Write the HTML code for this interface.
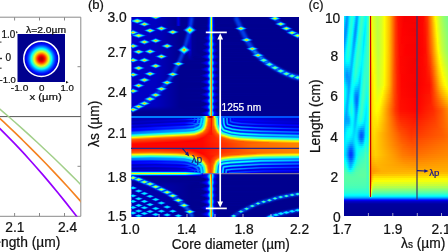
<!DOCTYPE html><html><head><meta charset="utf-8"><title>figure</title><style>html,body{margin:0;padding:0;background:#fff;overflow:hidden}svg{display:block}text{font-family:"Liberation Sans",Arial,sans-serif}</style></head><body>
<svg width="448" height="252" viewBox="0 0 448 252">
<defs>
<clipPath id="cpa"><rect x="0" y="17" width="80.5" height="199.5"/></clipPath>
<linearGradient id="b0"><stop offset="0.003" stop-color="#0000c7"/><stop offset="0.146" stop-color="#0000c1"/><stop offset="0.265" stop-color="#000094"/><stop offset="0.271" stop-color="#0000a6"/><stop offset="0.277" stop-color="#0000cc"/><stop offset="0.283" stop-color="#0000e0"/><stop offset="0.295" stop-color="#0000a0"/><stop offset="0.301" stop-color="#000092"/><stop offset="0.330" stop-color="#000093"/><stop offset="0.342" stop-color="#0000b7"/><stop offset="0.348" stop-color="#0000cb"/><stop offset="0.354" stop-color="#0000c5"/><stop offset="0.366" stop-color="#000098"/><stop offset="0.396" stop-color="#00008f"/><stop offset="0.449" stop-color="#00008f"/><stop offset="0.455" stop-color="#0000a0"/><stop offset="0.461" stop-color="#0000cc"/><stop offset="0.467" stop-color="#002eff"/><stop offset="0.473" stop-color="#0ffff0"/><stop offset="0.479" stop-color="#f4ff0b"/><stop offset="0.485" stop-color="#007dff"/><stop offset="0.491" stop-color="#0000e4"/><stop offset="0.497" stop-color="#0000af"/><stop offset="0.503" stop-color="#000090"/><stop offset="0.997" stop-color="#00008f"/></linearGradient>
<linearGradient id="b1"><stop offset="0.003" stop-color="#0000c7"/><stop offset="0.146" stop-color="#0000c1"/><stop offset="0.265" stop-color="#000094"/><stop offset="0.271" stop-color="#0000a6"/><stop offset="0.277" stop-color="#0000cc"/><stop offset="0.283" stop-color="#0000e0"/><stop offset="0.295" stop-color="#0000a0"/><stop offset="0.301" stop-color="#000092"/><stop offset="0.330" stop-color="#000093"/><stop offset="0.342" stop-color="#0000b7"/><stop offset="0.348" stop-color="#0000cb"/><stop offset="0.354" stop-color="#0000c5"/><stop offset="0.366" stop-color="#000098"/><stop offset="0.396" stop-color="#00008f"/><stop offset="0.449" stop-color="#00008f"/><stop offset="0.455" stop-color="#0000a0"/><stop offset="0.461" stop-color="#0000cc"/><stop offset="0.467" stop-color="#002fff"/><stop offset="0.473" stop-color="#12ffed"/><stop offset="0.479" stop-color="#f7ff08"/><stop offset="0.485" stop-color="#007eff"/><stop offset="0.491" stop-color="#0000e4"/><stop offset="0.497" stop-color="#0000af"/><stop offset="0.503" stop-color="#000091"/><stop offset="0.997" stop-color="#00008f"/></linearGradient>
<linearGradient id="b2"><stop offset="0.003" stop-color="#0000c7"/><stop offset="0.146" stop-color="#0000c1"/><stop offset="0.265" stop-color="#000094"/><stop offset="0.271" stop-color="#0000a6"/><stop offset="0.277" stop-color="#0000cc"/><stop offset="0.283" stop-color="#0000e0"/><stop offset="0.295" stop-color="#0000a0"/><stop offset="0.301" stop-color="#000092"/><stop offset="0.330" stop-color="#000093"/><stop offset="0.342" stop-color="#0000b7"/><stop offset="0.348" stop-color="#0000cb"/><stop offset="0.354" stop-color="#0000c5"/><stop offset="0.366" stop-color="#000098"/><stop offset="0.396" stop-color="#00008f"/><stop offset="0.449" stop-color="#00008f"/><stop offset="0.455" stop-color="#0000a1"/><stop offset="0.461" stop-color="#0000cd"/><stop offset="0.467" stop-color="#0030ff"/><stop offset="0.473" stop-color="#14ffeb"/><stop offset="0.479" stop-color="#f9ff06"/><stop offset="0.485" stop-color="#007fff"/><stop offset="0.491" stop-color="#0000e4"/><stop offset="0.497" stop-color="#0000af"/><stop offset="0.503" stop-color="#000091"/><stop offset="0.997" stop-color="#00008f"/></linearGradient>
<linearGradient id="b3"><stop offset="0.003" stop-color="#0000c7"/><stop offset="0.146" stop-color="#0000c1"/><stop offset="0.265" stop-color="#000094"/><stop offset="0.271" stop-color="#0000a6"/><stop offset="0.277" stop-color="#0000cc"/><stop offset="0.283" stop-color="#0000e0"/><stop offset="0.295" stop-color="#0000a0"/><stop offset="0.301" stop-color="#000092"/><stop offset="0.330" stop-color="#000093"/><stop offset="0.342" stop-color="#0000b7"/><stop offset="0.348" stop-color="#0000cb"/><stop offset="0.354" stop-color="#0000c5"/><stop offset="0.366" stop-color="#000098"/><stop offset="0.396" stop-color="#00008f"/><stop offset="0.449" stop-color="#00008f"/><stop offset="0.455" stop-color="#0000a1"/><stop offset="0.461" stop-color="#0000cd"/><stop offset="0.467" stop-color="#0031ff"/><stop offset="0.473" stop-color="#17ffe8"/><stop offset="0.479" stop-color="#fcff03"/><stop offset="0.485" stop-color="#0080ff"/><stop offset="0.491" stop-color="#0000e5"/><stop offset="0.497" stop-color="#0000b0"/><stop offset="0.503" stop-color="#000091"/><stop offset="0.997" stop-color="#00008f"/></linearGradient>
<linearGradient id="b4"><stop offset="0.003" stop-color="#0000c7"/><stop offset="0.146" stop-color="#0000c1"/><stop offset="0.265" stop-color="#000094"/><stop offset="0.271" stop-color="#0000a6"/><stop offset="0.277" stop-color="#0000cc"/><stop offset="0.283" stop-color="#0000e0"/><stop offset="0.295" stop-color="#0000a0"/><stop offset="0.301" stop-color="#000092"/><stop offset="0.330" stop-color="#000093"/><stop offset="0.342" stop-color="#0000b7"/><stop offset="0.348" stop-color="#0000cb"/><stop offset="0.354" stop-color="#0000c5"/><stop offset="0.366" stop-color="#000098"/><stop offset="0.396" stop-color="#00008f"/><stop offset="0.449" stop-color="#00008f"/><stop offset="0.455" stop-color="#0000a1"/><stop offset="0.461" stop-color="#0000ce"/><stop offset="0.467" stop-color="#0032ff"/><stop offset="0.473" stop-color="#1affe5"/><stop offset="0.479" stop-color="#feff01"/><stop offset="0.485" stop-color="#0080ff"/><stop offset="0.491" stop-color="#0000e5"/><stop offset="0.497" stop-color="#0000b0"/><stop offset="0.503" stop-color="#000091"/><stop offset="0.997" stop-color="#00008f"/></linearGradient>
<linearGradient id="b5"><stop offset="0.003" stop-color="#0000c7"/><stop offset="0.146" stop-color="#0000c1"/><stop offset="0.265" stop-color="#000094"/><stop offset="0.271" stop-color="#0000a6"/><stop offset="0.277" stop-color="#0000cc"/><stop offset="0.283" stop-color="#0000e0"/><stop offset="0.295" stop-color="#0000a0"/><stop offset="0.301" stop-color="#000092"/><stop offset="0.330" stop-color="#000093"/><stop offset="0.342" stop-color="#0000b7"/><stop offset="0.348" stop-color="#0000cb"/><stop offset="0.354" stop-color="#0000c5"/><stop offset="0.366" stop-color="#000098"/><stop offset="0.396" stop-color="#00008f"/><stop offset="0.449" stop-color="#00008f"/><stop offset="0.455" stop-color="#0000a2"/><stop offset="0.461" stop-color="#0000ce"/><stop offset="0.467" stop-color="#0033ff"/><stop offset="0.473" stop-color="#1cffe3"/><stop offset="0.479" stop-color="#fffd00"/><stop offset="0.485" stop-color="#0081ff"/><stop offset="0.491" stop-color="#0000e6"/><stop offset="0.497" stop-color="#0000b1"/><stop offset="0.503" stop-color="#000092"/><stop offset="0.997" stop-color="#00008f"/></linearGradient>
<linearGradient id="b6"><stop offset="0.003" stop-color="#0000c7"/><stop offset="0.146" stop-color="#0000c1"/><stop offset="0.265" stop-color="#000094"/><stop offset="0.271" stop-color="#0000a6"/><stop offset="0.277" stop-color="#0000cc"/><stop offset="0.283" stop-color="#0000e0"/><stop offset="0.295" stop-color="#0000a0"/><stop offset="0.301" stop-color="#000092"/><stop offset="0.330" stop-color="#000093"/><stop offset="0.342" stop-color="#0000b7"/><stop offset="0.348" stop-color="#0000cb"/><stop offset="0.354" stop-color="#0000c5"/><stop offset="0.366" stop-color="#000098"/><stop offset="0.396" stop-color="#00008f"/><stop offset="0.449" stop-color="#00008f"/><stop offset="0.455" stop-color="#0000a5"/><stop offset="0.461" stop-color="#0000d3"/><stop offset="0.467" stop-color="#0039ff"/><stop offset="0.473" stop-color="#1fffe0"/><stop offset="0.479" stop-color="#fffb00"/><stop offset="0.485" stop-color="#0085ff"/><stop offset="0.491" stop-color="#0000e8"/><stop offset="0.497" stop-color="#0000b3"/><stop offset="0.503" stop-color="#000093"/><stop offset="0.997" stop-color="#00008f"/></linearGradient>
<linearGradient id="b7"><stop offset="0.003" stop-color="#0000c7"/><stop offset="0.146" stop-color="#0000c1"/><stop offset="0.265" stop-color="#000094"/><stop offset="0.271" stop-color="#0000a6"/><stop offset="0.277" stop-color="#0000cc"/><stop offset="0.283" stop-color="#0000e0"/><stop offset="0.295" stop-color="#0000a0"/><stop offset="0.301" stop-color="#000092"/><stop offset="0.330" stop-color="#000093"/><stop offset="0.342" stop-color="#0000b7"/><stop offset="0.348" stop-color="#0000cb"/><stop offset="0.354" stop-color="#0000c5"/><stop offset="0.366" stop-color="#000098"/><stop offset="0.396" stop-color="#00008f"/><stop offset="0.449" stop-color="#000092"/><stop offset="0.455" stop-color="#0000ae"/><stop offset="0.461" stop-color="#0000dc"/><stop offset="0.467" stop-color="#0046ff"/><stop offset="0.473" stop-color="#22ffdd"/><stop offset="0.479" stop-color="#fff900"/><stop offset="0.485" stop-color="#008cff"/><stop offset="0.491" stop-color="#0000ed"/><stop offset="0.497" stop-color="#0000b8"/><stop offset="0.503" stop-color="#000097"/><stop offset="0.527" stop-color="#00008f"/><stop offset="0.997" stop-color="#00008f"/></linearGradient>
<linearGradient id="b8"><stop offset="0.003" stop-color="#0000c7"/><stop offset="0.146" stop-color="#0000c1"/><stop offset="0.265" stop-color="#000094"/><stop offset="0.271" stop-color="#0000a6"/><stop offset="0.277" stop-color="#0000cc"/><stop offset="0.283" stop-color="#0000e0"/><stop offset="0.295" stop-color="#0000a0"/><stop offset="0.301" stop-color="#000092"/><stop offset="0.330" stop-color="#000093"/><stop offset="0.342" stop-color="#0000b7"/><stop offset="0.348" stop-color="#0000cb"/><stop offset="0.354" stop-color="#0000c5"/><stop offset="0.366" stop-color="#000098"/><stop offset="0.396" stop-color="#00008f"/><stop offset="0.443" stop-color="#00008f"/><stop offset="0.449" stop-color="#000097"/><stop offset="0.455" stop-color="#0000b4"/><stop offset="0.461" stop-color="#0000e3"/><stop offset="0.467" stop-color="#004fff"/><stop offset="0.473" stop-color="#24ffdb"/><stop offset="0.479" stop-color="#fff600"/><stop offset="0.485" stop-color="#0091ff"/><stop offset="0.491" stop-color="#0000f0"/><stop offset="0.497" stop-color="#0000bc"/><stop offset="0.503" stop-color="#000099"/><stop offset="0.515" stop-color="#00008f"/><stop offset="0.997" stop-color="#00008f"/></linearGradient>
<linearGradient id="b9"><stop offset="0.003" stop-color="#0000c7"/><stop offset="0.146" stop-color="#0000c1"/><stop offset="0.295" stop-color="#00008f"/><stop offset="0.330" stop-color="#000093"/><stop offset="0.342" stop-color="#0000b7"/><stop offset="0.348" stop-color="#0000cb"/><stop offset="0.354" stop-color="#0000c5"/><stop offset="0.366" stop-color="#000098"/><stop offset="0.396" stop-color="#00008f"/><stop offset="0.449" stop-color="#000095"/><stop offset="0.455" stop-color="#0000b2"/><stop offset="0.461" stop-color="#0000e0"/><stop offset="0.467" stop-color="#004cff"/><stop offset="0.473" stop-color="#27ffd8"/><stop offset="0.479" stop-color="#fff400"/><stop offset="0.485" stop-color="#0090ff"/><stop offset="0.491" stop-color="#0000ef"/><stop offset="0.497" stop-color="#0000bb"/><stop offset="0.503" stop-color="#000098"/><stop offset="0.515" stop-color="#00008f"/><stop offset="0.997" stop-color="#00008f"/></linearGradient>
<linearGradient id="b10"><stop offset="0.003" stop-color="#0000c7"/><stop offset="0.146" stop-color="#0000c1"/><stop offset="0.295" stop-color="#00008f"/><stop offset="0.330" stop-color="#000093"/><stop offset="0.342" stop-color="#0000b7"/><stop offset="0.348" stop-color="#0000cb"/><stop offset="0.354" stop-color="#0000c5"/><stop offset="0.366" stop-color="#000098"/><stop offset="0.396" stop-color="#00008f"/><stop offset="0.449" stop-color="#00008f"/><stop offset="0.455" stop-color="#0000a8"/><stop offset="0.461" stop-color="#0000d6"/><stop offset="0.467" stop-color="#003fff"/><stop offset="0.473" stop-color="#2affd5"/><stop offset="0.479" stop-color="#fff100"/><stop offset="0.485" stop-color="#0089ff"/><stop offset="0.491" stop-color="#0000eb"/><stop offset="0.497" stop-color="#0000b6"/><stop offset="0.503" stop-color="#000095"/><stop offset="0.765" stop-color="#00008f"/><stop offset="0.997" stop-color="#00008f"/></linearGradient>
<linearGradient id="b11"><stop offset="0.003" stop-color="#0000c7"/><stop offset="0.146" stop-color="#0000c1"/><stop offset="0.295" stop-color="#00008f"/><stop offset="0.330" stop-color="#000093"/><stop offset="0.342" stop-color="#0000b7"/><stop offset="0.348" stop-color="#0000cb"/><stop offset="0.354" stop-color="#0000c5"/><stop offset="0.366" stop-color="#000098"/><stop offset="0.396" stop-color="#00008f"/><stop offset="0.449" stop-color="#00008f"/><stop offset="0.455" stop-color="#0000a4"/><stop offset="0.461" stop-color="#0000d1"/><stop offset="0.467" stop-color="#0039ff"/><stop offset="0.473" stop-color="#2dffd2"/><stop offset="0.479" stop-color="#ffef00"/><stop offset="0.485" stop-color="#0086ff"/><stop offset="0.491" stop-color="#0000e9"/><stop offset="0.497" stop-color="#0000b3"/><stop offset="0.503" stop-color="#000094"/><stop offset="0.997" stop-color="#00008f"/></linearGradient>
<linearGradient id="b12"><stop offset="0.003" stop-color="#0000c7"/><stop offset="0.146" stop-color="#0000c1"/><stop offset="0.295" stop-color="#00008f"/><stop offset="0.330" stop-color="#000093"/><stop offset="0.342" stop-color="#0000b7"/><stop offset="0.348" stop-color="#0000cb"/><stop offset="0.354" stop-color="#0000c5"/><stop offset="0.366" stop-color="#000098"/><stop offset="0.396" stop-color="#00008f"/><stop offset="0.449" stop-color="#000093"/><stop offset="0.455" stop-color="#0000b0"/><stop offset="0.461" stop-color="#0000de"/><stop offset="0.467" stop-color="#004aff"/><stop offset="0.473" stop-color="#2fffd0"/><stop offset="0.479" stop-color="#ffed00"/><stop offset="0.485" stop-color="#008fff"/><stop offset="0.491" stop-color="#0000ef"/><stop offset="0.497" stop-color="#0000ba"/><stop offset="0.503" stop-color="#000098"/><stop offset="0.515" stop-color="#00008f"/><stop offset="0.997" stop-color="#00008f"/></linearGradient>
<linearGradient id="b13"><stop offset="0.003" stop-color="#0000c7"/><stop offset="0.146" stop-color="#0000c1"/><stop offset="0.295" stop-color="#00008f"/><stop offset="0.330" stop-color="#000093"/><stop offset="0.342" stop-color="#0000b7"/><stop offset="0.348" stop-color="#0000cb"/><stop offset="0.354" stop-color="#0000c5"/><stop offset="0.366" stop-color="#000098"/><stop offset="0.396" stop-color="#00008f"/><stop offset="0.443" stop-color="#000090"/><stop offset="0.449" stop-color="#0000a4"/><stop offset="0.461" stop-color="#0000f3"/><stop offset="0.467" stop-color="#0067ff"/><stop offset="0.473" stop-color="#32ffcd"/><stop offset="0.479" stop-color="#ffea00"/><stop offset="0.485" stop-color="#009fff"/><stop offset="0.491" stop-color="#0000fa"/><stop offset="0.497" stop-color="#0000c7"/><stop offset="0.503" stop-color="#0000a2"/><stop offset="0.509" stop-color="#00008f"/><stop offset="0.997" stop-color="#00008f"/></linearGradient>
<linearGradient id="b14"><stop offset="0.003" stop-color="#0000c7"/><stop offset="0.146" stop-color="#0000c1"/><stop offset="0.295" stop-color="#00008f"/><stop offset="0.330" stop-color="#000093"/><stop offset="0.342" stop-color="#0000b7"/><stop offset="0.348" stop-color="#0000cb"/><stop offset="0.354" stop-color="#0000c5"/><stop offset="0.366" stop-color="#000098"/><stop offset="0.396" stop-color="#00008f"/><stop offset="0.438" stop-color="#00008f"/><stop offset="0.443" stop-color="#000098"/><stop offset="0.455" stop-color="#0000d4"/><stop offset="0.461" stop-color="#0000ff"/><stop offset="0.467" stop-color="#0079ff"/><stop offset="0.473" stop-color="#35ffca"/><stop offset="0.479" stop-color="#ffe800"/><stop offset="0.485" stop-color="#00a9ff"/><stop offset="0.491" stop-color="#0007ff"/><stop offset="0.503" stop-color="#0000a8"/><stop offset="0.509" stop-color="#000091"/><stop offset="0.997" stop-color="#00008f"/></linearGradient>
<linearGradient id="b15"><stop offset="0.003" stop-color="#0000c7"/><stop offset="0.146" stop-color="#0000c1"/><stop offset="0.295" stop-color="#00008f"/><stop offset="0.330" stop-color="#000093"/><stop offset="0.342" stop-color="#0000b7"/><stop offset="0.348" stop-color="#0000cb"/><stop offset="0.354" stop-color="#0000c5"/><stop offset="0.366" stop-color="#000098"/><stop offset="0.396" stop-color="#00008f"/><stop offset="0.443" stop-color="#000095"/><stop offset="0.449" stop-color="#0000ab"/><stop offset="0.461" stop-color="#0000fa"/><stop offset="0.467" stop-color="#0072ff"/><stop offset="0.473" stop-color="#37ffc8"/><stop offset="0.479" stop-color="#ffe500"/><stop offset="0.485" stop-color="#00a5ff"/><stop offset="0.491" stop-color="#0002ff"/><stop offset="0.497" stop-color="#0000cb"/><stop offset="0.503" stop-color="#0000a6"/><stop offset="0.509" stop-color="#00008f"/><stop offset="0.997" stop-color="#00008f"/></linearGradient>
<linearGradient id="b16"><stop offset="0.003" stop-color="#0000c7"/><stop offset="0.146" stop-color="#0000c1"/><stop offset="0.295" stop-color="#00008f"/><stop offset="0.330" stop-color="#000093"/><stop offset="0.342" stop-color="#0000b7"/><stop offset="0.348" stop-color="#0000cb"/><stop offset="0.354" stop-color="#0000c5"/><stop offset="0.366" stop-color="#000098"/><stop offset="0.396" stop-color="#00008f"/><stop offset="0.443" stop-color="#00008f"/><stop offset="0.449" stop-color="#000099"/><stop offset="0.455" stop-color="#0000b7"/><stop offset="0.461" stop-color="#0000e6"/><stop offset="0.467" stop-color="#0056ff"/><stop offset="0.473" stop-color="#3affc5"/><stop offset="0.479" stop-color="#ffe300"/><stop offset="0.485" stop-color="#0096ff"/><stop offset="0.491" stop-color="#0000f3"/><stop offset="0.497" stop-color="#0000bf"/><stop offset="0.503" stop-color="#00009c"/><stop offset="0.509" stop-color="#00008f"/><stop offset="0.997" stop-color="#00008f"/></linearGradient>
<linearGradient id="b17"><stop offset="0.003" stop-color="#0000c7"/><stop offset="0.146" stop-color="#0000c1"/><stop offset="0.295" stop-color="#00008f"/><stop offset="0.330" stop-color="#000093"/><stop offset="0.342" stop-color="#0000b7"/><stop offset="0.348" stop-color="#0000cb"/><stop offset="0.354" stop-color="#0000c5"/><stop offset="0.366" stop-color="#000098"/><stop offset="0.396" stop-color="#00008f"/><stop offset="0.449" stop-color="#00008f"/><stop offset="0.455" stop-color="#0000a7"/><stop offset="0.461" stop-color="#0000d4"/><stop offset="0.467" stop-color="#003fff"/><stop offset="0.473" stop-color="#3dffc2"/><stop offset="0.479" stop-color="#ffe100"/><stop offset="0.485" stop-color="#008bff"/><stop offset="0.491" stop-color="#0000eb"/><stop offset="0.497" stop-color="#0000b6"/><stop offset="0.503" stop-color="#000095"/><stop offset="0.574" stop-color="#00008f"/><stop offset="0.997" stop-color="#00008f"/></linearGradient>
<linearGradient id="b18"><stop offset="0.003" stop-color="#0000c7"/><stop offset="0.146" stop-color="#0000c1"/><stop offset="0.295" stop-color="#00008f"/><stop offset="0.330" stop-color="#000093"/><stop offset="0.342" stop-color="#0000b7"/><stop offset="0.348" stop-color="#0000cb"/><stop offset="0.354" stop-color="#0000c5"/><stop offset="0.366" stop-color="#000098"/><stop offset="0.396" stop-color="#00008f"/><stop offset="0.449" stop-color="#000095"/><stop offset="0.455" stop-color="#0000b2"/><stop offset="0.461" stop-color="#0000e1"/><stop offset="0.467" stop-color="#0050ff"/><stop offset="0.473" stop-color="#3fffc0"/><stop offset="0.479" stop-color="#ffde00"/><stop offset="0.485" stop-color="#0094ff"/><stop offset="0.491" stop-color="#0000f1"/><stop offset="0.497" stop-color="#0000bd"/><stop offset="0.503" stop-color="#00009a"/><stop offset="0.515" stop-color="#00008f"/><stop offset="0.997" stop-color="#00008f"/></linearGradient>
<linearGradient id="b19"><stop offset="0.003" stop-color="#0000c7"/><stop offset="0.146" stop-color="#0000c1"/><stop offset="0.295" stop-color="#00008f"/><stop offset="0.330" stop-color="#000093"/><stop offset="0.342" stop-color="#0000b7"/><stop offset="0.348" stop-color="#0000cb"/><stop offset="0.354" stop-color="#0000c5"/><stop offset="0.366" stop-color="#000098"/><stop offset="0.396" stop-color="#00008f"/><stop offset="0.438" stop-color="#00008f"/><stop offset="0.443" stop-color="#000099"/><stop offset="0.455" stop-color="#0000d4"/><stop offset="0.461" stop-color="#0000ff"/><stop offset="0.467" stop-color="#007bff"/><stop offset="0.473" stop-color="#42ffbd"/><stop offset="0.479" stop-color="#ffdc00"/><stop offset="0.485" stop-color="#00abff"/><stop offset="0.491" stop-color="#000aff"/><stop offset="0.503" stop-color="#0000a9"/><stop offset="0.509" stop-color="#000092"/><stop offset="0.997" stop-color="#00008f"/></linearGradient>
<linearGradient id="b20"><stop offset="0.003" stop-color="#0000c7"/><stop offset="0.146" stop-color="#0000c1"/><stop offset="0.295" stop-color="#00008f"/><stop offset="0.330" stop-color="#000093"/><stop offset="0.342" stop-color="#0000b7"/><stop offset="0.348" stop-color="#0000cb"/><stop offset="0.354" stop-color="#0000c5"/><stop offset="0.366" stop-color="#000098"/><stop offset="0.396" stop-color="#00008f"/><stop offset="0.432" stop-color="#00008f"/><stop offset="0.443" stop-color="#0000ac"/><stop offset="0.455" stop-color="#0000eb"/><stop offset="0.461" stop-color="#0012ff"/><stop offset="0.467" stop-color="#0097ff"/><stop offset="0.473" stop-color="#45ffba"/><stop offset="0.479" stop-color="#ffd900"/><stop offset="0.485" stop-color="#00bbff"/><stop offset="0.491" stop-color="#0023ff"/><stop offset="0.497" stop-color="#0000de"/><stop offset="0.503" stop-color="#0000b7"/><stop offset="0.509" stop-color="#00009c"/><stop offset="0.515" stop-color="#00008f"/><stop offset="0.997" stop-color="#00008f"/></linearGradient>
<linearGradient id="b21"><stop offset="0.003" stop-color="#0000c7"/><stop offset="0.146" stop-color="#0000c1"/><stop offset="0.295" stop-color="#00008f"/><stop offset="0.330" stop-color="#000093"/><stop offset="0.342" stop-color="#0000b7"/><stop offset="0.348" stop-color="#0000cb"/><stop offset="0.354" stop-color="#0000c5"/><stop offset="0.366" stop-color="#000098"/><stop offset="0.396" stop-color="#00008f"/><stop offset="0.432" stop-color="#00008f"/><stop offset="0.443" stop-color="#0000ab"/><stop offset="0.455" stop-color="#0000e9"/><stop offset="0.461" stop-color="#0010ff"/><stop offset="0.467" stop-color="#0095ff"/><stop offset="0.473" stop-color="#48ffb7"/><stop offset="0.479" stop-color="#ffd700"/><stop offset="0.485" stop-color="#00baff"/><stop offset="0.491" stop-color="#0021ff"/><stop offset="0.497" stop-color="#0000dd"/><stop offset="0.503" stop-color="#0000b6"/><stop offset="0.509" stop-color="#00009b"/><stop offset="0.515" stop-color="#00008f"/><stop offset="0.997" stop-color="#00008f"/></linearGradient>
<linearGradient id="b22"><stop offset="0.003" stop-color="#0000c7"/><stop offset="0.146" stop-color="#0000c1"/><stop offset="0.295" stop-color="#00008f"/><stop offset="0.330" stop-color="#000093"/><stop offset="0.342" stop-color="#0000b7"/><stop offset="0.348" stop-color="#0000cb"/><stop offset="0.354" stop-color="#0000c5"/><stop offset="0.366" stop-color="#000098"/><stop offset="0.396" stop-color="#00008f"/><stop offset="0.443" stop-color="#000095"/><stop offset="0.449" stop-color="#0000ab"/><stop offset="0.461" stop-color="#0000fa"/><stop offset="0.467" stop-color="#0074ff"/><stop offset="0.473" stop-color="#4affb5"/><stop offset="0.479" stop-color="#ffd500"/><stop offset="0.485" stop-color="#00a8ff"/><stop offset="0.491" stop-color="#0006ff"/><stop offset="0.503" stop-color="#0000a7"/><stop offset="0.509" stop-color="#000090"/><stop offset="0.997" stop-color="#00008f"/></linearGradient>
<linearGradient id="b23"><stop offset="0.003" stop-color="#0000c7"/><stop offset="0.146" stop-color="#0000c1"/><stop offset="0.295" stop-color="#00008f"/><stop offset="0.330" stop-color="#000093"/><stop offset="0.342" stop-color="#0000b7"/><stop offset="0.348" stop-color="#0000cb"/><stop offset="0.354" stop-color="#0000c5"/><stop offset="0.366" stop-color="#000098"/><stop offset="0.396" stop-color="#00008f"/><stop offset="0.449" stop-color="#000092"/><stop offset="0.455" stop-color="#0000ad"/><stop offset="0.461" stop-color="#0000dc"/><stop offset="0.467" stop-color="#004bff"/><stop offset="0.473" stop-color="#4dffb2"/><stop offset="0.479" stop-color="#ffd200"/><stop offset="0.485" stop-color="#0093ff"/><stop offset="0.491" stop-color="#0000f0"/><stop offset="0.497" stop-color="#0000bb"/><stop offset="0.503" stop-color="#000099"/><stop offset="0.515" stop-color="#00008f"/><stop offset="0.997" stop-color="#00008f"/></linearGradient>
<linearGradient id="b24"><stop offset="0.003" stop-color="#0000c7"/><stop offset="0.146" stop-color="#0000c1"/><stop offset="0.295" stop-color="#00008f"/><stop offset="0.330" stop-color="#000093"/><stop offset="0.342" stop-color="#0000b7"/><stop offset="0.348" stop-color="#0000cb"/><stop offset="0.354" stop-color="#0000c5"/><stop offset="0.366" stop-color="#000098"/><stop offset="0.396" stop-color="#00008f"/><stop offset="0.449" stop-color="#000094"/><stop offset="0.455" stop-color="#0000b0"/><stop offset="0.461" stop-color="#0000df"/><stop offset="0.467" stop-color="#004fff"/><stop offset="0.473" stop-color="#50ffaf"/><stop offset="0.479" stop-color="#ffd000"/><stop offset="0.485" stop-color="#0095ff"/><stop offset="0.491" stop-color="#0000f2"/><stop offset="0.497" stop-color="#0000bd"/><stop offset="0.503" stop-color="#00009a"/><stop offset="0.515" stop-color="#00008f"/><stop offset="0.997" stop-color="#00008f"/></linearGradient>
<linearGradient id="b25"><stop offset="0.003" stop-color="#0000c7"/><stop offset="0.146" stop-color="#0000c1"/><stop offset="0.295" stop-color="#00008f"/><stop offset="0.330" stop-color="#000093"/><stop offset="0.342" stop-color="#0000b7"/><stop offset="0.348" stop-color="#0000cb"/><stop offset="0.354" stop-color="#0000c5"/><stop offset="0.366" stop-color="#000098"/><stop offset="0.396" stop-color="#00008f"/><stop offset="0.438" stop-color="#00008f"/><stop offset="0.449" stop-color="#0000b6"/><stop offset="0.461" stop-color="#0004ff"/><stop offset="0.467" stop-color="#0083ff"/><stop offset="0.473" stop-color="#52ffad"/><stop offset="0.479" stop-color="#ffcd00"/><stop offset="0.485" stop-color="#00b0ff"/><stop offset="0.491" stop-color="#0012ff"/><stop offset="0.497" stop-color="#0000d4"/><stop offset="0.503" stop-color="#0000ad"/><stop offset="0.509" stop-color="#000094"/><stop offset="0.997" stop-color="#00008f"/></linearGradient>
<linearGradient id="b26"><stop offset="0.003" stop-color="#0000c7"/><stop offset="0.146" stop-color="#0000c1"/><stop offset="0.295" stop-color="#00008f"/><stop offset="0.330" stop-color="#000093"/><stop offset="0.342" stop-color="#0000b7"/><stop offset="0.348" stop-color="#0000cb"/><stop offset="0.354" stop-color="#0000c5"/><stop offset="0.366" stop-color="#000098"/><stop offset="0.396" stop-color="#00008f"/><stop offset="0.426" stop-color="#00008f"/><stop offset="0.438" stop-color="#0000a6"/><stop offset="0.455" stop-color="#0000fa"/><stop offset="0.461" stop-color="#002dff"/><stop offset="0.467" stop-color="#00abff"/><stop offset="0.473" stop-color="#55ffaa"/><stop offset="0.479" stop-color="#ffcb00"/><stop offset="0.485" stop-color="#00c7ff"/><stop offset="0.491" stop-color="#0038ff"/><stop offset="0.497" stop-color="#0000e9"/><stop offset="0.509" stop-color="#0000a5"/><stop offset="0.515" stop-color="#000092"/><stop offset="0.997" stop-color="#00008f"/></linearGradient>
<linearGradient id="b27"><stop offset="0.003" stop-color="#0000c7"/><stop offset="0.146" stop-color="#0000c1"/><stop offset="0.295" stop-color="#00008f"/><stop offset="0.330" stop-color="#000093"/><stop offset="0.342" stop-color="#0000b7"/><stop offset="0.348" stop-color="#0000cb"/><stop offset="0.354" stop-color="#0000c5"/><stop offset="0.366" stop-color="#000098"/><stop offset="0.396" stop-color="#00008f"/><stop offset="0.426" stop-color="#00008f"/><stop offset="0.443" stop-color="#0000c3"/><stop offset="0.455" stop-color="#0001ff"/><stop offset="0.461" stop-color="#0038ff"/><stop offset="0.467" stop-color="#00b2ff"/><stop offset="0.473" stop-color="#58ffa7"/><stop offset="0.479" stop-color="#ffc900"/><stop offset="0.485" stop-color="#00ccff"/><stop offset="0.491" stop-color="#0040ff"/><stop offset="0.497" stop-color="#0000ed"/><stop offset="0.509" stop-color="#0000a9"/><stop offset="0.515" stop-color="#000095"/><stop offset="0.908" stop-color="#00008f"/><stop offset="0.997" stop-color="#00008f"/></linearGradient>
<linearGradient id="b28"><stop offset="0.003" stop-color="#0000c7"/><stop offset="0.146" stop-color="#0000c1"/><stop offset="0.295" stop-color="#00008f"/><stop offset="0.330" stop-color="#000093"/><stop offset="0.342" stop-color="#0000b7"/><stop offset="0.348" stop-color="#0000cb"/><stop offset="0.354" stop-color="#0000c5"/><stop offset="0.366" stop-color="#000098"/><stop offset="0.396" stop-color="#00008f"/><stop offset="0.432" stop-color="#00008f"/><stop offset="0.443" stop-color="#0000aa"/><stop offset="0.455" stop-color="#0000e9"/><stop offset="0.461" stop-color="#0010ff"/><stop offset="0.467" stop-color="#0096ff"/><stop offset="0.473" stop-color="#5affa5"/><stop offset="0.479" stop-color="#ffc600"/><stop offset="0.485" stop-color="#00bbff"/><stop offset="0.491" stop-color="#0024ff"/><stop offset="0.497" stop-color="#0000de"/><stop offset="0.503" stop-color="#0000b7"/><stop offset="0.509" stop-color="#00009b"/><stop offset="0.515" stop-color="#00008f"/><stop offset="0.997" stop-color="#00008f"/></linearGradient>
<linearGradient id="b29"><stop offset="0.003" stop-color="#0000c7"/><stop offset="0.146" stop-color="#0000c1"/><stop offset="0.295" stop-color="#00008f"/><stop offset="0.330" stop-color="#000093"/><stop offset="0.342" stop-color="#0000b7"/><stop offset="0.348" stop-color="#0000cb"/><stop offset="0.354" stop-color="#0000c5"/><stop offset="0.366" stop-color="#000098"/><stop offset="0.396" stop-color="#00008f"/><stop offset="0.443" stop-color="#00008f"/><stop offset="0.449" stop-color="#00009c"/><stop offset="0.455" stop-color="#0000bc"/><stop offset="0.461" stop-color="#0000ea"/><stop offset="0.467" stop-color="#005fff"/><stop offset="0.473" stop-color="#5dffa2"/><stop offset="0.479" stop-color="#ffc400"/><stop offset="0.485" stop-color="#009fff"/><stop offset="0.491" stop-color="#0000f9"/><stop offset="0.497" stop-color="#0000c4"/><stop offset="0.503" stop-color="#0000a0"/><stop offset="0.509" stop-color="#00008f"/><stop offset="0.997" stop-color="#00008f"/></linearGradient>
<linearGradient id="b30"><stop offset="0.003" stop-color="#0000c7"/><stop offset="0.146" stop-color="#0000c1"/><stop offset="0.295" stop-color="#00008f"/><stop offset="0.330" stop-color="#000093"/><stop offset="0.342" stop-color="#0000b7"/><stop offset="0.348" stop-color="#0000cb"/><stop offset="0.354" stop-color="#0000c5"/><stop offset="0.366" stop-color="#000098"/><stop offset="0.396" stop-color="#00008f"/><stop offset="0.449" stop-color="#000092"/><stop offset="0.455" stop-color="#0000ad"/><stop offset="0.461" stop-color="#0000dc"/><stop offset="0.467" stop-color="#004dff"/><stop offset="0.473" stop-color="#60ff9f"/><stop offset="0.479" stop-color="#ffc100"/><stop offset="0.485" stop-color="#0096ff"/><stop offset="0.491" stop-color="#0000f1"/><stop offset="0.497" stop-color="#0000bd"/><stop offset="0.503" stop-color="#00009a"/><stop offset="0.515" stop-color="#00008f"/><stop offset="0.997" stop-color="#00008f"/></linearGradient>
<linearGradient id="b31"><stop offset="0.003" stop-color="#0000c7"/><stop offset="0.146" stop-color="#0000c1"/><stop offset="0.295" stop-color="#00008f"/><stop offset="0.330" stop-color="#000093"/><stop offset="0.342" stop-color="#0000b7"/><stop offset="0.348" stop-color="#0000cb"/><stop offset="0.354" stop-color="#0000c5"/><stop offset="0.366" stop-color="#000098"/><stop offset="0.396" stop-color="#00008f"/><stop offset="0.438" stop-color="#00008f"/><stop offset="0.443" stop-color="#00009b"/><stop offset="0.455" stop-color="#0000d7"/><stop offset="0.461" stop-color="#0003ff"/><stop offset="0.467" stop-color="#0082ff"/><stop offset="0.473" stop-color="#62ff9d"/><stop offset="0.479" stop-color="#ffbf00"/><stop offset="0.485" stop-color="#00b1ff"/><stop offset="0.491" stop-color="#0013ff"/><stop offset="0.497" stop-color="#0000d4"/><stop offset="0.503" stop-color="#0000ad"/><stop offset="0.509" stop-color="#000094"/><stop offset="0.997" stop-color="#00008f"/></linearGradient>
<linearGradient id="b32"><stop offset="0.003" stop-color="#0000c7"/><stop offset="0.146" stop-color="#0000c1"/><stop offset="0.295" stop-color="#00008f"/><stop offset="0.330" stop-color="#000093"/><stop offset="0.342" stop-color="#0000b7"/><stop offset="0.348" stop-color="#0000cb"/><stop offset="0.354" stop-color="#0000c5"/><stop offset="0.366" stop-color="#000098"/><stop offset="0.396" stop-color="#00008f"/><stop offset="0.426" stop-color="#000091"/><stop offset="0.443" stop-color="#0000c7"/><stop offset="0.455" stop-color="#0003ff"/><stop offset="0.461" stop-color="#003eff"/><stop offset="0.467" stop-color="#00b7ff"/><stop offset="0.473" stop-color="#65ff9a"/><stop offset="0.479" stop-color="#ffbd00"/><stop offset="0.485" stop-color="#00cfff"/><stop offset="0.491" stop-color="#0045ff"/><stop offset="0.497" stop-color="#0000f0"/><stop offset="0.509" stop-color="#0000ab"/><stop offset="0.515" stop-color="#000097"/><stop offset="0.533" stop-color="#00008f"/><stop offset="0.997" stop-color="#00008f"/></linearGradient>
<linearGradient id="b33"><stop offset="0.003" stop-color="#0000c7"/><stop offset="0.146" stop-color="#0000c1"/><stop offset="0.295" stop-color="#00008f"/><stop offset="0.330" stop-color="#000093"/><stop offset="0.342" stop-color="#0000b7"/><stop offset="0.348" stop-color="#0000cb"/><stop offset="0.354" stop-color="#0000c5"/><stop offset="0.366" stop-color="#000098"/><stop offset="0.396" stop-color="#00008f"/><stop offset="0.420" stop-color="#000092"/><stop offset="0.438" stop-color="#0000c0"/><stop offset="0.449" stop-color="#0000f4"/><stop offset="0.455" stop-color="#0010ff"/><stop offset="0.461" stop-color="#005aff"/><stop offset="0.467" stop-color="#00c8ff"/><stop offset="0.473" stop-color="#68ff97"/><stop offset="0.479" stop-color="#ffba00"/><stop offset="0.485" stop-color="#00d9ff"/><stop offset="0.491" stop-color="#005aff"/><stop offset="0.497" stop-color="#0000fa"/><stop offset="0.509" stop-color="#0000b7"/><stop offset="0.521" stop-color="#000091"/><stop offset="0.997" stop-color="#00008f"/></linearGradient>
<linearGradient id="b34"><stop offset="0.003" stop-color="#0000c7"/><stop offset="0.146" stop-color="#0000c1"/><stop offset="0.295" stop-color="#00008f"/><stop offset="0.330" stop-color="#000093"/><stop offset="0.342" stop-color="#0000b7"/><stop offset="0.348" stop-color="#0000cb"/><stop offset="0.354" stop-color="#0000c5"/><stop offset="0.366" stop-color="#000098"/><stop offset="0.396" stop-color="#00008f"/><stop offset="0.426" stop-color="#000090"/><stop offset="0.443" stop-color="#0000c5"/><stop offset="0.455" stop-color="#0002ff"/><stop offset="0.461" stop-color="#003bff"/><stop offset="0.467" stop-color="#00b5ff"/><stop offset="0.473" stop-color="#6bff94"/><stop offset="0.479" stop-color="#ffb800"/><stop offset="0.485" stop-color="#00ceff"/><stop offset="0.491" stop-color="#0044ff"/><stop offset="0.497" stop-color="#0000ef"/><stop offset="0.509" stop-color="#0000ab"/><stop offset="0.515" stop-color="#000096"/><stop offset="0.545" stop-color="#00008f"/><stop offset="0.997" stop-color="#00008f"/></linearGradient>
<linearGradient id="b35"><stop offset="0.003" stop-color="#0000c7"/><stop offset="0.146" stop-color="#0000c1"/><stop offset="0.295" stop-color="#00008f"/><stop offset="0.330" stop-color="#000092"/><stop offset="0.342" stop-color="#0000b5"/><stop offset="0.348" stop-color="#0000c8"/><stop offset="0.354" stop-color="#0000c2"/><stop offset="0.366" stop-color="#000098"/><stop offset="0.402" stop-color="#00008f"/><stop offset="0.438" stop-color="#00008f"/><stop offset="0.443" stop-color="#000098"/><stop offset="0.455" stop-color="#0000d2"/><stop offset="0.461" stop-color="#0000fe"/><stop offset="0.467" stop-color="#007dff"/><stop offset="0.473" stop-color="#6dff92"/><stop offset="0.479" stop-color="#ffb500"/><stop offset="0.485" stop-color="#00afff"/><stop offset="0.491" stop-color="#0011ff"/><stop offset="0.497" stop-color="#0000d2"/><stop offset="0.503" stop-color="#0000ab"/><stop offset="0.509" stop-color="#000093"/><stop offset="0.997" stop-color="#00008f"/></linearGradient>
<linearGradient id="b36"><stop offset="0.003" stop-color="#0000c7"/><stop offset="0.146" stop-color="#0000c1"/><stop offset="0.295" stop-color="#00008f"/><stop offset="0.330" stop-color="#000092"/><stop offset="0.348" stop-color="#0000c2"/><stop offset="0.354" stop-color="#0000bd"/><stop offset="0.366" stop-color="#000097"/><stop offset="0.414" stop-color="#00008f"/><stop offset="0.449" stop-color="#000092"/><stop offset="0.455" stop-color="#0000ae"/><stop offset="0.461" stop-color="#0000dc"/><stop offset="0.467" stop-color="#0050ff"/><stop offset="0.473" stop-color="#70ff8f"/><stop offset="0.479" stop-color="#ffb300"/><stop offset="0.485" stop-color="#0099ff"/><stop offset="0.491" stop-color="#0000f3"/><stop offset="0.497" stop-color="#0000be"/><stop offset="0.503" stop-color="#00009b"/><stop offset="0.509" stop-color="#00008f"/><stop offset="0.997" stop-color="#00008f"/></linearGradient>
<linearGradient id="b37"><stop offset="0.003" stop-color="#0000c7"/><stop offset="0.146" stop-color="#0000c1"/><stop offset="0.295" stop-color="#00008f"/><stop offset="0.330" stop-color="#000092"/><stop offset="0.348" stop-color="#0000bc"/><stop offset="0.354" stop-color="#0000b7"/><stop offset="0.366" stop-color="#000096"/><stop offset="0.438" stop-color="#00008f"/><stop offset="0.443" stop-color="#000096"/><stop offset="0.449" stop-color="#0000ac"/><stop offset="0.461" stop-color="#0000fb"/><stop offset="0.467" stop-color="#007aff"/><stop offset="0.473" stop-color="#73ff8c"/><stop offset="0.479" stop-color="#ffb100"/><stop offset="0.485" stop-color="#00aeff"/><stop offset="0.491" stop-color="#000fff"/><stop offset="0.497" stop-color="#0000d1"/><stop offset="0.503" stop-color="#0000aa"/><stop offset="0.509" stop-color="#000092"/><stop offset="0.997" stop-color="#00008f"/></linearGradient>
<linearGradient id="b38"><stop offset="0.003" stop-color="#0000c7"/><stop offset="0.146" stop-color="#0000c1"/><stop offset="0.295" stop-color="#00008f"/><stop offset="0.330" stop-color="#000091"/><stop offset="0.348" stop-color="#0000b6"/><stop offset="0.354" stop-color="#0000b2"/><stop offset="0.366" stop-color="#000095"/><stop offset="0.426" stop-color="#000093"/><stop offset="0.443" stop-color="#0000ca"/><stop offset="0.455" stop-color="#0006ff"/><stop offset="0.461" stop-color="#0044ff"/><stop offset="0.467" stop-color="#00bbff"/><stop offset="0.473" stop-color="#75ff8a"/><stop offset="0.479" stop-color="#ffae00"/><stop offset="0.485" stop-color="#00d2ff"/><stop offset="0.491" stop-color="#004bff"/><stop offset="0.497" stop-color="#0000f3"/><stop offset="0.509" stop-color="#0000ae"/><stop offset="0.521" stop-color="#00008f"/><stop offset="0.997" stop-color="#00008f"/></linearGradient>
<linearGradient id="b39"><stop offset="0.003" stop-color="#0000c7"/><stop offset="0.146" stop-color="#0000c1"/><stop offset="0.295" stop-color="#00008f"/><stop offset="0.336" stop-color="#000098"/><stop offset="0.348" stop-color="#0000b0"/><stop offset="0.360" stop-color="#00009f"/><stop offset="0.378" stop-color="#00008f"/><stop offset="0.414" stop-color="#000093"/><stop offset="0.432" stop-color="#0000bc"/><stop offset="0.449" stop-color="#0002ff"/><stop offset="0.455" stop-color="#001aff"/><stop offset="0.467" stop-color="#00d6ff"/><stop offset="0.473" stop-color="#78ff87"/><stop offset="0.479" stop-color="#ffac00"/><stop offset="0.485" stop-color="#00e3ff"/><stop offset="0.491" stop-color="#006dff"/><stop offset="0.497" stop-color="#0005ff"/><stop offset="0.515" stop-color="#0000aa"/><stop offset="0.527" stop-color="#00008f"/><stop offset="0.997" stop-color="#00008f"/></linearGradient>
<linearGradient id="b40"><stop offset="0.003" stop-color="#0000c7"/><stop offset="0.146" stop-color="#0000c1"/><stop offset="0.295" stop-color="#00008f"/><stop offset="0.336" stop-color="#000096"/><stop offset="0.348" stop-color="#0000aa"/><stop offset="0.372" stop-color="#000090"/><stop offset="0.420" stop-color="#000095"/><stop offset="0.438" stop-color="#0000c5"/><stop offset="0.449" stop-color="#0000f8"/><stop offset="0.455" stop-color="#0014ff"/><stop offset="0.461" stop-color="#0062ff"/><stop offset="0.467" stop-color="#00cdff"/><stop offset="0.473" stop-color="#7bff84"/><stop offset="0.479" stop-color="#ffa900"/><stop offset="0.485" stop-color="#00ddff"/><stop offset="0.491" stop-color="#0061ff"/><stop offset="0.497" stop-color="#0000fe"/><stop offset="0.509" stop-color="#0000bb"/><stop offset="0.521" stop-color="#000093"/><stop offset="0.997" stop-color="#00008f"/></linearGradient>
<linearGradient id="b41"><stop offset="0.003" stop-color="#0000c7"/><stop offset="0.146" stop-color="#0000c1"/><stop offset="0.295" stop-color="#00008f"/><stop offset="0.336" stop-color="#000094"/><stop offset="0.348" stop-color="#0000a4"/><stop offset="0.378" stop-color="#00008f"/><stop offset="0.432" stop-color="#00008f"/><stop offset="0.443" stop-color="#0000ad"/><stop offset="0.455" stop-color="#0000eb"/><stop offset="0.461" stop-color="#0018ff"/><stop offset="0.467" stop-color="#009cff"/><stop offset="0.473" stop-color="#7dff82"/><stop offset="0.479" stop-color="#ffa700"/><stop offset="0.485" stop-color="#00c1ff"/><stop offset="0.491" stop-color="#002dff"/><stop offset="0.497" stop-color="#0000e2"/><stop offset="0.509" stop-color="#00009e"/><stop offset="0.515" stop-color="#00008f"/><stop offset="0.997" stop-color="#00008f"/></linearGradient>
<linearGradient id="b42"><stop offset="0.003" stop-color="#0000c7"/><stop offset="0.146" stop-color="#0000c1"/><stop offset="0.295" stop-color="#00008f"/><stop offset="0.336" stop-color="#000093"/><stop offset="0.354" stop-color="#00009c"/><stop offset="0.384" stop-color="#00008f"/><stop offset="0.443" stop-color="#00008f"/><stop offset="0.449" stop-color="#000097"/><stop offset="0.455" stop-color="#0000b6"/><stop offset="0.461" stop-color="#0000e4"/><stop offset="0.467" stop-color="#005cff"/><stop offset="0.473" stop-color="#80ff7f"/><stop offset="0.479" stop-color="#ffa500"/><stop offset="0.485" stop-color="#00a0ff"/><stop offset="0.491" stop-color="#0000fa"/><stop offset="0.497" stop-color="#0000c4"/><stop offset="0.503" stop-color="#00009f"/><stop offset="0.509" stop-color="#00008f"/><stop offset="0.997" stop-color="#00008f"/></linearGradient>
<linearGradient id="b43"><stop offset="0.003" stop-color="#0000c7"/><stop offset="0.146" stop-color="#0000c1"/><stop offset="0.295" stop-color="#00008f"/><stop offset="0.360" stop-color="#000093"/><stop offset="0.443" stop-color="#00008f"/><stop offset="0.449" stop-color="#0000a1"/><stop offset="0.455" stop-color="#0000c2"/><stop offset="0.461" stop-color="#0000f0"/><stop offset="0.467" stop-color="#006cff"/><stop offset="0.473" stop-color="#83ff7c"/><stop offset="0.479" stop-color="#ffa200"/><stop offset="0.485" stop-color="#00a8ff"/><stop offset="0.491" stop-color="#0007ff"/><stop offset="0.497" stop-color="#0000cb"/><stop offset="0.503" stop-color="#0000a5"/><stop offset="0.509" stop-color="#00008f"/><stop offset="0.997" stop-color="#00008f"/></linearGradient>
<linearGradient id="b44"><stop offset="0.003" stop-color="#0000c7"/><stop offset="0.146" stop-color="#0000c1"/><stop offset="0.295" stop-color="#00008f"/><stop offset="0.426" stop-color="#00008f"/><stop offset="0.438" stop-color="#0000a8"/><stop offset="0.455" stop-color="#0000fc"/><stop offset="0.461" stop-color="#0035ff"/><stop offset="0.467" stop-color="#00b0ff"/><stop offset="0.473" stop-color="#86ff79"/><stop offset="0.479" stop-color="#ffa000"/><stop offset="0.485" stop-color="#00cdff"/><stop offset="0.491" stop-color="#0042ff"/><stop offset="0.497" stop-color="#0000ed"/><stop offset="0.509" stop-color="#0000a8"/><stop offset="0.515" stop-color="#000095"/><stop offset="0.997" stop-color="#00008f"/></linearGradient>
<linearGradient id="b45"><stop offset="0.003" stop-color="#0000c7"/><stop offset="0.146" stop-color="#0000c1"/><stop offset="0.295" stop-color="#00008f"/><stop offset="0.414" stop-color="#000092"/><stop offset="0.432" stop-color="#0000ba"/><stop offset="0.449" stop-color="#0000ff"/><stop offset="0.455" stop-color="#0019ff"/><stop offset="0.461" stop-color="#0071ff"/><stop offset="0.467" stop-color="#00d5ff"/><stop offset="0.473" stop-color="#88ff77"/><stop offset="0.479" stop-color="#ff9e00"/><stop offset="0.485" stop-color="#00e3ff"/><stop offset="0.491" stop-color="#006dff"/><stop offset="0.497" stop-color="#0004ff"/><stop offset="0.515" stop-color="#0000a9"/><stop offset="0.527" stop-color="#00008f"/><stop offset="0.997" stop-color="#00008f"/></linearGradient>
<linearGradient id="b46"><stop offset="0.003" stop-color="#0000c7"/><stop offset="0.146" stop-color="#0000c1"/><stop offset="0.295" stop-color="#00008f"/><stop offset="0.414" stop-color="#000092"/><stop offset="0.432" stop-color="#0000ba"/><stop offset="0.449" stop-color="#0000ff"/><stop offset="0.455" stop-color="#0019ff"/><stop offset="0.461" stop-color="#0071ff"/><stop offset="0.467" stop-color="#00d5ff"/><stop offset="0.473" stop-color="#8bff74"/><stop offset="0.479" stop-color="#ff9b00"/><stop offset="0.485" stop-color="#00e3ff"/><stop offset="0.491" stop-color="#006eff"/><stop offset="0.497" stop-color="#0005ff"/><stop offset="0.515" stop-color="#0000a9"/><stop offset="0.527" stop-color="#00008f"/><stop offset="0.997" stop-color="#00008f"/></linearGradient>
<linearGradient id="b47"><stop offset="0.003" stop-color="#0000c7"/><stop offset="0.146" stop-color="#0000c1"/><stop offset="0.295" stop-color="#00008f"/><stop offset="0.426" stop-color="#00008f"/><stop offset="0.438" stop-color="#0000a8"/><stop offset="0.455" stop-color="#0000fc"/><stop offset="0.461" stop-color="#0036ff"/><stop offset="0.467" stop-color="#00b2ff"/><stop offset="0.473" stop-color="#8eff71"/><stop offset="0.479" stop-color="#ff9900"/><stop offset="0.485" stop-color="#00ceff"/><stop offset="0.491" stop-color="#0044ff"/><stop offset="0.497" stop-color="#0000ee"/><stop offset="0.509" stop-color="#0000a9"/><stop offset="0.515" stop-color="#000095"/><stop offset="0.604" stop-color="#00008f"/><stop offset="0.997" stop-color="#00008f"/></linearGradient>
<linearGradient id="b48"><stop offset="0.003" stop-color="#0000c7"/><stop offset="0.146" stop-color="#0000c1"/><stop offset="0.295" stop-color="#00008f"/><stop offset="0.443" stop-color="#00008f"/><stop offset="0.449" stop-color="#0000a3"/><stop offset="0.455" stop-color="#0000c4"/><stop offset="0.461" stop-color="#0000f2"/><stop offset="0.467" stop-color="#006fff"/><stop offset="0.473" stop-color="#90ff6f"/><stop offset="0.479" stop-color="#ff9600"/><stop offset="0.485" stop-color="#00abff"/><stop offset="0.491" stop-color="#000bff"/><stop offset="0.497" stop-color="#0000cd"/><stop offset="0.503" stop-color="#0000a7"/><stop offset="0.509" stop-color="#000090"/><stop offset="0.997" stop-color="#00008f"/></linearGradient>
<linearGradient id="b49"><stop offset="0.003" stop-color="#0000c7"/><stop offset="0.146" stop-color="#0000c1"/><stop offset="0.295" stop-color="#00008f"/><stop offset="0.443" stop-color="#00008f"/><stop offset="0.449" stop-color="#000099"/><stop offset="0.455" stop-color="#0000b8"/><stop offset="0.461" stop-color="#0000e7"/><stop offset="0.467" stop-color="#0061ff"/><stop offset="0.473" stop-color="#93ff6c"/><stop offset="0.479" stop-color="#ff9400"/><stop offset="0.485" stop-color="#00a4ff"/><stop offset="0.491" stop-color="#0001ff"/><stop offset="0.497" stop-color="#0000c7"/><stop offset="0.503" stop-color="#0000a1"/><stop offset="0.509" stop-color="#00008f"/><stop offset="0.997" stop-color="#00008f"/></linearGradient>
<linearGradient id="b50"><stop offset="0.003" stop-color="#0000c7"/><stop offset="0.146" stop-color="#0000c1"/><stop offset="0.295" stop-color="#00008f"/><stop offset="0.432" stop-color="#00008f"/><stop offset="0.443" stop-color="#0000af"/><stop offset="0.455" stop-color="#0000ee"/><stop offset="0.461" stop-color="#001eff"/><stop offset="0.467" stop-color="#00a0ff"/><stop offset="0.473" stop-color="#96ff69"/><stop offset="0.479" stop-color="#ff9200"/><stop offset="0.485" stop-color="#00c5ff"/><stop offset="0.491" stop-color="#0034ff"/><stop offset="0.497" stop-color="#0000e5"/><stop offset="0.509" stop-color="#0000a1"/><stop offset="0.515" stop-color="#00008f"/><stop offset="0.997" stop-color="#00008f"/></linearGradient>
<linearGradient id="b51"><stop offset="0.003" stop-color="#0000c7"/><stop offset="0.146" stop-color="#0000c1"/><stop offset="0.295" stop-color="#00008f"/><stop offset="0.414" stop-color="#00008f"/><stop offset="0.432" stop-color="#0000b3"/><stop offset="0.449" stop-color="#0000fa"/><stop offset="0.455" stop-color="#0015ff"/><stop offset="0.461" stop-color="#0068ff"/><stop offset="0.467" stop-color="#00d0ff"/><stop offset="0.473" stop-color="#98ff67"/><stop offset="0.479" stop-color="#ff8f00"/><stop offset="0.485" stop-color="#00e0ff"/><stop offset="0.491" stop-color="#0068ff"/><stop offset="0.497" stop-color="#0001ff"/><stop offset="0.515" stop-color="#0000a6"/><stop offset="0.527" stop-color="#00008f"/><stop offset="0.997" stop-color="#00008f"/></linearGradient>
<linearGradient id="b52"><stop offset="0.003" stop-color="#0000c7"/><stop offset="0.146" stop-color="#0000c1"/><stop offset="0.295" stop-color="#00008f"/><stop offset="0.414" stop-color="#000095"/><stop offset="0.432" stop-color="#0000bf"/><stop offset="0.449" stop-color="#0005ff"/><stop offset="0.455" stop-color="#001cff"/><stop offset="0.467" stop-color="#00daff"/><stop offset="0.473" stop-color="#9bff64"/><stop offset="0.479" stop-color="#ff8d00"/><stop offset="0.485" stop-color="#00e7ff"/><stop offset="0.497" stop-color="#0008ff"/><stop offset="0.515" stop-color="#0000ad"/><stop offset="0.527" stop-color="#00008f"/><stop offset="0.997" stop-color="#00008f"/></linearGradient>
<linearGradient id="b53"><stop offset="0.003" stop-color="#0000c7"/><stop offset="0.146" stop-color="#0000c1"/><stop offset="0.295" stop-color="#00008f"/><stop offset="0.420" stop-color="#00008f"/><stop offset="0.438" stop-color="#0000b8"/><stop offset="0.449" stop-color="#0000ec"/><stop offset="0.455" stop-color="#000aff"/><stop offset="0.461" stop-color="#0051ff"/><stop offset="0.467" stop-color="#00c3ff"/><stop offset="0.473" stop-color="#9eff61"/><stop offset="0.479" stop-color="#ff8b00"/><stop offset="0.485" stop-color="#00d8ff"/><stop offset="0.491" stop-color="#0058ff"/><stop offset="0.497" stop-color="#0000f8"/><stop offset="0.509" stop-color="#0000b4"/><stop offset="0.521" stop-color="#00008f"/><stop offset="0.997" stop-color="#00008f"/></linearGradient>
<linearGradient id="b54"><stop offset="0.003" stop-color="#0000c7"/><stop offset="0.146" stop-color="#0000c1"/><stop offset="0.295" stop-color="#00008f"/><stop offset="0.438" stop-color="#00008f"/><stop offset="0.443" stop-color="#00009b"/><stop offset="0.455" stop-color="#0000d7"/><stop offset="0.461" stop-color="#0003ff"/><stop offset="0.467" stop-color="#0087ff"/><stop offset="0.473" stop-color="#a0ff5f"/><stop offset="0.479" stop-color="#ff8800"/><stop offset="0.485" stop-color="#00b8ff"/><stop offset="0.491" stop-color="#001fff"/><stop offset="0.497" stop-color="#0000d8"/><stop offset="0.503" stop-color="#0000b1"/><stop offset="0.509" stop-color="#000097"/><stop offset="0.527" stop-color="#00008f"/><stop offset="0.997" stop-color="#00008f"/></linearGradient>
<linearGradient id="b55"><stop offset="0.003" stop-color="#0000c7"/><stop offset="0.146" stop-color="#0000c1"/><stop offset="0.295" stop-color="#00008f"/><stop offset="0.443" stop-color="#00008f"/><stop offset="0.449" stop-color="#000097"/><stop offset="0.455" stop-color="#0000b5"/><stop offset="0.461" stop-color="#0000e4"/><stop offset="0.467" stop-color="#005fff"/><stop offset="0.473" stop-color="#a2ff5d"/><stop offset="0.479" stop-color="#ff8700"/><stop offset="0.485" stop-color="#00a5ff"/><stop offset="0.491" stop-color="#0002ff"/><stop offset="0.497" stop-color="#0000c6"/><stop offset="0.503" stop-color="#0000a1"/><stop offset="0.509" stop-color="#00008f"/><stop offset="0.997" stop-color="#00008f"/></linearGradient>
<linearGradient id="b56"><stop offset="0.003" stop-color="#0000c7"/><stop offset="0.146" stop-color="#0000c1"/><stop offset="0.295" stop-color="#00008f"/><stop offset="0.438" stop-color="#000090"/><stop offset="0.449" stop-color="#0000ba"/><stop offset="0.461" stop-color="#0007ff"/><stop offset="0.467" stop-color="#008eff"/><stop offset="0.473" stop-color="#a2ff5d"/><stop offset="0.479" stop-color="#ff8700"/><stop offset="0.485" stop-color="#00bcff"/><stop offset="0.491" stop-color="#0025ff"/><stop offset="0.497" stop-color="#0000dc"/><stop offset="0.503" stop-color="#0000b4"/><stop offset="0.509" stop-color="#00009a"/><stop offset="0.521" stop-color="#00008f"/><stop offset="0.997" stop-color="#00008f"/></linearGradient>
<linearGradient id="b57"><stop offset="0.003" stop-color="#0000c7"/><stop offset="0.146" stop-color="#0000c1"/><stop offset="0.295" stop-color="#00008f"/><stop offset="0.420" stop-color="#000090"/><stop offset="0.438" stop-color="#0000bd"/><stop offset="0.449" stop-color="#0000f0"/><stop offset="0.455" stop-color="#000eff"/><stop offset="0.461" stop-color="#0059ff"/><stop offset="0.467" stop-color="#00c7ff"/><stop offset="0.473" stop-color="#a2ff5d"/><stop offset="0.479" stop-color="#ff8700"/><stop offset="0.485" stop-color="#00dbff"/><stop offset="0.491" stop-color="#005eff"/><stop offset="0.497" stop-color="#0000fb"/><stop offset="0.509" stop-color="#0000b7"/><stop offset="0.521" stop-color="#000091"/><stop offset="0.997" stop-color="#00008f"/></linearGradient>
<linearGradient id="b58"><stop offset="0.003" stop-color="#0000c7"/><stop offset="0.146" stop-color="#0000c1"/><stop offset="0.295" stop-color="#00008f"/><stop offset="0.408" stop-color="#00008f"/><stop offset="0.426" stop-color="#0000af"/><stop offset="0.449" stop-color="#0006ff"/><stop offset="0.455" stop-color="#001eff"/><stop offset="0.467" stop-color="#00dbff"/><stop offset="0.473" stop-color="#a2ff5d"/><stop offset="0.479" stop-color="#ff8700"/><stop offset="0.485" stop-color="#00e8ff"/><stop offset="0.497" stop-color="#000aff"/><stop offset="0.509" stop-color="#0000c8"/><stop offset="0.521" stop-color="#00009c"/><stop offset="0.533" stop-color="#00008f"/><stop offset="0.997" stop-color="#00008f"/></linearGradient>
<linearGradient id="b59"><stop offset="0.003" stop-color="#0000c7"/><stop offset="0.146" stop-color="#0000c1"/><stop offset="0.295" stop-color="#00008f"/><stop offset="0.420" stop-color="#000095"/><stop offset="0.438" stop-color="#0000c5"/><stop offset="0.449" stop-color="#0000f7"/><stop offset="0.455" stop-color="#0013ff"/><stop offset="0.461" stop-color="#0064ff"/><stop offset="0.467" stop-color="#00ceff"/><stop offset="0.473" stop-color="#a2ff5d"/><stop offset="0.479" stop-color="#ff8700"/><stop offset="0.485" stop-color="#00dfff"/><stop offset="0.491" stop-color="#0066ff"/><stop offset="0.497" stop-color="#0000ff"/><stop offset="0.509" stop-color="#0000bc"/><stop offset="0.521" stop-color="#000094"/><stop offset="0.997" stop-color="#00008f"/></linearGradient>
<linearGradient id="b60"><stop offset="0.003" stop-color="#0000c7"/><stop offset="0.146" stop-color="#0000c1"/><stop offset="0.295" stop-color="#00008f"/><stop offset="0.432" stop-color="#00008f"/><stop offset="0.443" stop-color="#0000aa"/><stop offset="0.455" stop-color="#0000e9"/><stop offset="0.461" stop-color="#0018ff"/><stop offset="0.467" stop-color="#009cff"/><stop offset="0.473" stop-color="#a2ff5d"/><stop offset="0.479" stop-color="#ff8700"/><stop offset="0.485" stop-color="#00c3ff"/><stop offset="0.491" stop-color="#0031ff"/><stop offset="0.497" stop-color="#0000e3"/><stop offset="0.509" stop-color="#00009f"/><stop offset="0.515" stop-color="#00008f"/><stop offset="0.997" stop-color="#00008f"/></linearGradient>
<linearGradient id="b61"><stop offset="0.003" stop-color="#0000c7"/><stop offset="0.146" stop-color="#0000c1"/><stop offset="0.295" stop-color="#00008f"/><stop offset="0.443" stop-color="#00008f"/><stop offset="0.449" stop-color="#000099"/><stop offset="0.455" stop-color="#0000b8"/><stop offset="0.461" stop-color="#0000e6"/><stop offset="0.467" stop-color="#0062ff"/><stop offset="0.473" stop-color="#a2ff5d"/><stop offset="0.479" stop-color="#ff8700"/><stop offset="0.485" stop-color="#00a6ff"/><stop offset="0.491" stop-color="#0004ff"/><stop offset="0.497" stop-color="#0000c7"/><stop offset="0.503" stop-color="#0000a2"/><stop offset="0.509" stop-color="#00008f"/><stop offset="0.997" stop-color="#00008f"/></linearGradient>
<linearGradient id="b62"><stop offset="0.003" stop-color="#0000c7"/><stop offset="0.146" stop-color="#0000c1"/><stop offset="0.295" stop-color="#00008f"/><stop offset="0.443" stop-color="#000093"/><stop offset="0.449" stop-color="#0000a9"/><stop offset="0.461" stop-color="#0000f8"/><stop offset="0.467" stop-color="#007aff"/><stop offset="0.473" stop-color="#a2ff5d"/><stop offset="0.479" stop-color="#ff8700"/><stop offset="0.485" stop-color="#00b2ff"/><stop offset="0.491" stop-color="#0015ff"/><stop offset="0.497" stop-color="#0000d2"/><stop offset="0.503" stop-color="#0000ab"/><stop offset="0.509" stop-color="#000093"/><stop offset="0.997" stop-color="#00008f"/></linearGradient>
<linearGradient id="b63"><stop offset="0.003" stop-color="#0000c7"/><stop offset="0.146" stop-color="#0000c1"/><stop offset="0.295" stop-color="#00008f"/><stop offset="0.426" stop-color="#000091"/><stop offset="0.443" stop-color="#0000c6"/><stop offset="0.455" stop-color="#0003ff"/><stop offset="0.461" stop-color="#0043ff"/><stop offset="0.467" stop-color="#00baff"/><stop offset="0.473" stop-color="#a2ff5d"/><stop offset="0.479" stop-color="#ff8700"/><stop offset="0.485" stop-color="#00d3ff"/><stop offset="0.491" stop-color="#004eff"/><stop offset="0.497" stop-color="#0000f3"/><stop offset="0.509" stop-color="#0000ae"/><stop offset="0.521" stop-color="#00008f"/><stop offset="0.997" stop-color="#00008f"/></linearGradient>
<linearGradient id="b64"><stop offset="0.003" stop-color="#0000c7"/><stop offset="0.146" stop-color="#0000c1"/><stop offset="0.295" stop-color="#00008f"/><stop offset="0.414" stop-color="#000094"/><stop offset="0.432" stop-color="#0000bd"/><stop offset="0.449" stop-color="#0003ff"/><stop offset="0.455" stop-color="#001bff"/><stop offset="0.467" stop-color="#00d9ff"/><stop offset="0.473" stop-color="#a2ff5d"/><stop offset="0.479" stop-color="#ff8700"/><stop offset="0.485" stop-color="#00e6ff"/><stop offset="0.497" stop-color="#0007ff"/><stop offset="0.515" stop-color="#0000ac"/><stop offset="0.527" stop-color="#00008f"/><stop offset="0.997" stop-color="#00008f"/></linearGradient>
<linearGradient id="b65"><stop offset="0.003" stop-color="#0000c7"/><stop offset="0.146" stop-color="#0000c1"/><stop offset="0.295" stop-color="#00008f"/><stop offset="0.414" stop-color="#000091"/><stop offset="0.432" stop-color="#0000b9"/><stop offset="0.449" stop-color="#0000ff"/><stop offset="0.455" stop-color="#0019ff"/><stop offset="0.467" stop-color="#00d6ff"/><stop offset="0.473" stop-color="#a2ff5d"/><stop offset="0.479" stop-color="#ff8700"/><stop offset="0.485" stop-color="#00e4ff"/><stop offset="0.497" stop-color="#0005ff"/><stop offset="0.515" stop-color="#0000aa"/><stop offset="0.527" stop-color="#00008f"/><stop offset="0.997" stop-color="#00008f"/></linearGradient>
<linearGradient id="b66"><stop offset="0.003" stop-color="#0000c7"/><stop offset="0.146" stop-color="#0000c1"/><stop offset="0.295" stop-color="#00008f"/><stop offset="0.426" stop-color="#00008f"/><stop offset="0.438" stop-color="#0000a5"/><stop offset="0.455" stop-color="#0000f9"/><stop offset="0.461" stop-color="#0032ff"/><stop offset="0.467" stop-color="#00afff"/><stop offset="0.473" stop-color="#a2ff5d"/><stop offset="0.479" stop-color="#ff8700"/><stop offset="0.485" stop-color="#00cdff"/><stop offset="0.491" stop-color="#0043ff"/><stop offset="0.497" stop-color="#0000ed"/><stop offset="0.509" stop-color="#0000a8"/><stop offset="0.515" stop-color="#000094"/><stop offset="0.997" stop-color="#00008f"/></linearGradient>
<linearGradient id="b67"><stop offset="0.003" stop-color="#0000c7"/><stop offset="0.146" stop-color="#0000c1"/><stop offset="0.295" stop-color="#00008f"/><stop offset="0.443" stop-color="#00008f"/><stop offset="0.449" stop-color="#0000a1"/><stop offset="0.455" stop-color="#0000c2"/><stop offset="0.461" stop-color="#0000f0"/><stop offset="0.467" stop-color="#006eff"/><stop offset="0.473" stop-color="#a2ff5d"/><stop offset="0.479" stop-color="#ff8700"/><stop offset="0.485" stop-color="#00acff"/><stop offset="0.491" stop-color="#000cff"/><stop offset="0.497" stop-color="#0000cd"/><stop offset="0.503" stop-color="#0000a7"/><stop offset="0.509" stop-color="#000090"/><stop offset="0.997" stop-color="#00008f"/></linearGradient>
<linearGradient id="b68"><stop offset="0.003" stop-color="#0000c7"/><stop offset="0.146" stop-color="#0000c1"/><stop offset="0.295" stop-color="#00008f"/><stop offset="0.443" stop-color="#00008f"/><stop offset="0.449" stop-color="#00009e"/><stop offset="0.455" stop-color="#0000be"/><stop offset="0.461" stop-color="#0000ec"/><stop offset="0.467" stop-color="#006aff"/><stop offset="0.473" stop-color="#a2ff5d"/><stop offset="0.479" stop-color="#ff8700"/><stop offset="0.485" stop-color="#00aaff"/><stop offset="0.491" stop-color="#0009ff"/><stop offset="0.497" stop-color="#0000cb"/><stop offset="0.503" stop-color="#0000a5"/><stop offset="0.509" stop-color="#00008f"/><stop offset="0.997" stop-color="#00008f"/></linearGradient>
<linearGradient id="b69"><stop offset="0.003" stop-color="#0000c7"/><stop offset="0.146" stop-color="#0000c1"/><stop offset="0.295" stop-color="#00008f"/><stop offset="0.432" stop-color="#000092"/><stop offset="0.443" stop-color="#0000b6"/><stop offset="0.455" stop-color="#0000f4"/><stop offset="0.461" stop-color="#002aff"/><stop offset="0.467" stop-color="#00a9ff"/><stop offset="0.473" stop-color="#a2ff5d"/><stop offset="0.479" stop-color="#ff8700"/><stop offset="0.485" stop-color="#00caff"/><stop offset="0.491" stop-color="#003dff"/><stop offset="0.497" stop-color="#0000e9"/><stop offset="0.509" stop-color="#0000a5"/><stop offset="0.515" stop-color="#000092"/><stop offset="0.997" stop-color="#00008f"/></linearGradient>
<linearGradient id="b70"><stop offset="0.003" stop-color="#0000c7"/><stop offset="0.146" stop-color="#0000c1"/><stop offset="0.295" stop-color="#00008f"/><stop offset="0.414" stop-color="#000090"/><stop offset="0.432" stop-color="#0000b7"/><stop offset="0.449" stop-color="#0000fd"/><stop offset="0.455" stop-color="#0017ff"/><stop offset="0.461" stop-color="#006eff"/><stop offset="0.467" stop-color="#00d3ff"/><stop offset="0.473" stop-color="#a2ff5d"/><stop offset="0.479" stop-color="#ff8700"/><stop offset="0.485" stop-color="#00e3ff"/><stop offset="0.491" stop-color="#006dff"/><stop offset="0.497" stop-color="#0004ff"/><stop offset="0.515" stop-color="#0000a8"/><stop offset="0.527" stop-color="#00008f"/><stop offset="0.997" stop-color="#00008f"/></linearGradient>
<linearGradient id="b71"><stop offset="0.003" stop-color="#0000c7"/><stop offset="0.146" stop-color="#0000c1"/><stop offset="0.295" stop-color="#00008f"/><stop offset="0.414" stop-color="#000095"/><stop offset="0.432" stop-color="#0000bf"/><stop offset="0.449" stop-color="#0004ff"/><stop offset="0.455" stop-color="#001cff"/><stop offset="0.467" stop-color="#00daff"/><stop offset="0.473" stop-color="#a2ff5d"/><stop offset="0.479" stop-color="#ff8700"/><stop offset="0.485" stop-color="#00e7ff"/><stop offset="0.497" stop-color="#0008ff"/><stop offset="0.515" stop-color="#0000ad"/><stop offset="0.527" stop-color="#00008f"/><stop offset="0.997" stop-color="#00008f"/></linearGradient>
<linearGradient id="b72"><stop offset="0.003" stop-color="#0000c7"/><stop offset="0.146" stop-color="#0000c1"/><stop offset="0.295" stop-color="#00008f"/><stop offset="0.426" stop-color="#000094"/><stop offset="0.443" stop-color="#0000cc"/><stop offset="0.455" stop-color="#0007ff"/><stop offset="0.461" stop-color="#004bff"/><stop offset="0.467" stop-color="#00bfff"/><stop offset="0.473" stop-color="#a2ff5d"/><stop offset="0.479" stop-color="#ff8700"/><stop offset="0.485" stop-color="#00d6ff"/><stop offset="0.491" stop-color="#0054ff"/><stop offset="0.497" stop-color="#0000f6"/><stop offset="0.509" stop-color="#0000b2"/><stop offset="0.521" stop-color="#00008f"/><stop offset="0.997" stop-color="#00008f"/></linearGradient>
<linearGradient id="b73"><stop offset="0.003" stop-color="#0000c7"/><stop offset="0.146" stop-color="#0000c1"/><stop offset="0.295" stop-color="#00008f"/><stop offset="0.438" stop-color="#00008f"/><stop offset="0.443" stop-color="#000097"/><stop offset="0.455" stop-color="#0000d2"/><stop offset="0.461" stop-color="#0000fd"/><stop offset="0.467" stop-color="#0081ff"/><stop offset="0.473" stop-color="#a2ff5d"/><stop offset="0.479" stop-color="#ff8700"/><stop offset="0.485" stop-color="#00b5ff"/><stop offset="0.491" stop-color="#001aff"/><stop offset="0.497" stop-color="#0000d5"/><stop offset="0.503" stop-color="#0000ae"/><stop offset="0.509" stop-color="#000095"/><stop offset="0.616" stop-color="#00008f"/><stop offset="0.997" stop-color="#00008f"/></linearGradient>
<linearGradient id="b74"><stop offset="0.003" stop-color="#0000c7"/><stop offset="0.146" stop-color="#0000c1"/><stop offset="0.295" stop-color="#00008f"/><stop offset="0.443" stop-color="#00008f"/><stop offset="0.449" stop-color="#000098"/><stop offset="0.455" stop-color="#0000b6"/><stop offset="0.461" stop-color="#0000e5"/><stop offset="0.467" stop-color="#0060ff"/><stop offset="0.473" stop-color="#a2ff5d"/><stop offset="0.479" stop-color="#ff8700"/><stop offset="0.485" stop-color="#00a5ff"/><stop offset="0.491" stop-color="#0002ff"/><stop offset="0.497" stop-color="#0000c6"/><stop offset="0.503" stop-color="#0000a1"/><stop offset="0.509" stop-color="#00008f"/><stop offset="0.997" stop-color="#00008f"/></linearGradient>
<linearGradient id="b75"><stop offset="0.003" stop-color="#0000c7"/><stop offset="0.146" stop-color="#0000c1"/><stop offset="0.295" stop-color="#00008f"/><stop offset="0.438" stop-color="#000093"/><stop offset="0.449" stop-color="#0000c0"/><stop offset="0.455" stop-color="#0000e3"/><stop offset="0.461" stop-color="#000fff"/><stop offset="0.467" stop-color="#0095ff"/><stop offset="0.473" stop-color="#a2ff5d"/><stop offset="0.479" stop-color="#ff8700"/><stop offset="0.485" stop-color="#00c0ff"/><stop offset="0.491" stop-color="#002bff"/><stop offset="0.497" stop-color="#0000df"/><stop offset="0.509" stop-color="#00009c"/><stop offset="0.515" stop-color="#00008f"/><stop offset="0.997" stop-color="#00008f"/></linearGradient>
<linearGradient id="b76"><stop offset="0.003" stop-color="#0000c7"/><stop offset="0.146" stop-color="#0000c1"/><stop offset="0.295" stop-color="#00008f"/><stop offset="0.420" stop-color="#000092"/><stop offset="0.438" stop-color="#0000c1"/><stop offset="0.449" stop-color="#0000f4"/><stop offset="0.455" stop-color="#0011ff"/><stop offset="0.461" stop-color="#005fff"/><stop offset="0.467" stop-color="#00cbff"/><stop offset="0.473" stop-color="#a2ff5d"/><stop offset="0.479" stop-color="#ff8700"/><stop offset="0.485" stop-color="#00ddff"/><stop offset="0.491" stop-color="#0062ff"/><stop offset="0.497" stop-color="#0000fd"/><stop offset="0.509" stop-color="#0000ba"/><stop offset="0.521" stop-color="#000093"/><stop offset="0.997" stop-color="#00008f"/></linearGradient>
<linearGradient id="b77"><stop offset="0.003" stop-color="#0000c2"/><stop offset="0.146" stop-color="#0000bd"/><stop offset="0.295" stop-color="#00008f"/><stop offset="0.414" stop-color="#000091"/><stop offset="0.432" stop-color="#0000b9"/><stop offset="0.449" stop-color="#0000ff"/><stop offset="0.455" stop-color="#0019ff"/><stop offset="0.467" stop-color="#00d6ff"/><stop offset="0.473" stop-color="#a2ff5d"/><stop offset="0.479" stop-color="#ff8700"/><stop offset="0.485" stop-color="#00e4ff"/><stop offset="0.497" stop-color="#0005ff"/><stop offset="0.515" stop-color="#0000aa"/><stop offset="0.527" stop-color="#00008f"/><stop offset="0.997" stop-color="#00008f"/></linearGradient>
<linearGradient id="b78"><stop offset="0.003" stop-color="#0000b9"/><stop offset="0.152" stop-color="#0000b3"/><stop offset="0.301" stop-color="#00008f"/><stop offset="0.414" stop-color="#000094"/><stop offset="0.432" stop-color="#0000bd"/><stop offset="0.449" stop-color="#0003ff"/><stop offset="0.455" stop-color="#001bff"/><stop offset="0.467" stop-color="#00d9ff"/><stop offset="0.473" stop-color="#a2ff5d"/><stop offset="0.479" stop-color="#ff8700"/><stop offset="0.485" stop-color="#00e6ff"/><stop offset="0.497" stop-color="#0007ff"/><stop offset="0.515" stop-color="#0000ac"/><stop offset="0.527" stop-color="#00008f"/><stop offset="0.997" stop-color="#00008f"/></linearGradient>
<linearGradient id="b79"><stop offset="0.003" stop-color="#0000b0"/><stop offset="0.164" stop-color="#0000a8"/><stop offset="0.312" stop-color="#00008f"/><stop offset="0.426" stop-color="#000091"/><stop offset="0.443" stop-color="#0000c6"/><stop offset="0.455" stop-color="#0003ff"/><stop offset="0.461" stop-color="#0043ff"/><stop offset="0.467" stop-color="#00baff"/><stop offset="0.473" stop-color="#a2ff5d"/><stop offset="0.479" stop-color="#ff8700"/><stop offset="0.485" stop-color="#00d3ff"/><stop offset="0.491" stop-color="#004eff"/><stop offset="0.497" stop-color="#0000f3"/><stop offset="0.509" stop-color="#0000ae"/><stop offset="0.521" stop-color="#00008f"/><stop offset="0.997" stop-color="#00008f"/></linearGradient>
<linearGradient id="b80"><stop offset="0.003" stop-color="#0000a6"/><stop offset="0.182" stop-color="#00009e"/><stop offset="0.342" stop-color="#00008f"/><stop offset="0.443" stop-color="#000093"/><stop offset="0.449" stop-color="#0000a9"/><stop offset="0.461" stop-color="#0000f8"/><stop offset="0.467" stop-color="#007aff"/><stop offset="0.473" stop-color="#a2ff5d"/><stop offset="0.479" stop-color="#ff8700"/><stop offset="0.485" stop-color="#00b2ff"/><stop offset="0.491" stop-color="#0015ff"/><stop offset="0.497" stop-color="#0000d2"/><stop offset="0.503" stop-color="#0000ab"/><stop offset="0.509" stop-color="#000093"/><stop offset="0.997" stop-color="#00008f"/></linearGradient>
<linearGradient id="b81"><stop offset="0.003" stop-color="#00009d"/><stop offset="0.259" stop-color="#000091"/><stop offset="0.443" stop-color="#00008f"/><stop offset="0.449" stop-color="#000099"/><stop offset="0.455" stop-color="#0000b8"/><stop offset="0.461" stop-color="#0000e6"/><stop offset="0.467" stop-color="#0062ff"/><stop offset="0.473" stop-color="#a2ff5d"/><stop offset="0.479" stop-color="#ff8700"/><stop offset="0.485" stop-color="#00a6ff"/><stop offset="0.491" stop-color="#0004ff"/><stop offset="0.497" stop-color="#0000c7"/><stop offset="0.503" stop-color="#0000a2"/><stop offset="0.509" stop-color="#00008f"/><stop offset="0.997" stop-color="#00008f"/></linearGradient>
<linearGradient id="b82"><stop offset="0.003" stop-color="#000093"/><stop offset="0.432" stop-color="#00008f"/><stop offset="0.443" stop-color="#0000aa"/><stop offset="0.455" stop-color="#0000e9"/><stop offset="0.461" stop-color="#0018ff"/><stop offset="0.467" stop-color="#009cff"/><stop offset="0.473" stop-color="#a2ff5d"/><stop offset="0.479" stop-color="#ff8700"/><stop offset="0.485" stop-color="#00c3ff"/><stop offset="0.491" stop-color="#0031ff"/><stop offset="0.497" stop-color="#0000e3"/><stop offset="0.509" stop-color="#00009f"/><stop offset="0.515" stop-color="#00008f"/><stop offset="0.997" stop-color="#00008f"/></linearGradient>
<linearGradient id="b83"><stop offset="0.003" stop-color="#00008f"/><stop offset="0.420" stop-color="#000095"/><stop offset="0.438" stop-color="#0000c5"/><stop offset="0.449" stop-color="#0000f7"/><stop offset="0.455" stop-color="#0013ff"/><stop offset="0.461" stop-color="#0064ff"/><stop offset="0.467" stop-color="#00ceff"/><stop offset="0.473" stop-color="#a2ff5d"/><stop offset="0.479" stop-color="#ff8700"/><stop offset="0.485" stop-color="#00dfff"/><stop offset="0.491" stop-color="#0066ff"/><stop offset="0.497" stop-color="#0000ff"/><stop offset="0.509" stop-color="#0000bc"/><stop offset="0.521" stop-color="#000094"/><stop offset="0.997" stop-color="#00008f"/></linearGradient>
<linearGradient id="b84"><stop offset="0.003" stop-color="#00008f"/><stop offset="0.408" stop-color="#00008f"/><stop offset="0.426" stop-color="#0000af"/><stop offset="0.449" stop-color="#0006ff"/><stop offset="0.455" stop-color="#001eff"/><stop offset="0.467" stop-color="#00dbff"/><stop offset="0.473" stop-color="#a2ff5d"/><stop offset="0.479" stop-color="#ff8700"/><stop offset="0.485" stop-color="#00e8ff"/><stop offset="0.497" stop-color="#000aff"/><stop offset="0.509" stop-color="#0000c8"/><stop offset="0.521" stop-color="#00009c"/><stop offset="0.533" stop-color="#00008f"/><stop offset="0.997" stop-color="#00008f"/></linearGradient>
<linearGradient id="b85"><stop offset="0.003" stop-color="#00008f"/><stop offset="0.420" stop-color="#000090"/><stop offset="0.438" stop-color="#0000bd"/><stop offset="0.449" stop-color="#0000f0"/><stop offset="0.455" stop-color="#000eff"/><stop offset="0.461" stop-color="#0059ff"/><stop offset="0.467" stop-color="#00c7ff"/><stop offset="0.473" stop-color="#a2ff5d"/><stop offset="0.479" stop-color="#ff8700"/><stop offset="0.485" stop-color="#00dbff"/><stop offset="0.491" stop-color="#005eff"/><stop offset="0.497" stop-color="#0000fb"/><stop offset="0.509" stop-color="#0000b7"/><stop offset="0.521" stop-color="#000091"/><stop offset="0.997" stop-color="#00008f"/></linearGradient>
<linearGradient id="b86"><stop offset="0.003" stop-color="#00008f"/><stop offset="0.438" stop-color="#000090"/><stop offset="0.449" stop-color="#0000ba"/><stop offset="0.461" stop-color="#0007ff"/><stop offset="0.467" stop-color="#008eff"/><stop offset="0.473" stop-color="#a2ff5d"/><stop offset="0.479" stop-color="#ff8700"/><stop offset="0.485" stop-color="#00bcff"/><stop offset="0.491" stop-color="#0025ff"/><stop offset="0.497" stop-color="#0000dc"/><stop offset="0.503" stop-color="#0000b4"/><stop offset="0.509" stop-color="#00009a"/><stop offset="0.521" stop-color="#00008f"/><stop offset="0.997" stop-color="#00008f"/></linearGradient>
<linearGradient id="b87"><stop offset="0.003" stop-color="#007fff"/><stop offset="0.408" stop-color="#007bff"/><stop offset="0.420" stop-color="#008fff"/><stop offset="0.426" stop-color="#00a9ff"/><stop offset="0.432" stop-color="#00d6ff"/><stop offset="0.438" stop-color="#1dffe2"/><stop offset="0.443" stop-color="#7eff81"/><stop offset="0.449" stop-color="#f5ff0a"/><stop offset="0.461" stop-color="#ff1100"/><stop offset="0.467" stop-color="#bc0000"/><stop offset="0.473" stop-color="#9e0000"/><stop offset="0.479" stop-color="#a70000"/><stop offset="0.485" stop-color="#ff0800"/><stop offset="0.491" stop-color="#ff8a00"/><stop offset="0.497" stop-color="#f0ff0f"/><stop offset="0.503" stop-color="#75ff8a"/><stop offset="0.509" stop-color="#10ffef"/><stop offset="0.515" stop-color="#00c5ff"/><stop offset="0.521" stop-color="#0094ff"/><stop offset="0.527" stop-color="#0076ff"/><stop offset="0.539" stop-color="#005dff"/><stop offset="0.997" stop-color="#004dff"/></linearGradient>
<linearGradient id="b88"><stop offset="0.003" stop-color="#007fff"/><stop offset="0.408" stop-color="#007bff"/><stop offset="0.420" stop-color="#008fff"/><stop offset="0.426" stop-color="#00a9ff"/><stop offset="0.432" stop-color="#00d6ff"/><stop offset="0.438" stop-color="#1dffe2"/><stop offset="0.443" stop-color="#7eff81"/><stop offset="0.449" stop-color="#f5ff0a"/><stop offset="0.461" stop-color="#ff1100"/><stop offset="0.467" stop-color="#bc0000"/><stop offset="0.473" stop-color="#9e0000"/><stop offset="0.479" stop-color="#bd0000"/><stop offset="0.485" stop-color="#ff1200"/><stop offset="0.491" stop-color="#ff8a00"/><stop offset="0.497" stop-color="#f0ff0f"/><stop offset="0.503" stop-color="#75ff8a"/><stop offset="0.509" stop-color="#10ffef"/><stop offset="0.515" stop-color="#00c5ff"/><stop offset="0.521" stop-color="#0094ff"/><stop offset="0.527" stop-color="#0076ff"/><stop offset="0.539" stop-color="#005dff"/><stop offset="0.997" stop-color="#004dff"/></linearGradient>
<linearGradient id="b89"><stop offset="0.003" stop-color="#0000b7"/><stop offset="0.295" stop-color="#0000be"/><stop offset="0.336" stop-color="#0000cf"/><stop offset="0.354" stop-color="#0000e3"/><stop offset="0.360" stop-color="#0000f7"/><stop offset="0.366" stop-color="#0000d1"/><stop offset="0.372" stop-color="#0000e1"/><stop offset="0.378" stop-color="#0036ff"/><stop offset="0.384" stop-color="#0013ff"/><stop offset="0.390" stop-color="#0000ef"/><stop offset="0.396" stop-color="#005bff"/><stop offset="0.402" stop-color="#007aff"/><stop offset="0.408" stop-color="#0032ff"/><stop offset="0.414" stop-color="#0078ff"/><stop offset="0.420" stop-color="#00e3ff"/><stop offset="0.426" stop-color="#00abff"/><stop offset="0.432" stop-color="#00b5ff"/><stop offset="0.438" stop-color="#2cffd3"/><stop offset="0.443" stop-color="#73ff8c"/><stop offset="0.449" stop-color="#eaff15"/><stop offset="0.455" stop-color="#ffbe00"/><stop offset="0.461" stop-color="#ff7400"/><stop offset="0.467" stop-color="#ff5100"/><stop offset="0.473" stop-color="#ff4100"/><stop offset="0.479" stop-color="#ff1200"/><stop offset="0.485" stop-color="#ff5600"/><stop offset="0.491" stop-color="#ff8600"/><stop offset="0.497" stop-color="#ffd600"/><stop offset="0.503" stop-color="#c5ff3a"/><stop offset="0.509" stop-color="#56ffa9"/><stop offset="0.515" stop-color="#0dfff2"/><stop offset="0.521" stop-color="#0077ff"/><stop offset="0.527" stop-color="#00dfff"/><stop offset="0.533" stop-color="#0efff1"/><stop offset="0.539" stop-color="#0047ff"/><stop offset="0.545" stop-color="#0050ff"/><stop offset="0.551" stop-color="#00eaff"/><stop offset="0.557" stop-color="#0060ff"/><stop offset="0.562" stop-color="#0000e5"/><stop offset="0.568" stop-color="#0090ff"/><stop offset="0.574" stop-color="#007fff"/><stop offset="0.580" stop-color="#0000dd"/><stop offset="0.586" stop-color="#001cff"/><stop offset="0.592" stop-color="#0055ff"/><stop offset="0.598" stop-color="#0000fe"/><stop offset="0.604" stop-color="#0000f1"/><stop offset="0.610" stop-color="#000dff"/><stop offset="0.616" stop-color="#0000f8"/><stop offset="0.842" stop-color="#0000ce"/><stop offset="0.997" stop-color="#0000c1"/></linearGradient>
<linearGradient id="b90"><stop offset="0.003" stop-color="#0000b6"/><stop offset="0.170" stop-color="#0000b9"/><stop offset="0.277" stop-color="#0000d8"/><stop offset="0.324" stop-color="#0005ff"/><stop offset="0.384" stop-color="#005aff"/><stop offset="0.414" stop-color="#0098ff"/><stop offset="0.420" stop-color="#00e4ff"/><stop offset="0.426" stop-color="#00b6ff"/><stop offset="0.432" stop-color="#00c5ff"/><stop offset="0.438" stop-color="#34ffcb"/><stop offset="0.443" stop-color="#7fff80"/><stop offset="0.449" stop-color="#f5ff0a"/><stop offset="0.461" stop-color="#ff6e00"/><stop offset="0.467" stop-color="#ff4f00"/><stop offset="0.473" stop-color="#ff4000"/><stop offset="0.479" stop-color="#ff1200"/><stop offset="0.485" stop-color="#ff5500"/><stop offset="0.491" stop-color="#ff8400"/><stop offset="0.497" stop-color="#ffd400"/><stop offset="0.503" stop-color="#c8ff37"/><stop offset="0.509" stop-color="#58ffa7"/><stop offset="0.515" stop-color="#11ffee"/><stop offset="0.521" stop-color="#007aff"/><stop offset="0.527" stop-color="#00dbff"/><stop offset="0.533" stop-color="#11ffee"/><stop offset="0.539" stop-color="#004bff"/><stop offset="0.545" stop-color="#004cff"/><stop offset="0.551" stop-color="#00e9ff"/><stop offset="0.557" stop-color="#0066ff"/><stop offset="0.562" stop-color="#0000e3"/><stop offset="0.568" stop-color="#008bff"/><stop offset="0.574" stop-color="#0084ff"/><stop offset="0.580" stop-color="#0000df"/><stop offset="0.586" stop-color="#0018ff"/><stop offset="0.592" stop-color="#0056ff"/><stop offset="0.598" stop-color="#0002ff"/><stop offset="0.604" stop-color="#0000ef"/><stop offset="0.610" stop-color="#000aff"/><stop offset="0.652" stop-color="#0000f6"/><stop offset="0.848" stop-color="#0000d1"/><stop offset="0.997" stop-color="#0000c3"/></linearGradient>
<linearGradient id="b91"><stop offset="0.003" stop-color="#0000af"/><stop offset="0.241" stop-color="#0000d5"/><stop offset="0.336" stop-color="#0000ce"/><stop offset="0.366" stop-color="#0000e4"/><stop offset="0.372" stop-color="#0000fd"/><stop offset="0.378" stop-color="#003aff"/><stop offset="0.384" stop-color="#0000f9"/><stop offset="0.390" stop-color="#0005ff"/><stop offset="0.396" stop-color="#0074ff"/><stop offset="0.402" stop-color="#0065ff"/><stop offset="0.408" stop-color="#0031ff"/><stop offset="0.414" stop-color="#009bff"/><stop offset="0.420" stop-color="#00e2ff"/><stop offset="0.426" stop-color="#009aff"/><stop offset="0.432" stop-color="#00d1ff"/><stop offset="0.438" stop-color="#3bffc4"/><stop offset="0.443" stop-color="#8bff74"/><stop offset="0.449" stop-color="#ffff00"/><stop offset="0.461" stop-color="#ff6800"/><stop offset="0.473" stop-color="#ff3e00"/><stop offset="0.479" stop-color="#ff1200"/><stop offset="0.485" stop-color="#ff5500"/><stop offset="0.491" stop-color="#ff8200"/><stop offset="0.497" stop-color="#ffd100"/><stop offset="0.503" stop-color="#ceff31"/><stop offset="0.509" stop-color="#5cffa3"/><stop offset="0.515" stop-color="#19ffe6"/><stop offset="0.521" stop-color="#007fff"/><stop offset="0.527" stop-color="#00d2ff"/><stop offset="0.533" stop-color="#17ffe8"/><stop offset="0.539" stop-color="#0055ff"/><stop offset="0.545" stop-color="#0043ff"/><stop offset="0.551" stop-color="#00e6ff"/><stop offset="0.557" stop-color="#0074ff"/><stop offset="0.562" stop-color="#0000e1"/><stop offset="0.568" stop-color="#0080ff"/><stop offset="0.574" stop-color="#008eff"/><stop offset="0.580" stop-color="#0000e4"/><stop offset="0.586" stop-color="#0010ff"/><stop offset="0.592" stop-color="#0058ff"/><stop offset="0.598" stop-color="#0007ff"/><stop offset="0.604" stop-color="#0000e8"/><stop offset="0.652" stop-color="#0003ff"/><stop offset="0.848" stop-color="#0000d6"/><stop offset="0.997" stop-color="#0000c7"/></linearGradient>
<linearGradient id="b92"><stop offset="0.003" stop-color="#0000be"/><stop offset="0.128" stop-color="#0000cc"/><stop offset="0.289" stop-color="#0000bd"/><stop offset="0.330" stop-color="#0000c6"/><stop offset="0.360" stop-color="#0000f3"/><stop offset="0.366" stop-color="#000dff"/><stop offset="0.372" stop-color="#002aff"/><stop offset="0.378" stop-color="#0035ff"/><stop offset="0.384" stop-color="#0000ef"/><stop offset="0.390" stop-color="#0017ff"/><stop offset="0.396" stop-color="#007eff"/><stop offset="0.408" stop-color="#0039ff"/><stop offset="0.414" stop-color="#00b3ff"/><stop offset="0.420" stop-color="#00daff"/><stop offset="0.426" stop-color="#0093ff"/><stop offset="0.432" stop-color="#00e7ff"/><stop offset="0.438" stop-color="#45ffba"/><stop offset="0.443" stop-color="#9fff60"/><stop offset="0.449" stop-color="#fff200"/><stop offset="0.455" stop-color="#ffa200"/><stop offset="0.461" stop-color="#ff6000"/><stop offset="0.473" stop-color="#ff3c00"/><stop offset="0.479" stop-color="#ff1200"/><stop offset="0.485" stop-color="#ff5400"/><stop offset="0.491" stop-color="#ff7e00"/><stop offset="0.497" stop-color="#ffcc00"/><stop offset="0.503" stop-color="#d5ff2a"/><stop offset="0.509" stop-color="#61ff9e"/><stop offset="0.515" stop-color="#21ffde"/><stop offset="0.521" stop-color="#0086ff"/><stop offset="0.527" stop-color="#00c7ff"/><stop offset="0.533" stop-color="#1cffe3"/><stop offset="0.539" stop-color="#0061ff"/><stop offset="0.545" stop-color="#003aff"/><stop offset="0.551" stop-color="#00e2ff"/><stop offset="0.557" stop-color="#0082ff"/><stop offset="0.562" stop-color="#0000e0"/><stop offset="0.568" stop-color="#0075ff"/><stop offset="0.574" stop-color="#0097ff"/><stop offset="0.580" stop-color="#0000ea"/><stop offset="0.586" stop-color="#0009ff"/><stop offset="0.592" stop-color="#0059ff"/><stop offset="0.604" stop-color="#002cff"/><stop offset="0.610" stop-color="#000fff"/><stop offset="0.616" stop-color="#0000fc"/><stop offset="0.640" stop-color="#0000e3"/><stop offset="0.771" stop-color="#0000ed"/><stop offset="0.997" stop-color="#0000cc"/></linearGradient>
<linearGradient id="b93"><stop offset="0.003" stop-color="#0000c6"/><stop offset="0.164" stop-color="#0000b5"/><stop offset="0.271" stop-color="#0000dc"/><stop offset="0.324" stop-color="#0000ff"/><stop offset="0.360" stop-color="#002cff"/><stop offset="0.366" stop-color="#002cff"/><stop offset="0.378" stop-color="#0002ff"/><stop offset="0.384" stop-color="#0000f6"/><stop offset="0.390" stop-color="#002fff"/><stop offset="0.396" stop-color="#0081ff"/><stop offset="0.402" stop-color="#0047ff"/><stop offset="0.408" stop-color="#0046ff"/><stop offset="0.414" stop-color="#00c6ff"/><stop offset="0.420" stop-color="#00ceff"/><stop offset="0.426" stop-color="#0092ff"/><stop offset="0.432" stop-color="#00faff"/><stop offset="0.438" stop-color="#4dffb2"/><stop offset="0.443" stop-color="#b4ff4b"/><stop offset="0.449" stop-color="#ffe400"/><stop offset="0.455" stop-color="#ff9400"/><stop offset="0.461" stop-color="#ff5500"/><stop offset="0.473" stop-color="#ff3a00"/><stop offset="0.479" stop-color="#ff1200"/><stop offset="0.485" stop-color="#ff5300"/><stop offset="0.491" stop-color="#ff7a00"/><stop offset="0.497" stop-color="#ffc700"/><stop offset="0.503" stop-color="#dcff23"/><stop offset="0.509" stop-color="#66ff99"/><stop offset="0.515" stop-color="#28ffd7"/><stop offset="0.521" stop-color="#008eff"/><stop offset="0.527" stop-color="#00bdff"/><stop offset="0.533" stop-color="#20ffdf"/><stop offset="0.539" stop-color="#006dff"/><stop offset="0.545" stop-color="#0032ff"/><stop offset="0.551" stop-color="#00dcff"/><stop offset="0.557" stop-color="#0090ff"/><stop offset="0.562" stop-color="#0000e1"/><stop offset="0.568" stop-color="#0069ff"/><stop offset="0.574" stop-color="#009fff"/><stop offset="0.580" stop-color="#0000f3"/><stop offset="0.586" stop-color="#0000f4"/><stop offset="0.598" stop-color="#0039ff"/><stop offset="0.604" stop-color="#004fff"/><stop offset="0.616" stop-color="#004eff"/><stop offset="0.658" stop-color="#0000fc"/><stop offset="0.723" stop-color="#0000da"/><stop offset="0.997" stop-color="#0000d3"/></linearGradient>
<linearGradient id="b94"><stop offset="0.003" stop-color="#0000af"/><stop offset="0.092" stop-color="#0000ba"/><stop offset="0.247" stop-color="#0000fa"/><stop offset="0.318" stop-color="#0002ff"/><stop offset="0.378" stop-color="#0056ff"/><stop offset="0.408" stop-color="#0092ff"/><stop offset="0.414" stop-color="#00d8ff"/><stop offset="0.420" stop-color="#00bfff"/><stop offset="0.426" stop-color="#00bfff"/><stop offset="0.432" stop-color="#10ffef"/><stop offset="0.438" stop-color="#59ffa6"/><stop offset="0.443" stop-color="#c8ff37"/><stop offset="0.449" stop-color="#ffd600"/><stop offset="0.455" stop-color="#ff8700"/><stop offset="0.461" stop-color="#ff5600"/><stop offset="0.473" stop-color="#ff3700"/><stop offset="0.479" stop-color="#ff1200"/><stop offset="0.485" stop-color="#ff5200"/><stop offset="0.491" stop-color="#ff7700"/><stop offset="0.497" stop-color="#ffc200"/><stop offset="0.503" stop-color="#e3ff1c"/><stop offset="0.509" stop-color="#6cff93"/><stop offset="0.515" stop-color="#2effd1"/><stop offset="0.521" stop-color="#0097ff"/><stop offset="0.527" stop-color="#00b2ff"/><stop offset="0.533" stop-color="#23ffdc"/><stop offset="0.539" stop-color="#007aff"/><stop offset="0.545" stop-color="#002aff"/><stop offset="0.551" stop-color="#00ceff"/><stop offset="0.557" stop-color="#00b0ff"/><stop offset="0.562" stop-color="#0000ec"/><stop offset="0.568" stop-color="#003cff"/><stop offset="0.574" stop-color="#00b3ff"/><stop offset="0.580" stop-color="#002aff"/><stop offset="0.586" stop-color="#0000f8"/><stop offset="0.592" stop-color="#0000dc"/><stop offset="0.598" stop-color="#0000d8"/><stop offset="0.610" stop-color="#0009ff"/><stop offset="0.634" stop-color="#003dff"/><stop offset="0.652" stop-color="#0048ff"/><stop offset="0.753" stop-color="#0000f9"/><stop offset="0.824" stop-color="#0000da"/><stop offset="0.997" stop-color="#0000c4"/></linearGradient>
<linearGradient id="b95"><stop offset="0.003" stop-color="#0000bc"/><stop offset="0.128" stop-color="#0000ed"/><stop offset="0.235" stop-color="#0000e0"/><stop offset="0.330" stop-color="#0000d5"/><stop offset="0.366" stop-color="#0004ff"/><stop offset="0.384" stop-color="#0072ff"/><stop offset="0.390" stop-color="#0078ff"/><stop offset="0.396" stop-color="#005bff"/><stop offset="0.402" stop-color="#002fff"/><stop offset="0.414" stop-color="#00e1ff"/><stop offset="0.420" stop-color="#00a6ff"/><stop offset="0.426" stop-color="#00b8ff"/><stop offset="0.432" stop-color="#2affd5"/><stop offset="0.438" stop-color="#6dff92"/><stop offset="0.443" stop-color="#dfff20"/><stop offset="0.449" stop-color="#ffc800"/><stop offset="0.455" stop-color="#ff7d00"/><stop offset="0.461" stop-color="#ff5300"/><stop offset="0.473" stop-color="#ff3400"/><stop offset="0.479" stop-color="#ff1200"/><stop offset="0.485" stop-color="#ff5100"/><stop offset="0.491" stop-color="#ff7300"/><stop offset="0.497" stop-color="#ffbd00"/><stop offset="0.503" stop-color="#eaff15"/><stop offset="0.509" stop-color="#76ff89"/><stop offset="0.515" stop-color="#37ffc8"/><stop offset="0.521" stop-color="#00afff"/><stop offset="0.527" stop-color="#0096ff"/><stop offset="0.533" stop-color="#21ffde"/><stop offset="0.539" stop-color="#00b3ff"/><stop offset="0.545" stop-color="#001dff"/><stop offset="0.551" stop-color="#00a1ff"/><stop offset="0.557" stop-color="#00dcff"/><stop offset="0.562" stop-color="#0013ff"/><stop offset="0.568" stop-color="#0002ff"/><stop offset="0.574" stop-color="#00a4ff"/><stop offset="0.580" stop-color="#00b2ff"/><stop offset="0.586" stop-color="#009dff"/><stop offset="0.604" stop-color="#0006ff"/><stop offset="0.610" stop-color="#0000e4"/><stop offset="0.628" stop-color="#0000d6"/><stop offset="0.658" stop-color="#0007ff"/><stop offset="0.723" stop-color="#002aff"/><stop offset="0.830" stop-color="#0014ff"/><stop offset="0.914" stop-color="#0000f6"/><stop offset="0.997" stop-color="#0000da"/></linearGradient>
<linearGradient id="b96"><stop offset="0.003" stop-color="#0000df"/><stop offset="0.098" stop-color="#0000d7"/><stop offset="0.199" stop-color="#0000cd"/><stop offset="0.289" stop-color="#0000f4"/><stop offset="0.318" stop-color="#000aff"/><stop offset="0.348" stop-color="#003fff"/><stop offset="0.372" stop-color="#006eff"/><stop offset="0.378" stop-color="#006aff"/><stop offset="0.384" stop-color="#0057ff"/><stop offset="0.390" stop-color="#0038ff"/><stop offset="0.396" stop-color="#002eff"/><stop offset="0.402" stop-color="#0056ff"/><stop offset="0.408" stop-color="#00bdff"/><stop offset="0.414" stop-color="#00d7ff"/><stop offset="0.420" stop-color="#0095ff"/><stop offset="0.426" stop-color="#00ddff"/><stop offset="0.432" stop-color="#3effc1"/><stop offset="0.438" stop-color="#8fff70"/><stop offset="0.443" stop-color="#ffff00"/><stop offset="0.455" stop-color="#ff6d00"/><stop offset="0.461" stop-color="#ff4f00"/><stop offset="0.473" stop-color="#ff3200"/><stop offset="0.479" stop-color="#ff1200"/><stop offset="0.485" stop-color="#ff4f00"/><stop offset="0.491" stop-color="#ff6900"/><stop offset="0.497" stop-color="#ffac00"/><stop offset="0.503" stop-color="#fffb00"/><stop offset="0.509" stop-color="#95ff6a"/><stop offset="0.515" stop-color="#45ffba"/><stop offset="0.521" stop-color="#00dcff"/><stop offset="0.527" stop-color="#0078ff"/><stop offset="0.533" stop-color="#09fff6"/><stop offset="0.539" stop-color="#00ecff"/><stop offset="0.545" stop-color="#002cff"/><stop offset="0.551" stop-color="#0067ff"/><stop offset="0.557" stop-color="#00eeff"/><stop offset="0.562" stop-color="#0073ff"/><stop offset="0.568" stop-color="#0000e1"/><stop offset="0.574" stop-color="#0000fd"/><stop offset="0.592" stop-color="#0098ff"/><stop offset="0.598" stop-color="#00abff"/><stop offset="0.604" stop-color="#00a0ff"/><stop offset="0.640" stop-color="#000fff"/><stop offset="0.646" stop-color="#0000fa"/><stop offset="0.658" stop-color="#0000de"/><stop offset="0.705" stop-color="#0000d2"/><stop offset="0.812" stop-color="#0000f8"/><stop offset="0.997" stop-color="#0000fd"/></linearGradient>
<linearGradient id="b97"><stop offset="0.003" stop-color="#0000c7"/><stop offset="0.092" stop-color="#0000c4"/><stop offset="0.205" stop-color="#0003ff"/><stop offset="0.348" stop-color="#004dff"/><stop offset="0.366" stop-color="#0047ff"/><stop offset="0.372" stop-color="#003bff"/><stop offset="0.390" stop-color="#0056ff"/><stop offset="0.396" stop-color="#0081ff"/><stop offset="0.402" stop-color="#00bcff"/><stop offset="0.408" stop-color="#00ddff"/><stop offset="0.414" stop-color="#00b2ff"/><stop offset="0.420" stop-color="#009fff"/><stop offset="0.426" stop-color="#08fff7"/><stop offset="0.432" stop-color="#4effb1"/><stop offset="0.438" stop-color="#b1ff4e"/><stop offset="0.443" stop-color="#ffe800"/><stop offset="0.449" stop-color="#ff9a00"/><stop offset="0.455" stop-color="#ff5c00"/><stop offset="0.473" stop-color="#ff2d00"/><stop offset="0.479" stop-color="#ff1200"/><stop offset="0.485" stop-color="#ff4b00"/><stop offset="0.491" stop-color="#ff5800"/><stop offset="0.497" stop-color="#ff9600"/><stop offset="0.503" stop-color="#ffe500"/><stop offset="0.509" stop-color="#b5ff4a"/><stop offset="0.515" stop-color="#4effb1"/><stop offset="0.521" stop-color="#03fffc"/><stop offset="0.527" stop-color="#0072ff"/><stop offset="0.533" stop-color="#00dfff"/><stop offset="0.539" stop-color="#1dffe2"/><stop offset="0.545" stop-color="#0070ff"/><stop offset="0.551" stop-color="#0025ff"/><stop offset="0.557" stop-color="#00c0ff"/><stop offset="0.562" stop-color="#00ddff"/><stop offset="0.568" stop-color="#0061ff"/><stop offset="0.574" stop-color="#0020ff"/><stop offset="0.580" stop-color="#0000f1"/><stop offset="0.586" stop-color="#0000e1"/><stop offset="0.592" stop-color="#0000f1"/><stop offset="0.598" stop-color="#001cff"/><stop offset="0.604" stop-color="#0052ff"/><stop offset="0.610" stop-color="#0074ff"/><stop offset="0.628" stop-color="#009dff"/><stop offset="0.646" stop-color="#0091ff"/><stop offset="0.664" stop-color="#0069ff"/><stop offset="0.735" stop-color="#0000fc"/><stop offset="0.777" stop-color="#0000d7"/><stop offset="0.896" stop-color="#0000c9"/><stop offset="0.997" stop-color="#0000d3"/></linearGradient>
<linearGradient id="b98"><stop offset="0.003" stop-color="#0000c1"/><stop offset="0.110" stop-color="#0004ff"/><stop offset="0.199" stop-color="#0025ff"/><stop offset="0.336" stop-color="#001cff"/><stop offset="0.366" stop-color="#002dff"/><stop offset="0.372" stop-color="#0038ff"/><stop offset="0.384" stop-color="#0088ff"/><stop offset="0.390" stop-color="#00b5ff"/><stop offset="0.396" stop-color="#00d5ff"/><stop offset="0.402" stop-color="#00cfff"/><stop offset="0.414" stop-color="#0094ff"/><stop offset="0.420" stop-color="#00deff"/><stop offset="0.426" stop-color="#36ffc9"/><stop offset="0.432" stop-color="#77ff88"/><stop offset="0.438" stop-color="#e0ff1f"/><stop offset="0.443" stop-color="#ffce00"/><stop offset="0.449" stop-color="#ff8400"/><stop offset="0.455" stop-color="#ff5600"/><stop offset="0.479" stop-color="#ff1200"/><stop offset="0.485" stop-color="#ff4700"/><stop offset="0.491" stop-color="#ff5500"/><stop offset="0.497" stop-color="#ff8200"/><stop offset="0.503" stop-color="#ffcf00"/><stop offset="0.509" stop-color="#d4ff2b"/><stop offset="0.515" stop-color="#63ff9c"/><stop offset="0.521" stop-color="#2cffd3"/><stop offset="0.527" stop-color="#00a3ff"/><stop offset="0.533" stop-color="#0093ff"/><stop offset="0.539" stop-color="#1fffe0"/><stop offset="0.545" stop-color="#00d6ff"/><stop offset="0.551" stop-color="#0026ff"/><stop offset="0.557" stop-color="#0049ff"/><stop offset="0.562" stop-color="#00d0ff"/><stop offset="0.568" stop-color="#00edff"/><stop offset="0.574" stop-color="#00dfff"/><stop offset="0.580" stop-color="#00b3ff"/><stop offset="0.592" stop-color="#0032ff"/><stop offset="0.598" stop-color="#0000fd"/><stop offset="0.604" stop-color="#0000e3"/><stop offset="0.616" stop-color="#0000e8"/><stop offset="0.628" stop-color="#0004ff"/><stop offset="0.658" stop-color="#006aff"/><stop offset="0.699" stop-color="#0081ff"/><stop offset="0.747" stop-color="#006bff"/><stop offset="0.807" stop-color="#003aff"/><stop offset="0.908" stop-color="#0000fb"/><stop offset="0.997" stop-color="#0000d3"/></linearGradient>
<linearGradient id="b99"><stop offset="0.003" stop-color="#0000f6"/><stop offset="0.057" stop-color="#000eff"/><stop offset="0.247" stop-color="#0014ff"/><stop offset="0.324" stop-color="#0039ff"/><stop offset="0.348" stop-color="#0066ff"/><stop offset="0.372" stop-color="#00a3ff"/><stop offset="0.378" stop-color="#00c2ff"/><stop offset="0.384" stop-color="#00cfff"/><stop offset="0.390" stop-color="#00c8ff"/><stop offset="0.402" stop-color="#0096ff"/><stop offset="0.408" stop-color="#00a3ff"/><stop offset="0.414" stop-color="#00dfff"/><stop offset="0.420" stop-color="#2dffd2"/><stop offset="0.426" stop-color="#5bffa4"/><stop offset="0.432" stop-color="#adff52"/><stop offset="0.438" stop-color="#fff000"/><stop offset="0.449" stop-color="#ff6a00"/><stop offset="0.461" stop-color="#ff4100"/><stop offset="0.479" stop-color="#ff1200"/><stop offset="0.485" stop-color="#ff4300"/><stop offset="0.491" stop-color="#ff5200"/><stop offset="0.497" stop-color="#ff7300"/><stop offset="0.509" stop-color="#fcff03"/><stop offset="0.515" stop-color="#93ff6c"/><stop offset="0.521" stop-color="#47ffb8"/><stop offset="0.527" stop-color="#00efff"/><stop offset="0.533" stop-color="#006eff"/><stop offset="0.539" stop-color="#00e0ff"/><stop offset="0.545" stop-color="#23ffdc"/><stop offset="0.551" stop-color="#00a6ff"/><stop offset="0.557" stop-color="#0022ff"/><stop offset="0.562" stop-color="#002eff"/><stop offset="0.580" stop-color="#00c7ff"/><stop offset="0.586" stop-color="#00e3ff"/><stop offset="0.592" stop-color="#00e0ff"/><stop offset="0.598" stop-color="#00beff"/><stop offset="0.604" stop-color="#0087ff"/><stop offset="0.628" stop-color="#0017ff"/><stop offset="0.634" stop-color="#0001ff"/><stop offset="0.652" stop-color="#0000e2"/><stop offset="0.705" stop-color="#0002ff"/><stop offset="0.777" stop-color="#0044ff"/><stop offset="0.884" stop-color="#004dff"/><stop offset="0.997" stop-color="#002aff"/></linearGradient>
<linearGradient id="b100"><stop offset="0.003" stop-color="#0001ff"/><stop offset="0.128" stop-color="#0006ff"/><stop offset="0.217" stop-color="#003cff"/><stop offset="0.330" stop-color="#009eff"/><stop offset="0.360" stop-color="#00beff"/><stop offset="0.372" stop-color="#00bfff"/><stop offset="0.390" stop-color="#0095ff"/><stop offset="0.396" stop-color="#00a4ff"/><stop offset="0.408" stop-color="#0bfff4"/><stop offset="0.420" stop-color="#5bffa4"/><stop offset="0.432" stop-color="#fcff03"/><stop offset="0.438" stop-color="#ffc900"/><stop offset="0.443" stop-color="#ff8400"/><stop offset="0.449" stop-color="#ff5200"/><stop offset="0.479" stop-color="#ff1200"/><stop offset="0.485" stop-color="#ff4000"/><stop offset="0.497" stop-color="#ff5c00"/><stop offset="0.503" stop-color="#ff9400"/><stop offset="0.509" stop-color="#ffde00"/><stop offset="0.515" stop-color="#c8ff37"/><stop offset="0.521" stop-color="#60ff9f"/><stop offset="0.527" stop-color="#2dffd2"/><stop offset="0.533" stop-color="#00a1ff"/><stop offset="0.539" stop-color="#0081ff"/><stop offset="0.545" stop-color="#00f9ff"/><stop offset="0.551" stop-color="#26ffd9"/><stop offset="0.557" stop-color="#00a9ff"/><stop offset="0.562" stop-color="#0065ff"/><stop offset="0.568" stop-color="#0031ff"/><stop offset="0.574" stop-color="#001aff"/><stop offset="0.580" stop-color="#0024ff"/><stop offset="0.586" stop-color="#004aff"/><stop offset="0.598" stop-color="#00b3ff"/><stop offset="0.604" stop-color="#00d2ff"/><stop offset="0.616" stop-color="#00dcff"/><stop offset="0.634" stop-color="#00bcff"/><stop offset="0.658" stop-color="#005fff"/><stop offset="0.711" stop-color="#0006ff"/><stop offset="0.765" stop-color="#0000e0"/><stop offset="0.890" stop-color="#0000f2"/><stop offset="0.973" stop-color="#000aff"/><stop offset="0.997" stop-color="#0010ff"/></linearGradient>
<linearGradient id="b101"><stop offset="0.003" stop-color="#0000f2"/><stop offset="0.051" stop-color="#0009ff"/><stop offset="0.211" stop-color="#0083ff"/><stop offset="0.307" stop-color="#0099ff"/><stop offset="0.372" stop-color="#0095ff"/><stop offset="0.378" stop-color="#009fff"/><stop offset="0.390" stop-color="#00e6ff"/><stop offset="0.396" stop-color="#0cfff3"/><stop offset="0.402" stop-color="#36ffc9"/><stop offset="0.408" stop-color="#50ffaf"/><stop offset="0.420" stop-color="#afff50"/><stop offset="0.426" stop-color="#fcff03"/><stop offset="0.438" stop-color="#ff8f00"/><stop offset="0.443" stop-color="#ff6300"/><stop offset="0.467" stop-color="#ff2400"/><stop offset="0.479" stop-color="#ff1200"/><stop offset="0.485" stop-color="#ff3900"/><stop offset="0.497" stop-color="#ff5400"/><stop offset="0.503" stop-color="#ff7600"/><stop offset="0.515" stop-color="#fbff04"/><stop offset="0.521" stop-color="#92ff6d"/><stop offset="0.527" stop-color="#47ffb8"/><stop offset="0.533" stop-color="#0bfff4"/><stop offset="0.539" stop-color="#0094ff"/><stop offset="0.545" stop-color="#007fff"/><stop offset="0.551" stop-color="#00fbff"/><stop offset="0.557" stop-color="#2fffd0"/><stop offset="0.562" stop-color="#27ffd8"/><stop offset="0.568" stop-color="#00fdff"/><stop offset="0.586" stop-color="#003fff"/><stop offset="0.592" stop-color="#001fff"/><stop offset="0.598" stop-color="#001dff"/><stop offset="0.646" stop-color="#00bbff"/><stop offset="0.664" stop-color="#00c8ff"/><stop offset="0.705" stop-color="#00aeff"/><stop offset="0.777" stop-color="#004aff"/><stop offset="0.890" stop-color="#0000fd"/><stop offset="0.997" stop-color="#0000db"/></linearGradient>
<linearGradient id="b102"><stop offset="0.003" stop-color="#002cff"/><stop offset="0.104" stop-color="#0078ff"/><stop offset="0.217" stop-color="#008dff"/><stop offset="0.324" stop-color="#00a7ff"/><stop offset="0.348" stop-color="#00c5ff"/><stop offset="0.378" stop-color="#06fff9"/><stop offset="0.390" stop-color="#40ffbf"/><stop offset="0.396" stop-color="#54ffab"/><stop offset="0.402" stop-color="#79ff86"/><stop offset="0.414" stop-color="#e4ff1b"/><stop offset="0.420" stop-color="#ffef00"/><stop offset="0.426" stop-color="#ffc900"/><stop offset="0.432" stop-color="#ff8f00"/><stop offset="0.438" stop-color="#ff6200"/><stop offset="0.467" stop-color="#ff1c00"/><stop offset="0.479" stop-color="#ff1200"/><stop offset="0.485" stop-color="#ff3300"/><stop offset="0.503" stop-color="#ff5b00"/><stop offset="0.509" stop-color="#ff9500"/><stop offset="0.515" stop-color="#ffdf00"/><stop offset="0.521" stop-color="#d0ff2f"/><stop offset="0.527" stop-color="#7cff83"/><stop offset="0.539" stop-color="#0bfff4"/><stop offset="0.545" stop-color="#0092ff"/><stop offset="0.551" stop-color="#0073ff"/><stop offset="0.557" stop-color="#009aff"/><stop offset="0.568" stop-color="#07fff8"/><stop offset="0.574" stop-color="#27ffd8"/><stop offset="0.580" stop-color="#28ffd7"/><stop offset="0.586" stop-color="#09fff6"/><stop offset="0.592" stop-color="#00d0ff"/><stop offset="0.598" stop-color="#008dff"/><stop offset="0.604" stop-color="#0065ff"/><stop offset="0.622" stop-color="#0028ff"/><stop offset="0.634" stop-color="#001bff"/><stop offset="0.723" stop-color="#0085ff"/><stop offset="0.771" stop-color="#009bff"/><stop offset="0.890" stop-color="#0078ff"/><stop offset="0.997" stop-color="#0039ff"/></linearGradient>
<linearGradient id="b103"><stop offset="0.003" stop-color="#006aff"/><stop offset="0.176" stop-color="#009aff"/><stop offset="0.307" stop-color="#04fffb"/><stop offset="0.372" stop-color="#48ffb7"/><stop offset="0.378" stop-color="#51ffae"/><stop offset="0.390" stop-color="#95ff6a"/><stop offset="0.402" stop-color="#e4ff1b"/><stop offset="0.408" stop-color="#ffef00"/><stop offset="0.432" stop-color="#ff6300"/><stop offset="0.461" stop-color="#ff2100"/><stop offset="0.467" stop-color="#ff1500"/><stop offset="0.479" stop-color="#ff1200"/><stop offset="0.485" stop-color="#ff2c00"/><stop offset="0.503" stop-color="#ff5300"/><stop offset="0.509" stop-color="#ff7700"/><stop offset="0.521" stop-color="#ffe800"/><stop offset="0.527" stop-color="#d0ff2f"/><stop offset="0.533" stop-color="#7bff84"/><stop offset="0.545" stop-color="#0bfff4"/><stop offset="0.557" stop-color="#0098ff"/><stop offset="0.562" stop-color="#006bff"/><stop offset="0.568" stop-color="#0068ff"/><stop offset="0.574" stop-color="#0089ff"/><stop offset="0.586" stop-color="#00f2ff"/><stop offset="0.592" stop-color="#19ffe6"/><stop offset="0.598" stop-color="#25ffda"/><stop offset="0.616" stop-color="#00fcff"/><stop offset="0.652" stop-color="#005aff"/><stop offset="0.688" stop-color="#002bff"/><stop offset="0.729" stop-color="#001dff"/><stop offset="0.938" stop-color="#005eff"/><stop offset="0.997" stop-color="#0061ff"/></linearGradient>
<linearGradient id="b104"><stop offset="0.003" stop-color="#0079ff"/><stop offset="0.074" stop-color="#00a1ff"/><stop offset="0.182" stop-color="#04fffb"/><stop offset="0.342" stop-color="#73ff8c"/><stop offset="0.378" stop-color="#b8ff47"/><stop offset="0.390" stop-color="#fffc00"/><stop offset="0.408" stop-color="#ffa600"/><stop offset="0.420" stop-color="#ff6800"/><stop offset="0.432" stop-color="#ff4e00"/><stop offset="0.461" stop-color="#ff1500"/><stop offset="0.479" stop-color="#ff1200"/><stop offset="0.503" stop-color="#ff4e00"/><stop offset="0.509" stop-color="#ff5600"/><stop offset="0.515" stop-color="#ff7b00"/><stop offset="0.527" stop-color="#ffe900"/><stop offset="0.533" stop-color="#cfff30"/><stop offset="0.539" stop-color="#7aff85"/><stop offset="0.545" stop-color="#4bffb4"/><stop offset="0.557" stop-color="#32ffcd"/><stop offset="0.562" stop-color="#0dfff2"/><stop offset="0.568" stop-color="#00deff"/><stop offset="0.580" stop-color="#0079ff"/><stop offset="0.586" stop-color="#0065ff"/><stop offset="0.592" stop-color="#007cff"/><stop offset="0.598" stop-color="#00a6ff"/><stop offset="0.622" stop-color="#00fcff"/><stop offset="0.640" stop-color="#17ffe8"/><stop offset="0.664" stop-color="#00fbff"/><stop offset="0.771" stop-color="#004eff"/><stop offset="0.872" stop-color="#0020ff"/><stop offset="0.997" stop-color="#001cff"/></linearGradient>
<linearGradient id="b105"><stop offset="0.003" stop-color="#00c5ff"/><stop offset="0.062" stop-color="#04fffb"/><stop offset="0.235" stop-color="#81ff7e"/><stop offset="0.342" stop-color="#e9ff16"/><stop offset="0.354" stop-color="#feff01"/><stop offset="0.378" stop-color="#ffe000"/><stop offset="0.408" stop-color="#ff6800"/><stop offset="0.420" stop-color="#ff4d00"/><stop offset="0.455" stop-color="#ff1300"/><stop offset="0.479" stop-color="#ff1200"/><stop offset="0.509" stop-color="#ff4e00"/><stop offset="0.515" stop-color="#ff5600"/><stop offset="0.521" stop-color="#ff7b00"/><stop offset="0.533" stop-color="#ffea00"/><stop offset="0.539" stop-color="#ceff31"/><stop offset="0.557" stop-color="#67ff98"/><stop offset="0.562" stop-color="#4dffb2"/><stop offset="0.574" stop-color="#37ffc8"/><stop offset="0.580" stop-color="#1affe5"/><stop offset="0.586" stop-color="#00edff"/><stop offset="0.598" stop-color="#0091ff"/><stop offset="0.610" stop-color="#006eff"/><stop offset="0.622" stop-color="#006bff"/><stop offset="0.640" stop-color="#0096ff"/><stop offset="0.652" stop-color="#00bfff"/><stop offset="0.699" stop-color="#00eeff"/><stop offset="0.741" stop-color="#00f2ff"/><stop offset="0.997" stop-color="#004eff"/></linearGradient>
<linearGradient id="b106"><stop offset="0.003" stop-color="#2effd1"/><stop offset="0.110" stop-color="#80ff7f"/><stop offset="0.247" stop-color="#fffe00"/><stop offset="0.348" stop-color="#ffb700"/><stop offset="0.384" stop-color="#ff8100"/><stop offset="0.396" stop-color="#ff5800"/><stop offset="0.449" stop-color="#ff1100"/><stop offset="0.491" stop-color="#ff2500"/><stop offset="0.521" stop-color="#ff5600"/><stop offset="0.527" stop-color="#ff7d00"/><stop offset="0.533" stop-color="#ffb000"/><stop offset="0.539" stop-color="#ffd600"/><stop offset="0.551" stop-color="#f8ff07"/><stop offset="0.580" stop-color="#54ffab"/><stop offset="0.610" stop-color="#0bfff4"/><stop offset="0.622" stop-color="#00e3ff"/><stop offset="0.652" stop-color="#007bff"/><stop offset="0.682" stop-color="#006dff"/><stop offset="0.741" stop-color="#0093ff"/><stop offset="0.783" stop-color="#00b2ff"/><stop offset="0.908" stop-color="#00c7ff"/><stop offset="0.997" stop-color="#00b5ff"/></linearGradient>
<linearGradient id="b107"><stop offset="0.003" stop-color="#87ff78"/><stop offset="0.122" stop-color="#fffe00"/><stop offset="0.354" stop-color="#ff6800"/><stop offset="0.402" stop-color="#ff3f00"/><stop offset="0.443" stop-color="#ff0c00"/><stop offset="0.497" stop-color="#ff2700"/><stop offset="0.527" stop-color="#ff5600"/><stop offset="0.533" stop-color="#ff7800"/><stop offset="0.568" stop-color="#fdff02"/><stop offset="0.592" stop-color="#7aff85"/><stop offset="0.610" stop-color="#4dffb2"/><stop offset="0.646" stop-color="#22ffdd"/><stop offset="0.670" stop-color="#00fbff"/><stop offset="0.771" stop-color="#0082ff"/><stop offset="0.842" stop-color="#0073ff"/><stop offset="0.997" stop-color="#0090ff"/></linearGradient>
<linearGradient id="b108"><stop offset="0.003" stop-color="#fcff03"/><stop offset="0.211" stop-color="#ff7800"/><stop offset="0.295" stop-color="#ff4f00"/><stop offset="0.312" stop-color="#ff5500"/><stop offset="0.390" stop-color="#ff3900"/><stop offset="0.432" stop-color="#ff0800"/><stop offset="0.503" stop-color="#ff2900"/><stop offset="0.533" stop-color="#ff5300"/><stop offset="0.545" stop-color="#ff6200"/><stop offset="0.574" stop-color="#ffcb00"/><stop offset="0.586" stop-color="#fffb00"/><stop offset="0.646" stop-color="#5cffa3"/><stop offset="0.688" stop-color="#3bffc4"/><stop offset="0.759" stop-color="#11ffee"/><stop offset="0.789" stop-color="#00faff"/><stop offset="0.997" stop-color="#0096ff"/></linearGradient>
<linearGradient id="b109"><stop offset="0.003" stop-color="#ffb000"/><stop offset="0.128" stop-color="#ff6400"/><stop offset="0.170" stop-color="#ff4f00"/><stop offset="0.188" stop-color="#ff5500"/><stop offset="0.378" stop-color="#ff2d00"/><stop offset="0.420" stop-color="#ff0300"/><stop offset="0.509" stop-color="#ff2b00"/><stop offset="0.533" stop-color="#ff4900"/><stop offset="0.557" stop-color="#ff5500"/><stop offset="0.580" stop-color="#ff9700"/><stop offset="0.592" stop-color="#ffc400"/><stop offset="0.622" stop-color="#fffc00"/><stop offset="0.646" stop-color="#cfff30"/><stop offset="0.688" stop-color="#9aff65"/><stop offset="0.771" stop-color="#46ffb9"/><stop offset="0.890" stop-color="#23ffdc"/><stop offset="0.997" stop-color="#03fffc"/></linearGradient>
<linearGradient id="b110"><stop offset="0.003" stop-color="#ff6900"/><stop offset="0.051" stop-color="#ff5000"/><stop offset="0.068" stop-color="#ff5500"/><stop offset="0.378" stop-color="#ff1800"/><stop offset="0.408" stop-color="#ff0000"/><stop offset="0.515" stop-color="#ff2d00"/><stop offset="0.562" stop-color="#ff5100"/><stop offset="0.580" stop-color="#ff5e00"/><stop offset="0.598" stop-color="#ff8600"/><stop offset="0.658" stop-color="#ffe700"/><stop offset="0.693" stop-color="#faff05"/><stop offset="0.789" stop-color="#a9ff56"/><stop offset="0.997" stop-color="#45ffba"/></linearGradient>
<linearGradient id="b111"><stop offset="0.003" stop-color="#ff4c00"/><stop offset="0.372" stop-color="#ff0400"/><stop offset="0.426" stop-color="#ff0600"/><stop offset="0.527" stop-color="#ff3100"/><stop offset="0.592" stop-color="#ff5400"/><stop offset="0.610" stop-color="#ff5700"/><stop offset="0.652" stop-color="#ff9600"/><stop offset="0.789" stop-color="#fffb00"/><stop offset="0.997" stop-color="#b3ff4c"/></linearGradient>
<linearGradient id="b112"><stop offset="0.003" stop-color="#ff3800"/><stop offset="0.336" stop-color="#ff0100"/><stop offset="0.426" stop-color="#ff0600"/><stop offset="0.551" stop-color="#ff3b00"/><stop offset="0.616" stop-color="#ff5400"/><stop offset="0.670" stop-color="#ff5a00"/><stop offset="0.676" stop-color="#ff6b00"/><stop offset="0.795" stop-color="#ffb300"/><stop offset="0.997" stop-color="#fffa00"/></linearGradient>
<linearGradient id="b113"><stop offset="0.003" stop-color="#ff2300"/><stop offset="0.217" stop-color="#ff0200"/><stop offset="0.426" stop-color="#ff0600"/><stop offset="0.628" stop-color="#ff5300"/><stop offset="0.812" stop-color="#ff7100"/><stop offset="0.818" stop-color="#ff7200"/><stop offset="0.824" stop-color="#ff8600"/><stop offset="0.997" stop-color="#ffb400"/></linearGradient>
<linearGradient id="b114"><stop offset="0.003" stop-color="#ff0f00"/><stop offset="0.146" stop-color="#ff0300"/><stop offset="0.426" stop-color="#ff0600"/><stop offset="0.664" stop-color="#ff5800"/><stop offset="0.801" stop-color="#ff7000"/><stop offset="0.997" stop-color="#ff8400"/></linearGradient>
<linearGradient id="b115"><stop offset="0.003" stop-color="#ff0500"/><stop offset="0.426" stop-color="#ff0600"/><stop offset="0.717" stop-color="#ff6700"/><stop offset="0.997" stop-color="#ff8400"/></linearGradient>
<linearGradient id="b116"><stop offset="0.003" stop-color="#ff0900"/><stop offset="0.176" stop-color="#ff0e00"/><stop offset="0.408" stop-color="#ff0000"/><stop offset="0.717" stop-color="#ff6700"/><stop offset="0.997" stop-color="#ff8400"/></linearGradient>
<linearGradient id="b117"><stop offset="0.003" stop-color="#ff1e00"/><stop offset="0.176" stop-color="#ff2300"/><stop offset="0.324" stop-color="#ff0f00"/><stop offset="0.366" stop-color="#ff0100"/><stop offset="0.432" stop-color="#ff0800"/><stop offset="0.717" stop-color="#ff6700"/><stop offset="0.997" stop-color="#ff8400"/></linearGradient>
<linearGradient id="b118"><stop offset="0.003" stop-color="#ff3200"/><stop offset="0.176" stop-color="#ff3800"/><stop offset="0.324" stop-color="#ff2400"/><stop offset="0.378" stop-color="#ff0000"/><stop offset="0.443" stop-color="#ff0c00"/><stop offset="0.723" stop-color="#ff6800"/><stop offset="0.997" stop-color="#ff8400"/></linearGradient>
<linearGradient id="b119"><stop offset="0.003" stop-color="#ff4700"/><stop offset="0.176" stop-color="#ff4d00"/><stop offset="0.324" stop-color="#ff3a00"/><stop offset="0.372" stop-color="#ff1500"/><stop offset="0.396" stop-color="#ff0000"/><stop offset="0.717" stop-color="#ff6700"/><stop offset="0.997" stop-color="#ff8400"/></linearGradient>
<linearGradient id="b120"><stop offset="0.003" stop-color="#ff5a00"/><stop offset="0.128" stop-color="#ff7500"/><stop offset="0.277" stop-color="#ff5600"/><stop offset="0.289" stop-color="#ff4e00"/><stop offset="0.301" stop-color="#ff5500"/><stop offset="0.360" stop-color="#ff3600"/><stop offset="0.408" stop-color="#ff0000"/><stop offset="0.616" stop-color="#ff4f00"/><stop offset="0.789" stop-color="#ff6e00"/><stop offset="0.997" stop-color="#ff8400"/></linearGradient>
<linearGradient id="b121"><stop offset="0.003" stop-color="#ff9b00"/><stop offset="0.122" stop-color="#ffc100"/><stop offset="0.271" stop-color="#ff9b00"/><stop offset="0.324" stop-color="#ff7200"/><stop offset="0.342" stop-color="#ff5500"/><stop offset="0.372" stop-color="#ff3e00"/><stop offset="0.420" stop-color="#ff0300"/><stop offset="0.521" stop-color="#ff2f00"/><stop offset="0.574" stop-color="#ff4b00"/><stop offset="0.741" stop-color="#ff6900"/><stop offset="0.753" stop-color="#ff7b00"/><stop offset="0.854" stop-color="#ff9d00"/><stop offset="0.997" stop-color="#ffb500"/></linearGradient>
<linearGradient id="b122"><stop offset="0.003" stop-color="#ffed00"/><stop offset="0.074" stop-color="#f6ff09"/><stop offset="0.122" stop-color="#e5ff1a"/><stop offset="0.235" stop-color="#fffa00"/><stop offset="0.277" stop-color="#ffe800"/><stop offset="0.324" stop-color="#ffbb00"/><stop offset="0.360" stop-color="#ff6600"/><stop offset="0.372" stop-color="#ff5200"/><stop offset="0.432" stop-color="#ff0800"/><stop offset="0.503" stop-color="#ff2800"/><stop offset="0.551" stop-color="#ff4c00"/><stop offset="0.640" stop-color="#ff5700"/><stop offset="0.652" stop-color="#ff6b00"/><stop offset="0.783" stop-color="#ffc900"/><stop offset="0.997" stop-color="#fffa00"/></linearGradient>
<linearGradient id="b123"><stop offset="0.003" stop-color="#a5ff5a"/><stop offset="0.116" stop-color="#6cff93"/><stop offset="0.265" stop-color="#9fff60"/><stop offset="0.318" stop-color="#dfff20"/><stop offset="0.330" stop-color="#ffff00"/><stop offset="0.348" stop-color="#ffd800"/><stop offset="0.372" stop-color="#ff7c00"/><stop offset="0.384" stop-color="#ff5700"/><stop offset="0.443" stop-color="#ff0c00"/><stop offset="0.491" stop-color="#ff1e00"/><stop offset="0.521" stop-color="#ff4500"/><stop offset="0.568" stop-color="#ff5c00"/><stop offset="0.604" stop-color="#ff8400"/><stop offset="0.753" stop-color="#faff05"/><stop offset="0.812" stop-color="#dfff20"/><stop offset="0.997" stop-color="#b2ff4d"/></linearGradient>
<linearGradient id="b124"><stop offset="0.003" stop-color="#42ffbd"/><stop offset="0.122" stop-color="#1dffe2"/><stop offset="0.271" stop-color="#43ffbc"/><stop offset="0.318" stop-color="#69ff96"/><stop offset="0.348" stop-color="#c8ff37"/><stop offset="0.354" stop-color="#ecff13"/><stop offset="0.360" stop-color="#fff500"/><stop offset="0.402" stop-color="#ff5400"/><stop offset="0.449" stop-color="#ff0f00"/><stop offset="0.485" stop-color="#ff1c00"/><stop offset="0.515" stop-color="#ff4b00"/><stop offset="0.533" stop-color="#ff5700"/><stop offset="0.551" stop-color="#ff7e00"/><stop offset="0.598" stop-color="#ffc700"/><stop offset="0.664" stop-color="#fcff03"/><stop offset="0.741" stop-color="#a8ff57"/><stop offset="0.777" stop-color="#84ff7b"/><stop offset="0.997" stop-color="#45ffba"/></linearGradient>
<linearGradient id="b125"><stop offset="0.003" stop-color="#00e3ff"/><stop offset="0.116" stop-color="#00b1ff"/><stop offset="0.265" stop-color="#00e3ff"/><stop offset="0.301" stop-color="#09fff6"/><stop offset="0.324" stop-color="#2affd5"/><stop offset="0.348" stop-color="#5cffa3"/><stop offset="0.372" stop-color="#e5ff1a"/><stop offset="0.378" stop-color="#fffa00"/><stop offset="0.390" stop-color="#ffc700"/><stop offset="0.408" stop-color="#ff6700"/><stop offset="0.420" stop-color="#ff4d00"/><stop offset="0.455" stop-color="#ff1200"/><stop offset="0.479" stop-color="#ff1b00"/><stop offset="0.521" stop-color="#ff6400"/><stop offset="0.545" stop-color="#ffbd00"/><stop offset="0.580" stop-color="#fffe00"/><stop offset="0.729" stop-color="#49ffb6"/><stop offset="0.783" stop-color="#2cffd3"/><stop offset="0.997" stop-color="#02fffd"/></linearGradient>
<linearGradient id="b126"><stop offset="0.003" stop-color="#0082ff"/><stop offset="0.229" stop-color="#0090ff"/><stop offset="0.301" stop-color="#00a4ff"/><stop offset="0.318" stop-color="#00b1ff"/><stop offset="0.342" stop-color="#00f7ff"/><stop offset="0.360" stop-color="#43ffbc"/><stop offset="0.372" stop-color="#74ff8b"/><stop offset="0.384" stop-color="#bbff44"/><stop offset="0.390" stop-color="#e9ff16"/><stop offset="0.396" stop-color="#ffec00"/><stop offset="0.420" stop-color="#ff6600"/><stop offset="0.438" stop-color="#ff3d00"/><stop offset="0.461" stop-color="#ff1300"/><stop offset="0.473" stop-color="#ff1800"/><stop offset="0.509" stop-color="#ff5800"/><stop offset="0.521" stop-color="#ffa300"/><stop offset="0.539" stop-color="#fff200"/><stop offset="0.545" stop-color="#f1ff0e"/><stop offset="0.592" stop-color="#77ff88"/><stop offset="0.652" stop-color="#40ffbf"/><stop offset="0.717" stop-color="#17ffe8"/><stop offset="0.741" stop-color="#00f8ff"/><stop offset="0.777" stop-color="#00d2ff"/><stop offset="0.997" stop-color="#0095ff"/></linearGradient>
<linearGradient id="b127"><stop offset="0.003" stop-color="#0070ff"/><stop offset="0.146" stop-color="#007dff"/><stop offset="0.312" stop-color="#0096ff"/><stop offset="0.342" stop-color="#0097ff"/><stop offset="0.348" stop-color="#00abff"/><stop offset="0.360" stop-color="#00ecff"/><stop offset="0.366" stop-color="#0efff1"/><stop offset="0.378" stop-color="#41ffbe"/><stop offset="0.384" stop-color="#53ffac"/><stop offset="0.396" stop-color="#b2ff4d"/><stop offset="0.402" stop-color="#e6ff19"/><stop offset="0.408" stop-color="#ffee00"/><stop offset="0.432" stop-color="#ff5100"/><stop offset="0.449" stop-color="#ff3600"/><stop offset="0.467" stop-color="#ff1500"/><stop offset="0.473" stop-color="#ff1900"/><stop offset="0.503" stop-color="#ff5d00"/><stop offset="0.515" stop-color="#ffb800"/><stop offset="0.521" stop-color="#ffec00"/><stop offset="0.527" stop-color="#f3ff0c"/><stop offset="0.545" stop-color="#81ff7e"/><stop offset="0.557" stop-color="#5effa1"/><stop offset="0.574" stop-color="#46ffb9"/><stop offset="0.628" stop-color="#11ffee"/><stop offset="0.646" stop-color="#00f5ff"/><stop offset="0.729" stop-color="#007fff"/><stop offset="0.759" stop-color="#0072ff"/><stop offset="0.997" stop-color="#0090ff"/></linearGradient>
<linearGradient id="b128"><stop offset="0.003" stop-color="#0040ff"/><stop offset="0.122" stop-color="#002dff"/><stop offset="0.265" stop-color="#0064ff"/><stop offset="0.336" stop-color="#00abff"/><stop offset="0.360" stop-color="#0096ff"/><stop offset="0.366" stop-color="#00a5ff"/><stop offset="0.378" stop-color="#00e7ff"/><stop offset="0.384" stop-color="#0ffff0"/><stop offset="0.390" stop-color="#37ffc8"/><stop offset="0.396" stop-color="#51ffae"/><stop offset="0.408" stop-color="#b0ff4f"/><stop offset="0.414" stop-color="#ecff13"/><stop offset="0.420" stop-color="#ffde00"/><stop offset="0.432" stop-color="#ff8200"/><stop offset="0.438" stop-color="#ff5f00"/><stop offset="0.467" stop-color="#ff1900"/><stop offset="0.479" stop-color="#ff2f00"/><stop offset="0.497" stop-color="#ff5800"/><stop offset="0.515" stop-color="#fff600"/><stop offset="0.527" stop-color="#82ff7d"/><stop offset="0.533" stop-color="#60ff9f"/><stop offset="0.545" stop-color="#40ffbf"/><stop offset="0.568" stop-color="#00fdff"/><stop offset="0.592" stop-color="#00a7ff"/><stop offset="0.634" stop-color="#006fff"/><stop offset="0.664" stop-color="#0070ff"/><stop offset="0.765" stop-color="#00d6ff"/><stop offset="0.938" stop-color="#00c4ff"/><stop offset="0.997" stop-color="#00b4ff"/></linearGradient>
<linearGradient id="b129"><stop offset="0.003" stop-color="#0000f9"/><stop offset="0.182" stop-color="#000aff"/><stop offset="0.277" stop-color="#0021ff"/><stop offset="0.318" stop-color="#0044ff"/><stop offset="0.348" stop-color="#00b0ff"/><stop offset="0.354" stop-color="#00baff"/><stop offset="0.366" stop-color="#00aaff"/><stop offset="0.378" stop-color="#0095ff"/><stop offset="0.384" stop-color="#00a9ff"/><stop offset="0.390" stop-color="#00daff"/><stop offset="0.396" stop-color="#0dfff2"/><stop offset="0.402" stop-color="#36ffc9"/><stop offset="0.408" stop-color="#51ffae"/><stop offset="0.420" stop-color="#d0ff2f"/><stop offset="0.426" stop-color="#fff100"/><stop offset="0.443" stop-color="#ff5600"/><stop offset="0.467" stop-color="#ff2300"/><stop offset="0.473" stop-color="#ff2500"/><stop offset="0.491" stop-color="#ff5100"/><stop offset="0.497" stop-color="#ff6f00"/><stop offset="0.509" stop-color="#fffe00"/><stop offset="0.521" stop-color="#68ff97"/><stop offset="0.539" stop-color="#00faff"/><stop offset="0.551" stop-color="#0093ff"/><stop offset="0.562" stop-color="#006bff"/><stop offset="0.568" stop-color="#0063ff"/><stop offset="0.586" stop-color="#007eff"/><stop offset="0.604" stop-color="#00a5ff"/><stop offset="0.658" stop-color="#00f1ff"/><stop offset="0.688" stop-color="#03fffc"/><stop offset="0.723" stop-color="#00f3ff"/><stop offset="0.777" stop-color="#00afff"/><stop offset="0.997" stop-color="#004dff"/></linearGradient>
<linearGradient id="b130"><stop offset="0.003" stop-color="#0000fa"/><stop offset="0.211" stop-color="#0020ff"/><stop offset="0.301" stop-color="#001aff"/><stop offset="0.324" stop-color="#0015ff"/><stop offset="0.336" stop-color="#0023ff"/><stop offset="0.342" stop-color="#0037ff"/><stop offset="0.360" stop-color="#00a2ff"/><stop offset="0.366" stop-color="#00bcff"/><stop offset="0.372" stop-color="#00c7ff"/><stop offset="0.378" stop-color="#00c2ff"/><stop offset="0.390" stop-color="#0095ff"/><stop offset="0.396" stop-color="#00a6ff"/><stop offset="0.402" stop-color="#00d8ff"/><stop offset="0.408" stop-color="#17ffe8"/><stop offset="0.420" stop-color="#70ff8f"/><stop offset="0.432" stop-color="#fff900"/><stop offset="0.443" stop-color="#ff7800"/><stop offset="0.449" stop-color="#ff5400"/><stop offset="0.467" stop-color="#ff2c00"/><stop offset="0.473" stop-color="#ff2b00"/><stop offset="0.491" stop-color="#ff5500"/><stop offset="0.497" stop-color="#ff8500"/><stop offset="0.503" stop-color="#ffd000"/><stop offset="0.509" stop-color="#d7ff28"/><stop offset="0.515" stop-color="#68ff97"/><stop offset="0.521" stop-color="#3dffc2"/><stop offset="0.527" stop-color="#00f2ff"/><stop offset="0.533" stop-color="#0091ff"/><stop offset="0.539" stop-color="#006bff"/><stop offset="0.545" stop-color="#007aff"/><stop offset="0.551" stop-color="#00a9ff"/><stop offset="0.568" stop-color="#00f0ff"/><stop offset="0.574" stop-color="#05fffa"/><stop offset="0.592" stop-color="#25ffda"/><stop offset="0.628" stop-color="#0efff1"/><stop offset="0.646" stop-color="#00f2ff"/><stop offset="0.735" stop-color="#0047ff"/><stop offset="0.771" stop-color="#0023ff"/><stop offset="0.985" stop-color="#001cff"/><stop offset="0.997" stop-color="#001cff"/></linearGradient>
<linearGradient id="b131"><stop offset="0.003" stop-color="#0001ff"/><stop offset="0.152" stop-color="#0005ff"/><stop offset="0.324" stop-color="#0037ff"/><stop offset="0.348" stop-color="#0020ff"/><stop offset="0.354" stop-color="#0025ff"/><stop offset="0.360" stop-color="#0039ff"/><stop offset="0.372" stop-color="#0082ff"/><stop offset="0.378" stop-color="#00b1ff"/><stop offset="0.384" stop-color="#00ceff"/><stop offset="0.390" stop-color="#00c9ff"/><stop offset="0.402" stop-color="#0095ff"/><stop offset="0.408" stop-color="#00b6ff"/><stop offset="0.414" stop-color="#00faff"/><stop offset="0.426" stop-color="#67ff98"/><stop offset="0.432" stop-color="#c9ff36"/><stop offset="0.438" stop-color="#ffe200"/><stop offset="0.449" stop-color="#ff6600"/><stop offset="0.461" stop-color="#ff4200"/><stop offset="0.473" stop-color="#ff3100"/><stop offset="0.491" stop-color="#ff6300"/><stop offset="0.497" stop-color="#ffa200"/><stop offset="0.503" stop-color="#ffee00"/><stop offset="0.509" stop-color="#abff54"/><stop offset="0.515" stop-color="#4dffb2"/><stop offset="0.521" stop-color="#01fffe"/><stop offset="0.527" stop-color="#0079ff"/><stop offset="0.533" stop-color="#0099ff"/><stop offset="0.539" stop-color="#00e5ff"/><stop offset="0.545" stop-color="#17ffe8"/><stop offset="0.551" stop-color="#2dffd2"/><stop offset="0.562" stop-color="#21ffde"/><stop offset="0.574" stop-color="#00f6ff"/><stop offset="0.592" stop-color="#00a0ff"/><stop offset="0.628" stop-color="#0050ff"/><stop offset="0.664" stop-color="#0024ff"/><stop offset="0.699" stop-color="#001fff"/><stop offset="0.759" stop-color="#0052ff"/><stop offset="0.783" stop-color="#005fff"/><stop offset="0.979" stop-color="#0064ff"/><stop offset="0.997" stop-color="#0062ff"/></linearGradient>
<linearGradient id="b132"><stop offset="0.003" stop-color="#0000cc"/><stop offset="0.146" stop-color="#0000cb"/><stop offset="0.271" stop-color="#0000eb"/><stop offset="0.301" stop-color="#0004ff"/><stop offset="0.318" stop-color="#001cff"/><stop offset="0.342" stop-color="#0052ff"/><stop offset="0.354" stop-color="#0042ff"/><stop offset="0.366" stop-color="#0028ff"/><stop offset="0.372" stop-color="#0029ff"/><stop offset="0.378" stop-color="#0047ff"/><stop offset="0.390" stop-color="#00b6ff"/><stop offset="0.396" stop-color="#00d5ff"/><stop offset="0.402" stop-color="#00c8ff"/><stop offset="0.408" stop-color="#009eff"/><stop offset="0.414" stop-color="#009dff"/><stop offset="0.420" stop-color="#00f3ff"/><stop offset="0.426" stop-color="#41ffbe"/><stop offset="0.432" stop-color="#87ff78"/><stop offset="0.438" stop-color="#eaff15"/><stop offset="0.443" stop-color="#ffcb00"/><stop offset="0.449" stop-color="#ff8800"/><stop offset="0.455" stop-color="#ff5600"/><stop offset="0.473" stop-color="#ff3600"/><stop offset="0.485" stop-color="#ff5400"/><stop offset="0.491" stop-color="#ff7a00"/><stop offset="0.497" stop-color="#ffc100"/><stop offset="0.503" stop-color="#eeff11"/><stop offset="0.509" stop-color="#7eff81"/><stop offset="0.515" stop-color="#3effc1"/><stop offset="0.521" stop-color="#00c8ff"/><stop offset="0.527" stop-color="#007fff"/><stop offset="0.533" stop-color="#0ffff0"/><stop offset="0.539" stop-color="#15ffea"/><stop offset="0.545" stop-color="#00e1ff"/><stop offset="0.551" stop-color="#009aff"/><stop offset="0.557" stop-color="#006aff"/><stop offset="0.574" stop-color="#0029ff"/><stop offset="0.586" stop-color="#001aff"/><stop offset="0.628" stop-color="#003eff"/><stop offset="0.699" stop-color="#009cff"/><stop offset="0.741" stop-color="#00aaff"/><stop offset="0.997" stop-color="#0038ff"/></linearGradient>
<linearGradient id="b133"><stop offset="0.003" stop-color="#0000bf"/><stop offset="0.140" stop-color="#0000dc"/><stop offset="0.318" stop-color="#0000d4"/><stop offset="0.330" stop-color="#0000e9"/><stop offset="0.336" stop-color="#0000fd"/><stop offset="0.354" stop-color="#0057ff"/><stop offset="0.360" stop-color="#0063ff"/><stop offset="0.366" stop-color="#0060ff"/><stop offset="0.378" stop-color="#0032ff"/><stop offset="0.384" stop-color="#002cff"/><stop offset="0.390" stop-color="#0049ff"/><stop offset="0.402" stop-color="#00ceff"/><stop offset="0.408" stop-color="#00d8ff"/><stop offset="0.414" stop-color="#00a2ff"/><stop offset="0.420" stop-color="#00afff"/><stop offset="0.426" stop-color="#14ffeb"/><stop offset="0.432" stop-color="#50ffaf"/><stop offset="0.443" stop-color="#fff900"/><stop offset="0.455" stop-color="#ff7100"/><stop offset="0.461" stop-color="#ff5000"/><stop offset="0.473" stop-color="#ff3800"/><stop offset="0.485" stop-color="#ff5000"/><stop offset="0.491" stop-color="#ff8f00"/><stop offset="0.497" stop-color="#ffdf00"/><stop offset="0.503" stop-color="#c1ff3e"/><stop offset="0.509" stop-color="#59ffa6"/><stop offset="0.515" stop-color="#1dffe2"/><stop offset="0.521" stop-color="#008cff"/><stop offset="0.527" stop-color="#00b4ff"/><stop offset="0.533" stop-color="#24ffdb"/><stop offset="0.539" stop-color="#0098ff"/><stop offset="0.545" stop-color="#0027ff"/><stop offset="0.551" stop-color="#001dff"/><stop offset="0.580" stop-color="#0087ff"/><stop offset="0.592" stop-color="#00b3ff"/><stop offset="0.616" stop-color="#00cfff"/><stop offset="0.652" stop-color="#00cdff"/><stop offset="0.693" stop-color="#009aff"/><stop offset="0.771" stop-color="#000fff"/><stop offset="0.836" stop-color="#0000f7"/><stop offset="0.997" stop-color="#0000db"/></linearGradient>
<linearGradient id="b134"><stop offset="0.003" stop-color="#0000df"/><stop offset="0.295" stop-color="#0000f9"/><stop offset="0.318" stop-color="#0009ff"/><stop offset="0.366" stop-color="#004cff"/><stop offset="0.372" stop-color="#006aff"/><stop offset="0.384" stop-color="#006dff"/><stop offset="0.402" stop-color="#0093ff"/><stop offset="0.408" stop-color="#00cdff"/><stop offset="0.414" stop-color="#00cfff"/><stop offset="0.420" stop-color="#00c0ff"/><stop offset="0.426" stop-color="#00d1ff"/><stop offset="0.432" stop-color="#30ffcf"/><stop offset="0.438" stop-color="#69ff96"/><stop offset="0.443" stop-color="#ddff22"/><stop offset="0.449" stop-color="#ffc800"/><stop offset="0.455" stop-color="#ff7d00"/><stop offset="0.461" stop-color="#ff5300"/><stop offset="0.473" stop-color="#ff3a00"/><stop offset="0.485" stop-color="#ff5800"/><stop offset="0.491" stop-color="#ff9800"/><stop offset="0.497" stop-color="#ffe900"/><stop offset="0.503" stop-color="#abff54"/><stop offset="0.509" stop-color="#4bffb4"/><stop offset="0.515" stop-color="#00f0ff"/><stop offset="0.521" stop-color="#0075ff"/><stop offset="0.527" stop-color="#00f3ff"/><stop offset="0.533" stop-color="#08fff7"/><stop offset="0.539" stop-color="#004bff"/><stop offset="0.545" stop-color="#0041ff"/><stop offset="0.551" stop-color="#00b1ff"/><stop offset="0.557" stop-color="#00dfff"/><stop offset="0.568" stop-color="#00edff"/><stop offset="0.586" stop-color="#00d0ff"/><stop offset="0.604" stop-color="#009cff"/><stop offset="0.670" stop-color="#0013ff"/><stop offset="0.688" stop-color="#0000f8"/><stop offset="0.723" stop-color="#0000e1"/><stop offset="0.807" stop-color="#0000fa"/><stop offset="0.997" stop-color="#0010ff"/></linearGradient>
<linearGradient id="b135"><stop offset="0.003" stop-color="#0000c7"/><stop offset="0.140" stop-color="#0000be"/><stop offset="0.271" stop-color="#0000de"/><stop offset="0.318" stop-color="#0005ff"/><stop offset="0.336" stop-color="#0010ff"/><stop offset="0.342" stop-color="#0003ff"/><stop offset="0.354" stop-color="#0000e3"/><stop offset="0.360" stop-color="#0000e0"/><stop offset="0.366" stop-color="#0000ed"/><stop offset="0.372" stop-color="#0017ff"/><stop offset="0.378" stop-color="#004cff"/><stop offset="0.384" stop-color="#0073ff"/><stop offset="0.390" stop-color="#0074ff"/><stop offset="0.396" stop-color="#004aff"/><stop offset="0.402" stop-color="#0032ff"/><stop offset="0.414" stop-color="#00dfff"/><stop offset="0.426" stop-color="#009bff"/><stop offset="0.432" stop-color="#0efff1"/><stop offset="0.438" stop-color="#58ffa7"/><stop offset="0.443" stop-color="#c5ff3a"/><stop offset="0.449" stop-color="#ffd800"/><stop offset="0.455" stop-color="#ff8900"/><stop offset="0.461" stop-color="#ff5700"/><stop offset="0.473" stop-color="#ff3c00"/><stop offset="0.485" stop-color="#ff5f00"/><stop offset="0.491" stop-color="#ffa200"/><stop offset="0.497" stop-color="#fff200"/><stop offset="0.503" stop-color="#9dff62"/><stop offset="0.509" stop-color="#47ffb8"/><stop offset="0.515" stop-color="#00deff"/><stop offset="0.521" stop-color="#007cff"/><stop offset="0.527" stop-color="#0efff1"/><stop offset="0.533" stop-color="#00daff"/><stop offset="0.539" stop-color="#0024ff"/><stop offset="0.551" stop-color="#00e8ff"/><stop offset="0.557" stop-color="#0097ff"/><stop offset="0.580" stop-color="#001eff"/><stop offset="0.586" stop-color="#0008ff"/><stop offset="0.604" stop-color="#0000e6"/><stop offset="0.640" stop-color="#0000e7"/><stop offset="0.670" stop-color="#0003ff"/><stop offset="0.747" stop-color="#005eff"/><stop offset="0.789" stop-color="#0063ff"/><stop offset="0.997" stop-color="#0029ff"/></linearGradient>
<linearGradient id="b136"><stop offset="0.003" stop-color="#0000ac"/><stop offset="0.205" stop-color="#0000ba"/><stop offset="0.312" stop-color="#0000c3"/><stop offset="0.330" stop-color="#0000e4"/><stop offset="0.336" stop-color="#0000fe"/><stop offset="0.348" stop-color="#0022ff"/><stop offset="0.354" stop-color="#0021ff"/><stop offset="0.366" stop-color="#0000f9"/><stop offset="0.372" stop-color="#0000e5"/><stop offset="0.378" stop-color="#0000f0"/><stop offset="0.384" stop-color="#001fff"/><stop offset="0.390" stop-color="#0065ff"/><stop offset="0.396" stop-color="#007aff"/><stop offset="0.402" stop-color="#003cff"/><stop offset="0.408" stop-color="#0045ff"/><stop offset="0.414" stop-color="#00c4ff"/><stop offset="0.420" stop-color="#00d1ff"/><stop offset="0.426" stop-color="#0092ff"/><stop offset="0.432" stop-color="#00f6ff"/><stop offset="0.438" stop-color="#4bffb4"/><stop offset="0.443" stop-color="#aeff51"/><stop offset="0.449" stop-color="#ffe800"/><stop offset="0.455" stop-color="#ff9800"/><stop offset="0.461" stop-color="#ff5900"/><stop offset="0.473" stop-color="#ff3e00"/><stop offset="0.485" stop-color="#ff6600"/><stop offset="0.497" stop-color="#fffc00"/><stop offset="0.503" stop-color="#8fff70"/><stop offset="0.509" stop-color="#42ffbd"/><stop offset="0.515" stop-color="#00caff"/><stop offset="0.521" stop-color="#0087ff"/><stop offset="0.527" stop-color="#19ffe6"/><stop offset="0.533" stop-color="#00c1ff"/><stop offset="0.539" stop-color="#001fff"/><stop offset="0.545" stop-color="#009eff"/><stop offset="0.551" stop-color="#00d6ff"/><stop offset="0.557" stop-color="#000bff"/><stop offset="0.562" stop-color="#0000e1"/><stop offset="0.580" stop-color="#0004ff"/><stop offset="0.598" stop-color="#0042ff"/><stop offset="0.646" stop-color="#0084ff"/><stop offset="0.682" stop-color="#008cff"/><stop offset="0.723" stop-color="#0068ff"/><stop offset="0.777" stop-color="#001dff"/><stop offset="0.860" stop-color="#0000fa"/><stop offset="0.997" stop-color="#0000d2"/></linearGradient>
<linearGradient id="b137"><stop offset="0.003" stop-color="#0000c1"/><stop offset="0.271" stop-color="#0000d2"/><stop offset="0.307" stop-color="#0000d0"/><stop offset="0.348" stop-color="#0000f2"/><stop offset="0.354" stop-color="#0007ff"/><stop offset="0.366" stop-color="#0031ff"/><stop offset="0.378" stop-color="#0013ff"/><stop offset="0.390" stop-color="#0023ff"/><stop offset="0.396" stop-color="#007cff"/><stop offset="0.408" stop-color="#003dff"/><stop offset="0.414" stop-color="#00acff"/><stop offset="0.420" stop-color="#00ddff"/><stop offset="0.426" stop-color="#0095ff"/><stop offset="0.432" stop-color="#00dfff"/><stop offset="0.438" stop-color="#41ffbe"/><stop offset="0.443" stop-color="#96ff69"/><stop offset="0.449" stop-color="#fff800"/><stop offset="0.455" stop-color="#ffa800"/><stop offset="0.461" stop-color="#ff6500"/><stop offset="0.473" stop-color="#ff4000"/><stop offset="0.479" stop-color="#ff5000"/><stop offset="0.485" stop-color="#ff6e00"/><stop offset="0.497" stop-color="#f7ff08"/><stop offset="0.503" stop-color="#81ff7e"/><stop offset="0.509" stop-color="#3bffc4"/><stop offset="0.515" stop-color="#00b6ff"/><stop offset="0.521" stop-color="#0096ff"/><stop offset="0.527" stop-color="#20ffdf"/><stop offset="0.533" stop-color="#00a6ff"/><stop offset="0.539" stop-color="#0020ff"/><stop offset="0.545" stop-color="#00b4ff"/><stop offset="0.551" stop-color="#00c4ff"/><stop offset="0.557" stop-color="#0000f8"/><stop offset="0.562" stop-color="#002fff"/><stop offset="0.568" stop-color="#0094ff"/><stop offset="0.580" stop-color="#00acff"/><stop offset="0.598" stop-color="#00a6ff"/><stop offset="0.646" stop-color="#005dff"/><stop offset="0.699" stop-color="#0000ff"/><stop offset="0.741" stop-color="#0000d5"/><stop offset="0.866" stop-color="#0000ce"/><stop offset="0.997" stop-color="#0000d3"/></linearGradient>
<linearGradient id="b138"><stop offset="0.003" stop-color="#0000c3"/><stop offset="0.164" stop-color="#0000c3"/><stop offset="0.295" stop-color="#0000d9"/><stop offset="0.342" stop-color="#0007ff"/><stop offset="0.390" stop-color="#0049ff"/><stop offset="0.396" stop-color="#0070ff"/><stop offset="0.408" stop-color="#0069ff"/><stop offset="0.414" stop-color="#0091ff"/><stop offset="0.420" stop-color="#00e4ff"/><stop offset="0.426" stop-color="#00a0ff"/><stop offset="0.432" stop-color="#00c6ff"/><stop offset="0.438" stop-color="#35ffca"/><stop offset="0.443" stop-color="#80ff7f"/><stop offset="0.449" stop-color="#f7ff08"/><stop offset="0.461" stop-color="#ff6d00"/><stop offset="0.467" stop-color="#ff4f00"/><stop offset="0.473" stop-color="#ff4100"/><stop offset="0.479" stop-color="#ff5100"/><stop offset="0.485" stop-color="#ff7400"/><stop offset="0.491" stop-color="#ffbe00"/><stop offset="0.497" stop-color="#eaff15"/><stop offset="0.503" stop-color="#73ff8c"/><stop offset="0.509" stop-color="#33ffcc"/><stop offset="0.515" stop-color="#00a2ff"/><stop offset="0.521" stop-color="#00a8ff"/><stop offset="0.527" stop-color="#21ffde"/><stop offset="0.533" stop-color="#008bff"/><stop offset="0.539" stop-color="#0026ff"/><stop offset="0.545" stop-color="#00c7ff"/><stop offset="0.551" stop-color="#00aeff"/><stop offset="0.557" stop-color="#0000ea"/><stop offset="0.562" stop-color="#0048ff"/><stop offset="0.568" stop-color="#00b1ff"/><stop offset="0.574" stop-color="#0066ff"/><stop offset="0.598" stop-color="#0007ff"/><stop offset="0.646" stop-color="#0000d6"/><stop offset="0.693" stop-color="#0000dd"/><stop offset="0.747" stop-color="#0004ff"/><stop offset="0.789" stop-color="#0011ff"/><stop offset="0.997" stop-color="#0000fd"/></linearGradient>
<linearGradient id="b139"><stop offset="0.003" stop-color="#0024ff"/><stop offset="0.324" stop-color="#0019ff"/><stop offset="0.360" stop-color="#0000fb"/><stop offset="0.372" stop-color="#0000f1"/><stop offset="0.378" stop-color="#0038ff"/><stop offset="0.384" stop-color="#000fff"/><stop offset="0.390" stop-color="#0000f1"/><stop offset="0.396" stop-color="#005eff"/><stop offset="0.402" stop-color="#0078ff"/><stop offset="0.408" stop-color="#0031ff"/><stop offset="0.414" stop-color="#007eff"/><stop offset="0.420" stop-color="#00e4ff"/><stop offset="0.426" stop-color="#00a7ff"/><stop offset="0.432" stop-color="#00bcff"/><stop offset="0.438" stop-color="#31ffce"/><stop offset="0.443" stop-color="#7aff85"/><stop offset="0.449" stop-color="#f1ff0e"/><stop offset="0.455" stop-color="#ffb900"/><stop offset="0.461" stop-color="#ff7000"/><stop offset="0.467" stop-color="#ff5000"/><stop offset="0.473" stop-color="#ff4200"/><stop offset="0.479" stop-color="#ff5200"/><stop offset="0.485" stop-color="#ff7800"/><stop offset="0.491" stop-color="#ffc400"/><stop offset="0.497" stop-color="#e1ff1e"/><stop offset="0.503" stop-color="#6bff94"/><stop offset="0.509" stop-color="#2cffd3"/><stop offset="0.515" stop-color="#0096ff"/><stop offset="0.521" stop-color="#00b5ff"/><stop offset="0.527" stop-color="#1fffe0"/><stop offset="0.533" stop-color="#0077ff"/><stop offset="0.539" stop-color="#002eff"/><stop offset="0.545" stop-color="#00d4ff"/><stop offset="0.551" stop-color="#0099ff"/><stop offset="0.557" stop-color="#0000e3"/><stop offset="0.562" stop-color="#0060ff"/><stop offset="0.568" stop-color="#00a7ff"/><stop offset="0.574" stop-color="#0000f8"/><stop offset="0.580" stop-color="#0000d7"/><stop offset="0.622" stop-color="#0005ff"/><stop offset="0.682" stop-color="#0032ff"/><stop offset="0.735" stop-color="#002eff"/><stop offset="0.795" stop-color="#000fff"/><stop offset="0.884" stop-color="#0000f5"/><stop offset="0.997" stop-color="#0000da"/></linearGradient>
<linearGradient id="b140"><stop offset="0.003" stop-color="#22ffdd"/><stop offset="0.324" stop-color="#07fff8"/><stop offset="0.360" stop-color="#00bbff"/><stop offset="0.396" stop-color="#0070ff"/><stop offset="0.402" stop-color="#007bff"/><stop offset="0.408" stop-color="#0057ff"/><stop offset="0.414" stop-color="#0077ff"/><stop offset="0.420" stop-color="#00e3ff"/><stop offset="0.426" stop-color="#00abff"/><stop offset="0.432" stop-color="#00b6ff"/><stop offset="0.438" stop-color="#2dffd2"/><stop offset="0.443" stop-color="#74ff8b"/><stop offset="0.449" stop-color="#ebff14"/><stop offset="0.455" stop-color="#ffbd00"/><stop offset="0.461" stop-color="#ff7300"/><stop offset="0.467" stop-color="#ff5100"/><stop offset="0.473" stop-color="#ff4400"/><stop offset="0.479" stop-color="#ff5300"/><stop offset="0.485" stop-color="#ff7d00"/><stop offset="0.491" stop-color="#ffca00"/><stop offset="0.497" stop-color="#d9ff26"/><stop offset="0.503" stop-color="#64ff9b"/><stop offset="0.509" stop-color="#24ffdb"/><stop offset="0.515" stop-color="#008cff"/><stop offset="0.521" stop-color="#00c2ff"/><stop offset="0.527" stop-color="#1cffe3"/><stop offset="0.533" stop-color="#0068ff"/><stop offset="0.539" stop-color="#0037ff"/><stop offset="0.545" stop-color="#00dcff"/><stop offset="0.551" stop-color="#0088ff"/><stop offset="0.557" stop-color="#0000e1"/><stop offset="0.562" stop-color="#006fff"/><stop offset="0.568" stop-color="#009eff"/><stop offset="0.574" stop-color="#0000ef"/><stop offset="0.580" stop-color="#0005ff"/><stop offset="0.586" stop-color="#0046ff"/><stop offset="0.604" stop-color="#0054ff"/><stop offset="0.658" stop-color="#0039ff"/><stop offset="0.717" stop-color="#0000fd"/><stop offset="0.777" stop-color="#0000d7"/><stop offset="0.997" stop-color="#0000c4"/></linearGradient>
<linearGradient id="b141"><stop offset="0.003" stop-color="#fff000"/><stop offset="0.247" stop-color="#f5ff0a"/><stop offset="0.318" stop-color="#eeff11"/><stop offset="0.330" stop-color="#d0ff2f"/><stop offset="0.390" stop-color="#0cfff3"/><stop offset="0.396" stop-color="#00f8ff"/><stop offset="0.408" stop-color="#00d1ff"/><stop offset="0.414" stop-color="#00acff"/><stop offset="0.432" stop-color="#0009ff"/><stop offset="0.443" stop-color="#0000a5"/><stop offset="0.455" stop-color="#0000e3"/><stop offset="0.461" stop-color="#0030ff"/><stop offset="0.467" stop-color="#00adff"/><stop offset="0.473" stop-color="#ffce00"/><stop offset="0.479" stop-color="#ff4600"/><stop offset="0.485" stop-color="#10ffef"/><stop offset="0.491" stop-color="#005fff"/><stop offset="0.497" stop-color="#0000f2"/><stop offset="0.509" stop-color="#0000ad"/><stop offset="0.521" stop-color="#00008f"/><stop offset="0.997" stop-color="#00008f"/></linearGradient>
<linearGradient id="b142"><stop offset="0.003" stop-color="#22ffdd"/><stop offset="0.324" stop-color="#07fff8"/><stop offset="0.360" stop-color="#00bbff"/><stop offset="0.408" stop-color="#0057ff"/><stop offset="0.426" stop-color="#0000f9"/><stop offset="0.438" stop-color="#0000b4"/><stop offset="0.455" stop-color="#0005ff"/><stop offset="0.461" stop-color="#0061ff"/><stop offset="0.467" stop-color="#00ccff"/><stop offset="0.473" stop-color="#ffd400"/><stop offset="0.479" stop-color="#ff4a00"/><stop offset="0.485" stop-color="#08fff7"/><stop offset="0.491" stop-color="#0070ff"/><stop offset="0.497" stop-color="#0002ff"/><stop offset="0.509" stop-color="#0000b6"/><stop offset="0.521" stop-color="#000090"/><stop offset="0.997" stop-color="#00008f"/></linearGradient>
<linearGradient id="b143"><stop offset="0.003" stop-color="#0024ff"/><stop offset="0.324" stop-color="#0019ff"/><stop offset="0.360" stop-color="#0000fb"/><stop offset="0.414" stop-color="#0000ca"/><stop offset="0.426" stop-color="#0000b4"/><stop offset="0.443" stop-color="#0000f1"/><stop offset="0.449" stop-color="#0009ff"/><stop offset="0.455" stop-color="#003bff"/><stop offset="0.467" stop-color="#00e8ff"/><stop offset="0.473" stop-color="#ffdf00"/><stop offset="0.479" stop-color="#ff5200"/><stop offset="0.485" stop-color="#00f9ff"/><stop offset="0.497" stop-color="#0019ff"/><stop offset="0.503" stop-color="#0000e1"/><stop offset="0.515" stop-color="#0000aa"/><stop offset="0.527" stop-color="#00008f"/><stop offset="0.997" stop-color="#00008f"/></linearGradient>
<linearGradient id="b144"><stop offset="0.003" stop-color="#00008f"/><stop offset="0.402" stop-color="#000091"/><stop offset="0.426" stop-color="#0000c0"/><stop offset="0.443" stop-color="#0000fc"/><stop offset="0.449" stop-color="#0012ff"/><stop offset="0.455" stop-color="#004dff"/><stop offset="0.467" stop-color="#00efff"/><stop offset="0.473" stop-color="#ffeb00"/><stop offset="0.479" stop-color="#ff5a00"/><stop offset="0.485" stop-color="#00efff"/><stop offset="0.497" stop-color="#001eff"/><stop offset="0.503" stop-color="#0000e4"/><stop offset="0.515" stop-color="#0000ac"/><stop offset="0.527" stop-color="#00008f"/><stop offset="0.997" stop-color="#00008f"/></linearGradient>
<linearGradient id="b145"><stop offset="0.003" stop-color="#00008f"/><stop offset="0.414" stop-color="#000093"/><stop offset="0.432" stop-color="#0000bb"/><stop offset="0.449" stop-color="#0002ff"/><stop offset="0.455" stop-color="#0028ff"/><stop offset="0.467" stop-color="#00e0ff"/><stop offset="0.473" stop-color="#fff600"/><stop offset="0.479" stop-color="#ff6100"/><stop offset="0.485" stop-color="#00e7ff"/><stop offset="0.497" stop-color="#0009ff"/><stop offset="0.509" stop-color="#0000bb"/><stop offset="0.521" stop-color="#000093"/><stop offset="0.997" stop-color="#00008f"/></linearGradient>
<linearGradient id="b146"><stop offset="0.003" stop-color="#000091"/><stop offset="0.432" stop-color="#000092"/><stop offset="0.443" stop-color="#0000b6"/><stop offset="0.455" stop-color="#0000f4"/><stop offset="0.461" stop-color="#003fff"/><stop offset="0.467" stop-color="#00b7ff"/><stop offset="0.473" stop-color="#fcff03"/><stop offset="0.479" stop-color="#ff6900"/><stop offset="0.485" stop-color="#00d7ff"/><stop offset="0.491" stop-color="#0055ff"/><stop offset="0.497" stop-color="#0000ee"/><stop offset="0.509" stop-color="#0000a9"/><stop offset="0.515" stop-color="#000095"/><stop offset="0.598" stop-color="#00008f"/><stop offset="0.997" stop-color="#00008f"/></linearGradient>
<linearGradient id="b147"><stop offset="0.003" stop-color="#000095"/><stop offset="0.438" stop-color="#00008f"/><stop offset="0.443" stop-color="#000097"/><stop offset="0.455" stop-color="#0000d2"/><stop offset="0.461" stop-color="#000cff"/><stop offset="0.467" stop-color="#0093ff"/><stop offset="0.473" stop-color="#f0ff0f"/><stop offset="0.479" stop-color="#ff7200"/><stop offset="0.485" stop-color="#00cbff"/><stop offset="0.491" stop-color="#003eff"/><stop offset="0.497" stop-color="#0000e2"/><stop offset="0.509" stop-color="#00009f"/><stop offset="0.515" stop-color="#00008f"/><stop offset="0.997" stop-color="#00008f"/></linearGradient>
<linearGradient id="b148"><stop offset="0.003" stop-color="#000098"/><stop offset="0.432" stop-color="#00008f"/><stop offset="0.443" stop-color="#0000ac"/><stop offset="0.455" stop-color="#0000eb"/><stop offset="0.461" stop-color="#002dff"/><stop offset="0.467" stop-color="#00abff"/><stop offset="0.473" stop-color="#e3ff1c"/><stop offset="0.479" stop-color="#ff7a00"/><stop offset="0.485" stop-color="#00cfff"/><stop offset="0.491" stop-color="#0047ff"/><stop offset="0.497" stop-color="#0000e7"/><stop offset="0.509" stop-color="#0000a3"/><stop offset="0.515" stop-color="#000091"/><stop offset="0.997" stop-color="#00008f"/></linearGradient>
<linearGradient id="b149"><stop offset="0.003" stop-color="#00009c"/><stop offset="0.283" stop-color="#000092"/><stop offset="0.420" stop-color="#000095"/><stop offset="0.438" stop-color="#0000c5"/><stop offset="0.449" stop-color="#0000f7"/><stop offset="0.455" stop-color="#0013ff"/><stop offset="0.467" stop-color="#00d4ff"/><stop offset="0.473" stop-color="#d7ff28"/><stop offset="0.479" stop-color="#ff8200"/><stop offset="0.485" stop-color="#00dcff"/><stop offset="0.491" stop-color="#0060ff"/><stop offset="0.497" stop-color="#0000f4"/><stop offset="0.509" stop-color="#0000af"/><stop offset="0.521" stop-color="#00008f"/><stop offset="0.997" stop-color="#00008f"/></linearGradient>
<linearGradient id="b150"><stop offset="0.003" stop-color="#0000a0"/><stop offset="0.247" stop-color="#000097"/><stop offset="0.402" stop-color="#00008f"/><stop offset="0.420" stop-color="#0000a8"/><stop offset="0.443" stop-color="#0000f4"/><stop offset="0.449" stop-color="#000cff"/><stop offset="0.455" stop-color="#0034ff"/><stop offset="0.467" stop-color="#00e5ff"/><stop offset="0.473" stop-color="#caff35"/><stop offset="0.479" stop-color="#ff8a00"/><stop offset="0.485" stop-color="#00e3ff"/><stop offset="0.497" stop-color="#0000fd"/><stop offset="0.509" stop-color="#0000b7"/><stop offset="0.521" stop-color="#000090"/><stop offset="0.997" stop-color="#00008f"/></linearGradient>
<linearGradient id="b151"><stop offset="0.003" stop-color="#0000a4"/><stop offset="0.229" stop-color="#00009c"/><stop offset="0.402" stop-color="#00008f"/><stop offset="0.420" stop-color="#00009d"/><stop offset="0.438" stop-color="#0000d0"/><stop offset="0.449" stop-color="#0002ff"/><stop offset="0.455" stop-color="#001eff"/><stop offset="0.467" stop-color="#00dbff"/><stop offset="0.473" stop-color="#bdff42"/><stop offset="0.479" stop-color="#ff9300"/><stop offset="0.485" stop-color="#00dcff"/><stop offset="0.491" stop-color="#005fff"/><stop offset="0.497" stop-color="#0000f4"/><stop offset="0.509" stop-color="#0000b0"/><stop offset="0.521" stop-color="#00008f"/><stop offset="0.997" stop-color="#00008f"/></linearGradient>
<linearGradient id="b152"><stop offset="0.003" stop-color="#0000a8"/><stop offset="0.217" stop-color="#0000a0"/><stop offset="0.378" stop-color="#00008f"/><stop offset="0.432" stop-color="#000093"/><stop offset="0.443" stop-color="#0000b8"/><stop offset="0.455" stop-color="#0000f6"/><stop offset="0.461" stop-color="#0035ff"/><stop offset="0.467" stop-color="#00b1ff"/><stop offset="0.473" stop-color="#afff50"/><stop offset="0.479" stop-color="#ff9b00"/><stop offset="0.485" stop-color="#00c9ff"/><stop offset="0.491" stop-color="#003aff"/><stop offset="0.497" stop-color="#0000e2"/><stop offset="0.509" stop-color="#00009f"/><stop offset="0.515" stop-color="#00008f"/><stop offset="0.997" stop-color="#00008f"/></linearGradient>
<linearGradient id="b153"><stop offset="0.003" stop-color="#0000ab"/><stop offset="0.211" stop-color="#0000a4"/><stop offset="0.366" stop-color="#00008f"/><stop offset="0.443" stop-color="#00008f"/><stop offset="0.449" stop-color="#0000a2"/><stop offset="0.455" stop-color="#0000c3"/><stop offset="0.461" stop-color="#0000f1"/><stop offset="0.467" stop-color="#0076ff"/><stop offset="0.473" stop-color="#a1ff5e"/><stop offset="0.479" stop-color="#ffa400"/><stop offset="0.485" stop-color="#00b3ff"/><stop offset="0.491" stop-color="#0017ff"/><stop offset="0.497" stop-color="#0000d0"/><stop offset="0.503" stop-color="#0000aa"/><stop offset="0.509" stop-color="#000092"/><stop offset="0.997" stop-color="#00008f"/></linearGradient>
<linearGradient id="b154"><stop offset="0.003" stop-color="#0000ad"/><stop offset="0.205" stop-color="#0000a7"/><stop offset="0.360" stop-color="#00008f"/><stop offset="0.443" stop-color="#000094"/><stop offset="0.449" stop-color="#0000aa"/><stop offset="0.461" stop-color="#0000fa"/><stop offset="0.467" stop-color="#0080ff"/><stop offset="0.473" stop-color="#9aff65"/><stop offset="0.479" stop-color="#ffa800"/><stop offset="0.485" stop-color="#00b5ff"/><stop offset="0.491" stop-color="#0019ff"/><stop offset="0.497" stop-color="#0000d2"/><stop offset="0.503" stop-color="#0000ab"/><stop offset="0.509" stop-color="#000093"/><stop offset="0.997" stop-color="#00008f"/></linearGradient>
<linearGradient id="b155"><stop offset="0.003" stop-color="#0000ad"/><stop offset="0.205" stop-color="#0000a7"/><stop offset="0.360" stop-color="#00008f"/><stop offset="0.426" stop-color="#000090"/><stop offset="0.443" stop-color="#0000c5"/><stop offset="0.455" stop-color="#0002ff"/><stop offset="0.461" stop-color="#0046ff"/><stop offset="0.467" stop-color="#00bbff"/><stop offset="0.473" stop-color="#9aff65"/><stop offset="0.479" stop-color="#ffa800"/><stop offset="0.485" stop-color="#00c9ff"/><stop offset="0.491" stop-color="#003cff"/><stop offset="0.497" stop-color="#0000e3"/><stop offset="0.509" stop-color="#0000a0"/><stop offset="0.515" stop-color="#00008f"/><stop offset="0.997" stop-color="#00008f"/></linearGradient>
<linearGradient id="b156"><stop offset="0.003" stop-color="#0000ad"/><stop offset="0.205" stop-color="#0000a7"/><stop offset="0.360" stop-color="#00008f"/><stop offset="0.414" stop-color="#000095"/><stop offset="0.432" stop-color="#0000bf"/><stop offset="0.449" stop-color="#0004ff"/><stop offset="0.455" stop-color="#001fff"/><stop offset="0.467" stop-color="#00dcff"/><stop offset="0.473" stop-color="#9aff65"/><stop offset="0.479" stop-color="#ffa800"/><stop offset="0.485" stop-color="#00d8ff"/><stop offset="0.491" stop-color="#0057ff"/><stop offset="0.497" stop-color="#0000f1"/><stop offset="0.509" stop-color="#0000ac"/><stop offset="0.515" stop-color="#000097"/><stop offset="0.533" stop-color="#00008f"/><stop offset="0.997" stop-color="#00008f"/></linearGradient>
<linearGradient id="b157"><stop offset="0.003" stop-color="#0000ad"/><stop offset="0.205" stop-color="#0000a7"/><stop offset="0.360" stop-color="#00008f"/><stop offset="0.443" stop-color="#00008f"/><stop offset="0.449" stop-color="#0000a0"/><stop offset="0.455" stop-color="#0000c1"/><stop offset="0.461" stop-color="#0000ef"/><stop offset="0.467" stop-color="#0073ff"/><stop offset="0.473" stop-color="#9aff65"/><stop offset="0.479" stop-color="#ffa800"/><stop offset="0.485" stop-color="#00b1ff"/><stop offset="0.491" stop-color="#0013ff"/><stop offset="0.497" stop-color="#0000cf"/><stop offset="0.503" stop-color="#0000a8"/><stop offset="0.509" stop-color="#000091"/><stop offset="0.997" stop-color="#00008f"/></linearGradient>
<linearGradient id="b158"><stop offset="0.003" stop-color="#0000ad"/><stop offset="0.205" stop-color="#0000a7"/><stop offset="0.360" stop-color="#00008f"/><stop offset="0.432" stop-color="#000091"/><stop offset="0.443" stop-color="#0000b5"/><stop offset="0.455" stop-color="#0000f3"/><stop offset="0.461" stop-color="#002dff"/><stop offset="0.467" stop-color="#00abff"/><stop offset="0.473" stop-color="#9aff65"/><stop offset="0.479" stop-color="#ffa800"/><stop offset="0.485" stop-color="#00c3ff"/><stop offset="0.491" stop-color="#0030ff"/><stop offset="0.497" stop-color="#0000dd"/><stop offset="0.503" stop-color="#0000b6"/><stop offset="0.509" stop-color="#00009b"/><stop offset="0.515" stop-color="#00008f"/><stop offset="0.997" stop-color="#00008f"/></linearGradient>
<linearGradient id="b159"><stop offset="0.003" stop-color="#0000ad"/><stop offset="0.205" stop-color="#0000a7"/><stop offset="0.360" stop-color="#00008f"/><stop offset="0.414" stop-color="#000090"/><stop offset="0.432" stop-color="#0000b7"/><stop offset="0.449" stop-color="#0000fd"/><stop offset="0.455" stop-color="#0018ff"/><stop offset="0.467" stop-color="#00d6ff"/><stop offset="0.473" stop-color="#9aff65"/><stop offset="0.479" stop-color="#ffa800"/><stop offset="0.485" stop-color="#00d5ff"/><stop offset="0.491" stop-color="#0051ff"/><stop offset="0.497" stop-color="#0000ee"/><stop offset="0.509" stop-color="#0000a9"/><stop offset="0.515" stop-color="#000095"/><stop offset="0.604" stop-color="#00008f"/><stop offset="0.997" stop-color="#00008f"/></linearGradient>
<linearGradient id="b160"><stop offset="0.003" stop-color="#0000ad"/><stop offset="0.205" stop-color="#0000a7"/><stop offset="0.360" stop-color="#00008f"/><stop offset="0.408" stop-color="#00008f"/><stop offset="0.426" stop-color="#0000b1"/><stop offset="0.449" stop-color="#0008ff"/><stop offset="0.455" stop-color="#0026ff"/><stop offset="0.467" stop-color="#00dfff"/><stop offset="0.473" stop-color="#9aff65"/><stop offset="0.479" stop-color="#ffa800"/><stop offset="0.485" stop-color="#00daff"/><stop offset="0.491" stop-color="#005bff"/><stop offset="0.497" stop-color="#0000f2"/><stop offset="0.509" stop-color="#0000ae"/><stop offset="0.521" stop-color="#00008f"/><stop offset="0.997" stop-color="#00008f"/></linearGradient>
<linearGradient id="b161"><stop offset="0.003" stop-color="#0000ad"/><stop offset="0.205" stop-color="#0000a7"/><stop offset="0.360" stop-color="#00008f"/><stop offset="0.420" stop-color="#000090"/><stop offset="0.438" stop-color="#0000bc"/><stop offset="0.449" stop-color="#0000f0"/><stop offset="0.455" stop-color="#000eff"/><stop offset="0.461" stop-color="#005cff"/><stop offset="0.467" stop-color="#00c9ff"/><stop offset="0.473" stop-color="#9aff65"/><stop offset="0.479" stop-color="#ffa800"/><stop offset="0.485" stop-color="#00cfff"/><stop offset="0.491" stop-color="#0046ff"/><stop offset="0.497" stop-color="#0000e8"/><stop offset="0.509" stop-color="#0000a4"/><stop offset="0.515" stop-color="#000091"/><stop offset="0.997" stop-color="#00008f"/></linearGradient>
<linearGradient id="b162"><stop offset="0.003" stop-color="#0000ad"/><stop offset="0.205" stop-color="#0000a7"/><stop offset="0.360" stop-color="#00008f"/><stop offset="0.438" stop-color="#00008f"/><stop offset="0.449" stop-color="#0000ba"/><stop offset="0.461" stop-color="#000bff"/><stop offset="0.467" stop-color="#0092ff"/><stop offset="0.473" stop-color="#9aff65"/><stop offset="0.479" stop-color="#ffa800"/><stop offset="0.485" stop-color="#00baff"/><stop offset="0.491" stop-color="#0022ff"/><stop offset="0.497" stop-color="#0000d6"/><stop offset="0.503" stop-color="#0000af"/><stop offset="0.509" stop-color="#000096"/><stop offset="0.545" stop-color="#00008f"/><stop offset="0.997" stop-color="#00008f"/></linearGradient>
<linearGradient id="b163"><stop offset="0.003" stop-color="#0000ad"/><stop offset="0.205" stop-color="#0000a7"/><stop offset="0.360" stop-color="#00008f"/><stop offset="0.443" stop-color="#00008f"/><stop offset="0.449" stop-color="#00009c"/><stop offset="0.455" stop-color="#0000bc"/><stop offset="0.461" stop-color="#0000eb"/><stop offset="0.467" stop-color="#006dff"/><stop offset="0.473" stop-color="#9aff65"/><stop offset="0.479" stop-color="#ffa800"/><stop offset="0.485" stop-color="#00afff"/><stop offset="0.491" stop-color="#0011ff"/><stop offset="0.497" stop-color="#0000cd"/><stop offset="0.503" stop-color="#0000a7"/><stop offset="0.509" stop-color="#000090"/><stop offset="0.997" stop-color="#00008f"/></linearGradient>
<linearGradient id="b164"><stop offset="0.003" stop-color="#0000ad"/><stop offset="0.205" stop-color="#0000a7"/><stop offset="0.360" stop-color="#00008f"/><stop offset="0.438" stop-color="#000093"/><stop offset="0.449" stop-color="#0000bf"/><stop offset="0.455" stop-color="#0000e3"/><stop offset="0.461" stop-color="#0013ff"/><stop offset="0.467" stop-color="#0098ff"/><stop offset="0.473" stop-color="#9aff65"/><stop offset="0.479" stop-color="#ffa800"/><stop offset="0.485" stop-color="#00bcff"/><stop offset="0.491" stop-color="#0026ff"/><stop offset="0.497" stop-color="#0000d8"/><stop offset="0.503" stop-color="#0000b1"/><stop offset="0.509" stop-color="#000097"/><stop offset="0.527" stop-color="#00008f"/><stop offset="0.997" stop-color="#00008f"/></linearGradient>
<linearGradient id="b165"><stop offset="0.003" stop-color="#0000ad"/><stop offset="0.205" stop-color="#0000a7"/><stop offset="0.360" stop-color="#00008f"/><stop offset="0.420" stop-color="#000092"/><stop offset="0.438" stop-color="#0000c1"/><stop offset="0.449" stop-color="#0000f4"/><stop offset="0.455" stop-color="#0011ff"/><stop offset="0.461" stop-color="#0062ff"/><stop offset="0.467" stop-color="#00cdff"/><stop offset="0.473" stop-color="#9aff65"/><stop offset="0.479" stop-color="#ffa800"/><stop offset="0.485" stop-color="#00d1ff"/><stop offset="0.491" stop-color="#0049ff"/><stop offset="0.497" stop-color="#0000ea"/><stop offset="0.509" stop-color="#0000a5"/><stop offset="0.515" stop-color="#000092"/><stop offset="0.997" stop-color="#00008f"/></linearGradient>
<linearGradient id="b166"><stop offset="0.003" stop-color="#0000ad"/><stop offset="0.205" stop-color="#0000a7"/><stop offset="0.360" stop-color="#00008f"/><stop offset="0.408" stop-color="#000090"/><stop offset="0.426" stop-color="#0000b2"/><stop offset="0.443" stop-color="#0000ef"/><stop offset="0.449" stop-color="#0008ff"/><stop offset="0.455" stop-color="#0027ff"/><stop offset="0.467" stop-color="#00dfff"/><stop offset="0.473" stop-color="#9aff65"/><stop offset="0.479" stop-color="#ffa800"/><stop offset="0.485" stop-color="#00daff"/><stop offset="0.491" stop-color="#005bff"/><stop offset="0.497" stop-color="#0000f2"/><stop offset="0.509" stop-color="#0000ae"/><stop offset="0.521" stop-color="#00008f"/><stop offset="0.997" stop-color="#00008f"/></linearGradient>
<linearGradient id="b167"><stop offset="0.003" stop-color="#0000ad"/><stop offset="0.205" stop-color="#0000a7"/><stop offset="0.360" stop-color="#00008f"/><stop offset="0.414" stop-color="#00008f"/><stop offset="0.432" stop-color="#0000b4"/><stop offset="0.449" stop-color="#0000fa"/><stop offset="0.455" stop-color="#0016ff"/><stop offset="0.461" stop-color="#006dff"/><stop offset="0.467" stop-color="#00d3ff"/><stop offset="0.473" stop-color="#9aff65"/><stop offset="0.479" stop-color="#ffa800"/><stop offset="0.485" stop-color="#00d4ff"/><stop offset="0.491" stop-color="#004fff"/><stop offset="0.497" stop-color="#0000ed"/><stop offset="0.509" stop-color="#0000a8"/><stop offset="0.515" stop-color="#000094"/><stop offset="0.997" stop-color="#00008f"/></linearGradient>
<linearGradient id="b168"><stop offset="0.003" stop-color="#0000ad"/><stop offset="0.205" stop-color="#0000a7"/><stop offset="0.360" stop-color="#00008f"/><stop offset="0.432" stop-color="#00008f"/><stop offset="0.443" stop-color="#0000af"/><stop offset="0.455" stop-color="#0000ee"/><stop offset="0.461" stop-color="#0024ff"/><stop offset="0.467" stop-color="#00a5ff"/><stop offset="0.473" stop-color="#9aff65"/><stop offset="0.479" stop-color="#ffa800"/><stop offset="0.485" stop-color="#00c1ff"/><stop offset="0.491" stop-color="#002dff"/><stop offset="0.497" stop-color="#0000dc"/><stop offset="0.503" stop-color="#0000b4"/><stop offset="0.509" stop-color="#00009a"/><stop offset="0.521" stop-color="#00008f"/><stop offset="0.997" stop-color="#00008f"/></linearGradient>
<linearGradient id="b169"><stop offset="0.003" stop-color="#0000ad"/><stop offset="0.205" stop-color="#0000a7"/><stop offset="0.360" stop-color="#00008f"/><stop offset="0.443" stop-color="#00008f"/><stop offset="0.449" stop-color="#00009e"/><stop offset="0.455" stop-color="#0000bf"/><stop offset="0.461" stop-color="#0000ed"/><stop offset="0.467" stop-color="#0070ff"/><stop offset="0.473" stop-color="#9aff65"/><stop offset="0.479" stop-color="#ffa800"/><stop offset="0.485" stop-color="#00b0ff"/><stop offset="0.491" stop-color="#0012ff"/><stop offset="0.497" stop-color="#0000ce"/><stop offset="0.503" stop-color="#0000a8"/><stop offset="0.509" stop-color="#000091"/><stop offset="0.997" stop-color="#00008f"/></linearGradient>
<linearGradient id="b170"><stop offset="0.003" stop-color="#0000ad"/><stop offset="0.205" stop-color="#0000a7"/><stop offset="0.360" stop-color="#00008f"/><stop offset="0.438" stop-color="#00008f"/><stop offset="0.443" stop-color="#000097"/><stop offset="0.455" stop-color="#0000d2"/><stop offset="0.461" stop-color="#0000fe"/><stop offset="0.467" stop-color="#0086ff"/><stop offset="0.473" stop-color="#9aff65"/><stop offset="0.479" stop-color="#ffa800"/><stop offset="0.485" stop-color="#00b6ff"/><stop offset="0.491" stop-color="#001cff"/><stop offset="0.497" stop-color="#0000d3"/><stop offset="0.503" stop-color="#0000ac"/><stop offset="0.509" stop-color="#000094"/><stop offset="0.997" stop-color="#00008f"/></linearGradient>
<linearGradient id="b171"><stop offset="0.003" stop-color="#0000ad"/><stop offset="0.205" stop-color="#0000a7"/><stop offset="0.360" stop-color="#00008f"/><stop offset="0.426" stop-color="#000093"/><stop offset="0.443" stop-color="#0000cb"/><stop offset="0.455" stop-color="#0006ff"/><stop offset="0.461" stop-color="#004dff"/><stop offset="0.467" stop-color="#00c0ff"/><stop offset="0.473" stop-color="#9aff65"/><stop offset="0.479" stop-color="#ffa800"/><stop offset="0.485" stop-color="#00cbff"/><stop offset="0.491" stop-color="#003fff"/><stop offset="0.497" stop-color="#0000e5"/><stop offset="0.509" stop-color="#0000a1"/><stop offset="0.515" stop-color="#00008f"/><stop offset="0.997" stop-color="#00008f"/></linearGradient>
<linearGradient id="b172"><stop offset="0.003" stop-color="#0000ad"/><stop offset="0.205" stop-color="#0000a7"/><stop offset="0.360" stop-color="#00008f"/><stop offset="0.408" stop-color="#00008f"/><stop offset="0.426" stop-color="#0000af"/><stop offset="0.449" stop-color="#0006ff"/><stop offset="0.455" stop-color="#0022ff"/><stop offset="0.467" stop-color="#00ddff"/><stop offset="0.473" stop-color="#9aff65"/><stop offset="0.479" stop-color="#ffa800"/><stop offset="0.485" stop-color="#00d9ff"/><stop offset="0.491" stop-color="#0059ff"/><stop offset="0.497" stop-color="#0000f1"/><stop offset="0.509" stop-color="#0000ad"/><stop offset="0.521" stop-color="#00008f"/><stop offset="0.997" stop-color="#00008f"/></linearGradient>
<linearGradient id="b173"><stop offset="0.003" stop-color="#0000ad"/><stop offset="0.205" stop-color="#0000a7"/><stop offset="0.360" stop-color="#00008f"/><stop offset="0.414" stop-color="#000093"/><stop offset="0.432" stop-color="#0000bd"/><stop offset="0.449" stop-color="#0003ff"/><stop offset="0.455" stop-color="#001bff"/><stop offset="0.467" stop-color="#00daff"/><stop offset="0.473" stop-color="#9aff65"/><stop offset="0.479" stop-color="#ffa800"/><stop offset="0.485" stop-color="#00d7ff"/><stop offset="0.491" stop-color="#0056ff"/><stop offset="0.497" stop-color="#0000f0"/><stop offset="0.509" stop-color="#0000ab"/><stop offset="0.515" stop-color="#000097"/><stop offset="0.539" stop-color="#00008f"/><stop offset="0.997" stop-color="#00008f"/></linearGradient>
<linearGradient id="b174"><stop offset="0.003" stop-color="#0000ad"/><stop offset="0.205" stop-color="#0000a7"/><stop offset="0.360" stop-color="#00008f"/><stop offset="0.426" stop-color="#00008f"/><stop offset="0.438" stop-color="#0000a9"/><stop offset="0.455" stop-color="#0000fd"/><stop offset="0.461" stop-color="#003eff"/><stop offset="0.467" stop-color="#00b6ff"/><stop offset="0.473" stop-color="#9aff65"/><stop offset="0.479" stop-color="#ffa800"/><stop offset="0.485" stop-color="#00c7ff"/><stop offset="0.491" stop-color="#0038ff"/><stop offset="0.497" stop-color="#0000e1"/><stop offset="0.509" stop-color="#00009e"/><stop offset="0.515" stop-color="#00008f"/><stop offset="0.997" stop-color="#00008f"/></linearGradient>
<linearGradient id="b175"><stop offset="0.003" stop-color="#0000ad"/><stop offset="0.205" stop-color="#0000a7"/><stop offset="0.360" stop-color="#00008f"/><stop offset="0.443" stop-color="#000091"/><stop offset="0.449" stop-color="#0000a6"/><stop offset="0.461" stop-color="#0000f6"/><stop offset="0.467" stop-color="#007bff"/><stop offset="0.473" stop-color="#9aff65"/><stop offset="0.479" stop-color="#ffa800"/><stop offset="0.485" stop-color="#00b3ff"/><stop offset="0.491" stop-color="#0017ff"/><stop offset="0.497" stop-color="#0000d0"/><stop offset="0.503" stop-color="#0000aa"/><stop offset="0.509" stop-color="#000092"/><stop offset="0.997" stop-color="#00008f"/></linearGradient>
<linearGradient id="b176"><stop offset="0.003" stop-color="#0000ad"/><stop offset="0.205" stop-color="#0000a7"/><stop offset="0.360" stop-color="#00008f"/><stop offset="0.443" stop-color="#00008f"/><stop offset="0.449" stop-color="#0000a3"/><stop offset="0.461" stop-color="#0000f2"/><stop offset="0.467" stop-color="#0077ff"/><stop offset="0.473" stop-color="#9aff65"/><stop offset="0.479" stop-color="#ffa800"/><stop offset="0.485" stop-color="#00b2ff"/><stop offset="0.491" stop-color="#0015ff"/><stop offset="0.497" stop-color="#0000cf"/><stop offset="0.503" stop-color="#0000a9"/><stop offset="0.509" stop-color="#000092"/><stop offset="0.997" stop-color="#00008f"/></linearGradient>
<linearGradient id="b177"><stop offset="0.003" stop-color="#0000ad"/><stop offset="0.205" stop-color="#0000a7"/><stop offset="0.360" stop-color="#00008f"/><stop offset="0.432" stop-color="#000095"/><stop offset="0.443" stop-color="#0000ba"/><stop offset="0.455" stop-color="#0000f8"/><stop offset="0.461" stop-color="#0035ff"/><stop offset="0.467" stop-color="#00b1ff"/><stop offset="0.473" stop-color="#9aff65"/><stop offset="0.479" stop-color="#ffa800"/><stop offset="0.485" stop-color="#00c5ff"/><stop offset="0.491" stop-color="#0034ff"/><stop offset="0.497" stop-color="#0000df"/><stop offset="0.509" stop-color="#00009d"/><stop offset="0.515" stop-color="#00008f"/><stop offset="0.997" stop-color="#00008f"/></linearGradient>
<linearGradient id="b178"><stop offset="0.003" stop-color="#0000ad"/><stop offset="0.205" stop-color="#0000a7"/><stop offset="0.360" stop-color="#00008f"/><stop offset="0.414" stop-color="#000092"/><stop offset="0.432" stop-color="#0000ba"/><stop offset="0.449" stop-color="#0001ff"/><stop offset="0.455" stop-color="#0019ff"/><stop offset="0.467" stop-color="#00d8ff"/><stop offset="0.473" stop-color="#9aff65"/><stop offset="0.479" stop-color="#ffa800"/><stop offset="0.485" stop-color="#00d6ff"/><stop offset="0.491" stop-color="#0054ff"/><stop offset="0.497" stop-color="#0000ef"/><stop offset="0.509" stop-color="#0000aa"/><stop offset="0.515" stop-color="#000096"/><stop offset="0.545" stop-color="#00008f"/><stop offset="0.997" stop-color="#00008f"/></linearGradient>
<linearGradient id="b179"><stop offset="0.003" stop-color="#0000ad"/><stop offset="0.205" stop-color="#0000a7"/><stop offset="0.360" stop-color="#00008f"/><stop offset="0.408" stop-color="#00008f"/><stop offset="0.426" stop-color="#0000b0"/><stop offset="0.449" stop-color="#0007ff"/><stop offset="0.455" stop-color="#0024ff"/><stop offset="0.467" stop-color="#00deff"/><stop offset="0.473" stop-color="#9aff65"/><stop offset="0.479" stop-color="#ffa800"/><stop offset="0.485" stop-color="#00d9ff"/><stop offset="0.491" stop-color="#005aff"/><stop offset="0.497" stop-color="#0000f2"/><stop offset="0.509" stop-color="#0000ad"/><stop offset="0.521" stop-color="#00008f"/><stop offset="0.997" stop-color="#00008f"/></linearGradient>
<linearGradient id="b180"><stop offset="0.003" stop-color="#0000ad"/><stop offset="0.205" stop-color="#0000a7"/><stop offset="0.360" stop-color="#00008f"/><stop offset="0.420" stop-color="#00008f"/><stop offset="0.438" stop-color="#0000b8"/><stop offset="0.449" stop-color="#0000ec"/><stop offset="0.455" stop-color="#000aff"/><stop offset="0.461" stop-color="#0055ff"/><stop offset="0.467" stop-color="#00c5ff"/><stop offset="0.473" stop-color="#9aff65"/><stop offset="0.479" stop-color="#ffa800"/><stop offset="0.485" stop-color="#00cdff"/><stop offset="0.491" stop-color="#0043ff"/><stop offset="0.497" stop-color="#0000e7"/><stop offset="0.509" stop-color="#0000a3"/><stop offset="0.515" stop-color="#000090"/><stop offset="0.997" stop-color="#00008f"/></linearGradient>
<linearGradient id="b181"><stop offset="0.003" stop-color="#0000ad"/><stop offset="0.205" stop-color="#0000a7"/><stop offset="0.360" stop-color="#00008f"/><stop offset="0.438" stop-color="#00008f"/><stop offset="0.443" stop-color="#00009b"/><stop offset="0.455" stop-color="#0000d8"/><stop offset="0.461" stop-color="#0003ff"/><stop offset="0.467" stop-color="#008cff"/><stop offset="0.473" stop-color="#9aff65"/><stop offset="0.479" stop-color="#ffa800"/><stop offset="0.485" stop-color="#00b8ff"/><stop offset="0.491" stop-color="#001fff"/><stop offset="0.497" stop-color="#0000d5"/><stop offset="0.503" stop-color="#0000ae"/><stop offset="0.509" stop-color="#000095"/><stop offset="0.920" stop-color="#00008f"/><stop offset="0.997" stop-color="#00008f"/></linearGradient>
<linearGradient id="c0"><stop offset="0.005" stop-color="#00f1ff"/><stop offset="0.024" stop-color="#00a4ff"/><stop offset="0.034" stop-color="#009fff"/><stop offset="0.043" stop-color="#00c0ff"/><stop offset="0.053" stop-color="#00e9ff"/><stop offset="0.062" stop-color="#0dfff2"/><stop offset="0.072" stop-color="#26ffd9"/><stop offset="0.082" stop-color="#29ffd6"/><stop offset="0.101" stop-color="#00fbff"/><stop offset="0.120" stop-color="#00aaff"/><stop offset="0.130" stop-color="#00aeff"/><stop offset="0.149" stop-color="#06fff9"/><stop offset="0.159" stop-color="#26ffd9"/><stop offset="0.168" stop-color="#3bffc4"/><stop offset="0.178" stop-color="#3dffc2"/><stop offset="0.207" stop-color="#0afff5"/><stop offset="0.216" stop-color="#0efff1"/><stop offset="0.236" stop-color="#49ffb6"/><stop offset="0.245" stop-color="#b4ff4b"/><stop offset="0.255" stop-color="#bd0000"/><stop offset="0.264" stop-color="#ffd500"/><stop offset="0.274" stop-color="#e3ff1c"/><stop offset="0.303" stop-color="#caff35"/><stop offset="0.312" stop-color="#beff41"/><stop offset="0.322" stop-color="#bbff44"/><stop offset="0.361" stop-color="#d7ff28"/><stop offset="0.389" stop-color="#feff01"/><stop offset="0.438" stop-color="#ffbd00"/><stop offset="0.495" stop-color="#ff3a00"/><stop offset="0.514" stop-color="#ff1800"/><stop offset="0.534" stop-color="#ff0a00"/><stop offset="0.582" stop-color="#f70000"/><stop offset="0.716" stop-color="#f90000"/><stop offset="0.764" stop-color="#ff0900"/><stop offset="0.803" stop-color="#ff3800"/><stop offset="0.851" stop-color="#ffb200"/><stop offset="0.870" stop-color="#ffe800"/><stop offset="0.880" stop-color="#fffd00"/><stop offset="0.918" stop-color="#bfff40"/><stop offset="0.947" stop-color="#9cff63"/><stop offset="0.995" stop-color="#7aff85"/></linearGradient>
<linearGradient id="c1"><stop offset="0.005" stop-color="#00e9ff"/><stop offset="0.024" stop-color="#009cff"/><stop offset="0.034" stop-color="#009fff"/><stop offset="0.053" stop-color="#00eeff"/><stop offset="0.062" stop-color="#12ffed"/><stop offset="0.072" stop-color="#28ffd7"/><stop offset="0.082" stop-color="#25ffda"/><stop offset="0.091" stop-color="#12ffed"/><stop offset="0.101" stop-color="#00f2ff"/><stop offset="0.111" stop-color="#00c4ff"/><stop offset="0.120" stop-color="#00a2ff"/><stop offset="0.130" stop-color="#00b0ff"/><stop offset="0.139" stop-color="#00dfff"/><stop offset="0.149" stop-color="#0bfff4"/><stop offset="0.159" stop-color="#2bffd4"/><stop offset="0.168" stop-color="#3dffc2"/><stop offset="0.178" stop-color="#3affc5"/><stop offset="0.207" stop-color="#05fffa"/><stop offset="0.216" stop-color="#0dfff2"/><stop offset="0.236" stop-color="#49ffb6"/><stop offset="0.245" stop-color="#b4ff4b"/><stop offset="0.255" stop-color="#bd0000"/><stop offset="0.264" stop-color="#ffd400"/><stop offset="0.274" stop-color="#e4ff1b"/><stop offset="0.303" stop-color="#cbff34"/><stop offset="0.312" stop-color="#bfff40"/><stop offset="0.322" stop-color="#bcff43"/><stop offset="0.361" stop-color="#d7ff28"/><stop offset="0.389" stop-color="#feff01"/><stop offset="0.438" stop-color="#ffbc00"/><stop offset="0.495" stop-color="#ff3a00"/><stop offset="0.514" stop-color="#ff1800"/><stop offset="0.534" stop-color="#ff0a00"/><stop offset="0.582" stop-color="#f70000"/><stop offset="0.716" stop-color="#f90000"/><stop offset="0.764" stop-color="#ff0900"/><stop offset="0.803" stop-color="#ff3700"/><stop offset="0.851" stop-color="#ffaf00"/><stop offset="0.870" stop-color="#ffe500"/><stop offset="0.880" stop-color="#fff900"/><stop offset="0.909" stop-color="#cfff30"/><stop offset="0.947" stop-color="#9eff61"/><stop offset="0.995" stop-color="#7bff84"/></linearGradient>
<linearGradient id="c2"><stop offset="0.005" stop-color="#00e1ff"/><stop offset="0.014" stop-color="#00b5ff"/><stop offset="0.024" stop-color="#0096ff"/><stop offset="0.034" stop-color="#00a1ff"/><stop offset="0.053" stop-color="#00f3ff"/><stop offset="0.062" stop-color="#17ffe8"/><stop offset="0.072" stop-color="#29ffd6"/><stop offset="0.082" stop-color="#21ffde"/><stop offset="0.091" stop-color="#0bfff4"/><stop offset="0.101" stop-color="#00e7ff"/><stop offset="0.111" stop-color="#00b6ff"/><stop offset="0.120" stop-color="#009cff"/><stop offset="0.130" stop-color="#00b5ff"/><stop offset="0.139" stop-color="#00e7ff"/><stop offset="0.149" stop-color="#11ffee"/><stop offset="0.159" stop-color="#2fffd0"/><stop offset="0.168" stop-color="#3dffc2"/><stop offset="0.178" stop-color="#36ffc9"/><stop offset="0.207" stop-color="#00ffff"/><stop offset="0.216" stop-color="#0dfff2"/><stop offset="0.236" stop-color="#49ffb6"/><stop offset="0.245" stop-color="#b4ff4b"/><stop offset="0.255" stop-color="#bd0000"/><stop offset="0.264" stop-color="#ffd200"/><stop offset="0.274" stop-color="#e6ff19"/><stop offset="0.303" stop-color="#ccff33"/><stop offset="0.322" stop-color="#bcff43"/><stop offset="0.361" stop-color="#d7ff28"/><stop offset="0.389" stop-color="#fdff02"/><stop offset="0.438" stop-color="#ffbc00"/><stop offset="0.495" stop-color="#ff3a00"/><stop offset="0.514" stop-color="#ff1900"/><stop offset="0.534" stop-color="#ff0a00"/><stop offset="0.582" stop-color="#f80000"/><stop offset="0.716" stop-color="#f90000"/><stop offset="0.764" stop-color="#ff0800"/><stop offset="0.803" stop-color="#ff3500"/><stop offset="0.841" stop-color="#ff9100"/><stop offset="0.870" stop-color="#ffe100"/><stop offset="0.880" stop-color="#fff600"/><stop offset="0.889" stop-color="#f5ff0a"/><stop offset="0.928" stop-color="#b7ff48"/><stop offset="0.957" stop-color="#99ff66"/><stop offset="0.995" stop-color="#7dff82"/></linearGradient>
<linearGradient id="c3"><stop offset="0.005" stop-color="#00d7ff"/><stop offset="0.014" stop-color="#00aaff"/><stop offset="0.024" stop-color="#0092ff"/><stop offset="0.034" stop-color="#00a5ff"/><stop offset="0.053" stop-color="#00f9ff"/><stop offset="0.062" stop-color="#1cffe3"/><stop offset="0.072" stop-color="#28ffd7"/><stop offset="0.082" stop-color="#1dffe2"/><stop offset="0.091" stop-color="#04fffb"/><stop offset="0.101" stop-color="#00dbff"/><stop offset="0.111" stop-color="#00aaff"/><stop offset="0.120" stop-color="#0099ff"/><stop offset="0.130" stop-color="#00bbff"/><stop offset="0.139" stop-color="#00eeff"/><stop offset="0.149" stop-color="#17ffe8"/><stop offset="0.159" stop-color="#33ffcc"/><stop offset="0.168" stop-color="#3dffc2"/><stop offset="0.178" stop-color="#33ffcc"/><stop offset="0.197" stop-color="#0afff5"/><stop offset="0.207" stop-color="#00fbff"/><stop offset="0.216" stop-color="#0dfff2"/><stop offset="0.226" stop-color="#30ffcf"/><stop offset="0.236" stop-color="#49ffb6"/><stop offset="0.245" stop-color="#b4ff4b"/><stop offset="0.255" stop-color="#bd0000"/><stop offset="0.264" stop-color="#ffd100"/><stop offset="0.274" stop-color="#e7ff18"/><stop offset="0.303" stop-color="#cdff32"/><stop offset="0.322" stop-color="#bcff43"/><stop offset="0.361" stop-color="#d7ff28"/><stop offset="0.389" stop-color="#fdff02"/><stop offset="0.438" stop-color="#ffbc00"/><stop offset="0.495" stop-color="#ff3900"/><stop offset="0.524" stop-color="#ff0f00"/><stop offset="0.572" stop-color="#fc0000"/><stop offset="0.688" stop-color="#f50000"/><stop offset="0.755" stop-color="#ff0500"/><stop offset="0.784" stop-color="#ff1b00"/><stop offset="0.803" stop-color="#ff3400"/><stop offset="0.841" stop-color="#ff8e00"/><stop offset="0.880" stop-color="#fff200"/><stop offset="0.889" stop-color="#f8ff07"/><stop offset="0.928" stop-color="#baff45"/><stop offset="0.966" stop-color="#94ff6b"/><stop offset="0.995" stop-color="#7fff80"/></linearGradient>
<linearGradient id="c4"><stop offset="0.005" stop-color="#00cdff"/><stop offset="0.014" stop-color="#00a0ff"/><stop offset="0.024" stop-color="#0090ff"/><stop offset="0.034" stop-color="#00aaff"/><stop offset="0.053" stop-color="#00ffff"/><stop offset="0.062" stop-color="#20ffdf"/><stop offset="0.072" stop-color="#27ffd8"/><stop offset="0.082" stop-color="#18ffe7"/><stop offset="0.091" stop-color="#00fbff"/><stop offset="0.111" stop-color="#009fff"/><stop offset="0.120" stop-color="#009aff"/><stop offset="0.130" stop-color="#00c4ff"/><stop offset="0.139" stop-color="#00f6ff"/><stop offset="0.149" stop-color="#1dffe2"/><stop offset="0.159" stop-color="#36ffc9"/><stop offset="0.168" stop-color="#3cffc3"/><stop offset="0.188" stop-color="#1affe5"/><stop offset="0.197" stop-color="#03fffc"/><stop offset="0.207" stop-color="#00f8ff"/><stop offset="0.216" stop-color="#0ffff0"/><stop offset="0.226" stop-color="#32ffcd"/><stop offset="0.236" stop-color="#49ffb6"/><stop offset="0.245" stop-color="#b4ff4b"/><stop offset="0.255" stop-color="#bd0000"/><stop offset="0.264" stop-color="#ffd000"/><stop offset="0.274" stop-color="#e9ff16"/><stop offset="0.303" stop-color="#cfff30"/><stop offset="0.322" stop-color="#bdff42"/><stop offset="0.361" stop-color="#d7ff28"/><stop offset="0.389" stop-color="#fdff02"/><stop offset="0.438" stop-color="#ffbc00"/><stop offset="0.495" stop-color="#ff3900"/><stop offset="0.524" stop-color="#ff0f00"/><stop offset="0.572" stop-color="#fc0000"/><stop offset="0.707" stop-color="#f80000"/><stop offset="0.755" stop-color="#ff0500"/><stop offset="0.784" stop-color="#ff1a00"/><stop offset="0.803" stop-color="#ff3300"/><stop offset="0.841" stop-color="#ff8c00"/><stop offset="0.880" stop-color="#ffee00"/><stop offset="0.889" stop-color="#fcff03"/><stop offset="0.928" stop-color="#bcff43"/><stop offset="0.966" stop-color="#96ff69"/><stop offset="0.995" stop-color="#81ff7e"/></linearGradient>
<linearGradient id="c5"><stop offset="0.005" stop-color="#00c2ff"/><stop offset="0.014" stop-color="#0098ff"/><stop offset="0.024" stop-color="#0091ff"/><stop offset="0.034" stop-color="#00b1ff"/><stop offset="0.043" stop-color="#00ddff"/><stop offset="0.053" stop-color="#07fff8"/><stop offset="0.062" stop-color="#23ffdc"/><stop offset="0.072" stop-color="#24ffdb"/><stop offset="0.082" stop-color="#12ffed"/><stop offset="0.091" stop-color="#00f2ff"/><stop offset="0.111" stop-color="#0097ff"/><stop offset="0.120" stop-color="#009eff"/><stop offset="0.139" stop-color="#00fdff"/><stop offset="0.149" stop-color="#23ffdc"/><stop offset="0.159" stop-color="#39ffc6"/><stop offset="0.168" stop-color="#39ffc6"/><stop offset="0.188" stop-color="#15ffea"/><stop offset="0.197" stop-color="#00fcff"/><stop offset="0.207" stop-color="#00f6ff"/><stop offset="0.216" stop-color="#11ffee"/><stop offset="0.226" stop-color="#34ffcb"/><stop offset="0.236" stop-color="#49ffb6"/><stop offset="0.245" stop-color="#b4ff4b"/><stop offset="0.255" stop-color="#bd0000"/><stop offset="0.264" stop-color="#ffce00"/><stop offset="0.274" stop-color="#eaff15"/><stop offset="0.303" stop-color="#d0ff2f"/><stop offset="0.322" stop-color="#bdff42"/><stop offset="0.361" stop-color="#d7ff28"/><stop offset="0.389" stop-color="#fdff02"/><stop offset="0.438" stop-color="#ffbc00"/><stop offset="0.495" stop-color="#ff3900"/><stop offset="0.524" stop-color="#ff1000"/><stop offset="0.572" stop-color="#fc0000"/><stop offset="0.707" stop-color="#f80000"/><stop offset="0.755" stop-color="#ff0500"/><stop offset="0.784" stop-color="#ff1900"/><stop offset="0.803" stop-color="#ff3200"/><stop offset="0.841" stop-color="#ff8900"/><stop offset="0.880" stop-color="#ffeb00"/><stop offset="0.889" stop-color="#ffff00"/><stop offset="0.928" stop-color="#beff41"/><stop offset="0.966" stop-color="#98ff67"/><stop offset="0.995" stop-color="#83ff7c"/></linearGradient>
<linearGradient id="c6"><stop offset="0.005" stop-color="#00b7ff"/><stop offset="0.014" stop-color="#0091ff"/><stop offset="0.024" stop-color="#0094ff"/><stop offset="0.043" stop-color="#00e5ff"/><stop offset="0.053" stop-color="#0efff1"/><stop offset="0.062" stop-color="#25ffda"/><stop offset="0.072" stop-color="#21ffde"/><stop offset="0.082" stop-color="#0cfff3"/><stop offset="0.091" stop-color="#00e8ff"/><stop offset="0.101" stop-color="#00b5ff"/><stop offset="0.111" stop-color="#0093ff"/><stop offset="0.120" stop-color="#00a4ff"/><stop offset="0.130" stop-color="#00d7ff"/><stop offset="0.139" stop-color="#06fff9"/><stop offset="0.149" stop-color="#28ffd7"/><stop offset="0.159" stop-color="#3bffc4"/><stop offset="0.168" stop-color="#36ffc9"/><stop offset="0.188" stop-color="#0efff1"/><stop offset="0.197" stop-color="#00f6ff"/><stop offset="0.207" stop-color="#00f5ff"/><stop offset="0.216" stop-color="#14ffeb"/><stop offset="0.226" stop-color="#35ffca"/><stop offset="0.236" stop-color="#49ffb6"/><stop offset="0.245" stop-color="#b4ff4b"/><stop offset="0.255" stop-color="#bd0000"/><stop offset="0.264" stop-color="#ffcd00"/><stop offset="0.274" stop-color="#ecff13"/><stop offset="0.303" stop-color="#d1ff2e"/><stop offset="0.322" stop-color="#beff41"/><stop offset="0.361" stop-color="#d7ff28"/><stop offset="0.389" stop-color="#fdff02"/><stop offset="0.438" stop-color="#ffbc00"/><stop offset="0.495" stop-color="#ff3900"/><stop offset="0.524" stop-color="#ff1000"/><stop offset="0.562" stop-color="#ff0000"/><stop offset="0.678" stop-color="#f50000"/><stop offset="0.755" stop-color="#ff0500"/><stop offset="0.784" stop-color="#ff1800"/><stop offset="0.803" stop-color="#ff3100"/><stop offset="0.841" stop-color="#ff8700"/><stop offset="0.880" stop-color="#ffe700"/><stop offset="0.889" stop-color="#fffc00"/><stop offset="0.938" stop-color="#b4ff4b"/><stop offset="0.995" stop-color="#84ff7b"/></linearGradient>
<linearGradient id="c7"><stop offset="0.005" stop-color="#00adff"/><stop offset="0.014" stop-color="#008eff"/><stop offset="0.024" stop-color="#009aff"/><stop offset="0.043" stop-color="#00edff"/><stop offset="0.053" stop-color="#14ffeb"/><stop offset="0.062" stop-color="#26ffd9"/><stop offset="0.072" stop-color="#1dffe2"/><stop offset="0.082" stop-color="#06fff9"/><stop offset="0.091" stop-color="#00ddff"/><stop offset="0.101" stop-color="#00aaff"/><stop offset="0.111" stop-color="#0092ff"/><stop offset="0.120" stop-color="#00aeff"/><stop offset="0.130" stop-color="#00e2ff"/><stop offset="0.139" stop-color="#0efff1"/><stop offset="0.149" stop-color="#2dffd2"/><stop offset="0.159" stop-color="#3bffc4"/><stop offset="0.168" stop-color="#33ffcc"/><stop offset="0.178" stop-color="#21ffde"/><stop offset="0.188" stop-color="#07fff8"/><stop offset="0.197" stop-color="#00f1ff"/><stop offset="0.207" stop-color="#00f6ff"/><stop offset="0.216" stop-color="#18ffe7"/><stop offset="0.226" stop-color="#37ffc8"/><stop offset="0.236" stop-color="#49ffb6"/><stop offset="0.245" stop-color="#b4ff4b"/><stop offset="0.255" stop-color="#bd0000"/><stop offset="0.264" stop-color="#ffcb00"/><stop offset="0.274" stop-color="#eeff11"/><stop offset="0.303" stop-color="#d2ff2d"/><stop offset="0.322" stop-color="#beff41"/><stop offset="0.361" stop-color="#d7ff28"/><stop offset="0.389" stop-color="#fdff02"/><stop offset="0.438" stop-color="#ffbc00"/><stop offset="0.495" stop-color="#ff3900"/><stop offset="0.524" stop-color="#ff1100"/><stop offset="0.562" stop-color="#ff0100"/><stop offset="0.688" stop-color="#f50000"/><stop offset="0.755" stop-color="#ff0500"/><stop offset="0.784" stop-color="#ff1700"/><stop offset="0.803" stop-color="#ff3000"/><stop offset="0.841" stop-color="#ff8400"/><stop offset="0.889" stop-color="#fff900"/><stop offset="0.909" stop-color="#e1ff1e"/><stop offset="0.947" stop-color="#acff53"/><stop offset="0.995" stop-color="#86ff79"/></linearGradient>
<linearGradient id="c8"><stop offset="0.005" stop-color="#00a3ff"/><stop offset="0.014" stop-color="#008eff"/><stop offset="0.024" stop-color="#00a2ff"/><stop offset="0.043" stop-color="#00f6ff"/><stop offset="0.053" stop-color="#1affe5"/><stop offset="0.062" stop-color="#25ffda"/><stop offset="0.072" stop-color="#19ffe6"/><stop offset="0.082" stop-color="#00feff"/><stop offset="0.101" stop-color="#00a1ff"/><stop offset="0.111" stop-color="#0094ff"/><stop offset="0.120" stop-color="#00b9ff"/><stop offset="0.130" stop-color="#00ecff"/><stop offset="0.139" stop-color="#16ffe9"/><stop offset="0.149" stop-color="#32ffcd"/><stop offset="0.159" stop-color="#3affc5"/><stop offset="0.178" stop-color="#1dffe2"/><stop offset="0.188" stop-color="#00ffff"/><stop offset="0.197" stop-color="#00edff"/><stop offset="0.207" stop-color="#00f9ff"/><stop offset="0.226" stop-color="#38ffc7"/><stop offset="0.236" stop-color="#49ffb6"/><stop offset="0.245" stop-color="#b4ff4b"/><stop offset="0.255" stop-color="#bd0000"/><stop offset="0.264" stop-color="#ffca00"/><stop offset="0.274" stop-color="#efff10"/><stop offset="0.303" stop-color="#d3ff2c"/><stop offset="0.322" stop-color="#bfff40"/><stop offset="0.351" stop-color="#cfff30"/><stop offset="0.389" stop-color="#fcff03"/><stop offset="0.438" stop-color="#ffbb00"/><stop offset="0.495" stop-color="#ff3900"/><stop offset="0.524" stop-color="#ff1100"/><stop offset="0.562" stop-color="#ff0100"/><stop offset="0.697" stop-color="#f70000"/><stop offset="0.755" stop-color="#ff0500"/><stop offset="0.784" stop-color="#ff1600"/><stop offset="0.803" stop-color="#ff2f00"/><stop offset="0.841" stop-color="#ff8100"/><stop offset="0.889" stop-color="#fff500"/><stop offset="0.899" stop-color="#f5ff0a"/><stop offset="0.938" stop-color="#b8ff47"/><stop offset="0.995" stop-color="#88ff77"/></linearGradient>
<linearGradient id="c9"><stop offset="0.005" stop-color="#009cff"/><stop offset="0.014" stop-color="#0090ff"/><stop offset="0.024" stop-color="#00acff"/><stop offset="0.043" stop-color="#00ffff"/><stop offset="0.053" stop-color="#1fffe0"/><stop offset="0.062" stop-color="#24ffdb"/><stop offset="0.072" stop-color="#14ffeb"/><stop offset="0.082" stop-color="#00f6ff"/><stop offset="0.101" stop-color="#009cff"/><stop offset="0.111" stop-color="#009aff"/><stop offset="0.130" stop-color="#00f6ff"/><stop offset="0.139" stop-color="#1dffe2"/><stop offset="0.149" stop-color="#36ffc9"/><stop offset="0.159" stop-color="#39ffc6"/><stop offset="0.178" stop-color="#18ffe7"/><stop offset="0.188" stop-color="#00f8ff"/><stop offset="0.197" stop-color="#00eaff"/><stop offset="0.207" stop-color="#00fcff"/><stop offset="0.226" stop-color="#3affc5"/><stop offset="0.236" stop-color="#49ffb6"/><stop offset="0.245" stop-color="#b4ff4b"/><stop offset="0.255" stop-color="#bd0000"/><stop offset="0.264" stop-color="#ffc800"/><stop offset="0.274" stop-color="#f1ff0e"/><stop offset="0.303" stop-color="#d4ff2b"/><stop offset="0.322" stop-color="#bfff40"/><stop offset="0.351" stop-color="#cfff30"/><stop offset="0.389" stop-color="#fcff03"/><stop offset="0.438" stop-color="#ffbb00"/><stop offset="0.495" stop-color="#ff3900"/><stop offset="0.524" stop-color="#ff1100"/><stop offset="0.562" stop-color="#ff0100"/><stop offset="0.697" stop-color="#f60000"/><stop offset="0.755" stop-color="#ff0400"/><stop offset="0.784" stop-color="#ff1500"/><stop offset="0.803" stop-color="#ff2e00"/><stop offset="0.841" stop-color="#ff7f00"/><stop offset="0.889" stop-color="#fff200"/><stop offset="0.899" stop-color="#f8ff07"/><stop offset="0.938" stop-color="#bbff44"/><stop offset="0.995" stop-color="#8aff75"/></linearGradient>
<linearGradient id="c10"><stop offset="0.005" stop-color="#0097ff"/><stop offset="0.014" stop-color="#0096ff"/><stop offset="0.024" stop-color="#00b7ff"/><stop offset="0.034" stop-color="#00e1ff"/><stop offset="0.043" stop-color="#09fff6"/><stop offset="0.053" stop-color="#22ffdd"/><stop offset="0.062" stop-color="#22ffdd"/><stop offset="0.072" stop-color="#0ffff0"/><stop offset="0.082" stop-color="#00eeff"/><stop offset="0.091" stop-color="#00bfff"/><stop offset="0.101" stop-color="#0099ff"/><stop offset="0.111" stop-color="#00a4ff"/><stop offset="0.130" stop-color="#01fffe"/><stop offset="0.139" stop-color="#24ffdb"/><stop offset="0.149" stop-color="#38ffc7"/><stop offset="0.159" stop-color="#36ffc9"/><stop offset="0.178" stop-color="#12ffed"/><stop offset="0.188" stop-color="#00f2ff"/><stop offset="0.197" stop-color="#00eaff"/><stop offset="0.207" stop-color="#02fffd"/><stop offset="0.216" stop-color="#23ffdc"/><stop offset="0.226" stop-color="#3bffc4"/><stop offset="0.236" stop-color="#49ffb6"/><stop offset="0.245" stop-color="#b4ff4b"/><stop offset="0.255" stop-color="#bd0000"/><stop offset="0.264" stop-color="#ffc700"/><stop offset="0.274" stop-color="#f2ff0d"/><stop offset="0.303" stop-color="#d5ff2a"/><stop offset="0.322" stop-color="#c0ff3f"/><stop offset="0.341" stop-color="#c8ff37"/><stop offset="0.370" stop-color="#e3ff1c"/><stop offset="0.389" stop-color="#fcff03"/><stop offset="0.438" stop-color="#ffbb00"/><stop offset="0.495" stop-color="#ff3900"/><stop offset="0.524" stop-color="#ff1200"/><stop offset="0.553" stop-color="#ff0300"/><stop offset="0.707" stop-color="#f80000"/><stop offset="0.755" stop-color="#ff0400"/><stop offset="0.784" stop-color="#ff1400"/><stop offset="0.812" stop-color="#ff3f00"/><stop offset="0.851" stop-color="#ff9300"/><stop offset="0.889" stop-color="#ffef00"/><stop offset="0.899" stop-color="#fbff04"/><stop offset="0.938" stop-color="#bdff42"/><stop offset="0.995" stop-color="#8cff73"/></linearGradient>
<linearGradient id="c11"><stop offset="0.005" stop-color="#0095ff"/><stop offset="0.014" stop-color="#009eff"/><stop offset="0.034" stop-color="#00ecff"/><stop offset="0.043" stop-color="#11ffee"/><stop offset="0.053" stop-color="#24ffdb"/><stop offset="0.062" stop-color="#1effe1"/><stop offset="0.072" stop-color="#09fff6"/><stop offset="0.082" stop-color="#00e6ff"/><stop offset="0.091" stop-color="#00b6ff"/><stop offset="0.101" stop-color="#009aff"/><stop offset="0.111" stop-color="#00afff"/><stop offset="0.120" stop-color="#00dfff"/><stop offset="0.130" stop-color="#0afff5"/><stop offset="0.139" stop-color="#2affd5"/><stop offset="0.149" stop-color="#39ffc6"/><stop offset="0.159" stop-color="#33ffcc"/><stop offset="0.178" stop-color="#0dfff2"/><stop offset="0.188" stop-color="#00edff"/><stop offset="0.197" stop-color="#00ebff"/><stop offset="0.207" stop-color="#07fff8"/><stop offset="0.216" stop-color="#26ffd9"/><stop offset="0.226" stop-color="#3cffc3"/><stop offset="0.236" stop-color="#49ffb6"/><stop offset="0.245" stop-color="#b4ff4b"/><stop offset="0.255" stop-color="#bd0000"/><stop offset="0.264" stop-color="#ffc500"/><stop offset="0.274" stop-color="#f4ff0b"/><stop offset="0.303" stop-color="#d6ff29"/><stop offset="0.322" stop-color="#c0ff3f"/><stop offset="0.341" stop-color="#c8ff37"/><stop offset="0.370" stop-color="#e2ff1d"/><stop offset="0.389" stop-color="#fcff03"/><stop offset="0.438" stop-color="#ffbb00"/><stop offset="0.495" stop-color="#ff3900"/><stop offset="0.524" stop-color="#ff1200"/><stop offset="0.553" stop-color="#ff0300"/><stop offset="0.707" stop-color="#f80000"/><stop offset="0.755" stop-color="#ff0400"/><stop offset="0.784" stop-color="#ff1300"/><stop offset="0.812" stop-color="#ff3e00"/><stop offset="0.851" stop-color="#ff9000"/><stop offset="0.899" stop-color="#feff01"/><stop offset="0.938" stop-color="#bfff40"/><stop offset="0.995" stop-color="#8dff72"/></linearGradient>
<linearGradient id="c12"><stop offset="0.005" stop-color="#0096ff"/><stop offset="0.014" stop-color="#00a9ff"/><stop offset="0.034" stop-color="#00f6ff"/><stop offset="0.043" stop-color="#17ffe8"/><stop offset="0.053" stop-color="#25ffda"/><stop offset="0.062" stop-color="#1affe5"/><stop offset="0.072" stop-color="#04fffb"/><stop offset="0.082" stop-color="#00deff"/><stop offset="0.091" stop-color="#00afff"/><stop offset="0.101" stop-color="#009eff"/><stop offset="0.111" stop-color="#00bcff"/><stop offset="0.120" stop-color="#00ecff"/><stop offset="0.130" stop-color="#13ffec"/><stop offset="0.139" stop-color="#2fffd0"/><stop offset="0.149" stop-color="#39ffc6"/><stop offset="0.168" stop-color="#20ffdf"/><stop offset="0.178" stop-color="#08fff7"/><stop offset="0.188" stop-color="#00e9ff"/><stop offset="0.197" stop-color="#00efff"/><stop offset="0.207" stop-color="#0dfff2"/><stop offset="0.226" stop-color="#3dffc2"/><stop offset="0.236" stop-color="#49ffb6"/><stop offset="0.245" stop-color="#b4ff4b"/><stop offset="0.255" stop-color="#bd0000"/><stop offset="0.264" stop-color="#ffc400"/><stop offset="0.274" stop-color="#f5ff0a"/><stop offset="0.322" stop-color="#c1ff3e"/><stop offset="0.341" stop-color="#c8ff37"/><stop offset="0.370" stop-color="#e2ff1d"/><stop offset="0.389" stop-color="#fcff03"/><stop offset="0.428" stop-color="#ffca00"/><stop offset="0.457" stop-color="#ff9000"/><stop offset="0.495" stop-color="#ff3900"/><stop offset="0.524" stop-color="#ff1300"/><stop offset="0.553" stop-color="#ff0300"/><stop offset="0.707" stop-color="#f80000"/><stop offset="0.755" stop-color="#ff0400"/><stop offset="0.784" stop-color="#ff1200"/><stop offset="0.812" stop-color="#ff3c00"/><stop offset="0.851" stop-color="#ff8d00"/><stop offset="0.899" stop-color="#fffd00"/><stop offset="0.938" stop-color="#c2ff3d"/><stop offset="0.995" stop-color="#8fff70"/></linearGradient>
<linearGradient id="c13"><stop offset="0.005" stop-color="#009aff"/><stop offset="0.014" stop-color="#00b5ff"/><stop offset="0.034" stop-color="#00ffff"/><stop offset="0.043" stop-color="#1dffe2"/><stop offset="0.053" stop-color="#24ffdb"/><stop offset="0.062" stop-color="#16ffe9"/><stop offset="0.072" stop-color="#00fdff"/><stop offset="0.091" stop-color="#00abff"/><stop offset="0.101" stop-color="#00a5ff"/><stop offset="0.120" stop-color="#00f7ff"/><stop offset="0.139" stop-color="#33ffcc"/><stop offset="0.149" stop-color="#38ffc7"/><stop offset="0.168" stop-color="#1cffe3"/><stop offset="0.178" stop-color="#03fffc"/><stop offset="0.188" stop-color="#00e7ff"/><stop offset="0.197" stop-color="#00f4ff"/><stop offset="0.207" stop-color="#13ffec"/><stop offset="0.226" stop-color="#3dffc2"/><stop offset="0.236" stop-color="#49ffb6"/><stop offset="0.245" stop-color="#b4ff4b"/><stop offset="0.255" stop-color="#bd0000"/><stop offset="0.264" stop-color="#ffc200"/><stop offset="0.274" stop-color="#f7ff08"/><stop offset="0.322" stop-color="#c1ff3e"/><stop offset="0.332" stop-color="#c1ff3e"/><stop offset="0.370" stop-color="#e2ff1d"/><stop offset="0.389" stop-color="#fcff03"/><stop offset="0.428" stop-color="#ffca00"/><stop offset="0.457" stop-color="#ff9000"/><stop offset="0.495" stop-color="#ff3800"/><stop offset="0.524" stop-color="#ff1300"/><stop offset="0.553" stop-color="#ff0300"/><stop offset="0.707" stop-color="#f70000"/><stop offset="0.755" stop-color="#ff0400"/><stop offset="0.784" stop-color="#ff1100"/><stop offset="0.812" stop-color="#ff3b00"/><stop offset="0.851" stop-color="#ff8a00"/><stop offset="0.899" stop-color="#fff900"/><stop offset="0.928" stop-color="#d2ff2d"/><stop offset="0.976" stop-color="#9fff60"/><stop offset="0.995" stop-color="#91ff6e"/></linearGradient>
<linearGradient id="c14"><stop offset="0.005" stop-color="#00a1ff"/><stop offset="0.024" stop-color="#00e7ff"/><stop offset="0.034" stop-color="#09fff6"/><stop offset="0.043" stop-color="#21ffde"/><stop offset="0.053" stop-color="#22ffdd"/><stop offset="0.062" stop-color="#12ffed"/><stop offset="0.072" stop-color="#00f6ff"/><stop offset="0.091" stop-color="#00a9ff"/><stop offset="0.101" stop-color="#00aeff"/><stop offset="0.120" stop-color="#02fffd"/><stop offset="0.130" stop-color="#22ffdd"/><stop offset="0.139" stop-color="#36ffc9"/><stop offset="0.149" stop-color="#37ffc8"/><stop offset="0.168" stop-color="#19ffe6"/><stop offset="0.178" stop-color="#00feff"/><stop offset="0.188" stop-color="#00e6ff"/><stop offset="0.197" stop-color="#00faff"/><stop offset="0.226" stop-color="#3effc1"/><stop offset="0.236" stop-color="#49ffb6"/><stop offset="0.245" stop-color="#b4ff4b"/><stop offset="0.255" stop-color="#bd0000"/><stop offset="0.264" stop-color="#ffc100"/><stop offset="0.274" stop-color="#f8ff07"/><stop offset="0.322" stop-color="#c2ff3d"/><stop offset="0.332" stop-color="#c1ff3e"/><stop offset="0.370" stop-color="#e2ff1d"/><stop offset="0.389" stop-color="#fcff03"/><stop offset="0.428" stop-color="#ffca00"/><stop offset="0.447" stop-color="#ffa700"/><stop offset="0.495" stop-color="#ff3800"/><stop offset="0.534" stop-color="#ff0a00"/><stop offset="0.601" stop-color="#fc0000"/><stop offset="0.707" stop-color="#f70000"/><stop offset="0.755" stop-color="#ff0400"/><stop offset="0.784" stop-color="#ff1000"/><stop offset="0.812" stop-color="#ff3900"/><stop offset="0.851" stop-color="#ff8700"/><stop offset="0.899" stop-color="#fff600"/><stop offset="0.909" stop-color="#f6ff09"/><stop offset="0.938" stop-color="#c6ff39"/><stop offset="0.995" stop-color="#93ff6c"/></linearGradient>
<linearGradient id="c15"><stop offset="0.005" stop-color="#00a9ff"/><stop offset="0.024" stop-color="#00f1ff"/><stop offset="0.034" stop-color="#10ffef"/><stop offset="0.043" stop-color="#23ffdc"/><stop offset="0.053" stop-color="#1fffe0"/><stop offset="0.062" stop-color="#0dfff2"/><stop offset="0.072" stop-color="#00efff"/><stop offset="0.082" stop-color="#00c5ff"/><stop offset="0.091" stop-color="#00a9ff"/><stop offset="0.101" stop-color="#00b9ff"/><stop offset="0.111" stop-color="#00e5ff"/><stop offset="0.120" stop-color="#0bfff4"/><stop offset="0.130" stop-color="#28ffd7"/><stop offset="0.139" stop-color="#38ffc7"/><stop offset="0.149" stop-color="#34ffcb"/><stop offset="0.168" stop-color="#15ffea"/><stop offset="0.178" stop-color="#00fbff"/><stop offset="0.188" stop-color="#00e8ff"/><stop offset="0.197" stop-color="#02fffd"/><stop offset="0.207" stop-color="#1dffe2"/><stop offset="0.226" stop-color="#3fffc0"/><stop offset="0.236" stop-color="#49ffb6"/><stop offset="0.245" stop-color="#b4ff4b"/><stop offset="0.255" stop-color="#bd0000"/><stop offset="0.264" stop-color="#ffc000"/><stop offset="0.274" stop-color="#faff05"/><stop offset="0.322" stop-color="#c2ff3d"/><stop offset="0.332" stop-color="#c1ff3e"/><stop offset="0.370" stop-color="#e2ff1d"/><stop offset="0.389" stop-color="#fbff04"/><stop offset="0.418" stop-color="#ffd900"/><stop offset="0.447" stop-color="#ffa700"/><stop offset="0.495" stop-color="#ff3800"/><stop offset="0.534" stop-color="#ff0a00"/><stop offset="0.601" stop-color="#fd0000"/><stop offset="0.707" stop-color="#f70000"/><stop offset="0.755" stop-color="#ff0400"/><stop offset="0.784" stop-color="#ff0f00"/><stop offset="0.812" stop-color="#ff3800"/><stop offset="0.851" stop-color="#ff8400"/><stop offset="0.899" stop-color="#fff300"/><stop offset="0.909" stop-color="#f9ff06"/><stop offset="0.938" stop-color="#c9ff36"/><stop offset="0.986" stop-color="#9bff64"/><stop offset="0.995" stop-color="#95ff6a"/></linearGradient>
<linearGradient id="c16"><stop offset="0.005" stop-color="#00b4ff"/><stop offset="0.024" stop-color="#00faff"/><stop offset="0.034" stop-color="#17ffe8"/><stop offset="0.043" stop-color="#24ffdb"/><stop offset="0.053" stop-color="#1cffe3"/><stop offset="0.062" stop-color="#08fff7"/><stop offset="0.072" stop-color="#00e8ff"/><stop offset="0.082" stop-color="#00bfff"/><stop offset="0.091" stop-color="#00acff"/><stop offset="0.101" stop-color="#00c6ff"/><stop offset="0.111" stop-color="#00f0ff"/><stop offset="0.120" stop-color="#13ffec"/><stop offset="0.130" stop-color="#2dffd2"/><stop offset="0.139" stop-color="#39ffc6"/><stop offset="0.159" stop-color="#23ffdc"/><stop offset="0.178" stop-color="#00f8ff"/><stop offset="0.188" stop-color="#00ecff"/><stop offset="0.197" stop-color="#09fff6"/><stop offset="0.216" stop-color="#31ffce"/><stop offset="0.236" stop-color="#49ffb6"/><stop offset="0.245" stop-color="#b4ff4b"/><stop offset="0.255" stop-color="#bd0000"/><stop offset="0.264" stop-color="#ffbe00"/><stop offset="0.274" stop-color="#fcff03"/><stop offset="0.322" stop-color="#c3ff3c"/><stop offset="0.332" stop-color="#c1ff3e"/><stop offset="0.370" stop-color="#e2ff1d"/><stop offset="0.389" stop-color="#fbff04"/><stop offset="0.418" stop-color="#ffd900"/><stop offset="0.447" stop-color="#ffa700"/><stop offset="0.495" stop-color="#ff3800"/><stop offset="0.534" stop-color="#ff0a00"/><stop offset="0.591" stop-color="#fe0000"/><stop offset="0.707" stop-color="#f70000"/><stop offset="0.755" stop-color="#ff0300"/><stop offset="0.784" stop-color="#ff0e00"/><stop offset="0.812" stop-color="#ff3600"/><stop offset="0.851" stop-color="#ff8100"/><stop offset="0.899" stop-color="#fff000"/><stop offset="0.909" stop-color="#fcff03"/><stop offset="0.938" stop-color="#cbff34"/><stop offset="0.986" stop-color="#9dff62"/><stop offset="0.995" stop-color="#96ff69"/></linearGradient>
<linearGradient id="c17"><stop offset="0.005" stop-color="#00beff"/><stop offset="0.014" stop-color="#00e3ff"/><stop offset="0.024" stop-color="#02fffd"/><stop offset="0.034" stop-color="#1bffe4"/><stop offset="0.043" stop-color="#23ffdc"/><stop offset="0.053" stop-color="#18ffe7"/><stop offset="0.062" stop-color="#03fffc"/><stop offset="0.072" stop-color="#00e1ff"/><stop offset="0.082" stop-color="#00baff"/><stop offset="0.091" stop-color="#00b2ff"/><stop offset="0.101" stop-color="#00d2ff"/><stop offset="0.111" stop-color="#00fbff"/><stop offset="0.130" stop-color="#31ffce"/><stop offset="0.139" stop-color="#38ffc7"/><stop offset="0.159" stop-color="#21ffde"/><stop offset="0.168" stop-color="#0ffff0"/><stop offset="0.178" stop-color="#00f6ff"/><stop offset="0.188" stop-color="#00f1ff"/><stop offset="0.197" stop-color="#0ffff0"/><stop offset="0.216" stop-color="#32ffcd"/><stop offset="0.236" stop-color="#49ffb6"/><stop offset="0.245" stop-color="#b4ff4b"/><stop offset="0.255" stop-color="#bd0000"/><stop offset="0.264" stop-color="#ffbd00"/><stop offset="0.274" stop-color="#fdff02"/><stop offset="0.322" stop-color="#c4ff3b"/><stop offset="0.332" stop-color="#c1ff3e"/><stop offset="0.370" stop-color="#e2ff1d"/><stop offset="0.389" stop-color="#fbff04"/><stop offset="0.418" stop-color="#ffd800"/><stop offset="0.447" stop-color="#ffa600"/><stop offset="0.495" stop-color="#ff3800"/><stop offset="0.534" stop-color="#ff0a00"/><stop offset="0.591" stop-color="#ff0000"/><stop offset="0.707" stop-color="#f70000"/><stop offset="0.755" stop-color="#ff0300"/><stop offset="0.784" stop-color="#ff0d00"/><stop offset="0.812" stop-color="#ff3400"/><stop offset="0.841" stop-color="#ff6900"/><stop offset="0.909" stop-color="#fffe00"/><stop offset="0.938" stop-color="#cfff30"/><stop offset="0.986" stop-color="#a1ff5e"/><stop offset="0.995" stop-color="#9aff65"/></linearGradient>
<linearGradient id="c18"><stop offset="0.005" stop-color="#00c9ff"/><stop offset="0.014" stop-color="#00ebff"/><stop offset="0.024" stop-color="#08fff7"/><stop offset="0.034" stop-color="#1effe1"/><stop offset="0.043" stop-color="#21ffde"/><stop offset="0.062" stop-color="#00fcff"/><stop offset="0.082" stop-color="#00b7ff"/><stop offset="0.091" stop-color="#00b9ff"/><stop offset="0.111" stop-color="#05fffa"/><stop offset="0.120" stop-color="#21ffde"/><stop offset="0.130" stop-color="#34ffcb"/><stop offset="0.139" stop-color="#37ffc8"/><stop offset="0.159" stop-color="#1effe1"/><stop offset="0.168" stop-color="#0cfff3"/><stop offset="0.178" stop-color="#00f6ff"/><stop offset="0.188" stop-color="#00f6ff"/><stop offset="0.197" stop-color="#15ffea"/><stop offset="0.226" stop-color="#40ffbf"/><stop offset="0.236" stop-color="#49ffb6"/><stop offset="0.245" stop-color="#b4ff4b"/><stop offset="0.255" stop-color="#bd0000"/><stop offset="0.264" stop-color="#ffbb00"/><stop offset="0.274" stop-color="#ffff00"/><stop offset="0.322" stop-color="#c5ff3a"/><stop offset="0.332" stop-color="#c2ff3d"/><stop offset="0.370" stop-color="#e3ff1c"/><stop offset="0.389" stop-color="#fcff03"/><stop offset="0.428" stop-color="#ffc900"/><stop offset="0.447" stop-color="#ffa600"/><stop offset="0.495" stop-color="#ff3800"/><stop offset="0.534" stop-color="#ff0b00"/><stop offset="0.591" stop-color="#ff0000"/><stop offset="0.707" stop-color="#f70000"/><stop offset="0.755" stop-color="#ff0300"/><stop offset="0.784" stop-color="#ff0d00"/><stop offset="0.812" stop-color="#ff3200"/><stop offset="0.841" stop-color="#ff6500"/><stop offset="0.909" stop-color="#fff900"/><stop offset="0.928" stop-color="#e2ff1d"/><stop offset="0.976" stop-color="#adff52"/><stop offset="0.995" stop-color="#9eff61"/></linearGradient>
<linearGradient id="c19"><stop offset="0.005" stop-color="#00d2ff"/><stop offset="0.014" stop-color="#00f1ff"/><stop offset="0.024" stop-color="#0cfff3"/><stop offset="0.034" stop-color="#1effe1"/><stop offset="0.043" stop-color="#1dffe2"/><stop offset="0.053" stop-color="#0efff1"/><stop offset="0.062" stop-color="#00f5ff"/><stop offset="0.072" stop-color="#00d1ff"/><stop offset="0.082" stop-color="#00b5ff"/><stop offset="0.091" stop-color="#00c2ff"/><stop offset="0.101" stop-color="#00e9ff"/><stop offset="0.111" stop-color="#0dfff2"/><stop offset="0.120" stop-color="#26ffd9"/><stop offset="0.130" stop-color="#36ffc9"/><stop offset="0.139" stop-color="#34ffcb"/><stop offset="0.159" stop-color="#1cffe3"/><stop offset="0.168" stop-color="#08fff7"/><stop offset="0.178" stop-color="#00f6ff"/><stop offset="0.188" stop-color="#00fdff"/><stop offset="0.197" stop-color="#1bffe4"/><stop offset="0.236" stop-color="#49ffb6"/><stop offset="0.245" stop-color="#b4ff4b"/><stop offset="0.255" stop-color="#bd0000"/><stop offset="0.264" stop-color="#ffba00"/><stop offset="0.274" stop-color="#fffe00"/><stop offset="0.312" stop-color="#d3ff2c"/><stop offset="0.322" stop-color="#c6ff39"/><stop offset="0.332" stop-color="#c3ff3c"/><stop offset="0.370" stop-color="#e3ff1c"/><stop offset="0.389" stop-color="#fdff02"/><stop offset="0.438" stop-color="#ffb900"/><stop offset="0.495" stop-color="#ff3800"/><stop offset="0.534" stop-color="#ff0b00"/><stop offset="0.582" stop-color="#ff0100"/><stop offset="0.707" stop-color="#f80000"/><stop offset="0.755" stop-color="#ff0300"/><stop offset="0.793" stop-color="#ff1500"/><stop offset="0.832" stop-color="#ff4e00"/><stop offset="0.880" stop-color="#ffb500"/><stop offset="0.909" stop-color="#fff300"/><stop offset="0.918" stop-color="#f9ff06"/><stop offset="0.947" stop-color="#cfff30"/><stop offset="0.995" stop-color="#a3ff5c"/></linearGradient>
<linearGradient id="c20"><stop offset="0.005" stop-color="#00d9ff"/><stop offset="0.014" stop-color="#00f4ff"/><stop offset="0.024" stop-color="#0cfff3"/><stop offset="0.034" stop-color="#1bffe4"/><stop offset="0.043" stop-color="#17ffe8"/><stop offset="0.053" stop-color="#07fff8"/><stop offset="0.062" stop-color="#00eeff"/><stop offset="0.072" stop-color="#00caff"/><stop offset="0.082" stop-color="#00b6ff"/><stop offset="0.091" stop-color="#00cbff"/><stop offset="0.101" stop-color="#00f3ff"/><stop offset="0.111" stop-color="#14ffeb"/><stop offset="0.120" stop-color="#2bffd4"/><stop offset="0.130" stop-color="#37ffc8"/><stop offset="0.149" stop-color="#25ffda"/><stop offset="0.168" stop-color="#05fffa"/><stop offset="0.178" stop-color="#00f7ff"/><stop offset="0.188" stop-color="#04fffb"/><stop offset="0.197" stop-color="#1fffe0"/><stop offset="0.236" stop-color="#49ffb6"/><stop offset="0.245" stop-color="#b4ff4b"/><stop offset="0.255" stop-color="#bd0000"/><stop offset="0.264" stop-color="#ffb800"/><stop offset="0.274" stop-color="#fffc00"/><stop offset="0.303" stop-color="#e1ff1e"/><stop offset="0.322" stop-color="#c7ff38"/><stop offset="0.332" stop-color="#c4ff3b"/><stop offset="0.370" stop-color="#e4ff1b"/><stop offset="0.389" stop-color="#fdff02"/><stop offset="0.438" stop-color="#ffb800"/><stop offset="0.495" stop-color="#ff3900"/><stop offset="0.524" stop-color="#ff1500"/><stop offset="0.543" stop-color="#ff0500"/><stop offset="0.707" stop-color="#f80000"/><stop offset="0.764" stop-color="#ff0700"/><stop offset="0.793" stop-color="#ff1400"/><stop offset="0.832" stop-color="#ff4a00"/><stop offset="0.880" stop-color="#ffb000"/><stop offset="0.909" stop-color="#ffee00"/><stop offset="0.918" stop-color="#feff01"/><stop offset="0.947" stop-color="#d4ff2b"/><stop offset="0.995" stop-color="#a8ff57"/></linearGradient>
<linearGradient id="c21"><stop offset="0.005" stop-color="#00ddff"/><stop offset="0.014" stop-color="#00f5ff"/><stop offset="0.024" stop-color="#0afff5"/><stop offset="0.034" stop-color="#14ffeb"/><stop offset="0.043" stop-color="#0efff1"/><stop offset="0.053" stop-color="#00ffff"/><stop offset="0.062" stop-color="#00e5ff"/><stop offset="0.072" stop-color="#00c3ff"/><stop offset="0.082" stop-color="#00b9ff"/><stop offset="0.091" stop-color="#00d5ff"/><stop offset="0.101" stop-color="#00fcff"/><stop offset="0.120" stop-color="#2fffd0"/><stop offset="0.130" stop-color="#37ffc8"/><stop offset="0.159" stop-color="#15ffea"/><stop offset="0.168" stop-color="#01fffe"/><stop offset="0.178" stop-color="#00f8ff"/><stop offset="0.188" stop-color="#09fff6"/><stop offset="0.197" stop-color="#22ffdd"/><stop offset="0.236" stop-color="#49ffb6"/><stop offset="0.245" stop-color="#b4ff4b"/><stop offset="0.255" stop-color="#bd0000"/><stop offset="0.264" stop-color="#ffb700"/><stop offset="0.274" stop-color="#fffb00"/><stop offset="0.293" stop-color="#efff10"/><stop offset="0.322" stop-color="#c8ff37"/><stop offset="0.332" stop-color="#c5ff3a"/><stop offset="0.370" stop-color="#e4ff1b"/><stop offset="0.389" stop-color="#feff01"/><stop offset="0.438" stop-color="#ffb800"/><stop offset="0.486" stop-color="#ff4c00"/><stop offset="0.505" stop-color="#ff2900"/><stop offset="0.543" stop-color="#ff0600"/><stop offset="0.697" stop-color="#f60000"/><stop offset="0.755" stop-color="#ff0400"/><stop offset="0.793" stop-color="#ff1400"/><stop offset="0.832" stop-color="#ff4600"/><stop offset="0.880" stop-color="#ffac00"/><stop offset="0.909" stop-color="#ffe900"/><stop offset="0.918" stop-color="#fffa00"/><stop offset="0.966" stop-color="#c5ff3a"/><stop offset="0.995" stop-color="#adff52"/></linearGradient>
<linearGradient id="c22"><stop offset="0.005" stop-color="#00dfff"/><stop offset="0.024" stop-color="#02fffd"/><stop offset="0.034" stop-color="#09fff6"/><stop offset="0.043" stop-color="#04fffb"/><stop offset="0.053" stop-color="#00f6ff"/><stop offset="0.072" stop-color="#00bdff"/><stop offset="0.082" stop-color="#00bdff"/><stop offset="0.101" stop-color="#05fffa"/><stop offset="0.120" stop-color="#32ffcd"/><stop offset="0.130" stop-color="#36ffc9"/><stop offset="0.159" stop-color="#10ffef"/><stop offset="0.168" stop-color="#00fcff"/><stop offset="0.178" stop-color="#00faff"/><stop offset="0.188" stop-color="#0efff1"/><stop offset="0.197" stop-color="#25ffda"/><stop offset="0.236" stop-color="#49ffb6"/><stop offset="0.245" stop-color="#b4ff4b"/><stop offset="0.255" stop-color="#bd0000"/><stop offset="0.264" stop-color="#ffb600"/><stop offset="0.274" stop-color="#fff900"/><stop offset="0.293" stop-color="#f0ff0f"/><stop offset="0.322" stop-color="#c9ff36"/><stop offset="0.332" stop-color="#c7ff38"/><stop offset="0.370" stop-color="#e5ff1a"/><stop offset="0.389" stop-color="#feff01"/><stop offset="0.438" stop-color="#ffb700"/><stop offset="0.486" stop-color="#ff4c00"/><stop offset="0.505" stop-color="#ff2a00"/><stop offset="0.543" stop-color="#ff0600"/><stop offset="0.688" stop-color="#f50000"/><stop offset="0.755" stop-color="#ff0400"/><stop offset="0.793" stop-color="#ff1300"/><stop offset="0.832" stop-color="#ff4300"/><stop offset="0.880" stop-color="#ffa700"/><stop offset="0.909" stop-color="#ffe400"/><stop offset="0.928" stop-color="#f8ff07"/><stop offset="0.976" stop-color="#c1ff3e"/><stop offset="0.995" stop-color="#b1ff4e"/></linearGradient>
<linearGradient id="c23"><stop offset="0.005" stop-color="#00ddff"/><stop offset="0.024" stop-color="#00f5ff"/><stop offset="0.043" stop-color="#00f6ff"/><stop offset="0.053" stop-color="#00ecff"/><stop offset="0.072" stop-color="#00b9ff"/><stop offset="0.082" stop-color="#00c3ff"/><stop offset="0.091" stop-color="#00e9ff"/><stop offset="0.101" stop-color="#0cfff3"/><stop offset="0.120" stop-color="#34ffcb"/><stop offset="0.130" stop-color="#34ffcb"/><stop offset="0.159" stop-color="#0afff5"/><stop offset="0.168" stop-color="#00f7ff"/><stop offset="0.178" stop-color="#00fcff"/><stop offset="0.197" stop-color="#27ffd8"/><stop offset="0.236" stop-color="#48ffb7"/><stop offset="0.245" stop-color="#b4ff4b"/><stop offset="0.255" stop-color="#bd0000"/><stop offset="0.264" stop-color="#ffb400"/><stop offset="0.274" stop-color="#fff800"/><stop offset="0.284" stop-color="#fcff03"/><stop offset="0.322" stop-color="#cbff34"/><stop offset="0.332" stop-color="#c8ff37"/><stop offset="0.370" stop-color="#e5ff1a"/><stop offset="0.389" stop-color="#ffff00"/><stop offset="0.438" stop-color="#ffb600"/><stop offset="0.486" stop-color="#ff4c00"/><stop offset="0.505" stop-color="#ff2a00"/><stop offset="0.543" stop-color="#ff0600"/><stop offset="0.678" stop-color="#f60000"/><stop offset="0.755" stop-color="#ff0400"/><stop offset="0.793" stop-color="#ff1200"/><stop offset="0.832" stop-color="#ff3f00"/><stop offset="0.880" stop-color="#ffa200"/><stop offset="0.909" stop-color="#ffdf00"/><stop offset="0.928" stop-color="#feff01"/><stop offset="0.976" stop-color="#c6ff39"/><stop offset="0.995" stop-color="#b6ff49"/></linearGradient>
<linearGradient id="c24"><stop offset="0.005" stop-color="#00d9ff"/><stop offset="0.034" stop-color="#00e7ff"/><stop offset="0.053" stop-color="#00dfff"/><stop offset="0.072" stop-color="#00b7ff"/><stop offset="0.082" stop-color="#00caff"/><stop offset="0.091" stop-color="#00f2ff"/><stop offset="0.101" stop-color="#11ffee"/><stop offset="0.111" stop-color="#28ffd7"/><stop offset="0.120" stop-color="#35ffca"/><stop offset="0.130" stop-color="#31ffce"/><stop offset="0.149" stop-color="#17ffe8"/><stop offset="0.159" stop-color="#03fffc"/><stop offset="0.168" stop-color="#00f4ff"/><stop offset="0.178" stop-color="#00feff"/><stop offset="0.197" stop-color="#2affd5"/><stop offset="0.236" stop-color="#48ffb7"/><stop offset="0.245" stop-color="#b4ff4b"/><stop offset="0.255" stop-color="#bd0000"/><stop offset="0.264" stop-color="#ffb300"/><stop offset="0.274" stop-color="#fff600"/><stop offset="0.284" stop-color="#fdff02"/><stop offset="0.322" stop-color="#ccff33"/><stop offset="0.332" stop-color="#c9ff36"/><stop offset="0.370" stop-color="#e6ff19"/><stop offset="0.389" stop-color="#fffe00"/><stop offset="0.438" stop-color="#ffb600"/><stop offset="0.486" stop-color="#ff4b00"/><stop offset="0.505" stop-color="#ff2a00"/><stop offset="0.543" stop-color="#ff0600"/><stop offset="0.668" stop-color="#f70000"/><stop offset="0.755" stop-color="#ff0400"/><stop offset="0.793" stop-color="#ff1100"/><stop offset="0.832" stop-color="#ff3b00"/><stop offset="0.880" stop-color="#ff9d00"/><stop offset="0.909" stop-color="#ffd900"/><stop offset="0.928" stop-color="#fffb00"/><stop offset="0.995" stop-color="#bbff44"/></linearGradient>
<linearGradient id="c25"><stop offset="0.005" stop-color="#00d2ff"/><stop offset="0.053" stop-color="#00d2ff"/><stop offset="0.062" stop-color="#00beff"/><stop offset="0.072" stop-color="#00b7ff"/><stop offset="0.082" stop-color="#00d2ff"/><stop offset="0.091" stop-color="#00f9ff"/><stop offset="0.111" stop-color="#2cffd3"/><stop offset="0.120" stop-color="#35ffca"/><stop offset="0.139" stop-color="#20ffdf"/><stop offset="0.159" stop-color="#00faff"/><stop offset="0.168" stop-color="#00f0ff"/><stop offset="0.178" stop-color="#02fffd"/><stop offset="0.197" stop-color="#2cffd3"/><stop offset="0.236" stop-color="#48ffb7"/><stop offset="0.245" stop-color="#b4ff4b"/><stop offset="0.255" stop-color="#bd0000"/><stop offset="0.264" stop-color="#ffb100"/><stop offset="0.274" stop-color="#fff500"/><stop offset="0.284" stop-color="#ffff00"/><stop offset="0.322" stop-color="#cdff32"/><stop offset="0.332" stop-color="#caff35"/><stop offset="0.370" stop-color="#e7ff18"/><stop offset="0.389" stop-color="#fffe00"/><stop offset="0.438" stop-color="#ffb500"/><stop offset="0.486" stop-color="#ff4b00"/><stop offset="0.514" stop-color="#ff1f00"/><stop offset="0.543" stop-color="#ff0700"/><stop offset="0.659" stop-color="#f80000"/><stop offset="0.716" stop-color="#fa0000"/><stop offset="0.784" stop-color="#ff0b00"/><stop offset="0.822" stop-color="#ff2a00"/><stop offset="0.861" stop-color="#ff6e00"/><stop offset="0.909" stop-color="#ffd400"/><stop offset="0.928" stop-color="#fff600"/><stop offset="0.938" stop-color="#faff05"/><stop offset="0.995" stop-color="#c0ff3f"/></linearGradient>
<linearGradient id="c26"><stop offset="0.005" stop-color="#00cbff"/><stop offset="0.024" stop-color="#00bdff"/><stop offset="0.034" stop-color="#00bcff"/><stop offset="0.043" stop-color="#00c5ff"/><stop offset="0.053" stop-color="#00c4ff"/><stop offset="0.062" stop-color="#00b5ff"/><stop offset="0.072" stop-color="#00b8ff"/><stop offset="0.091" stop-color="#01fffe"/><stop offset="0.111" stop-color="#2effd1"/><stop offset="0.120" stop-color="#34ffcb"/><stop offset="0.149" stop-color="#09fff6"/><stop offset="0.159" stop-color="#00f2ff"/><stop offset="0.168" stop-color="#00eeff"/><stop offset="0.178" stop-color="#05fffa"/><stop offset="0.188" stop-color="#1effe1"/><stop offset="0.197" stop-color="#2effd1"/><stop offset="0.226" stop-color="#3cffc3"/><stop offset="0.236" stop-color="#48ffb7"/><stop offset="0.245" stop-color="#b4ff4b"/><stop offset="0.255" stop-color="#bd0000"/><stop offset="0.264" stop-color="#ffb000"/><stop offset="0.274" stop-color="#fff300"/><stop offset="0.284" stop-color="#fffe00"/><stop offset="0.322" stop-color="#ceff31"/><stop offset="0.332" stop-color="#cbff34"/><stop offset="0.370" stop-color="#e7ff18"/><stop offset="0.389" stop-color="#fffd00"/><stop offset="0.438" stop-color="#ffb500"/><stop offset="0.486" stop-color="#ff4b00"/><stop offset="0.514" stop-color="#ff1f00"/><stop offset="0.543" stop-color="#ff0700"/><stop offset="0.649" stop-color="#f90000"/><stop offset="0.707" stop-color="#f80000"/><stop offset="0.774" stop-color="#ff0800"/><stop offset="0.803" stop-color="#ff1800"/><stop offset="0.832" stop-color="#ff3400"/><stop offset="0.880" stop-color="#ff9300"/><stop offset="0.909" stop-color="#ffcf00"/><stop offset="0.938" stop-color="#ffff00"/><stop offset="0.995" stop-color="#c5ff3a"/></linearGradient>
<linearGradient id="c27"><stop offset="0.005" stop-color="#00c6ff"/><stop offset="0.024" stop-color="#00aaff"/><stop offset="0.034" stop-color="#00a9ff"/><stop offset="0.043" stop-color="#00b5ff"/><stop offset="0.053" stop-color="#00b6ff"/><stop offset="0.062" stop-color="#00adff"/><stop offset="0.072" stop-color="#00bcff"/><stop offset="0.082" stop-color="#00e3ff"/><stop offset="0.091" stop-color="#07fff8"/><stop offset="0.111" stop-color="#30ffcf"/><stop offset="0.120" stop-color="#31ffce"/><stop offset="0.139" stop-color="#16ffe9"/><stop offset="0.149" stop-color="#01fffe"/><stop offset="0.159" stop-color="#00eaff"/><stop offset="0.168" stop-color="#00edff"/><stop offset="0.178" stop-color="#08fff7"/><stop offset="0.188" stop-color="#21ffde"/><stop offset="0.197" stop-color="#31ffce"/><stop offset="0.226" stop-color="#3bffc4"/><stop offset="0.236" stop-color="#48ffb7"/><stop offset="0.245" stop-color="#b4ff4b"/><stop offset="0.255" stop-color="#bd0000"/><stop offset="0.264" stop-color="#ffaf00"/><stop offset="0.274" stop-color="#fff200"/><stop offset="0.284" stop-color="#fffd00"/><stop offset="0.322" stop-color="#cfff30"/><stop offset="0.332" stop-color="#ccff33"/><stop offset="0.370" stop-color="#e8ff17"/><stop offset="0.389" stop-color="#fffd00"/><stop offset="0.438" stop-color="#ffb400"/><stop offset="0.476" stop-color="#ff5c00"/><stop offset="0.505" stop-color="#ff2a00"/><stop offset="0.543" stop-color="#ff0700"/><stop offset="0.649" stop-color="#f90000"/><stop offset="0.707" stop-color="#f80000"/><stop offset="0.784" stop-color="#ff0a00"/><stop offset="0.822" stop-color="#ff2400"/><stop offset="0.861" stop-color="#ff6400"/><stop offset="0.909" stop-color="#ffca00"/><stop offset="0.938" stop-color="#fff900"/><stop offset="0.966" stop-color="#e4ff1b"/><stop offset="0.995" stop-color="#c9ff36"/></linearGradient>
<linearGradient id="c28"><stop offset="0.005" stop-color="#00c3ff"/><stop offset="0.024" stop-color="#009cff"/><stop offset="0.034" stop-color="#009bff"/><stop offset="0.043" stop-color="#00a7ff"/><stop offset="0.062" stop-color="#00a9ff"/><stop offset="0.072" stop-color="#00c1ff"/><stop offset="0.082" stop-color="#00ebff"/><stop offset="0.091" stop-color="#0bfff4"/><stop offset="0.111" stop-color="#30ffcf"/><stop offset="0.120" stop-color="#2dffd2"/><stop offset="0.139" stop-color="#10ffef"/><stop offset="0.149" stop-color="#00f6ff"/><stop offset="0.159" stop-color="#00e4ff"/><stop offset="0.168" stop-color="#00eeff"/><stop offset="0.178" stop-color="#0cfff3"/><stop offset="0.188" stop-color="#25ffda"/><stop offset="0.197" stop-color="#34ffcb"/><stop offset="0.226" stop-color="#3affc5"/><stop offset="0.236" stop-color="#48ffb7"/><stop offset="0.245" stop-color="#b4ff4b"/><stop offset="0.255" stop-color="#bd0000"/><stop offset="0.264" stop-color="#ffad00"/><stop offset="0.274" stop-color="#fff000"/><stop offset="0.284" stop-color="#fffb00"/><stop offset="0.322" stop-color="#d0ff2f"/><stop offset="0.332" stop-color="#cdff32"/><stop offset="0.370" stop-color="#e8ff17"/><stop offset="0.389" stop-color="#fffc00"/><stop offset="0.438" stop-color="#ffb300"/><stop offset="0.476" stop-color="#ff5c00"/><stop offset="0.505" stop-color="#ff2a00"/><stop offset="0.543" stop-color="#ff0700"/><stop offset="0.649" stop-color="#f90000"/><stop offset="0.707" stop-color="#f80000"/><stop offset="0.784" stop-color="#ff0a00"/><stop offset="0.822" stop-color="#ff2100"/><stop offset="0.851" stop-color="#ff4f00"/><stop offset="0.909" stop-color="#ffc500"/><stop offset="0.947" stop-color="#feff01"/><stop offset="0.995" stop-color="#ceff31"/></linearGradient>
<linearGradient id="c29"><stop offset="0.005" stop-color="#00c4ff"/><stop offset="0.024" stop-color="#0094ff"/><stop offset="0.034" stop-color="#0092ff"/><stop offset="0.043" stop-color="#009eff"/><stop offset="0.062" stop-color="#00a7ff"/><stop offset="0.072" stop-color="#00c8ff"/><stop offset="0.082" stop-color="#00f1ff"/><stop offset="0.091" stop-color="#0ffff0"/><stop offset="0.101" stop-color="#23ffdc"/><stop offset="0.111" stop-color="#2dffd2"/><stop offset="0.130" stop-color="#19ffe6"/><stop offset="0.139" stop-color="#08fff7"/><stop offset="0.159" stop-color="#00deff"/><stop offset="0.168" stop-color="#00f0ff"/><stop offset="0.178" stop-color="#11ffee"/><stop offset="0.188" stop-color="#28ffd7"/><stop offset="0.197" stop-color="#36ffc9"/><stop offset="0.226" stop-color="#39ffc6"/><stop offset="0.236" stop-color="#47ffb8"/><stop offset="0.245" stop-color="#b4ff4b"/><stop offset="0.255" stop-color="#bd0000"/><stop offset="0.264" stop-color="#ffac00"/><stop offset="0.274" stop-color="#ffef00"/><stop offset="0.293" stop-color="#f8ff07"/><stop offset="0.322" stop-color="#d2ff2d"/><stop offset="0.332" stop-color="#ceff31"/><stop offset="0.370" stop-color="#e9ff16"/><stop offset="0.389" stop-color="#fffc00"/><stop offset="0.438" stop-color="#ffb300"/><stop offset="0.476" stop-color="#ff5b00"/><stop offset="0.514" stop-color="#ff2000"/><stop offset="0.553" stop-color="#ff0400"/><stop offset="0.707" stop-color="#f80000"/><stop offset="0.784" stop-color="#ff0a00"/><stop offset="0.822" stop-color="#ff1e00"/><stop offset="0.851" stop-color="#ff4b00"/><stop offset="0.909" stop-color="#ffc000"/><stop offset="0.947" stop-color="#fffb00"/><stop offset="0.995" stop-color="#d3ff2c"/></linearGradient>
<linearGradient id="c30"><stop offset="0.005" stop-color="#00caff"/><stop offset="0.024" stop-color="#0095ff"/><stop offset="0.034" stop-color="#0091ff"/><stop offset="0.053" stop-color="#009bff"/><stop offset="0.062" stop-color="#00a8ff"/><stop offset="0.082" stop-color="#00f7ff"/><stop offset="0.101" stop-color="#22ffdd"/><stop offset="0.111" stop-color="#28ffd7"/><stop offset="0.130" stop-color="#12ffed"/><stop offset="0.139" stop-color="#00fdff"/><stop offset="0.149" stop-color="#00e3ff"/><stop offset="0.159" stop-color="#00dbff"/><stop offset="0.168" stop-color="#00f4ff"/><stop offset="0.178" stop-color="#15ffea"/><stop offset="0.188" stop-color="#2cffd3"/><stop offset="0.197" stop-color="#39ffc6"/><stop offset="0.216" stop-color="#33ffcc"/><stop offset="0.226" stop-color="#37ffc8"/><stop offset="0.236" stop-color="#47ffb8"/><stop offset="0.245" stop-color="#b4ff4b"/><stop offset="0.255" stop-color="#bd0000"/><stop offset="0.264" stop-color="#ffaa00"/><stop offset="0.274" stop-color="#ffed00"/><stop offset="0.293" stop-color="#f9ff06"/><stop offset="0.322" stop-color="#d3ff2c"/><stop offset="0.332" stop-color="#cfff30"/><stop offset="0.370" stop-color="#eaff15"/><stop offset="0.389" stop-color="#fffb00"/><stop offset="0.438" stop-color="#ffb200"/><stop offset="0.476" stop-color="#ff5b00"/><stop offset="0.514" stop-color="#ff2000"/><stop offset="0.553" stop-color="#ff0400"/><stop offset="0.707" stop-color="#f80000"/><stop offset="0.784" stop-color="#ff0a00"/><stop offset="0.822" stop-color="#ff1b00"/><stop offset="0.851" stop-color="#ff4600"/><stop offset="0.918" stop-color="#ffca00"/><stop offset="0.947" stop-color="#fff500"/><stop offset="0.957" stop-color="#feff01"/><stop offset="0.995" stop-color="#d8ff27"/></linearGradient>
<linearGradient id="c31"><stop offset="0.005" stop-color="#00d4ff"/><stop offset="0.024" stop-color="#009cff"/><stop offset="0.034" stop-color="#0096ff"/><stop offset="0.053" stop-color="#0098ff"/><stop offset="0.062" stop-color="#00adff"/><stop offset="0.082" stop-color="#00fbff"/><stop offset="0.101" stop-color="#1fffe0"/><stop offset="0.111" stop-color="#20ffdf"/><stop offset="0.130" stop-color="#08fff7"/><stop offset="0.139" stop-color="#00f2ff"/><stop offset="0.149" stop-color="#00daff"/><stop offset="0.159" stop-color="#00dbff"/><stop offset="0.168" stop-color="#00f9ff"/><stop offset="0.188" stop-color="#30ffcf"/><stop offset="0.197" stop-color="#3bffc4"/><stop offset="0.216" stop-color="#31ffce"/><stop offset="0.226" stop-color="#35ffca"/><stop offset="0.236" stop-color="#47ffb8"/><stop offset="0.245" stop-color="#b4ff4b"/><stop offset="0.255" stop-color="#bd0000"/><stop offset="0.264" stop-color="#ffa900"/><stop offset="0.274" stop-color="#ffec00"/><stop offset="0.293" stop-color="#faff05"/><stop offset="0.322" stop-color="#d4ff2b"/><stop offset="0.332" stop-color="#d0ff2f"/><stop offset="0.370" stop-color="#eaff15"/><stop offset="0.389" stop-color="#fffa00"/><stop offset="0.438" stop-color="#ffb200"/><stop offset="0.476" stop-color="#ff5b00"/><stop offset="0.514" stop-color="#ff2000"/><stop offset="0.553" stop-color="#ff0400"/><stop offset="0.707" stop-color="#f80000"/><stop offset="0.774" stop-color="#ff0700"/><stop offset="0.822" stop-color="#ff1800"/><stop offset="0.841" stop-color="#ff3200"/><stop offset="0.880" stop-color="#ff7a00"/><stop offset="0.918" stop-color="#ffc500"/><stop offset="0.947" stop-color="#fff000"/><stop offset="0.966" stop-color="#f9ff06"/><stop offset="0.995" stop-color="#dcff23"/></linearGradient>
<linearGradient id="c32"><stop offset="0.005" stop-color="#00e1ff"/><stop offset="0.024" stop-color="#00a9ff"/><stop offset="0.043" stop-color="#009aff"/><stop offset="0.053" stop-color="#0099ff"/><stop offset="0.062" stop-color="#00b4ff"/><stop offset="0.072" stop-color="#00dfff"/><stop offset="0.082" stop-color="#00feff"/><stop offset="0.101" stop-color="#19ffe6"/><stop offset="0.120" stop-color="#09fff6"/><stop offset="0.130" stop-color="#00fcff"/><stop offset="0.149" stop-color="#00d2ff"/><stop offset="0.159" stop-color="#00dcff"/><stop offset="0.168" stop-color="#00ffff"/><stop offset="0.178" stop-color="#1effe1"/><stop offset="0.188" stop-color="#34ffcb"/><stop offset="0.197" stop-color="#3dffc2"/><stop offset="0.216" stop-color="#2fffd0"/><stop offset="0.226" stop-color="#33ffcc"/><stop offset="0.236" stop-color="#46ffb9"/><stop offset="0.245" stop-color="#b4ff4b"/><stop offset="0.255" stop-color="#bd0000"/><stop offset="0.264" stop-color="#ffa700"/><stop offset="0.274" stop-color="#ffea00"/><stop offset="0.293" stop-color="#fbff04"/><stop offset="0.322" stop-color="#d5ff2a"/><stop offset="0.332" stop-color="#d1ff2e"/><stop offset="0.370" stop-color="#ebff14"/><stop offset="0.389" stop-color="#fffa00"/><stop offset="0.438" stop-color="#ffb100"/><stop offset="0.476" stop-color="#ff5a00"/><stop offset="0.514" stop-color="#ff2000"/><stop offset="0.553" stop-color="#ff0400"/><stop offset="0.707" stop-color="#f80000"/><stop offset="0.774" stop-color="#ff0700"/><stop offset="0.822" stop-color="#ff1500"/><stop offset="0.841" stop-color="#ff2e00"/><stop offset="0.880" stop-color="#ff7500"/><stop offset="0.918" stop-color="#ffc000"/><stop offset="0.947" stop-color="#ffeb00"/><stop offset="0.966" stop-color="#ffff00"/><stop offset="0.995" stop-color="#e1ff1e"/></linearGradient>
<linearGradient id="c33"><stop offset="0.005" stop-color="#00eeff"/><stop offset="0.024" stop-color="#00b8ff"/><stop offset="0.043" stop-color="#009dff"/><stop offset="0.053" stop-color="#009dff"/><stop offset="0.062" stop-color="#00bcff"/><stop offset="0.072" stop-color="#00e6ff"/><stop offset="0.082" stop-color="#01fffe"/><stop offset="0.091" stop-color="#0cfff3"/><stop offset="0.101" stop-color="#0ffff0"/><stop offset="0.120" stop-color="#00f9ff"/><stop offset="0.130" stop-color="#00edff"/><stop offset="0.149" stop-color="#00ccff"/><stop offset="0.159" stop-color="#00dfff"/><stop offset="0.168" stop-color="#06fff9"/><stop offset="0.188" stop-color="#37ffc8"/><stop offset="0.197" stop-color="#3dffc2"/><stop offset="0.216" stop-color="#2cffd3"/><stop offset="0.226" stop-color="#31ffce"/><stop offset="0.236" stop-color="#46ffb9"/><stop offset="0.245" stop-color="#b4ff4b"/><stop offset="0.255" stop-color="#bd0000"/><stop offset="0.264" stop-color="#ffa600"/><stop offset="0.274" stop-color="#ffe900"/><stop offset="0.293" stop-color="#fdff02"/><stop offset="0.322" stop-color="#d6ff29"/><stop offset="0.332" stop-color="#d3ff2c"/><stop offset="0.370" stop-color="#ebff14"/><stop offset="0.389" stop-color="#fff900"/><stop offset="0.438" stop-color="#ffb100"/><stop offset="0.476" stop-color="#ff5a00"/><stop offset="0.514" stop-color="#ff2000"/><stop offset="0.553" stop-color="#ff0500"/><stop offset="0.697" stop-color="#f60000"/><stop offset="0.764" stop-color="#ff0500"/><stop offset="0.822" stop-color="#ff1200"/><stop offset="0.841" stop-color="#ff2a00"/><stop offset="0.880" stop-color="#ff7000"/><stop offset="0.918" stop-color="#ffba00"/><stop offset="0.957" stop-color="#fff000"/><stop offset="0.976" stop-color="#faff05"/><stop offset="0.995" stop-color="#e6ff19"/></linearGradient>
<linearGradient id="c34"><stop offset="0.005" stop-color="#00faff"/><stop offset="0.024" stop-color="#00c7ff"/><stop offset="0.043" stop-color="#00a2ff"/><stop offset="0.053" stop-color="#00a3ff"/><stop offset="0.072" stop-color="#00edff"/><stop offset="0.082" stop-color="#01fffe"/><stop offset="0.091" stop-color="#07fff8"/><stop offset="0.101" stop-color="#02fffd"/><stop offset="0.130" stop-color="#00ddff"/><stop offset="0.139" stop-color="#00cbff"/><stop offset="0.149" stop-color="#00c8ff"/><stop offset="0.159" stop-color="#00e4ff"/><stop offset="0.168" stop-color="#0cfff3"/><stop offset="0.188" stop-color="#3bffc4"/><stop offset="0.197" stop-color="#3dffc2"/><stop offset="0.216" stop-color="#2affd5"/><stop offset="0.226" stop-color="#2fffd0"/><stop offset="0.236" stop-color="#45ffba"/><stop offset="0.245" stop-color="#b4ff4b"/><stop offset="0.255" stop-color="#bd0000"/><stop offset="0.264" stop-color="#ffa500"/><stop offset="0.274" stop-color="#ffe700"/><stop offset="0.293" stop-color="#feff01"/><stop offset="0.322" stop-color="#d7ff28"/><stop offset="0.332" stop-color="#d4ff2b"/><stop offset="0.370" stop-color="#ecff13"/><stop offset="0.389" stop-color="#fff900"/><stop offset="0.438" stop-color="#ffb000"/><stop offset="0.476" stop-color="#ff5900"/><stop offset="0.514" stop-color="#ff2000"/><stop offset="0.553" stop-color="#ff0500"/><stop offset="0.697" stop-color="#f60000"/><stop offset="0.764" stop-color="#ff0500"/><stop offset="0.822" stop-color="#ff0f00"/><stop offset="0.841" stop-color="#ff2600"/><stop offset="0.880" stop-color="#ff6b00"/><stop offset="0.918" stop-color="#ffb500"/><stop offset="0.957" stop-color="#ffeb00"/><stop offset="0.976" stop-color="#ffff00"/><stop offset="0.995" stop-color="#ebff14"/></linearGradient>
<linearGradient id="c35"><stop offset="0.005" stop-color="#04fffb"/><stop offset="0.043" stop-color="#00a5ff"/><stop offset="0.053" stop-color="#00abff"/><stop offset="0.072" stop-color="#00f2ff"/><stop offset="0.082" stop-color="#00ffff"/><stop offset="0.091" stop-color="#00ffff"/><stop offset="0.111" stop-color="#00dcff"/><stop offset="0.139" stop-color="#00bdff"/><stop offset="0.149" stop-color="#00c5ff"/><stop offset="0.159" stop-color="#00eaff"/><stop offset="0.168" stop-color="#11ffee"/><stop offset="0.188" stop-color="#3dffc2"/><stop offset="0.197" stop-color="#3cffc3"/><stop offset="0.216" stop-color="#26ffd9"/><stop offset="0.226" stop-color="#2bffd4"/><stop offset="0.236" stop-color="#43ffbc"/><stop offset="0.245" stop-color="#b4ff4b"/><stop offset="0.255" stop-color="#bd0000"/><stop offset="0.264" stop-color="#ffa400"/><stop offset="0.274" stop-color="#ffe700"/><stop offset="0.293" stop-color="#ffff00"/><stop offset="0.322" stop-color="#dbff24"/><stop offset="0.332" stop-color="#d8ff27"/><stop offset="0.370" stop-color="#f1ff0e"/><stop offset="0.380" stop-color="#feff01"/><stop offset="0.438" stop-color="#ffac00"/><stop offset="0.476" stop-color="#ff5800"/><stop offset="0.514" stop-color="#ff2000"/><stop offset="0.553" stop-color="#ff0500"/><stop offset="0.697" stop-color="#f70000"/><stop offset="0.755" stop-color="#ff0500"/><stop offset="0.822" stop-color="#ff1000"/><stop offset="0.841" stop-color="#ff2600"/><stop offset="0.880" stop-color="#ff6700"/><stop offset="0.918" stop-color="#ffac00"/><stop offset="0.957" stop-color="#ffe000"/><stop offset="0.986" stop-color="#fffe00"/><stop offset="0.995" stop-color="#f6ff09"/></linearGradient>
<linearGradient id="c36"><stop offset="0.005" stop-color="#0bfff4"/><stop offset="0.014" stop-color="#00f4ff"/><stop offset="0.043" stop-color="#00a9ff"/><stop offset="0.053" stop-color="#00b3ff"/><stop offset="0.062" stop-color="#00d9ff"/><stop offset="0.072" stop-color="#00f6ff"/><stop offset="0.082" stop-color="#00fdff"/><stop offset="0.091" stop-color="#00f6ff"/><stop offset="0.111" stop-color="#00c6ff"/><stop offset="0.139" stop-color="#00b1ff"/><stop offset="0.149" stop-color="#00c5ff"/><stop offset="0.159" stop-color="#00f0ff"/><stop offset="0.168" stop-color="#15ffea"/><stop offset="0.188" stop-color="#3fffc0"/><stop offset="0.197" stop-color="#3affc5"/><stop offset="0.216" stop-color="#23ffdc"/><stop offset="0.226" stop-color="#27ffd8"/><stop offset="0.236" stop-color="#42ffbd"/><stop offset="0.245" stop-color="#b3ff4c"/><stop offset="0.255" stop-color="#bd0000"/><stop offset="0.264" stop-color="#ffa300"/><stop offset="0.274" stop-color="#ffe600"/><stop offset="0.293" stop-color="#ffff00"/><stop offset="0.322" stop-color="#deff21"/><stop offset="0.341" stop-color="#e1ff1e"/><stop offset="0.380" stop-color="#fffb00"/><stop offset="0.438" stop-color="#ffa800"/><stop offset="0.476" stop-color="#ff5700"/><stop offset="0.514" stop-color="#ff2000"/><stop offset="0.553" stop-color="#ff0600"/><stop offset="0.697" stop-color="#f80000"/><stop offset="0.755" stop-color="#ff0600"/><stop offset="0.822" stop-color="#ff1100"/><stop offset="0.851" stop-color="#ff3300"/><stop offset="0.918" stop-color="#ffa400"/><stop offset="0.957" stop-color="#ffd600"/><stop offset="0.995" stop-color="#fffd00"/></linearGradient>
<linearGradient id="c37"><stop offset="0.005" stop-color="#0ffff0"/><stop offset="0.014" stop-color="#00f9ff"/><stop offset="0.034" stop-color="#00c1ff"/><stop offset="0.043" stop-color="#00acff"/><stop offset="0.053" stop-color="#00bcff"/><stop offset="0.062" stop-color="#00e1ff"/><stop offset="0.072" stop-color="#00f9ff"/><stop offset="0.082" stop-color="#00fcff"/><stop offset="0.091" stop-color="#00edff"/><stop offset="0.111" stop-color="#00b0ff"/><stop offset="0.130" stop-color="#00a3ff"/><stop offset="0.139" stop-color="#00a7ff"/><stop offset="0.149" stop-color="#00c7ff"/><stop offset="0.159" stop-color="#00f6ff"/><stop offset="0.168" stop-color="#1affe5"/><stop offset="0.178" stop-color="#31ffce"/><stop offset="0.188" stop-color="#40ffbf"/><stop offset="0.216" stop-color="#1fffe0"/><stop offset="0.226" stop-color="#23ffdc"/><stop offset="0.236" stop-color="#40ffbf"/><stop offset="0.245" stop-color="#b2ff4d"/><stop offset="0.255" stop-color="#bd0000"/><stop offset="0.264" stop-color="#ffa300"/><stop offset="0.274" stop-color="#ffe500"/><stop offset="0.293" stop-color="#fffe00"/><stop offset="0.322" stop-color="#e1ff1e"/><stop offset="0.341" stop-color="#e5ff1a"/><stop offset="0.370" stop-color="#fbff04"/><stop offset="0.418" stop-color="#ffc000"/><stop offset="0.447" stop-color="#ff9200"/><stop offset="0.476" stop-color="#ff5600"/><stop offset="0.514" stop-color="#ff2100"/><stop offset="0.553" stop-color="#ff0700"/><stop offset="0.697" stop-color="#f90000"/><stop offset="0.764" stop-color="#ff0900"/><stop offset="0.822" stop-color="#ff1300"/><stop offset="0.851" stop-color="#ff3200"/><stop offset="0.928" stop-color="#ffa900"/><stop offset="0.986" stop-color="#ffe800"/><stop offset="0.995" stop-color="#fff100"/></linearGradient>
<linearGradient id="c38"><stop offset="0.005" stop-color="#10ffef"/><stop offset="0.014" stop-color="#00fbff"/><stop offset="0.034" stop-color="#00bfff"/><stop offset="0.043" stop-color="#00aeff"/><stop offset="0.053" stop-color="#00c5ff"/><stop offset="0.062" stop-color="#00e9ff"/><stop offset="0.072" stop-color="#00fcff"/><stop offset="0.082" stop-color="#00fbff"/><stop offset="0.091" stop-color="#00e5ff"/><stop offset="0.101" stop-color="#00bdff"/><stop offset="0.111" stop-color="#009dff"/><stop offset="0.120" stop-color="#0093ff"/><stop offset="0.130" stop-color="#0091ff"/><stop offset="0.139" stop-color="#00a0ff"/><stop offset="0.159" stop-color="#00fcff"/><stop offset="0.178" stop-color="#34ffcb"/><stop offset="0.188" stop-color="#40ffbf"/><stop offset="0.216" stop-color="#1affe5"/><stop offset="0.226" stop-color="#1fffe0"/><stop offset="0.236" stop-color="#3effc1"/><stop offset="0.245" stop-color="#b2ff4d"/><stop offset="0.255" stop-color="#bd0000"/><stop offset="0.264" stop-color="#ffa200"/><stop offset="0.274" stop-color="#ffe500"/><stop offset="0.293" stop-color="#fffd00"/><stop offset="0.322" stop-color="#e4ff1b"/><stop offset="0.341" stop-color="#e9ff16"/><stop offset="0.370" stop-color="#fffd00"/><stop offset="0.438" stop-color="#ff9f00"/><stop offset="0.476" stop-color="#ff5500"/><stop offset="0.514" stop-color="#ff2100"/><stop offset="0.553" stop-color="#ff0800"/><stop offset="0.697" stop-color="#fa0000"/><stop offset="0.764" stop-color="#ff0a00"/><stop offset="0.822" stop-color="#ff1400"/><stop offset="0.861" stop-color="#ff3d00"/><stop offset="0.928" stop-color="#ff9f00"/><stop offset="0.995" stop-color="#ffe600"/></linearGradient>
<linearGradient id="c39"><stop offset="0.005" stop-color="#0ffff0"/><stop offset="0.014" stop-color="#00faff"/><stop offset="0.034" stop-color="#00bcff"/><stop offset="0.043" stop-color="#00b2ff"/><stop offset="0.062" stop-color="#00f0ff"/><stop offset="0.072" stop-color="#01fffe"/><stop offset="0.082" stop-color="#00fbff"/><stop offset="0.091" stop-color="#00dfff"/><stop offset="0.101" stop-color="#00b0ff"/><stop offset="0.111" stop-color="#008eff"/><stop offset="0.120" stop-color="#0082ff"/><stop offset="0.130" stop-color="#0084ff"/><stop offset="0.139" stop-color="#009dff"/><stop offset="0.159" stop-color="#03fffc"/><stop offset="0.168" stop-color="#22ffdd"/><stop offset="0.178" stop-color="#37ffc8"/><stop offset="0.188" stop-color="#3fffc0"/><stop offset="0.216" stop-color="#16ffe9"/><stop offset="0.226" stop-color="#1bffe4"/><stop offset="0.236" stop-color="#3cffc3"/><stop offset="0.245" stop-color="#b1ff4e"/><stop offset="0.255" stop-color="#bd0000"/><stop offset="0.264" stop-color="#ffa100"/><stop offset="0.274" stop-color="#ffe400"/><stop offset="0.293" stop-color="#fffc00"/><stop offset="0.322" stop-color="#e7ff18"/><stop offset="0.351" stop-color="#f4ff0b"/><stop offset="0.370" stop-color="#fff800"/><stop offset="0.447" stop-color="#ff8a00"/><stop offset="0.486" stop-color="#ff4500"/><stop offset="0.524" stop-color="#ff1a00"/><stop offset="0.553" stop-color="#ff0800"/><stop offset="0.697" stop-color="#fa0000"/><stop offset="0.832" stop-color="#ff1b00"/><stop offset="0.880" stop-color="#ff5600"/><stop offset="0.947" stop-color="#ffad00"/><stop offset="0.995" stop-color="#ffdb00"/></linearGradient>
<linearGradient id="c40"><stop offset="0.005" stop-color="#0dfff2"/><stop offset="0.014" stop-color="#00f7ff"/><stop offset="0.034" stop-color="#00b8ff"/><stop offset="0.043" stop-color="#00b6ff"/><stop offset="0.062" stop-color="#00f7ff"/><stop offset="0.072" stop-color="#04fffb"/><stop offset="0.082" stop-color="#00fdff"/><stop offset="0.091" stop-color="#00dbff"/><stop offset="0.101" stop-color="#00a9ff"/><stop offset="0.111" stop-color="#0085ff"/><stop offset="0.120" stop-color="#0077ff"/><stop offset="0.130" stop-color="#007bff"/><stop offset="0.139" stop-color="#009eff"/><stop offset="0.149" stop-color="#00d8ff"/><stop offset="0.159" stop-color="#09fff6"/><stop offset="0.168" stop-color="#25ffda"/><stop offset="0.178" stop-color="#39ffc6"/><stop offset="0.188" stop-color="#3dffc2"/><stop offset="0.216" stop-color="#11ffee"/><stop offset="0.226" stop-color="#17ffe8"/><stop offset="0.236" stop-color="#3affc5"/><stop offset="0.245" stop-color="#b0ff4f"/><stop offset="0.255" stop-color="#bd0000"/><stop offset="0.264" stop-color="#ffa100"/><stop offset="0.274" stop-color="#ffe400"/><stop offset="0.293" stop-color="#fffb00"/><stop offset="0.322" stop-color="#eaff15"/><stop offset="0.351" stop-color="#f8ff07"/><stop offset="0.361" stop-color="#fffd00"/><stop offset="0.438" stop-color="#ff9700"/><stop offset="0.486" stop-color="#ff4400"/><stop offset="0.524" stop-color="#ff1a00"/><stop offset="0.553" stop-color="#ff0900"/><stop offset="0.697" stop-color="#fb0000"/><stop offset="0.832" stop-color="#ff1c00"/><stop offset="0.880" stop-color="#ff5100"/><stop offset="0.947" stop-color="#ffa300"/><stop offset="0.995" stop-color="#ffcf00"/></linearGradient>
<linearGradient id="c41"><stop offset="0.005" stop-color="#09fff6"/><stop offset="0.014" stop-color="#00f2ff"/><stop offset="0.034" stop-color="#00b5ff"/><stop offset="0.043" stop-color="#00bcff"/><stop offset="0.062" stop-color="#00fdff"/><stop offset="0.072" stop-color="#09fff6"/><stop offset="0.082" stop-color="#01fffe"/><stop offset="0.091" stop-color="#00daff"/><stop offset="0.101" stop-color="#00a7ff"/><stop offset="0.111" stop-color="#0082ff"/><stop offset="0.120" stop-color="#0071ff"/><stop offset="0.130" stop-color="#0078ff"/><stop offset="0.139" stop-color="#00a3ff"/><stop offset="0.149" stop-color="#00e0ff"/><stop offset="0.159" stop-color="#0efff1"/><stop offset="0.168" stop-color="#29ffd6"/><stop offset="0.178" stop-color="#3affc5"/><stop offset="0.188" stop-color="#3affc5"/><stop offset="0.216" stop-color="#0bfff4"/><stop offset="0.226" stop-color="#13ffec"/><stop offset="0.236" stop-color="#38ffc7"/><stop offset="0.245" stop-color="#b0ff4f"/><stop offset="0.255" stop-color="#bd0000"/><stop offset="0.264" stop-color="#ffa000"/><stop offset="0.274" stop-color="#ffe300"/><stop offset="0.293" stop-color="#fffa00"/><stop offset="0.322" stop-color="#edff12"/><stop offset="0.351" stop-color="#fcff03"/><stop offset="0.380" stop-color="#ffe100"/><stop offset="0.447" stop-color="#ff8300"/><stop offset="0.486" stop-color="#ff4300"/><stop offset="0.524" stop-color="#ff1a00"/><stop offset="0.553" stop-color="#ff0a00"/><stop offset="0.707" stop-color="#ff0000"/><stop offset="0.832" stop-color="#ff1d00"/><stop offset="0.880" stop-color="#ff4d00"/><stop offset="0.966" stop-color="#ffaa00"/><stop offset="0.995" stop-color="#ffc400"/></linearGradient>
<linearGradient id="c42"><stop offset="0.005" stop-color="#05fffa"/><stop offset="0.014" stop-color="#00ecff"/><stop offset="0.024" stop-color="#00caff"/><stop offset="0.034" stop-color="#00b3ff"/><stop offset="0.043" stop-color="#00c3ff"/><stop offset="0.053" stop-color="#00e8ff"/><stop offset="0.062" stop-color="#03fffc"/><stop offset="0.072" stop-color="#0efff1"/><stop offset="0.082" stop-color="#05fffa"/><stop offset="0.091" stop-color="#00ddff"/><stop offset="0.101" stop-color="#00aaff"/><stop offset="0.111" stop-color="#0085ff"/><stop offset="0.120" stop-color="#0070ff"/><stop offset="0.130" stop-color="#007aff"/><stop offset="0.139" stop-color="#00acff"/><stop offset="0.149" stop-color="#00e9ff"/><stop offset="0.159" stop-color="#13ffec"/><stop offset="0.168" stop-color="#2dffd2"/><stop offset="0.178" stop-color="#3bffc4"/><stop offset="0.188" stop-color="#36ffc9"/><stop offset="0.207" stop-color="#12ffed"/><stop offset="0.216" stop-color="#06fff9"/><stop offset="0.226" stop-color="#0ffff0"/><stop offset="0.236" stop-color="#35ffca"/><stop offset="0.245" stop-color="#afff50"/><stop offset="0.255" stop-color="#bd0000"/><stop offset="0.264" stop-color="#ff9f00"/><stop offset="0.274" stop-color="#ffe300"/><stop offset="0.293" stop-color="#fff900"/><stop offset="0.322" stop-color="#f0ff0f"/><stop offset="0.351" stop-color="#fffd00"/><stop offset="0.438" stop-color="#ff8e00"/><stop offset="0.495" stop-color="#ff3600"/><stop offset="0.543" stop-color="#ff0d00"/><stop offset="0.697" stop-color="#fd0000"/><stop offset="0.832" stop-color="#ff1d00"/><stop offset="0.889" stop-color="#ff5300"/><stop offset="0.995" stop-color="#ffb900"/></linearGradient>
<linearGradient id="c43"><stop offset="0.005" stop-color="#01fffe"/><stop offset="0.014" stop-color="#00e6ff"/><stop offset="0.024" stop-color="#00c2ff"/><stop offset="0.034" stop-color="#00b2ff"/><stop offset="0.043" stop-color="#00caff"/><stop offset="0.053" stop-color="#00efff"/><stop offset="0.062" stop-color="#08fff7"/><stop offset="0.072" stop-color="#13ffec"/><stop offset="0.082" stop-color="#09fff6"/><stop offset="0.091" stop-color="#00e1ff"/><stop offset="0.101" stop-color="#00b1ff"/><stop offset="0.111" stop-color="#008bff"/><stop offset="0.120" stop-color="#0074ff"/><stop offset="0.130" stop-color="#0082ff"/><stop offset="0.149" stop-color="#00f1ff"/><stop offset="0.159" stop-color="#18ffe7"/><stop offset="0.168" stop-color="#30ffcf"/><stop offset="0.178" stop-color="#3affc5"/><stop offset="0.188" stop-color="#32ffcd"/><stop offset="0.207" stop-color="#0dfff2"/><stop offset="0.216" stop-color="#01fffe"/><stop offset="0.226" stop-color="#0bfff4"/><stop offset="0.236" stop-color="#33ffcc"/><stop offset="0.245" stop-color="#afff50"/><stop offset="0.255" stop-color="#bd0000"/><stop offset="0.264" stop-color="#ff9f00"/><stop offset="0.274" stop-color="#ffe200"/><stop offset="0.293" stop-color="#fff900"/><stop offset="0.312" stop-color="#f6ff09"/><stop offset="0.332" stop-color="#f7ff08"/><stop offset="0.351" stop-color="#fff900"/><stop offset="0.447" stop-color="#ff7c00"/><stop offset="0.495" stop-color="#ff3600"/><stop offset="0.543" stop-color="#ff0d00"/><stop offset="0.697" stop-color="#fe0000"/><stop offset="0.832" stop-color="#ff1e00"/><stop offset="0.889" stop-color="#ff4e00"/><stop offset="0.995" stop-color="#ffae00"/></linearGradient>
<linearGradient id="c44"><stop offset="0.005" stop-color="#00fbff"/><stop offset="0.024" stop-color="#00bbff"/><stop offset="0.034" stop-color="#00b4ff"/><stop offset="0.053" stop-color="#00f6ff"/><stop offset="0.062" stop-color="#0dfff2"/><stop offset="0.072" stop-color="#18ffe7"/><stop offset="0.082" stop-color="#0dfff2"/><stop offset="0.091" stop-color="#00e7ff"/><stop offset="0.111" stop-color="#0094ff"/><stop offset="0.120" stop-color="#007cff"/><stop offset="0.130" stop-color="#008dff"/><stop offset="0.149" stop-color="#00faff"/><stop offset="0.168" stop-color="#33ffcc"/><stop offset="0.178" stop-color="#39ffc6"/><stop offset="0.197" stop-color="#19ffe6"/><stop offset="0.207" stop-color="#07fff8"/><stop offset="0.216" stop-color="#00fbff"/><stop offset="0.226" stop-color="#08fff7"/><stop offset="0.236" stop-color="#30ffcf"/><stop offset="0.245" stop-color="#aeff51"/><stop offset="0.255" stop-color="#bd0000"/><stop offset="0.264" stop-color="#ff9e00"/><stop offset="0.274" stop-color="#ffe100"/><stop offset="0.293" stop-color="#fff800"/><stop offset="0.312" stop-color="#f8ff07"/><stop offset="0.332" stop-color="#faff05"/><stop offset="0.351" stop-color="#fff400"/><stop offset="0.457" stop-color="#ff6a00"/><stop offset="0.505" stop-color="#ff2c00"/><stop offset="0.543" stop-color="#ff0e00"/><stop offset="0.697" stop-color="#ff0000"/><stop offset="0.793" stop-color="#ff1700"/><stop offset="0.841" stop-color="#ff2400"/><stop offset="0.995" stop-color="#ffa200"/></linearGradient>
<linearGradient id="c45"><stop offset="0.005" stop-color="#00f5ff"/><stop offset="0.024" stop-color="#00b5ff"/><stop offset="0.034" stop-color="#00b7ff"/><stop offset="0.053" stop-color="#00faff"/><stop offset="0.072" stop-color="#1dffe2"/><stop offset="0.082" stop-color="#11ffee"/><stop offset="0.091" stop-color="#00edff"/><stop offset="0.111" stop-color="#009dff"/><stop offset="0.120" stop-color="#0086ff"/><stop offset="0.130" stop-color="#009bff"/><stop offset="0.139" stop-color="#00d2ff"/><stop offset="0.149" stop-color="#03fffc"/><stop offset="0.159" stop-color="#21ffde"/><stop offset="0.168" stop-color="#35ffca"/><stop offset="0.178" stop-color="#37ffc8"/><stop offset="0.207" stop-color="#01fffe"/><stop offset="0.216" stop-color="#00f6ff"/><stop offset="0.226" stop-color="#05fffa"/><stop offset="0.236" stop-color="#2effd1"/><stop offset="0.245" stop-color="#adff52"/><stop offset="0.255" stop-color="#bd0000"/><stop offset="0.264" stop-color="#ff9d00"/><stop offset="0.274" stop-color="#ffe100"/><stop offset="0.284" stop-color="#fff000"/><stop offset="0.312" stop-color="#faff05"/><stop offset="0.341" stop-color="#fff900"/><stop offset="0.447" stop-color="#ff7500"/><stop offset="0.495" stop-color="#ff3500"/><stop offset="0.543" stop-color="#ff0e00"/><stop offset="0.697" stop-color="#ff0100"/><stop offset="0.784" stop-color="#ff1700"/><stop offset="0.851" stop-color="#ff2800"/><stop offset="0.966" stop-color="#ff7f00"/><stop offset="0.995" stop-color="#ff9700"/></linearGradient>
<linearGradient id="c46"><stop offset="0.005" stop-color="#00efff"/><stop offset="0.024" stop-color="#00b0ff"/><stop offset="0.034" stop-color="#00baff"/><stop offset="0.053" stop-color="#00fcff"/><stop offset="0.072" stop-color="#1fffe0"/><stop offset="0.082" stop-color="#13ffec"/><stop offset="0.091" stop-color="#00f3ff"/><stop offset="0.111" stop-color="#00a5ff"/><stop offset="0.120" stop-color="#0091ff"/><stop offset="0.130" stop-color="#00abff"/><stop offset="0.139" stop-color="#00dfff"/><stop offset="0.149" stop-color="#0afff5"/><stop offset="0.159" stop-color="#25ffda"/><stop offset="0.168" stop-color="#36ffc9"/><stop offset="0.178" stop-color="#33ffcc"/><stop offset="0.207" stop-color="#00faff"/><stop offset="0.216" stop-color="#00f3ff"/><stop offset="0.226" stop-color="#02fffd"/><stop offset="0.236" stop-color="#2bffd4"/><stop offset="0.245" stop-color="#adff52"/><stop offset="0.255" stop-color="#bd0000"/><stop offset="0.264" stop-color="#ff9d00"/><stop offset="0.274" stop-color="#ffe000"/><stop offset="0.284" stop-color="#fff000"/><stop offset="0.312" stop-color="#fcff03"/><stop offset="0.341" stop-color="#fff500"/><stop offset="0.495" stop-color="#ff3400"/><stop offset="0.543" stop-color="#ff0f00"/><stop offset="0.697" stop-color="#ff0100"/><stop offset="0.774" stop-color="#ff1600"/><stop offset="0.851" stop-color="#ff2700"/><stop offset="0.947" stop-color="#ff6500"/><stop offset="0.995" stop-color="#ff8c00"/></linearGradient>
<linearGradient id="c47"><stop offset="0.005" stop-color="#00e8ff"/><stop offset="0.014" stop-color="#00c3ff"/><stop offset="0.024" stop-color="#00acff"/><stop offset="0.034" stop-color="#00bbff"/><stop offset="0.053" stop-color="#00faff"/><stop offset="0.072" stop-color="#1fffe0"/><stop offset="0.082" stop-color="#13ffec"/><stop offset="0.091" stop-color="#00f7ff"/><stop offset="0.111" stop-color="#00acff"/><stop offset="0.120" stop-color="#009cff"/><stop offset="0.130" stop-color="#00baff"/><stop offset="0.139" stop-color="#00ecff"/><stop offset="0.149" stop-color="#11ffee"/><stop offset="0.159" stop-color="#2affd5"/><stop offset="0.168" stop-color="#36ffc9"/><stop offset="0.178" stop-color="#30ffcf"/><stop offset="0.197" stop-color="#09fff6"/><stop offset="0.207" stop-color="#00f5ff"/><stop offset="0.216" stop-color="#00f0ff"/><stop offset="0.226" stop-color="#00ffff"/><stop offset="0.236" stop-color="#29ffd6"/><stop offset="0.245" stop-color="#adff52"/><stop offset="0.255" stop-color="#bd0000"/><stop offset="0.264" stop-color="#ff9c00"/><stop offset="0.274" stop-color="#ffdf00"/><stop offset="0.284" stop-color="#ffef00"/><stop offset="0.312" stop-color="#ffff00"/><stop offset="0.332" stop-color="#fff800"/><stop offset="0.370" stop-color="#ffd000"/><stop offset="0.495" stop-color="#ff3600"/><stop offset="0.543" stop-color="#ff1200"/><stop offset="0.697" stop-color="#ff0400"/><stop offset="0.774" stop-color="#ff1900"/><stop offset="0.861" stop-color="#ff2d00"/><stop offset="0.938" stop-color="#ff5800"/><stop offset="0.995" stop-color="#ff8500"/></linearGradient>
<linearGradient id="c48"><stop offset="0.005" stop-color="#00e0ff"/><stop offset="0.014" stop-color="#00baff"/><stop offset="0.024" stop-color="#00a7ff"/><stop offset="0.034" stop-color="#00b8ff"/><stop offset="0.053" stop-color="#00f1ff"/><stop offset="0.062" stop-color="#0cfff3"/><stop offset="0.072" stop-color="#1bffe4"/><stop offset="0.082" stop-color="#11ffee"/><stop offset="0.091" stop-color="#00f9ff"/><stop offset="0.111" stop-color="#00b1ff"/><stop offset="0.120" stop-color="#00a8ff"/><stop offset="0.130" stop-color="#00caff"/><stop offset="0.139" stop-color="#00f7ff"/><stop offset="0.149" stop-color="#17ffe8"/><stop offset="0.159" stop-color="#2dffd2"/><stop offset="0.168" stop-color="#36ffc9"/><stop offset="0.178" stop-color="#2cffd3"/><stop offset="0.197" stop-color="#03fffc"/><stop offset="0.207" stop-color="#00f1ff"/><stop offset="0.216" stop-color="#00f0ff"/><stop offset="0.226" stop-color="#00feff"/><stop offset="0.236" stop-color="#28ffd7"/><stop offset="0.245" stop-color="#aeff51"/><stop offset="0.255" stop-color="#bd0000"/><stop offset="0.264" stop-color="#ff9b00"/><stop offset="0.274" stop-color="#ffde00"/><stop offset="0.284" stop-color="#ffed00"/><stop offset="0.312" stop-color="#fffb00"/><stop offset="0.341" stop-color="#ffed00"/><stop offset="0.495" stop-color="#ff3b00"/><stop offset="0.543" stop-color="#ff1700"/><stop offset="0.697" stop-color="#ff0800"/><stop offset="0.784" stop-color="#ff1e00"/><stop offset="0.861" stop-color="#ff3000"/><stop offset="0.938" stop-color="#ff5800"/><stop offset="0.995" stop-color="#ff8300"/></linearGradient>
<linearGradient id="c49"><stop offset="0.005" stop-color="#00d7ff"/><stop offset="0.014" stop-color="#00b0ff"/><stop offset="0.024" stop-color="#00a2ff"/><stop offset="0.043" stop-color="#00c9ff"/><stop offset="0.062" stop-color="#01fffe"/><stop offset="0.072" stop-color="#13ffec"/><stop offset="0.082" stop-color="#0dfff2"/><stop offset="0.091" stop-color="#00f9ff"/><stop offset="0.111" stop-color="#00b4ff"/><stop offset="0.120" stop-color="#00b3ff"/><stop offset="0.139" stop-color="#01fffe"/><stop offset="0.159" stop-color="#30ffcf"/><stop offset="0.168" stop-color="#34ffcb"/><stop offset="0.188" stop-color="#14ffeb"/><stop offset="0.197" stop-color="#00fcff"/><stop offset="0.207" stop-color="#00edff"/><stop offset="0.216" stop-color="#00f0ff"/><stop offset="0.226" stop-color="#00feff"/><stop offset="0.236" stop-color="#28ffd7"/><stop offset="0.245" stop-color="#afff50"/><stop offset="0.255" stop-color="#bd0000"/><stop offset="0.264" stop-color="#ff9b00"/><stop offset="0.274" stop-color="#ffdd00"/><stop offset="0.284" stop-color="#ffeb00"/><stop offset="0.312" stop-color="#fff700"/><stop offset="0.341" stop-color="#ffe900"/><stop offset="0.495" stop-color="#ff3f00"/><stop offset="0.543" stop-color="#ff1c00"/><stop offset="0.697" stop-color="#ff0d00"/><stop offset="0.784" stop-color="#ff2200"/><stop offset="0.861" stop-color="#ff3200"/><stop offset="0.947" stop-color="#ff5f00"/><stop offset="0.995" stop-color="#ff8000"/></linearGradient>
<linearGradient id="c50"><stop offset="0.005" stop-color="#00cdff"/><stop offset="0.014" stop-color="#00a8ff"/><stop offset="0.024" stop-color="#009dff"/><stop offset="0.043" stop-color="#00b7ff"/><stop offset="0.053" stop-color="#00ceff"/><stop offset="0.062" stop-color="#00f1ff"/><stop offset="0.072" stop-color="#08fff7"/><stop offset="0.082" stop-color="#08fff7"/><stop offset="0.091" stop-color="#00f6ff"/><stop offset="0.111" stop-color="#00b6ff"/><stop offset="0.120" stop-color="#00bdff"/><stop offset="0.130" stop-color="#00e3ff"/><stop offset="0.139" stop-color="#07fff8"/><stop offset="0.159" stop-color="#30ffcf"/><stop offset="0.168" stop-color="#2fffd0"/><stop offset="0.188" stop-color="#0dfff2"/><stop offset="0.197" stop-color="#00f5ff"/><stop offset="0.207" stop-color="#00eaff"/><stop offset="0.226" stop-color="#00fdff"/><stop offset="0.236" stop-color="#27ffd8"/><stop offset="0.245" stop-color="#b1ff4e"/><stop offset="0.255" stop-color="#bd0000"/><stop offset="0.264" stop-color="#ff9a00"/><stop offset="0.274" stop-color="#ffdb00"/><stop offset="0.284" stop-color="#ffe900"/><stop offset="0.322" stop-color="#fff200"/><stop offset="0.370" stop-color="#ffc800"/><stop offset="0.505" stop-color="#ff3c00"/><stop offset="0.543" stop-color="#ff2200"/><stop offset="0.688" stop-color="#ff0f00"/><stop offset="0.803" stop-color="#ff2800"/><stop offset="0.870" stop-color="#ff3900"/><stop offset="0.947" stop-color="#ff5f00"/><stop offset="0.995" stop-color="#ff7e00"/></linearGradient>
<linearGradient id="c51"><stop offset="0.005" stop-color="#00c4ff"/><stop offset="0.014" stop-color="#00a2ff"/><stop offset="0.024" stop-color="#009cff"/><stop offset="0.043" stop-color="#00a9ff"/><stop offset="0.053" stop-color="#00bfff"/><stop offset="0.062" stop-color="#00e5ff"/><stop offset="0.072" stop-color="#00feff"/><stop offset="0.082" stop-color="#02fffd"/><stop offset="0.091" stop-color="#00f2ff"/><stop offset="0.101" stop-color="#00d0ff"/><stop offset="0.111" stop-color="#00b8ff"/><stop offset="0.120" stop-color="#00c6ff"/><stop offset="0.130" stop-color="#00ecff"/><stop offset="0.139" stop-color="#0bfff4"/><stop offset="0.149" stop-color="#1fffe0"/><stop offset="0.159" stop-color="#2cffd3"/><stop offset="0.168" stop-color="#27ffd8"/><stop offset="0.188" stop-color="#03fffc"/><stop offset="0.197" stop-color="#00ecff"/><stop offset="0.207" stop-color="#00e8ff"/><stop offset="0.226" stop-color="#00fcff"/><stop offset="0.236" stop-color="#26ffd9"/><stop offset="0.245" stop-color="#b2ff4d"/><stop offset="0.255" stop-color="#bd0000"/><stop offset="0.264" stop-color="#ff9a00"/><stop offset="0.274" stop-color="#ffda00"/><stop offset="0.284" stop-color="#ffe700"/><stop offset="0.322" stop-color="#ffee00"/><stop offset="0.370" stop-color="#ffc600"/><stop offset="0.505" stop-color="#ff4100"/><stop offset="0.543" stop-color="#ff2700"/><stop offset="0.688" stop-color="#ff1400"/><stop offset="0.803" stop-color="#ff2c00"/><stop offset="0.880" stop-color="#ff3f00"/><stop offset="0.957" stop-color="#ff6500"/><stop offset="0.995" stop-color="#ff7c00"/></linearGradient>
<linearGradient id="c52"><stop offset="0.005" stop-color="#00beff"/><stop offset="0.014" stop-color="#00a3ff"/><stop offset="0.043" stop-color="#00a7ff"/><stop offset="0.053" stop-color="#00bbff"/><stop offset="0.062" stop-color="#00deff"/><stop offset="0.072" stop-color="#00f7ff"/><stop offset="0.082" stop-color="#00fcff"/><stop offset="0.091" stop-color="#00edff"/><stop offset="0.101" stop-color="#00cdff"/><stop offset="0.111" stop-color="#00bcff"/><stop offset="0.120" stop-color="#00d0ff"/><stop offset="0.130" stop-color="#00f2ff"/><stop offset="0.139" stop-color="#0afff5"/><stop offset="0.149" stop-color="#1affe5"/><stop offset="0.159" stop-color="#21ffde"/><stop offset="0.178" stop-color="#0bfff4"/><stop offset="0.188" stop-color="#00f6ff"/><stop offset="0.197" stop-color="#00e4ff"/><stop offset="0.207" stop-color="#00e7ff"/><stop offset="0.226" stop-color="#00fbff"/><stop offset="0.236" stop-color="#25ffda"/><stop offset="0.245" stop-color="#b3ff4c"/><stop offset="0.255" stop-color="#bd0000"/><stop offset="0.264" stop-color="#ff9900"/><stop offset="0.274" stop-color="#ffd900"/><stop offset="0.284" stop-color="#ffe500"/><stop offset="0.322" stop-color="#ffe900"/><stop offset="0.380" stop-color="#ffba00"/><stop offset="0.505" stop-color="#ff4600"/><stop offset="0.543" stop-color="#ff2d00"/><stop offset="0.678" stop-color="#ff1900"/><stop offset="0.870" stop-color="#ff3e00"/><stop offset="0.947" stop-color="#ff5f00"/><stop offset="0.995" stop-color="#ff7a00"/></linearGradient>
<linearGradient id="c53"><stop offset="0.005" stop-color="#00bcff"/><stop offset="0.014" stop-color="#00abff"/><stop offset="0.043" stop-color="#00b2ff"/><stop offset="0.053" stop-color="#00c3ff"/><stop offset="0.062" stop-color="#00e1ff"/><stop offset="0.072" stop-color="#00f5ff"/><stop offset="0.082" stop-color="#00f9ff"/><stop offset="0.091" stop-color="#00e9ff"/><stop offset="0.101" stop-color="#00ccff"/><stop offset="0.111" stop-color="#00c3ff"/><stop offset="0.130" stop-color="#00f4ff"/><stop offset="0.139" stop-color="#04fffb"/><stop offset="0.149" stop-color="#0efff1"/><stop offset="0.159" stop-color="#0efff1"/><stop offset="0.178" stop-color="#00f7ff"/><stop offset="0.197" stop-color="#00dcff"/><stop offset="0.216" stop-color="#00f6ff"/><stop offset="0.226" stop-color="#00faff"/><stop offset="0.236" stop-color="#24ffdb"/><stop offset="0.245" stop-color="#b4ff4b"/><stop offset="0.255" stop-color="#bd0000"/><stop offset="0.264" stop-color="#ff9800"/><stop offset="0.274" stop-color="#ffd700"/><stop offset="0.284" stop-color="#ffe300"/><stop offset="0.322" stop-color="#ffe500"/><stop offset="0.389" stop-color="#ffaf00"/><stop offset="0.514" stop-color="#ff4400"/><stop offset="0.553" stop-color="#ff3000"/><stop offset="0.668" stop-color="#ff1d00"/><stop offset="0.716" stop-color="#ff2400"/><stop offset="0.880" stop-color="#ff4400"/><stop offset="0.957" stop-color="#ff6300"/><stop offset="0.995" stop-color="#ff7800"/></linearGradient>
<linearGradient id="c54"><stop offset="0.005" stop-color="#00bcff"/><stop offset="0.014" stop-color="#00b6ff"/><stop offset="0.034" stop-color="#00c7ff"/><stop offset="0.043" stop-color="#00c8ff"/><stop offset="0.072" stop-color="#00f8ff"/><stop offset="0.082" stop-color="#00f8ff"/><stop offset="0.101" stop-color="#00ccff"/><stop offset="0.111" stop-color="#00caff"/><stop offset="0.130" stop-color="#00f2ff"/><stop offset="0.149" stop-color="#00faff"/><stop offset="0.188" stop-color="#00d3ff"/><stop offset="0.197" stop-color="#00d3ff"/><stop offset="0.216" stop-color="#00f7ff"/><stop offset="0.226" stop-color="#00f8ff"/><stop offset="0.236" stop-color="#24ffdb"/><stop offset="0.245" stop-color="#b6ff49"/><stop offset="0.255" stop-color="#bd0000"/><stop offset="0.264" stop-color="#ff9800"/><stop offset="0.274" stop-color="#ffd600"/><stop offset="0.284" stop-color="#ffe200"/><stop offset="0.322" stop-color="#ffe100"/><stop offset="0.409" stop-color="#ff9d00"/><stop offset="0.514" stop-color="#ff4800"/><stop offset="0.553" stop-color="#ff3500"/><stop offset="0.659" stop-color="#ff2200"/><stop offset="0.707" stop-color="#ff2500"/><stop offset="0.889" stop-color="#ff4900"/><stop offset="0.976" stop-color="#ff6c00"/><stop offset="0.995" stop-color="#ff7600"/></linearGradient>
<linearGradient id="c55"><stop offset="0.005" stop-color="#00bfff"/><stop offset="0.014" stop-color="#00c2ff"/><stop offset="0.024" stop-color="#00d4ff"/><stop offset="0.053" stop-color="#00edff"/><stop offset="0.072" stop-color="#00fdff"/><stop offset="0.082" stop-color="#00f7ff"/><stop offset="0.101" stop-color="#00cdff"/><stop offset="0.111" stop-color="#00d0ff"/><stop offset="0.120" stop-color="#00e3ff"/><stop offset="0.130" stop-color="#00ebff"/><stop offset="0.149" stop-color="#00e0ff"/><stop offset="0.168" stop-color="#00c6ff"/><stop offset="0.188" stop-color="#00bdff"/><stop offset="0.197" stop-color="#00c9ff"/><stop offset="0.207" stop-color="#00e7ff"/><stop offset="0.216" stop-color="#00f7ff"/><stop offset="0.226" stop-color="#00f6ff"/><stop offset="0.236" stop-color="#23ffdc"/><stop offset="0.245" stop-color="#b7ff48"/><stop offset="0.255" stop-color="#bd0000"/><stop offset="0.264" stop-color="#ff9700"/><stop offset="0.274" stop-color="#ffd500"/><stop offset="0.293" stop-color="#ffe300"/><stop offset="0.332" stop-color="#ffd700"/><stop offset="0.524" stop-color="#ff4700"/><stop offset="0.582" stop-color="#ff3300"/><stop offset="0.668" stop-color="#ff2600"/><stop offset="0.716" stop-color="#ff2c00"/><stop offset="0.899" stop-color="#ff4d00"/><stop offset="0.995" stop-color="#ff7400"/></linearGradient>
<linearGradient id="c56"><stop offset="0.005" stop-color="#00c4ff"/><stop offset="0.014" stop-color="#00cfff"/><stop offset="0.024" stop-color="#00e3ff"/><stop offset="0.053" stop-color="#00ffff"/><stop offset="0.072" stop-color="#01fffe"/><stop offset="0.082" stop-color="#00f6ff"/><stop offset="0.101" stop-color="#00d0ff"/><stop offset="0.120" stop-color="#00e3ff"/><stop offset="0.130" stop-color="#00e2ff"/><stop offset="0.149" stop-color="#00c3ff"/><stop offset="0.159" stop-color="#00aeff"/><stop offset="0.168" stop-color="#00a2ff"/><stop offset="0.188" stop-color="#00a6ff"/><stop offset="0.197" stop-color="#00c0ff"/><stop offset="0.207" stop-color="#00e6ff"/><stop offset="0.216" stop-color="#00f6ff"/><stop offset="0.226" stop-color="#00f4ff"/><stop offset="0.236" stop-color="#22ffdd"/><stop offset="0.245" stop-color="#b8ff47"/><stop offset="0.255" stop-color="#bd0000"/><stop offset="0.264" stop-color="#ff9600"/><stop offset="0.274" stop-color="#ffd300"/><stop offset="0.293" stop-color="#ffe000"/><stop offset="0.341" stop-color="#ffcd00"/><stop offset="0.534" stop-color="#ff4600"/><stop offset="0.649" stop-color="#ff2a00"/><stop offset="0.707" stop-color="#ff2d00"/><stop offset="0.928" stop-color="#ff5600"/><stop offset="0.995" stop-color="#ff7100"/></linearGradient>
<linearGradient id="c57"><stop offset="0.005" stop-color="#00caff"/><stop offset="0.034" stop-color="#00fbff"/><stop offset="0.053" stop-color="#0afff5"/><stop offset="0.072" stop-color="#01fffe"/><stop offset="0.082" stop-color="#00f3ff"/><stop offset="0.091" stop-color="#00deff"/><stop offset="0.101" stop-color="#00d3ff"/><stop offset="0.120" stop-color="#00e2ff"/><stop offset="0.130" stop-color="#00d8ff"/><stop offset="0.159" stop-color="#008bff"/><stop offset="0.168" stop-color="#0080ff"/><stop offset="0.188" stop-color="#0092ff"/><stop offset="0.207" stop-color="#00e5ff"/><stop offset="0.216" stop-color="#00f5ff"/><stop offset="0.226" stop-color="#00f2ff"/><stop offset="0.236" stop-color="#22ffdd"/><stop offset="0.245" stop-color="#baff45"/><stop offset="0.255" stop-color="#bd0000"/><stop offset="0.264" stop-color="#ff9600"/><stop offset="0.274" stop-color="#ffd200"/><stop offset="0.293" stop-color="#ffde00"/><stop offset="0.351" stop-color="#ffc300"/><stop offset="0.534" stop-color="#ff4c00"/><stop offset="0.649" stop-color="#ff2e00"/><stop offset="0.707" stop-color="#ff3200"/><stop offset="0.938" stop-color="#ff5a00"/><stop offset="0.995" stop-color="#ff6f00"/></linearGradient>
<linearGradient id="c58"><stop offset="0.005" stop-color="#00d0ff"/><stop offset="0.024" stop-color="#00f5ff"/><stop offset="0.034" stop-color="#02fffd"/><stop offset="0.053" stop-color="#0cfff3"/><stop offset="0.072" stop-color="#00fdff"/><stop offset="0.091" stop-color="#00dcff"/><stop offset="0.101" stop-color="#00d7ff"/><stop offset="0.111" stop-color="#00e0ff"/><stop offset="0.120" stop-color="#00e1ff"/><stop offset="0.130" stop-color="#00d0ff"/><stop offset="0.159" stop-color="#0070ff"/><stop offset="0.168" stop-color="#0066ff"/><stop offset="0.178" stop-color="#006fff"/><stop offset="0.188" stop-color="#0084ff"/><stop offset="0.207" stop-color="#00e5ff"/><stop offset="0.216" stop-color="#00f4ff"/><stop offset="0.226" stop-color="#00f1ff"/><stop offset="0.236" stop-color="#22ffdd"/><stop offset="0.245" stop-color="#bbff44"/><stop offset="0.255" stop-color="#bd0000"/><stop offset="0.264" stop-color="#ff9500"/><stop offset="0.274" stop-color="#ffd100"/><stop offset="0.293" stop-color="#ffdc00"/><stop offset="0.409" stop-color="#ff9c00"/><stop offset="0.553" stop-color="#ff4a00"/><stop offset="0.649" stop-color="#ff3200"/><stop offset="0.707" stop-color="#ff3600"/><stop offset="0.947" stop-color="#ff5d00"/><stop offset="0.995" stop-color="#ff6d00"/></linearGradient>
<linearGradient id="c59"><stop offset="0.005" stop-color="#00d7ff"/><stop offset="0.024" stop-color="#00f8ff"/><stop offset="0.043" stop-color="#09fff6"/><stop offset="0.062" stop-color="#00ffff"/><stop offset="0.091" stop-color="#00daff"/><stop offset="0.101" stop-color="#00dbff"/><stop offset="0.111" stop-color="#00e5ff"/><stop offset="0.120" stop-color="#00e2ff"/><stop offset="0.130" stop-color="#00cdff"/><stop offset="0.159" stop-color="#0062ff"/><stop offset="0.168" stop-color="#0058ff"/><stop offset="0.178" stop-color="#0064ff"/><stop offset="0.188" stop-color="#0080ff"/><stop offset="0.207" stop-color="#00e7ff"/><stop offset="0.216" stop-color="#00f5ff"/><stop offset="0.226" stop-color="#00f0ff"/><stop offset="0.236" stop-color="#22ffdd"/><stop offset="0.245" stop-color="#bcff43"/><stop offset="0.255" stop-color="#bd0000"/><stop offset="0.264" stop-color="#ff9400"/><stop offset="0.274" stop-color="#ffcf00"/><stop offset="0.293" stop-color="#ffda00"/><stop offset="0.553" stop-color="#ff4f00"/><stop offset="0.649" stop-color="#ff3600"/><stop offset="0.716" stop-color="#ff3c00"/><stop offset="0.947" stop-color="#ff5d00"/><stop offset="0.995" stop-color="#ff6b00"/></linearGradient>
<linearGradient id="c60"><stop offset="0.005" stop-color="#00ddff"/><stop offset="0.024" stop-color="#00f8ff"/><stop offset="0.043" stop-color="#02fffd"/><stop offset="0.062" stop-color="#00f4ff"/><stop offset="0.091" stop-color="#00d8ff"/><stop offset="0.111" stop-color="#00e9ff"/><stop offset="0.120" stop-color="#00e4ff"/><stop offset="0.130" stop-color="#00cfff"/><stop offset="0.149" stop-color="#0084ff"/><stop offset="0.159" stop-color="#0064ff"/><stop offset="0.168" stop-color="#005bff"/><stop offset="0.178" stop-color="#0067ff"/><stop offset="0.188" stop-color="#0087ff"/><stop offset="0.197" stop-color="#00bfff"/><stop offset="0.207" stop-color="#00eeff"/><stop offset="0.216" stop-color="#00f9ff"/><stop offset="0.226" stop-color="#00f3ff"/><stop offset="0.236" stop-color="#25ffda"/><stop offset="0.245" stop-color="#bfff40"/><stop offset="0.255" stop-color="#bd0000"/><stop offset="0.264" stop-color="#ff9400"/><stop offset="0.274" stop-color="#ffce00"/><stop offset="0.293" stop-color="#ffd800"/><stop offset="0.553" stop-color="#ff5400"/><stop offset="0.649" stop-color="#ff3b00"/><stop offset="0.716" stop-color="#ff4100"/><stop offset="0.957" stop-color="#ff6200"/><stop offset="0.995" stop-color="#ff6b00"/></linearGradient>
<linearGradient id="c61"><stop offset="0.005" stop-color="#00e3ff"/><stop offset="0.024" stop-color="#00f6ff"/><stop offset="0.043" stop-color="#00f6ff"/><stop offset="0.082" stop-color="#00d5ff"/><stop offset="0.091" stop-color="#00d5ff"/><stop offset="0.111" stop-color="#00ecff"/><stop offset="0.120" stop-color="#00e9ff"/><stop offset="0.130" stop-color="#00d7ff"/><stop offset="0.149" stop-color="#0092ff"/><stop offset="0.159" stop-color="#0076ff"/><stop offset="0.168" stop-color="#006eff"/><stop offset="0.178" stop-color="#007aff"/><stop offset="0.188" stop-color="#009aff"/><stop offset="0.197" stop-color="#00cfff"/><stop offset="0.207" stop-color="#00faff"/><stop offset="0.216" stop-color="#02fffd"/><stop offset="0.226" stop-color="#00f9ff"/><stop offset="0.236" stop-color="#2affd5"/><stop offset="0.245" stop-color="#c3ff3c"/><stop offset="0.255" stop-color="#bd0000"/><stop offset="0.264" stop-color="#ff9300"/><stop offset="0.274" stop-color="#ffcd00"/><stop offset="0.293" stop-color="#ffd700"/><stop offset="0.553" stop-color="#ff5900"/><stop offset="0.649" stop-color="#ff4000"/><stop offset="0.957" stop-color="#ff6600"/><stop offset="0.995" stop-color="#ff6f00"/></linearGradient>
<linearGradient id="c62"><stop offset="0.005" stop-color="#00e7ff"/><stop offset="0.024" stop-color="#00f1ff"/><stop offset="0.043" stop-color="#00e7ff"/><stop offset="0.072" stop-color="#00cbff"/><stop offset="0.082" stop-color="#00c8ff"/><stop offset="0.091" stop-color="#00cfff"/><stop offset="0.111" stop-color="#00eeff"/><stop offset="0.120" stop-color="#00efff"/><stop offset="0.130" stop-color="#00e1ff"/><stop offset="0.159" stop-color="#0092ff"/><stop offset="0.168" stop-color="#008bff"/><stop offset="0.178" stop-color="#0096ff"/><stop offset="0.188" stop-color="#00b4ff"/><stop offset="0.197" stop-color="#00e3ff"/><stop offset="0.207" stop-color="#08fff7"/><stop offset="0.216" stop-color="#0bfff4"/><stop offset="0.226" stop-color="#00ffff"/><stop offset="0.236" stop-color="#30ffcf"/><stop offset="0.245" stop-color="#c8ff37"/><stop offset="0.255" stop-color="#bd0000"/><stop offset="0.264" stop-color="#ff9200"/><stop offset="0.274" stop-color="#ffcb00"/><stop offset="0.293" stop-color="#ffd600"/><stop offset="0.553" stop-color="#ff5d00"/><stop offset="0.649" stop-color="#ff4600"/><stop offset="0.966" stop-color="#ff6c00"/><stop offset="0.995" stop-color="#ff7200"/></linearGradient>
<linearGradient id="c63"><stop offset="0.005" stop-color="#00eaff"/><stop offset="0.024" stop-color="#00eaff"/><stop offset="0.043" stop-color="#00d4ff"/><stop offset="0.062" stop-color="#00baff"/><stop offset="0.082" stop-color="#00b7ff"/><stop offset="0.111" stop-color="#00eeff"/><stop offset="0.120" stop-color="#00f3ff"/><stop offset="0.130" stop-color="#00edff"/><stop offset="0.159" stop-color="#00b3ff"/><stop offset="0.168" stop-color="#00aeff"/><stop offset="0.178" stop-color="#00b8ff"/><stop offset="0.188" stop-color="#00d1ff"/><stop offset="0.197" stop-color="#00f8ff"/><stop offset="0.207" stop-color="#16ffe9"/><stop offset="0.216" stop-color="#14ffeb"/><stop offset="0.226" stop-color="#08fff7"/><stop offset="0.236" stop-color="#37ffc8"/><stop offset="0.245" stop-color="#ccff33"/><stop offset="0.255" stop-color="#bd0000"/><stop offset="0.264" stop-color="#ff9100"/><stop offset="0.274" stop-color="#ffca00"/><stop offset="0.293" stop-color="#ffd500"/><stop offset="0.562" stop-color="#ff5f00"/><stop offset="0.659" stop-color="#ff4b00"/><stop offset="0.976" stop-color="#ff7200"/><stop offset="0.995" stop-color="#ff7500"/></linearGradient>
<linearGradient id="c64"><stop offset="0.005" stop-color="#00ecff"/><stop offset="0.024" stop-color="#00e1ff"/><stop offset="0.062" stop-color="#009eff"/><stop offset="0.072" stop-color="#009bff"/><stop offset="0.082" stop-color="#00a3ff"/><stop offset="0.111" stop-color="#00ebff"/><stop offset="0.120" stop-color="#00f6ff"/><stop offset="0.130" stop-color="#00f7ff"/><stop offset="0.159" stop-color="#00d4ff"/><stop offset="0.168" stop-color="#00d1ff"/><stop offset="0.178" stop-color="#00d9ff"/><stop offset="0.188" stop-color="#00eeff"/><stop offset="0.197" stop-color="#0cfff3"/><stop offset="0.207" stop-color="#23ffdc"/><stop offset="0.216" stop-color="#1effe1"/><stop offset="0.226" stop-color="#0ffff0"/><stop offset="0.236" stop-color="#3dffc2"/><stop offset="0.245" stop-color="#d0ff2f"/><stop offset="0.255" stop-color="#bd0000"/><stop offset="0.264" stop-color="#ff9000"/><stop offset="0.274" stop-color="#ffc900"/><stop offset="0.293" stop-color="#ffd400"/><stop offset="0.514" stop-color="#ff7600"/><stop offset="0.611" stop-color="#ff5800"/><stop offset="0.668" stop-color="#ff5100"/><stop offset="0.995" stop-color="#ff7900"/></linearGradient>
<linearGradient id="c65"><stop offset="0.005" stop-color="#00ecff"/><stop offset="0.024" stop-color="#00d6ff"/><stop offset="0.053" stop-color="#008fff"/><stop offset="0.062" stop-color="#0081ff"/><stop offset="0.072" stop-color="#0080ff"/><stop offset="0.082" stop-color="#008eff"/><stop offset="0.111" stop-color="#00e6ff"/><stop offset="0.120" stop-color="#00f7ff"/><stop offset="0.130" stop-color="#00feff"/><stop offset="0.168" stop-color="#00f0ff"/><stop offset="0.188" stop-color="#07fff8"/><stop offset="0.207" stop-color="#2effd1"/><stop offset="0.216" stop-color="#26ffd9"/><stop offset="0.226" stop-color="#17ffe8"/><stop offset="0.236" stop-color="#44ffbb"/><stop offset="0.245" stop-color="#d5ff2a"/><stop offset="0.255" stop-color="#bd0000"/><stop offset="0.264" stop-color="#ff8f00"/><stop offset="0.274" stop-color="#ffc700"/><stop offset="0.293" stop-color="#ffd300"/><stop offset="0.495" stop-color="#ff8300"/><stop offset="0.572" stop-color="#ff6600"/><stop offset="0.659" stop-color="#ff5600"/><stop offset="0.995" stop-color="#ff7c00"/></linearGradient>
<linearGradient id="c66"><stop offset="0.005" stop-color="#00ebff"/><stop offset="0.014" stop-color="#00dfff"/><stop offset="0.034" stop-color="#00b0ff"/><stop offset="0.053" stop-color="#0075ff"/><stop offset="0.062" stop-color="#0066ff"/><stop offset="0.072" stop-color="#0067ff"/><stop offset="0.082" stop-color="#007bff"/><stop offset="0.111" stop-color="#00e0ff"/><stop offset="0.120" stop-color="#00f6ff"/><stop offset="0.130" stop-color="#04fffb"/><stop offset="0.168" stop-color="#0afff5"/><stop offset="0.188" stop-color="#1affe5"/><stop offset="0.207" stop-color="#38ffc7"/><stop offset="0.226" stop-color="#1effe1"/><stop offset="0.236" stop-color="#4affb5"/><stop offset="0.245" stop-color="#d9ff26"/><stop offset="0.255" stop-color="#bd0000"/><stop offset="0.264" stop-color="#ff8e00"/><stop offset="0.274" stop-color="#ffc600"/><stop offset="0.293" stop-color="#ffd200"/><stop offset="0.486" stop-color="#ff8b00"/><stop offset="0.562" stop-color="#ff6d00"/><stop offset="0.659" stop-color="#ff5c00"/><stop offset="0.995" stop-color="#ff7f00"/></linearGradient>
<linearGradient id="c67"><stop offset="0.005" stop-color="#00e9ff"/><stop offset="0.014" stop-color="#00daff"/><stop offset="0.024" stop-color="#00c3ff"/><stop offset="0.053" stop-color="#0060ff"/><stop offset="0.062" stop-color="#004fff"/><stop offset="0.072" stop-color="#0052ff"/><stop offset="0.082" stop-color="#0068ff"/><stop offset="0.111" stop-color="#00daff"/><stop offset="0.120" stop-color="#00f6ff"/><stop offset="0.130" stop-color="#08fff7"/><stop offset="0.159" stop-color="#18ffe7"/><stop offset="0.188" stop-color="#27ffd8"/><stop offset="0.207" stop-color="#3fffc0"/><stop offset="0.226" stop-color="#26ffd9"/><stop offset="0.236" stop-color="#51ffae"/><stop offset="0.245" stop-color="#ddff22"/><stop offset="0.255" stop-color="#bd0000"/><stop offset="0.264" stop-color="#ff8e00"/><stop offset="0.274" stop-color="#ffc500"/><stop offset="0.303" stop-color="#ffd100"/><stop offset="0.486" stop-color="#ff8f00"/><stop offset="0.562" stop-color="#ff7200"/><stop offset="0.659" stop-color="#ff6100"/><stop offset="0.995" stop-color="#ff8300"/></linearGradient>
<linearGradient id="c68"><stop offset="0.005" stop-color="#00e7ff"/><stop offset="0.014" stop-color="#00d7ff"/><stop offset="0.024" stop-color="#00beff"/><stop offset="0.053" stop-color="#0052ff"/><stop offset="0.062" stop-color="#003fff"/><stop offset="0.072" stop-color="#0042ff"/><stop offset="0.082" stop-color="#005bff"/><stop offset="0.111" stop-color="#00d7ff"/><stop offset="0.120" stop-color="#00f6ff"/><stop offset="0.130" stop-color="#0bfff4"/><stop offset="0.149" stop-color="#1dffe2"/><stop offset="0.188" stop-color="#2fffd0"/><stop offset="0.207" stop-color="#46ffb9"/><stop offset="0.226" stop-color="#2fffd0"/><stop offset="0.236" stop-color="#58ffa7"/><stop offset="0.245" stop-color="#e2ff1d"/><stop offset="0.255" stop-color="#bd0000"/><stop offset="0.264" stop-color="#ff8d00"/><stop offset="0.274" stop-color="#ffc300"/><stop offset="0.303" stop-color="#ffd000"/><stop offset="0.476" stop-color="#ff9600"/><stop offset="0.562" stop-color="#ff7700"/><stop offset="0.659" stop-color="#ff6600"/><stop offset="0.995" stop-color="#ff8600"/></linearGradient>
<linearGradient id="c69"><stop offset="0.005" stop-color="#00e7ff"/><stop offset="0.014" stop-color="#00d7ff"/><stop offset="0.024" stop-color="#00bcff"/><stop offset="0.053" stop-color="#004eff"/><stop offset="0.062" stop-color="#003bff"/><stop offset="0.072" stop-color="#003eff"/><stop offset="0.082" stop-color="#0057ff"/><stop offset="0.111" stop-color="#00d7ff"/><stop offset="0.120" stop-color="#00f7ff"/><stop offset="0.139" stop-color="#1bffe4"/><stop offset="0.188" stop-color="#34ffcb"/><stop offset="0.207" stop-color="#4cffb3"/><stop offset="0.226" stop-color="#37ffc8"/><stop offset="0.236" stop-color="#60ff9f"/><stop offset="0.245" stop-color="#e6ff19"/><stop offset="0.255" stop-color="#bd0000"/><stop offset="0.264" stop-color="#ff8c00"/><stop offset="0.274" stop-color="#ffc200"/><stop offset="0.303" stop-color="#ffd000"/><stop offset="0.476" stop-color="#ff9a00"/><stop offset="0.562" stop-color="#ff7b00"/><stop offset="0.659" stop-color="#ff6c00"/><stop offset="0.851" stop-color="#ff7f00"/><stop offset="0.995" stop-color="#ff8900"/></linearGradient>
<linearGradient id="c70"><stop offset="0.005" stop-color="#00f2ff"/><stop offset="0.014" stop-color="#00e2ff"/><stop offset="0.024" stop-color="#00c8ff"/><stop offset="0.053" stop-color="#005cff"/><stop offset="0.062" stop-color="#0049ff"/><stop offset="0.072" stop-color="#004cff"/><stop offset="0.082" stop-color="#0064ff"/><stop offset="0.111" stop-color="#00e0ff"/><stop offset="0.120" stop-color="#01fffe"/><stop offset="0.130" stop-color="#16ffe9"/><stop offset="0.149" stop-color="#2bffd4"/><stop offset="0.188" stop-color="#3affc5"/><stop offset="0.207" stop-color="#4fffb0"/><stop offset="0.226" stop-color="#38ffc7"/><stop offset="0.236" stop-color="#5dffa2"/><stop offset="0.245" stop-color="#e1ff1e"/><stop offset="0.255" stop-color="#bd0000"/><stop offset="0.264" stop-color="#ff8800"/><stop offset="0.274" stop-color="#ffbd00"/><stop offset="0.303" stop-color="#ffca00"/><stop offset="0.476" stop-color="#ff9c00"/><stop offset="0.562" stop-color="#ff8100"/><stop offset="0.668" stop-color="#ff7500"/><stop offset="0.995" stop-color="#ff8e00"/></linearGradient>
<linearGradient id="c71"><stop offset="0.005" stop-color="#00feff"/><stop offset="0.014" stop-color="#00efff"/><stop offset="0.024" stop-color="#00d7ff"/><stop offset="0.053" stop-color="#0073ff"/><stop offset="0.062" stop-color="#0062ff"/><stop offset="0.072" stop-color="#0064ff"/><stop offset="0.082" stop-color="#007bff"/><stop offset="0.111" stop-color="#00edff"/><stop offset="0.120" stop-color="#0bfff4"/><stop offset="0.139" stop-color="#2bffd4"/><stop offset="0.197" stop-color="#47ffb8"/><stop offset="0.207" stop-color="#51ffae"/><stop offset="0.226" stop-color="#39ffc6"/><stop offset="0.236" stop-color="#5bffa4"/><stop offset="0.245" stop-color="#dcff23"/><stop offset="0.255" stop-color="#bd0000"/><stop offset="0.264" stop-color="#ff8400"/><stop offset="0.274" stop-color="#ffb800"/><stop offset="0.303" stop-color="#ffc400"/><stop offset="0.476" stop-color="#ff9f00"/><stop offset="0.572" stop-color="#ff8600"/><stop offset="0.668" stop-color="#ff7d00"/><stop offset="0.995" stop-color="#ff9300"/></linearGradient>
<linearGradient id="c72"><stop offset="0.005" stop-color="#0cfff3"/><stop offset="0.014" stop-color="#00feff"/><stop offset="0.034" stop-color="#00cbff"/><stop offset="0.053" stop-color="#008fff"/><stop offset="0.062" stop-color="#0080ff"/><stop offset="0.072" stop-color="#0083ff"/><stop offset="0.082" stop-color="#0097ff"/><stop offset="0.111" stop-color="#00fcff"/><stop offset="0.130" stop-color="#28ffd7"/><stop offset="0.159" stop-color="#3dffc2"/><stop offset="0.197" stop-color="#4bffb4"/><stop offset="0.207" stop-color="#53ffac"/><stop offset="0.226" stop-color="#3affc5"/><stop offset="0.236" stop-color="#59ffa6"/><stop offset="0.245" stop-color="#d7ff28"/><stop offset="0.255" stop-color="#bd0000"/><stop offset="0.264" stop-color="#ff8000"/><stop offset="0.274" stop-color="#ffb300"/><stop offset="0.303" stop-color="#ffbf00"/><stop offset="0.466" stop-color="#ffa400"/><stop offset="0.572" stop-color="#ff8c00"/><stop offset="0.668" stop-color="#ff8500"/><stop offset="0.995" stop-color="#ff9800"/></linearGradient>
<linearGradient id="c73"><stop offset="0.005" stop-color="#1affe5"/><stop offset="0.024" stop-color="#00faff"/><stop offset="0.053" stop-color="#00a7ff"/><stop offset="0.062" stop-color="#009aff"/><stop offset="0.072" stop-color="#009fff"/><stop offset="0.082" stop-color="#00b4ff"/><stop offset="0.101" stop-color="#00f1ff"/><stop offset="0.111" stop-color="#0efff1"/><stop offset="0.130" stop-color="#31ffce"/><stop offset="0.159" stop-color="#43ffbc"/><stop offset="0.197" stop-color="#4fffb0"/><stop offset="0.207" stop-color="#55ffaa"/><stop offset="0.226" stop-color="#3bffc4"/><stop offset="0.236" stop-color="#57ffa8"/><stop offset="0.245" stop-color="#d3ff2c"/><stop offset="0.255" stop-color="#bd0000"/><stop offset="0.264" stop-color="#ff7c00"/><stop offset="0.274" stop-color="#ffae00"/><stop offset="0.312" stop-color="#ffb900"/><stop offset="0.457" stop-color="#ffa800"/><stop offset="0.591" stop-color="#ff9100"/><stop offset="0.688" stop-color="#ff8f00"/><stop offset="0.995" stop-color="#ff9d00"/></linearGradient>
<linearGradient id="c74"><stop offset="0.005" stop-color="#27ffd8"/><stop offset="0.014" stop-color="#1cffe3"/><stop offset="0.024" stop-color="#0afff5"/><stop offset="0.034" stop-color="#00eeff"/><stop offset="0.053" stop-color="#00b6ff"/><stop offset="0.062" stop-color="#00acff"/><stop offset="0.072" stop-color="#00b5ff"/><stop offset="0.091" stop-color="#00eaff"/><stop offset="0.101" stop-color="#07fff8"/><stop offset="0.120" stop-color="#2fffd0"/><stop offset="0.149" stop-color="#46ffb9"/><stop offset="0.207" stop-color="#57ffa8"/><stop offset="0.226" stop-color="#3dffc2"/><stop offset="0.236" stop-color="#55ffaa"/><stop offset="0.245" stop-color="#ceff31"/><stop offset="0.255" stop-color="#bd0000"/><stop offset="0.264" stop-color="#ff7800"/><stop offset="0.274" stop-color="#ffa900"/><stop offset="0.322" stop-color="#ffb500"/><stop offset="0.486" stop-color="#ffa400"/><stop offset="0.659" stop-color="#ff9400"/><stop offset="0.995" stop-color="#ffa200"/></linearGradient>
<linearGradient id="c75"><stop offset="0.005" stop-color="#33ffcc"/><stop offset="0.014" stop-color="#2affd5"/><stop offset="0.034" stop-color="#00fcff"/><stop offset="0.053" stop-color="#00c3ff"/><stop offset="0.062" stop-color="#00bcff"/><stop offset="0.072" stop-color="#00caff"/><stop offset="0.091" stop-color="#03fffc"/><stop offset="0.111" stop-color="#2effd1"/><stop offset="0.130" stop-color="#44ffbb"/><stop offset="0.207" stop-color="#59ffa6"/><stop offset="0.226" stop-color="#3effc1"/><stop offset="0.236" stop-color="#53ffac"/><stop offset="0.245" stop-color="#c9ff36"/><stop offset="0.255" stop-color="#bd0000"/><stop offset="0.264" stop-color="#ff7500"/><stop offset="0.274" stop-color="#ffa300"/><stop offset="0.341" stop-color="#ffb300"/><stop offset="0.659" stop-color="#ff9c00"/><stop offset="0.995" stop-color="#ffa600"/></linearGradient>
<linearGradient id="c76"><stop offset="0.005" stop-color="#40ffbf"/><stop offset="0.024" stop-color="#2affd5"/><stop offset="0.034" stop-color="#13ffec"/><stop offset="0.043" stop-color="#00f7ff"/><stop offset="0.053" stop-color="#00e1ff"/><stop offset="0.062" stop-color="#00ddff"/><stop offset="0.082" stop-color="#03fffc"/><stop offset="0.101" stop-color="#2fffd0"/><stop offset="0.120" stop-color="#47ffb8"/><stop offset="0.168" stop-color="#56ffa9"/><stop offset="0.207" stop-color="#5affa5"/><stop offset="0.226" stop-color="#3fffc0"/><stop offset="0.236" stop-color="#51ffae"/><stop offset="0.245" stop-color="#c4ff3b"/><stop offset="0.255" stop-color="#bd0000"/><stop offset="0.264" stop-color="#ff7100"/><stop offset="0.274" stop-color="#ff9e00"/><stop offset="0.361" stop-color="#ffb100"/><stop offset="0.688" stop-color="#ffa500"/><stop offset="0.995" stop-color="#ffab00"/></linearGradient>
<linearGradient id="c77"><stop offset="0.005" stop-color="#4dffb2"/><stop offset="0.024" stop-color="#3fffc0"/><stop offset="0.053" stop-color="#10ffef"/><stop offset="0.062" stop-color="#0dfff2"/><stop offset="0.082" stop-color="#25ffda"/><stop offset="0.111" stop-color="#4bffb4"/><stop offset="0.149" stop-color="#59ffa6"/><stop offset="0.207" stop-color="#5cffa3"/><stop offset="0.226" stop-color="#40ffbf"/><stop offset="0.236" stop-color="#4fffb0"/><stop offset="0.245" stop-color="#bfff40"/><stop offset="0.255" stop-color="#bd0000"/><stop offset="0.264" stop-color="#ff6d00"/><stop offset="0.274" stop-color="#ff9900"/><stop offset="0.361" stop-color="#ffaf00"/><stop offset="0.995" stop-color="#ffb000"/></linearGradient>
<linearGradient id="c78"><stop offset="0.005" stop-color="#56ffa9"/><stop offset="0.034" stop-color="#47ffb8"/><stop offset="0.062" stop-color="#35ffca"/><stop offset="0.120" stop-color="#58ffa7"/><stop offset="0.207" stop-color="#5effa1"/><stop offset="0.226" stop-color="#43ffbc"/><stop offset="0.236" stop-color="#4fffb0"/><stop offset="0.245" stop-color="#bdff42"/><stop offset="0.255" stop-color="#bd0000"/><stop offset="0.264" stop-color="#ff6f00"/><stop offset="0.274" stop-color="#ff9f00"/><stop offset="0.322" stop-color="#ffb100"/><stop offset="0.428" stop-color="#ffb700"/><stop offset="0.995" stop-color="#ffbd00"/></linearGradient>
<linearGradient id="c79"><stop offset="0.005" stop-color="#59ffa6"/><stop offset="0.072" stop-color="#4cffb3"/><stop offset="0.149" stop-color="#5effa1"/><stop offset="0.207" stop-color="#5effa1"/><stop offset="0.226" stop-color="#46ffb9"/><stop offset="0.236" stop-color="#51ffae"/><stop offset="0.245" stop-color="#bdff42"/><stop offset="0.255" stop-color="#bd0000"/><stop offset="0.264" stop-color="#ff7700"/><stop offset="0.274" stop-color="#ffb000"/><stop offset="0.293" stop-color="#ffc400"/><stop offset="0.995" stop-color="#ffd100"/></linearGradient>
<linearGradient id="c80"><stop offset="0.005" stop-color="#5affa5"/><stop offset="0.082" stop-color="#55ffaa"/><stop offset="0.197" stop-color="#5effa1"/><stop offset="0.207" stop-color="#5cffa3"/><stop offset="0.226" stop-color="#46ffb9"/><stop offset="0.236" stop-color="#50ffaf"/><stop offset="0.245" stop-color="#bbff44"/><stop offset="0.255" stop-color="#bd0000"/><stop offset="0.264" stop-color="#ff8200"/><stop offset="0.274" stop-color="#ffc100"/><stop offset="0.284" stop-color="#ffd300"/><stop offset="0.293" stop-color="#ffdb00"/><stop offset="0.995" stop-color="#ffe500"/></linearGradient>
<linearGradient id="c81"><stop offset="0.005" stop-color="#58ffa7"/><stop offset="0.207" stop-color="#58ffa7"/><stop offset="0.226" stop-color="#44ffbb"/><stop offset="0.236" stop-color="#4dffb2"/><stop offset="0.245" stop-color="#b7ff48"/><stop offset="0.255" stop-color="#bd0000"/><stop offset="0.264" stop-color="#ff8e00"/><stop offset="0.274" stop-color="#ffd200"/><stop offset="0.284" stop-color="#ffe600"/><stop offset="0.293" stop-color="#fff000"/><stop offset="0.995" stop-color="#fffa00"/></linearGradient>
<linearGradient id="c82"><stop offset="0.005" stop-color="#55ffaa"/><stop offset="0.207" stop-color="#54ffab"/><stop offset="0.226" stop-color="#43ffbc"/><stop offset="0.236" stop-color="#4affb5"/><stop offset="0.245" stop-color="#b3ff4c"/><stop offset="0.255" stop-color="#bd0000"/><stop offset="0.264" stop-color="#ff9c00"/><stop offset="0.274" stop-color="#ffe500"/><stop offset="0.284" stop-color="#fffa00"/><stop offset="0.322" stop-color="#f9ff06"/><stop offset="0.995" stop-color="#f0ff0f"/></linearGradient>
<linearGradient id="c83"><stop offset="0.005" stop-color="#52ffad"/><stop offset="0.207" stop-color="#51ffae"/><stop offset="0.226" stop-color="#41ffbe"/><stop offset="0.236" stop-color="#48ffb7"/><stop offset="0.245" stop-color="#b0ff4f"/><stop offset="0.255" stop-color="#bd0000"/><stop offset="0.264" stop-color="#ffad00"/><stop offset="0.274" stop-color="#fff900"/><stop offset="0.293" stop-color="#e5ff1a"/><stop offset="0.995" stop-color="#dbff24"/></linearGradient>
<linearGradient id="c84"><stop offset="0.005" stop-color="#4effb1"/><stop offset="0.207" stop-color="#4dffb2"/><stop offset="0.226" stop-color="#40ffbf"/><stop offset="0.236" stop-color="#46ffb9"/><stop offset="0.245" stop-color="#aeff51"/><stop offset="0.255" stop-color="#bd0000"/><stop offset="0.264" stop-color="#ffbd00"/><stop offset="0.274" stop-color="#f0ff0f"/><stop offset="0.284" stop-color="#dbff24"/><stop offset="0.293" stop-color="#d1ff2e"/><stop offset="0.995" stop-color="#c7ff38"/></linearGradient>
<linearGradient id="c85"><stop offset="0.005" stop-color="#47ffb8"/><stop offset="0.207" stop-color="#47ffb8"/><stop offset="0.226" stop-color="#3bffc4"/><stop offset="0.236" stop-color="#41ffbe"/><stop offset="0.245" stop-color="#a8ff57"/><stop offset="0.255" stop-color="#bd0000"/><stop offset="0.264" stop-color="#ffd200"/><stop offset="0.274" stop-color="#d7ff28"/><stop offset="0.284" stop-color="#c2ff3d"/><stop offset="0.293" stop-color="#b8ff47"/><stop offset="0.995" stop-color="#adff52"/></linearGradient>
<linearGradient id="c86"><stop offset="0.005" stop-color="#40ffbf"/><stop offset="0.207" stop-color="#3fffc0"/><stop offset="0.226" stop-color="#35ffca"/><stop offset="0.236" stop-color="#3affc5"/><stop offset="0.245" stop-color="#a2ff5d"/><stop offset="0.255" stop-color="#bd0000"/><stop offset="0.264" stop-color="#ffe500"/><stop offset="0.274" stop-color="#c0ff3f"/><stop offset="0.284" stop-color="#abff54"/><stop offset="0.293" stop-color="#a1ff5e"/><stop offset="0.995" stop-color="#97ff68"/></linearGradient>
<linearGradient id="c87"><stop offset="0.005" stop-color="#3bffc4"/><stop offset="0.207" stop-color="#3affc5"/><stop offset="0.226" stop-color="#31ffce"/><stop offset="0.236" stop-color="#35ffca"/><stop offset="0.245" stop-color="#9eff61"/><stop offset="0.255" stop-color="#bd0000"/><stop offset="0.264" stop-color="#fff100"/><stop offset="0.274" stop-color="#b0ff4f"/><stop offset="0.284" stop-color="#9cff63"/><stop offset="0.293" stop-color="#91ff6e"/><stop offset="0.995" stop-color="#87ff78"/></linearGradient>
<linearGradient id="c88"><stop offset="0.005" stop-color="#35ffca"/><stop offset="0.216" stop-color="#30ffcf"/><stop offset="0.226" stop-color="#2bffd4"/><stop offset="0.236" stop-color="#30ffcf"/><stop offset="0.245" stop-color="#99ff66"/><stop offset="0.255" stop-color="#bd0000"/><stop offset="0.264" stop-color="#ffff00"/><stop offset="0.274" stop-color="#9fff60"/><stop offset="0.284" stop-color="#8bff74"/><stop offset="0.293" stop-color="#81ff7e"/><stop offset="0.995" stop-color="#77ff88"/></linearGradient>
<linearGradient id="c89"><stop offset="0.005" stop-color="#2effd1"/><stop offset="0.216" stop-color="#2affd5"/><stop offset="0.226" stop-color="#25ffda"/><stop offset="0.236" stop-color="#29ffd6"/><stop offset="0.245" stop-color="#93ff6c"/><stop offset="0.255" stop-color="#bd0000"/><stop offset="0.264" stop-color="#eeff11"/><stop offset="0.274" stop-color="#8cff73"/><stop offset="0.284" stop-color="#79ff86"/><stop offset="0.293" stop-color="#70ff8f"/><stop offset="0.995" stop-color="#66ff99"/></linearGradient>
<linearGradient id="c90"><stop offset="0.005" stop-color="#27ffd8"/><stop offset="0.216" stop-color="#23ffdc"/><stop offset="0.236" stop-color="#23ffdc"/><stop offset="0.245" stop-color="#8eff71"/><stop offset="0.255" stop-color="#bd0000"/><stop offset="0.264" stop-color="#deff21"/><stop offset="0.274" stop-color="#79ff86"/><stop offset="0.284" stop-color="#68ff97"/><stop offset="0.293" stop-color="#5fffa0"/><stop offset="0.995" stop-color="#55ffaa"/></linearGradient>
<linearGradient id="c91"><stop offset="0.005" stop-color="#1bffe4"/><stop offset="0.216" stop-color="#18ffe7"/><stop offset="0.236" stop-color="#18ffe7"/><stop offset="0.245" stop-color="#84ff7b"/><stop offset="0.255" stop-color="#bd0000"/><stop offset="0.264" stop-color="#caff35"/><stop offset="0.274" stop-color="#63ff9c"/><stop offset="0.284" stop-color="#53ffac"/><stop offset="0.303" stop-color="#4bffb4"/><stop offset="0.995" stop-color="#41ffbe"/></linearGradient>
<linearGradient id="c92"><stop offset="0.005" stop-color="#0afff5"/><stop offset="0.216" stop-color="#07fff8"/><stop offset="0.236" stop-color="#07fff8"/><stop offset="0.245" stop-color="#77ff88"/><stop offset="0.255" stop-color="#bd0000"/><stop offset="0.264" stop-color="#b4ff4b"/><stop offset="0.274" stop-color="#49ffb6"/><stop offset="0.293" stop-color="#33ffcc"/><stop offset="0.995" stop-color="#29ffd6"/></linearGradient>
<linearGradient id="c93"><stop offset="0.005" stop-color="#00f8ff"/><stop offset="0.216" stop-color="#00f5ff"/><stop offset="0.236" stop-color="#00f5ff"/><stop offset="0.245" stop-color="#69ff96"/><stop offset="0.255" stop-color="#bd0000"/><stop offset="0.264" stop-color="#9eff61"/><stop offset="0.274" stop-color="#2fffd0"/><stop offset="0.293" stop-color="#1bffe4"/><stop offset="0.995" stop-color="#11ffee"/></linearGradient>
<linearGradient id="c94"><stop offset="0.005" stop-color="#00dbff"/><stop offset="0.216" stop-color="#00d9ff"/><stop offset="0.236" stop-color="#00d9ff"/><stop offset="0.245" stop-color="#51ffae"/><stop offset="0.255" stop-color="#bd0000"/><stop offset="0.264" stop-color="#77ff88"/><stop offset="0.274" stop-color="#02fffd"/><stop offset="0.293" stop-color="#00f2ff"/><stop offset="0.995" stop-color="#00ebff"/></linearGradient>
<linearGradient id="c95"><stop offset="0.005" stop-color="#00b2ff"/><stop offset="0.216" stop-color="#00b0ff"/><stop offset="0.245" stop-color="#00b3ff"/><stop offset="0.264" stop-color="#00c2ff"/><stop offset="0.322" stop-color="#00baff"/><stop offset="0.995" stop-color="#00b8ff"/></linearGradient>
<linearGradient id="c96"><stop offset="0.005" stop-color="#0079ff"/><stop offset="0.236" stop-color="#0076ff"/><stop offset="0.995" stop-color="#0079ff"/></linearGradient>
<linearGradient id="c97"><stop offset="0.005" stop-color="#002eff"/><stop offset="0.236" stop-color="#002bff"/><stop offset="0.995" stop-color="#002eff"/></linearGradient>
<g id="sa"><path d="M-6.80 0L0 -2.90L6.80 0L0 2.90Z" fill="#0024ff" fill-opacity="0.55"/><path d="M-5.30 0L0 -2.15L5.30 0L0 2.15Z" fill="#008aff"/><path d="M-4.08 0L0 -1.59L4.08 0L0 1.59Z" fill="#00f0ff"/><path d="M-2.92 0L0 -1.16L2.92 0L0 1.16Z" fill="#6bff94"/><path d="M-1.97 0L0 -0.81L1.97 0L0 0.81Z" fill="#e5ff1a"/><path d="M-1.16 0L0 -0.49L1.16 0L0 0.49Z" fill="#ff9e00"/></g>
<g id="sb"><path d="M-7.00 0L0 -5.50L7.00 0L0 5.50Z" fill="#0024ff" fill-opacity="0.55"/><path d="M-5.46 0L0 -4.07L5.46 0L0 4.07Z" fill="#008aff"/><path d="M-4.20 0L0 -3.03L4.20 0L0 3.03Z" fill="#00f0ff"/><path d="M-3.01 0L0 -2.20L3.01 0L0 2.20Z" fill="#6bff94"/><path d="M-2.03 0L0 -1.54L2.03 0L0 1.54Z" fill="#e5ff1a"/><path d="M-1.19 0L0 -0.94L1.19 0L0 0.94Z" fill="#ff9e00"/><path d="M-0.56 0L0 -0.44L0.56 0L0 0.44Z" fill="#ff2400"/></g>
<g id="sc"><path d="M-6.50 0L0 -2.80L6.50 0L0 2.80Z" fill="#0024ff" fill-opacity="0.55"/><path d="M-5.07 0L0 -2.07L5.07 0L0 2.07Z" fill="#008aff"/><path d="M-3.90 0L0 -1.54L3.90 0L0 1.54Z" fill="#00f0ff"/><path d="M-2.79 0L0 -1.12L2.79 0L0 1.12Z" fill="#6bff94"/><path d="M-1.88 0L0 -0.78L1.88 0L0 0.78Z" fill="#e5ff1a"/></g>
<g id="sd"><path d="M-5.50 0L0 -2.80L5.50 0L0 2.80Z" fill="#0024ff" fill-opacity="0.55"/><path d="M-4.29 0L0 -2.07L4.29 0L0 2.07Z" fill="#008aff"/><path d="M-3.30 0L0 -1.54L3.30 0L0 1.54Z" fill="#00f0ff"/><path d="M-2.36 0L0 -1.12L2.36 0L0 1.12Z" fill="#6bff94"/></g>
<g id="se"><path d="M-5.00 0L0 -1.90L5.00 0L0 1.90Z" fill="#0024ff" fill-opacity="0.55"/><path d="M-3.90 0L0 -1.41L3.90 0L0 1.41Z" fill="#008aff"/><path d="M-3.00 0L0 -1.04L3.00 0L0 1.04Z" fill="#00f0ff"/></g>
<g id="sf"><path d="M-8.50 0L0 -3.00L8.50 0L0 3.00Z" fill="#0024ff" fill-opacity="0.55"/><path d="M-6.63 0L0 -2.22L6.63 0L0 2.22Z" fill="#008aff"/><path d="M-5.10 0L0 -1.65L5.10 0L0 1.65Z" fill="#00f0ff"/><path d="M-3.65 0L0 -1.20L3.65 0L0 1.20Z" fill="#6bff94"/><path d="M-2.46 0L0 -0.84L2.46 0L0 0.84Z" fill="#e5ff1a"/></g>
<g id="sg"><path d="M-3.80 0L0 -1.80L3.80 0L0 1.80Z" fill="#0024ff" fill-opacity="0.55"/><path d="M-2.96 0L0 -1.33L2.96 0L0 1.33Z" fill="#008aff"/><path d="M-2.28 0L0 -0.99L2.28 0L0 0.99Z" fill="#00f0ff"/><path d="M-1.63 0L0 -0.72L1.63 0L0 0.72Z" fill="#6bff94"/></g>
<filter id="bl1" x="-20%" y="-20%" width="140%" height="140%"><feGaussianBlur stdDeviation="1.0"/></filter>
<filter id="bl2" x="-5%" y="-5%" width="110%" height="110%"><feGaussianBlur stdDeviation="0.55"/></filter>
<clipPath id="cpb"><rect x="131" y="17" width="168" height="200"/></clipPath>
</defs>
<rect width="448" height="252" fill="#fff"/>
<defs><radialGradient id="mode" cx="0.5" cy="0.5" r="0.5">
<stop offset="0.000" stop-color="#a80000"/>
<stop offset="0.083" stop-color="#bb0000"/>
<stop offset="0.167" stop-color="#f10000"/>
<stop offset="0.250" stop-color="#ff4500"/>
<stop offset="0.333" stop-color="#ffad00"/>
<stop offset="0.417" stop-color="#deff21"/>
<stop offset="0.500" stop-color="#6aff95"/>
<stop offset="0.583" stop-color="#00fdff"/>
<stop offset="0.667" stop-color="#009dff"/>
<stop offset="0.750" stop-color="#004eff"/>
<stop offset="0.833" stop-color="#000fff"/>
<stop offset="0.917" stop-color="#0000de"/>
<stop offset="1.000" stop-color="#0000bc"/>
</radialGradient></defs>
<rect x="17.5" y="34" width="47.5" height="48" fill="#00008e"/>
<circle cx="41.4" cy="58.8" r="17.6" fill="url(#mode)"/>
<circle cx="41.4" cy="58.8" r="17.6" fill="none" stroke="#fff" stroke-width="1.5"/>
<g stroke="#8a8a8a" stroke-width="1" fill="none">
<path d="M0 17.2 H80.8 V216.3 H0"/>
<line x1="14.6" y1="17.2" x2="14.6" y2="20.5"/>
<line x1="14.6" y1="216.3" x2="14.6" y2="213"/>
<line x1="39.5" y1="17.2" x2="39.5" y2="20.5"/>
<line x1="39.5" y1="216.3" x2="39.5" y2="213"/>
<line x1="64.5" y1="17.2" x2="64.5" y2="20.5"/>
<line x1="64.5" y1="216.3" x2="64.5" y2="213"/>
<line x1="80.8" y1="66.7" x2="77.5" y2="66.7"/>
<line x1="80.8" y1="166.3" x2="77.5" y2="166.3"/>
</g>
<line x1="0" y1="116.6" x2="80.8" y2="116.6" stroke="#555" stroke-width="1"/>
<g fill="none" clip-path="url(#cpa)">
<path d="M-1.00 108.41 C0.29 109.51 4.15 112.80 6.73 115.03 C9.30 117.26 11.88 119.51 14.45 121.77 C17.03 124.04 19.61 126.33 22.18 128.64 C24.76 130.94 27.33 133.27 29.91 135.62 C32.48 137.97 35.06 140.34 37.64 142.72 C40.21 145.11 42.79 147.52 45.36 149.95 C47.94 152.38 50.52 154.82 53.09 157.29 C55.67 159.76 58.24 162.25 60.82 164.76 C63.39 167.27 65.97 169.80 68.55 172.34 C71.12 174.89 73.70 177.46 76.27 180.05 C78.85 182.64 82.71 186.57 84.00 187.88" stroke="#a2cf8a" stroke-width="1.5"/>
<path d="M-1.00 117.67 C0.29 118.86 4.15 122.43 6.73 124.85 C9.30 127.27 11.88 129.71 14.45 132.19 C17.03 134.66 19.61 137.15 22.18 139.67 C24.76 142.20 27.33 144.74 29.91 147.32 C32.48 149.89 35.06 152.49 37.64 155.11 C40.21 157.73 42.79 160.38 45.36 163.06 C47.94 165.73 50.52 168.43 53.09 171.16 C55.67 173.88 58.24 176.64 60.82 179.41 C63.39 182.19 65.97 184.99 68.55 187.82 C71.12 190.65 73.70 193.50 76.27 196.38 C78.85 199.26 82.71 203.64 84.00 205.09" stroke="#f58220" stroke-width="1.6"/>
<path d="M-1.00 127.70 C0.23 128.93 3.91 132.57 6.36 135.06 C8.82 137.55 11.27 140.07 13.73 142.64 C16.18 145.20 18.64 147.80 21.09 150.44 C23.55 153.07 26.00 155.75 28.45 158.46 C30.91 161.17 33.36 163.92 35.82 166.70 C38.27 169.49 40.73 172.31 43.18 175.17 C45.64 178.03 48.09 180.92 50.55 183.86 C53.00 186.79 55.45 189.76 57.91 192.77 C60.36 195.77 62.82 198.82 65.27 201.90 C67.73 204.98 70.18 208.10 72.64 211.25 C75.09 214.41 78.77 219.23 80.00 220.83" stroke="#9500ff" stroke-width="1.7"/>
</g>
<path d="M16.2 31 l1.6 1.2 l-1.6 1.2 z M66 81 l2.6 1.2 l-2.6 1.2 z" fill="#111"/>
<rect x="0" y="57.8" width="2" height="1.4" fill="#333"/><rect x="0" y="67.6" width="1.6" height="1.2" fill="#444"/><rect x="0" y="41.5" width="1.5" height="1.2" fill="#555"/>
<text x="26.1" y="32.7" font-size="8.6" textLength="40" lengthAdjust="spacingAndGlyphs" fill="#111" stroke="#111" stroke-width="0.22">λ=2.0µm</text>
<text x="1.4" y="37.6" font-size="10" textLength="13.8" lengthAdjust="spacingAndGlyphs" fill="#111" stroke="#111" stroke-width="0.22">1.0</text>
<text x="5.4" y="61.2" font-size="10" fill="#111" stroke="#111" stroke-width="0.22">0</text>
<text x="-0.5" y="83.2" font-size="9.6" textLength="16.4" lengthAdjust="spacingAndGlyphs" fill="#111" stroke="#111" stroke-width="0.22">-1.0</text>
<text x="10.8" y="90.7" font-size="9.8" textLength="17.5" lengthAdjust="spacingAndGlyphs" fill="#111" stroke="#111" stroke-width="0.22">-1.0</text>
<text x="39" y="90.7" font-size="9.8" fill="#111" stroke="#111" stroke-width="0.22">0</text>
<text x="60.4" y="90.7" font-size="9.8" textLength="13.4" lengthAdjust="spacingAndGlyphs" fill="#111" stroke="#111" stroke-width="0.22">1.0</text>
<text x="29.4" y="99.6" font-size="9.2" textLength="32.4" lengthAdjust="spacingAndGlyphs" fill="#111" stroke="#111" stroke-width="0.22">x (µm)</text>
<text x="5.3" y="231.8" font-size="13.8" fill="#111" stroke="#111" stroke-width="0.22">2.1</text>
<text x="57.9" y="231.8" font-size="13.8" fill="#111" stroke="#111" stroke-width="0.22">2.4</text>
<text x="60.3" y="247.3" font-size="13.8" text-anchor="end" fill="#111" stroke="#111" stroke-width="0.22">Wavelength (µm)</text>
<g shape-rendering="crispEdges">
<rect x="131" y="17" width="168" height="1" fill="url(#b0)"/>
<rect x="131" y="18" width="168" height="1" fill="url(#b1)"/>
<rect x="131" y="19" width="168" height="1" fill="url(#b2)"/>
<rect x="131" y="20" width="168" height="1" fill="url(#b3)"/>
<rect x="131" y="21" width="168" height="1" fill="url(#b4)"/>
<rect x="131" y="22" width="168" height="1" fill="url(#b5)"/>
<rect x="131" y="23" width="168" height="1" fill="url(#b6)"/>
<rect x="131" y="24" width="168" height="1" fill="url(#b7)"/>
<rect x="131" y="25" width="168" height="1" fill="url(#b8)"/>
<rect x="131" y="26" width="168" height="1" fill="url(#b9)"/>
<rect x="131" y="27" width="168" height="1" fill="url(#b10)"/>
<rect x="131" y="28" width="168" height="1" fill="url(#b11)"/>
<rect x="131" y="29" width="168" height="1" fill="url(#b12)"/>
<rect x="131" y="30" width="168" height="1" fill="url(#b13)"/>
<rect x="131" y="31" width="168" height="1" fill="url(#b14)"/>
<rect x="131" y="32" width="168" height="1" fill="url(#b15)"/>
<rect x="131" y="33" width="168" height="1" fill="url(#b16)"/>
<rect x="131" y="34" width="168" height="1" fill="url(#b17)"/>
<rect x="131" y="35" width="168" height="1" fill="url(#b18)"/>
<rect x="131" y="36" width="168" height="1" fill="url(#b19)"/>
<rect x="131" y="37" width="168" height="1" fill="url(#b20)"/>
<rect x="131" y="38" width="168" height="1" fill="url(#b21)"/>
<rect x="131" y="39" width="168" height="1" fill="url(#b22)"/>
<rect x="131" y="40" width="168" height="1" fill="url(#b23)"/>
<rect x="131" y="41" width="168" height="1" fill="url(#b24)"/>
<rect x="131" y="42" width="168" height="1" fill="url(#b25)"/>
<rect x="131" y="43" width="168" height="1" fill="url(#b26)"/>
<rect x="131" y="44" width="168" height="1" fill="url(#b27)"/>
<rect x="131" y="45" width="168" height="1" fill="url(#b28)"/>
<rect x="131" y="46" width="168" height="1" fill="url(#b29)"/>
<rect x="131" y="47" width="168" height="1" fill="url(#b30)"/>
<rect x="131" y="48" width="168" height="1" fill="url(#b31)"/>
<rect x="131" y="49" width="168" height="1" fill="url(#b32)"/>
<rect x="131" y="50" width="168" height="1" fill="url(#b33)"/>
<rect x="131" y="51" width="168" height="1" fill="url(#b34)"/>
<rect x="131" y="52" width="168" height="1" fill="url(#b35)"/>
<rect x="131" y="53" width="168" height="1" fill="url(#b36)"/>
<rect x="131" y="54" width="168" height="1" fill="url(#b37)"/>
<rect x="131" y="55" width="168" height="1" fill="url(#b38)"/>
<rect x="131" y="56" width="168" height="1" fill="url(#b39)"/>
<rect x="131" y="57" width="168" height="1" fill="url(#b40)"/>
<rect x="131" y="58" width="168" height="1" fill="url(#b41)"/>
<rect x="131" y="59" width="168" height="1" fill="url(#b42)"/>
<rect x="131" y="60" width="168" height="1" fill="url(#b43)"/>
<rect x="131" y="61" width="168" height="1" fill="url(#b44)"/>
<rect x="131" y="62" width="168" height="1" fill="url(#b45)"/>
<rect x="131" y="63" width="168" height="1" fill="url(#b46)"/>
<rect x="131" y="64" width="168" height="1" fill="url(#b47)"/>
<rect x="131" y="65" width="168" height="1" fill="url(#b48)"/>
<rect x="131" y="66" width="168" height="1" fill="url(#b49)"/>
<rect x="131" y="67" width="168" height="1" fill="url(#b50)"/>
<rect x="131" y="68" width="168" height="1" fill="url(#b51)"/>
<rect x="131" y="69" width="168" height="1" fill="url(#b52)"/>
<rect x="131" y="70" width="168" height="1" fill="url(#b53)"/>
<rect x="131" y="71" width="168" height="1" fill="url(#b54)"/>
<rect x="131" y="72" width="168" height="1" fill="url(#b55)"/>
<rect x="131" y="73" width="168" height="1" fill="url(#b56)"/>
<rect x="131" y="74" width="168" height="1" fill="url(#b57)"/>
<rect x="131" y="75" width="168" height="1" fill="url(#b58)"/>
<rect x="131" y="76" width="168" height="1" fill="url(#b59)"/>
<rect x="131" y="77" width="168" height="1" fill="url(#b60)"/>
<rect x="131" y="78" width="168" height="1" fill="url(#b61)"/>
<rect x="131" y="79" width="168" height="1" fill="url(#b62)"/>
<rect x="131" y="80" width="168" height="1" fill="url(#b63)"/>
<rect x="131" y="81" width="168" height="1" fill="url(#b64)"/>
<rect x="131" y="82" width="168" height="1" fill="url(#b65)"/>
<rect x="131" y="83" width="168" height="1" fill="url(#b66)"/>
<rect x="131" y="84" width="168" height="1" fill="url(#b67)"/>
<rect x="131" y="85" width="168" height="1" fill="url(#b68)"/>
<rect x="131" y="86" width="168" height="1" fill="url(#b69)"/>
<rect x="131" y="87" width="168" height="1" fill="url(#b70)"/>
<rect x="131" y="88" width="168" height="1" fill="url(#b71)"/>
<rect x="131" y="89" width="168" height="1" fill="url(#b72)"/>
<rect x="131" y="90" width="168" height="1" fill="url(#b73)"/>
<rect x="131" y="91" width="168" height="1" fill="url(#b74)"/>
<rect x="131" y="92" width="168" height="1" fill="url(#b75)"/>
<rect x="131" y="93" width="168" height="1" fill="url(#b76)"/>
<rect x="131" y="94" width="168" height="1" fill="url(#b58)"/>
<rect x="131" y="95" width="168" height="1" fill="url(#b76)"/>
<rect x="131" y="96" width="168" height="1" fill="url(#b75)"/>
<rect x="131" y="97" width="168" height="1" fill="url(#b74)"/>
<rect x="131" y="98" width="168" height="1" fill="url(#b73)"/>
<rect x="131" y="99" width="168" height="1" fill="url(#b72)"/>
<rect x="131" y="100" width="168" height="1" fill="url(#b71)"/>
<rect x="131" y="101" width="168" height="1" fill="url(#b70)"/>
<rect x="131" y="102" width="168" height="1" fill="url(#b69)"/>
<rect x="131" y="103" width="168" height="1" fill="url(#b68)"/>
<rect x="131" y="104" width="168" height="1" fill="url(#b67)"/>
<rect x="131" y="105" width="168" height="1" fill="url(#b66)"/>
<rect x="131" y="106" width="168" height="1" fill="url(#b77)"/>
<rect x="131" y="107" width="168" height="1" fill="url(#b78)"/>
<rect x="131" y="108" width="168" height="1" fill="url(#b79)"/>
<rect x="131" y="109" width="168" height="1" fill="url(#b80)"/>
<rect x="131" y="110" width="168" height="1" fill="url(#b81)"/>
<rect x="131" y="111" width="168" height="1" fill="url(#b82)"/>
<rect x="131" y="112" width="168" height="1" fill="url(#b83)"/>
<rect x="131" y="113" width="168" height="1" fill="url(#b84)"/>
<rect x="131" y="114" width="168" height="1" fill="url(#b85)"/>
<rect x="131" y="115" width="168" height="1" fill="url(#b86)"/>
<rect x="131" y="116" width="168" height="1" fill="url(#b87)"/>
<rect x="131" y="117" width="168" height="1" fill="url(#b88)"/>
<rect x="131" y="118" width="168" height="1" fill="url(#b89)"/>
<rect x="131" y="119" width="168" height="1" fill="url(#b90)"/>
<rect x="131" y="120" width="168" height="1" fill="url(#b91)"/>
<rect x="131" y="121" width="168" height="1" fill="url(#b92)"/>
<rect x="131" y="122" width="168" height="1" fill="url(#b93)"/>
<rect x="131" y="123" width="168" height="1" fill="url(#b94)"/>
<rect x="131" y="124" width="168" height="1" fill="url(#b95)"/>
<rect x="131" y="125" width="168" height="1" fill="url(#b96)"/>
<rect x="131" y="126" width="168" height="1" fill="url(#b97)"/>
<rect x="131" y="127" width="168" height="1" fill="url(#b98)"/>
<rect x="131" y="128" width="168" height="1" fill="url(#b99)"/>
<rect x="131" y="129" width="168" height="1" fill="url(#b100)"/>
<rect x="131" y="130" width="168" height="1" fill="url(#b101)"/>
<rect x="131" y="131" width="168" height="1" fill="url(#b102)"/>
<rect x="131" y="132" width="168" height="1" fill="url(#b103)"/>
<rect x="131" y="133" width="168" height="1" fill="url(#b104)"/>
<rect x="131" y="134" width="168" height="1" fill="url(#b105)"/>
<rect x="131" y="135" width="168" height="1" fill="url(#b106)"/>
<rect x="131" y="136" width="168" height="1" fill="url(#b107)"/>
<rect x="131" y="137" width="168" height="1" fill="url(#b108)"/>
<rect x="131" y="138" width="168" height="1" fill="url(#b109)"/>
<rect x="131" y="139" width="168" height="1" fill="url(#b110)"/>
<rect x="131" y="140" width="168" height="1" fill="url(#b111)"/>
<rect x="131" y="141" width="168" height="1" fill="url(#b112)"/>
<rect x="131" y="142" width="168" height="1" fill="url(#b113)"/>
<rect x="131" y="143" width="168" height="1" fill="url(#b114)"/>
<rect x="131" y="144" width="168" height="1" fill="url(#b115)"/>
<rect x="131" y="145" width="168" height="1" fill="url(#b115)"/>
<rect x="131" y="146" width="168" height="1" fill="url(#b115)"/>
<rect x="131" y="147" width="168" height="1" fill="url(#b115)"/>
<rect x="131" y="148" width="168" height="1" fill="url(#b116)"/>
<rect x="131" y="149" width="168" height="1" fill="url(#b117)"/>
<rect x="131" y="150" width="168" height="1" fill="url(#b118)"/>
<rect x="131" y="151" width="168" height="1" fill="url(#b119)"/>
<rect x="131" y="152" width="168" height="1" fill="url(#b120)"/>
<rect x="131" y="153" width="168" height="1" fill="url(#b121)"/>
<rect x="131" y="154" width="168" height="1" fill="url(#b122)"/>
<rect x="131" y="155" width="168" height="1" fill="url(#b123)"/>
<rect x="131" y="156" width="168" height="1" fill="url(#b124)"/>
<rect x="131" y="157" width="168" height="1" fill="url(#b125)"/>
<rect x="131" y="158" width="168" height="1" fill="url(#b126)"/>
<rect x="131" y="159" width="168" height="1" fill="url(#b127)"/>
<rect x="131" y="160" width="168" height="1" fill="url(#b128)"/>
<rect x="131" y="161" width="168" height="1" fill="url(#b129)"/>
<rect x="131" y="162" width="168" height="1" fill="url(#b130)"/>
<rect x="131" y="163" width="168" height="1" fill="url(#b131)"/>
<rect x="131" y="164" width="168" height="1" fill="url(#b132)"/>
<rect x="131" y="165" width="168" height="1" fill="url(#b133)"/>
<rect x="131" y="166" width="168" height="1" fill="url(#b134)"/>
<rect x="131" y="167" width="168" height="1" fill="url(#b135)"/>
<rect x="131" y="168" width="168" height="1" fill="url(#b136)"/>
<rect x="131" y="169" width="168" height="1" fill="url(#b137)"/>
<rect x="131" y="170" width="168" height="1" fill="url(#b138)"/>
<rect x="131" y="171" width="168" height="1" fill="url(#b139)"/>
<rect x="131" y="172" width="168" height="1" fill="url(#b140)"/>
<rect x="131" y="173" width="168" height="1" fill="url(#b141)"/>
<rect x="131" y="174" width="168" height="1" fill="url(#b142)"/>
<rect x="131" y="175" width="168" height="1" fill="url(#b143)"/>
<rect x="131" y="176" width="168" height="1" fill="url(#b144)"/>
<rect x="131" y="177" width="168" height="1" fill="url(#b145)"/>
<rect x="131" y="178" width="168" height="1" fill="url(#b146)"/>
<rect x="131" y="179" width="168" height="1" fill="url(#b147)"/>
<rect x="131" y="180" width="168" height="1" fill="url(#b148)"/>
<rect x="131" y="181" width="168" height="1" fill="url(#b149)"/>
<rect x="131" y="182" width="168" height="1" fill="url(#b150)"/>
<rect x="131" y="183" width="168" height="1" fill="url(#b151)"/>
<rect x="131" y="184" width="168" height="1" fill="url(#b152)"/>
<rect x="131" y="185" width="168" height="1" fill="url(#b153)"/>
<rect x="131" y="186" width="168" height="1" fill="url(#b154)"/>
<rect x="131" y="187" width="168" height="1" fill="url(#b155)"/>
<rect x="131" y="188" width="168" height="1" fill="url(#b156)"/>
<rect x="131" y="189" width="168" height="1" fill="url(#b156)"/>
<rect x="131" y="190" width="168" height="1" fill="url(#b155)"/>
<rect x="131" y="191" width="168" height="1" fill="url(#b154)"/>
<rect x="131" y="192" width="168" height="1" fill="url(#b157)"/>
<rect x="131" y="193" width="168" height="1" fill="url(#b158)"/>
<rect x="131" y="194" width="168" height="1" fill="url(#b159)"/>
<rect x="131" y="195" width="168" height="1" fill="url(#b160)"/>
<rect x="131" y="196" width="168" height="1" fill="url(#b161)"/>
<rect x="131" y="197" width="168" height="1" fill="url(#b162)"/>
<rect x="131" y="198" width="168" height="1" fill="url(#b163)"/>
<rect x="131" y="199" width="168" height="1" fill="url(#b164)"/>
<rect x="131" y="200" width="168" height="1" fill="url(#b165)"/>
<rect x="131" y="201" width="168" height="1" fill="url(#b166)"/>
<rect x="131" y="202" width="168" height="1" fill="url(#b167)"/>
<rect x="131" y="203" width="168" height="1" fill="url(#b168)"/>
<rect x="131" y="204" width="168" height="1" fill="url(#b169)"/>
<rect x="131" y="205" width="168" height="1" fill="url(#b170)"/>
<rect x="131" y="206" width="168" height="1" fill="url(#b171)"/>
<rect x="131" y="207" width="168" height="1" fill="url(#b172)"/>
<rect x="131" y="208" width="168" height="1" fill="url(#b173)"/>
<rect x="131" y="209" width="168" height="1" fill="url(#b174)"/>
<rect x="131" y="210" width="168" height="1" fill="url(#b175)"/>
<rect x="131" y="211" width="168" height="1" fill="url(#b176)"/>
<rect x="131" y="212" width="168" height="1" fill="url(#b177)"/>
<rect x="131" y="213" width="168" height="1" fill="url(#b178)"/>
<rect x="131" y="214" width="168" height="1" fill="url(#b179)"/>
<rect x="131" y="215" width="168" height="1" fill="url(#b180)"/>
<rect x="131" y="216" width="168" height="1" fill="url(#b181)"/>
</g>
<g clip-path="url(#cpb)">
<line x1="131.3" y1="17" x2="131.3" y2="217" stroke="#c8c8e0" stroke-width="0.6"/>
<polyline points="131.0,111.0 133.0,109.6 138.7,106.6 144.4,103.4 150.0,99.0 155.7,95.0 161.4,88.8 167.1,82.6 172.8,74.3 178.4,63.8 184.1,49.9 189.8,30.1 192.0,17.0" fill="none" stroke="#0050ff" stroke-width="3.2" opacity="0.85" filter="url(#bl1)"/>
<polyline points="131.0,177.3 133.0,177.9 138.7,179.5 144.4,182.0 150.0,184.0 155.7,186.8 161.4,189.5 167.1,192.3 172.8,195.8 178.4,200.3 184.1,205.4 189.8,211.7 192.5,217.0" fill="none" stroke="#0050ff" stroke-width="3.6" opacity="0.75" filter="url(#bl1)"/>
<polyline points="235.6,17.0 240.9,28.5 246.6,39.9 252.3,48.8 258.0,55.3 263.7,60.2 269.4,64.4 275.0,67.8 280.7,71.0 286.4,73.8 292.1,76.0 297.7,77.5 301.0,78.3" fill="none" stroke="#0050ff" stroke-width="4.5" opacity="0.8" filter="url(#bl1)"/>
<polyline points="268.5,15.0 275.0,18.4 280.7,24.0 286.4,28.5 292.1,32.8 297.7,35.6 301.0,37.0" fill="none" stroke="#0040f0" stroke-width="3.6" opacity="0.7" filter="url(#bl1)"/>
<polyline points="231.0,219.0 233.7,215.9 240.9,211.6 246.6,208.8 252.3,206.0 258.0,203.5 263.7,201.8 269.4,200.3 275.0,198.4 280.7,197.1 286.4,196.0 292.1,194.9 297.7,194.1 301.0,193.7" fill="none" stroke="#0048f0" stroke-width="3" opacity="0.75" filter="url(#bl1)"/>
<polyline points="266.0,219.0 270.6,216.5 276.0,214.9 281.0,213.6 286.4,212.5 292.1,211.3 297.7,210.2 301.0,209.6" fill="none" stroke="#0040f0" stroke-width="3.2" opacity="0.7" filter="url(#bl1)"/>
<polyline points="252.3,48.8 258.0,55.3 263.7,60.2 269.4,64.4 275.0,67.8 280.7,71.0 286.4,73.8 292.1,76.0 297.7,77.5 301.0,78.3" fill="none" stroke="#10c0ff" stroke-width="2" opacity="0.85" filter="url(#bl1)"/>
<polyline points="240.9,211.6 246.6,208.8 252.3,206.0 258.0,203.5 263.7,201.8 269.4,200.3 275.0,198.4 280.7,197.1 286.4,196.0 292.1,194.9 297.7,194.1 301.0,193.7" fill="none" stroke="#10a8ff" stroke-width="1.1" opacity="0.8" filter="url(#bl1)"/>
<polyline points="266.0,219.0 270.6,216.5 276.0,214.9 281.0,213.6 286.4,212.5 292.1,211.3 297.7,210.2 301.0,209.6" fill="none" stroke="#1090ff" stroke-width="1.1" opacity="0.8" filter="url(#bl1)"/>
<polyline points="131.0,177.3 133.0,177.9 138.7,179.5 144.4,182.0 150.0,184.0 155.7,186.8 161.4,189.5 167.1,192.3 172.8,195.8 178.4,200.3 184.1,205.4 189.8,211.7 192.5,217.0" fill="none" stroke="#1090ff" stroke-width="1.4" opacity="0.7" filter="url(#bl1)"/>
<g filter="url(#bl2)">
<use href="#sa" x="133.0" y="109.6"/>
<use href="#sa" x="138.7" y="106.6"/>
<use href="#sa" x="144.4" y="103.4"/>
<use href="#sa" x="150.0" y="99.0"/>
<use href="#sa" x="155.7" y="95.0"/>
<use href="#sa" x="161.4" y="88.8"/>
<use href="#sa" x="167.1" y="82.6"/>
<use href="#sa" x="172.8" y="74.3"/>
<use href="#sa" x="178.4" y="63.8"/>
<use href="#sa" x="133.0" y="91.0"/>
<use href="#sa" x="138.7" y="85.6"/>
<use href="#sa" x="144.4" y="80.0"/>
<use href="#sa" x="150.0" y="73.8"/>
<use href="#sa" x="155.7" y="65.9"/>
<use href="#sa" x="161.4" y="56.5"/>
<use href="#sa" x="167.1" y="46.0"/>
<use href="#sa" x="172.8" y="32.1"/>
<use href="#sa" x="133.0" y="74.7"/>
<use href="#sa" x="138.7" y="68.1"/>
<use href="#sa" x="144.4" y="60.2"/>
<use href="#sa" x="150.0" y="51.5"/>
<use href="#sa" x="155.7" y="40.7"/>
<use href="#sa" x="161.4" y="28.5"/>
<use href="#sa" x="133.0" y="60.2"/>
<use href="#sa" x="138.7" y="51.8"/>
<use href="#sa" x="144.4" y="42.0"/>
<use href="#sa" x="150.0" y="30.6"/>
<use href="#sa" x="155.7" y="16.9"/>
<use href="#sa" x="133.0" y="46.0"/>
<use href="#sa" x="144.4" y="24.2"/>
<use href="#sa" x="133.0" y="32.5"/>
<use href="#sf" x="137.2" y="21.0"/>
<use href="#sf" x="138.7" y="35.6"/>
<use href="#sb" x="189.8" y="30.1"/>
<use href="#sb" x="184.1" y="49.9"/>
<use href="#sc" x="133.0" y="177.9"/>
<use href="#sc" x="138.7" y="179.5"/>
<use href="#sc" x="144.4" y="182.0"/>
<use href="#sc" x="150.0" y="184.0"/>
<use href="#sc" x="155.7" y="186.8"/>
<use href="#sc" x="161.4" y="189.5"/>
<use href="#sc" x="167.1" y="192.3"/>
<use href="#sc" x="172.8" y="195.8"/>
<use href="#sc" x="178.4" y="200.3"/>
<use href="#sc" x="184.1" y="205.4"/>
<use href="#sc" x="189.8" y="211.7"/>
<use href="#se" x="133.0" y="187.9"/>
<use href="#se" x="138.7" y="191.0"/>
<use href="#se" x="144.4" y="193.5"/>
<use href="#se" x="150.0" y="196.3"/>
<use href="#se" x="155.7" y="199.5"/>
<use href="#se" x="161.4" y="203.0"/>
<use href="#se" x="167.1" y="207.0"/>
<use href="#se" x="172.8" y="211.2"/>
<use href="#se" x="178.4" y="215.7"/>
<use href="#se" x="133.0" y="195.8"/>
<use href="#se" x="138.7" y="198.7"/>
<use href="#se" x="144.4" y="201.4"/>
<use href="#se" x="150.0" y="204.6"/>
<use href="#se" x="155.7" y="208.5"/>
<use href="#se" x="161.4" y="211.2"/>
<use href="#se" x="167.1" y="214.9"/>
<use href="#se" x="133.0" y="201.4"/>
<use href="#se" x="138.7" y="205.4"/>
<use href="#se" x="144.4" y="207.7"/>
<use href="#se" x="150.0" y="211.5"/>
<use href="#se" x="155.7" y="214.5"/>
<use href="#se" x="133.0" y="207.5"/>
<use href="#se" x="138.7" y="211.0"/>
<use href="#se" x="144.4" y="213.5"/>
<use href="#se" x="133.0" y="213.0"/>
<use href="#se" x="138.7" y="215.8"/>
<use href="#sa" x="240.9" y="28.5"/>
<use href="#sa" x="246.6" y="39.9"/>
<use href="#sa" x="252.3" y="48.8"/>
<use href="#sa" x="258.0" y="55.3"/>
<use href="#sd" x="263.7" y="60.2"/>
<use href="#sd" x="269.4" y="64.4"/>
<use href="#sd" x="275.0" y="67.8"/>
<use href="#sd" x="280.7" y="71.0"/>
<use href="#sd" x="286.4" y="73.8"/>
<use href="#sd" x="292.1" y="76.0"/>
<use href="#sd" x="297.7" y="77.5"/>
<use href="#sc" x="275.0" y="18.4"/>
<use href="#sc" x="280.7" y="24.0"/>
<use href="#sc" x="286.4" y="28.5"/>
<use href="#sc" x="292.1" y="32.8"/>
<use href="#sc" x="297.7" y="35.6"/>
<use href="#sg" x="233.7" y="215.9"/>
<use href="#sg" x="240.9" y="211.6"/>
<use href="#sg" x="246.6" y="208.8"/>
<use href="#sg" x="252.3" y="206.0"/>
<use href="#sg" x="258.0" y="203.5"/>
<use href="#sg" x="263.7" y="201.8"/>
<use href="#sg" x="269.4" y="200.3"/>
<use href="#sg" x="275.0" y="198.4"/>
<use href="#sg" x="280.7" y="197.1"/>
<use href="#sg" x="286.4" y="196.0"/>
<use href="#sg" x="292.1" y="194.9"/>
<use href="#sg" x="297.7" y="194.1"/>
<use href="#se" x="270.6" y="216.5"/>
<use href="#se" x="276.0" y="214.9"/>
<use href="#se" x="281.0" y="213.6"/>
<use href="#se" x="286.4" y="212.5"/>
<use href="#se" x="292.1" y="211.3"/>
<use href="#se" x="297.7" y="210.2"/>
</g>
<line x1="203" y1="173.6" x2="299" y2="173.6" stroke="#7a70a0" stroke-width="1.2"/>
<line x1="131" y1="148.4" x2="299" y2="148.4" stroke="#2a2a8a" stroke-width="1.2"/>
<g stroke="#fff" stroke-width="1.7" fill="none"><line x1="205.8" y1="32.4" x2="226.8" y2="32.4"/><line x1="205.8" y1="208.4" x2="226.8" y2="208.4"/><line x1="220.2" y1="37" x2="220.2" y2="204"/></g>
<path d="M220.2 33.3 L223.1 39.6 L217.3 39.6 Z M220.2 207.5 L223.1 201.6 L217.3 201.6 Z" fill="#fff"/>
<line x1="182.4" y1="148.3" x2="187.2" y2="154" stroke="#1a1a7a" stroke-width="1.1"/>
<path d="M189.4 156.6 L184.9 154.2 L187.9 151.6 Z" fill="#1a1a7a"/>
<line x1="159" y1="217" x2="159" y2="214" stroke="#d0d0e0" stroke-width="0.8"/>
<line x1="187" y1="217" x2="187" y2="214" stroke="#d0d0e0" stroke-width="0.8"/>
<line x1="215" y1="217" x2="215" y2="214" stroke="#d0d0e0" stroke-width="0.8"/>
<line x1="243" y1="217" x2="243" y2="214" stroke="#d0d0e0" stroke-width="0.8"/>
<line x1="271" y1="217" x2="271" y2="214" stroke="#d0d0e0" stroke-width="0.8"/>
</g>
<g shape-rendering="crispEdges">
<rect x="344" y="16" width="104" height="2" fill="url(#c0)"/>
<rect x="344" y="18" width="104" height="2" fill="url(#c1)"/>
<rect x="344" y="20" width="104" height="2" fill="url(#c2)"/>
<rect x="344" y="22" width="104" height="2" fill="url(#c3)"/>
<rect x="344" y="24" width="104" height="2" fill="url(#c4)"/>
<rect x="344" y="26" width="104" height="2" fill="url(#c5)"/>
<rect x="344" y="28" width="104" height="2" fill="url(#c6)"/>
<rect x="344" y="30" width="104" height="2" fill="url(#c7)"/>
<rect x="344" y="32" width="104" height="2" fill="url(#c8)"/>
<rect x="344" y="34" width="104" height="2" fill="url(#c9)"/>
<rect x="344" y="36" width="104" height="2" fill="url(#c10)"/>
<rect x="344" y="38" width="104" height="2" fill="url(#c11)"/>
<rect x="344" y="40" width="104" height="2" fill="url(#c12)"/>
<rect x="344" y="42" width="104" height="2" fill="url(#c13)"/>
<rect x="344" y="44" width="104" height="2" fill="url(#c14)"/>
<rect x="344" y="46" width="104" height="2" fill="url(#c15)"/>
<rect x="344" y="48" width="104" height="2" fill="url(#c16)"/>
<rect x="344" y="50" width="104" height="2" fill="url(#c17)"/>
<rect x="344" y="52" width="104" height="2" fill="url(#c18)"/>
<rect x="344" y="54" width="104" height="2" fill="url(#c19)"/>
<rect x="344" y="56" width="104" height="2" fill="url(#c20)"/>
<rect x="344" y="58" width="104" height="2" fill="url(#c21)"/>
<rect x="344" y="60" width="104" height="2" fill="url(#c22)"/>
<rect x="344" y="62" width="104" height="2" fill="url(#c23)"/>
<rect x="344" y="64" width="104" height="2" fill="url(#c24)"/>
<rect x="344" y="66" width="104" height="2" fill="url(#c25)"/>
<rect x="344" y="68" width="104" height="2" fill="url(#c26)"/>
<rect x="344" y="70" width="104" height="2" fill="url(#c27)"/>
<rect x="344" y="72" width="104" height="2" fill="url(#c28)"/>
<rect x="344" y="74" width="104" height="2" fill="url(#c29)"/>
<rect x="344" y="76" width="104" height="2" fill="url(#c30)"/>
<rect x="344" y="78" width="104" height="2" fill="url(#c31)"/>
<rect x="344" y="80" width="104" height="2" fill="url(#c32)"/>
<rect x="344" y="82" width="104" height="2" fill="url(#c33)"/>
<rect x="344" y="84" width="104" height="2" fill="url(#c34)"/>
<rect x="344" y="86" width="104" height="2" fill="url(#c35)"/>
<rect x="344" y="88" width="104" height="2" fill="url(#c36)"/>
<rect x="344" y="90" width="104" height="2" fill="url(#c37)"/>
<rect x="344" y="92" width="104" height="2" fill="url(#c38)"/>
<rect x="344" y="94" width="104" height="2" fill="url(#c39)"/>
<rect x="344" y="96" width="104" height="2" fill="url(#c40)"/>
<rect x="344" y="98" width="104" height="2" fill="url(#c41)"/>
<rect x="344" y="100" width="104" height="2" fill="url(#c42)"/>
<rect x="344" y="102" width="104" height="2" fill="url(#c43)"/>
<rect x="344" y="104" width="104" height="2" fill="url(#c44)"/>
<rect x="344" y="106" width="104" height="2" fill="url(#c45)"/>
<rect x="344" y="108" width="104" height="2" fill="url(#c46)"/>
<rect x="344" y="110" width="104" height="2" fill="url(#c47)"/>
<rect x="344" y="112" width="104" height="2" fill="url(#c48)"/>
<rect x="344" y="114" width="104" height="2" fill="url(#c49)"/>
<rect x="344" y="116" width="104" height="2" fill="url(#c50)"/>
<rect x="344" y="118" width="104" height="2" fill="url(#c51)"/>
<rect x="344" y="120" width="104" height="2" fill="url(#c52)"/>
<rect x="344" y="122" width="104" height="2" fill="url(#c53)"/>
<rect x="344" y="124" width="104" height="2" fill="url(#c54)"/>
<rect x="344" y="126" width="104" height="2" fill="url(#c55)"/>
<rect x="344" y="128" width="104" height="2" fill="url(#c56)"/>
<rect x="344" y="130" width="104" height="2" fill="url(#c57)"/>
<rect x="344" y="132" width="104" height="2" fill="url(#c58)"/>
<rect x="344" y="134" width="104" height="2" fill="url(#c59)"/>
<rect x="344" y="136" width="104" height="2" fill="url(#c60)"/>
<rect x="344" y="138" width="104" height="2" fill="url(#c61)"/>
<rect x="344" y="140" width="104" height="2" fill="url(#c62)"/>
<rect x="344" y="142" width="104" height="2" fill="url(#c63)"/>
<rect x="344" y="144" width="104" height="2" fill="url(#c64)"/>
<rect x="344" y="146" width="104" height="2" fill="url(#c65)"/>
<rect x="344" y="148" width="104" height="2" fill="url(#c66)"/>
<rect x="344" y="150" width="104" height="2" fill="url(#c67)"/>
<rect x="344" y="152" width="104" height="2" fill="url(#c68)"/>
<rect x="344" y="154" width="104" height="2" fill="url(#c69)"/>
<rect x="344" y="156" width="104" height="2" fill="url(#c70)"/>
<rect x="344" y="158" width="104" height="2" fill="url(#c71)"/>
<rect x="344" y="160" width="104" height="2" fill="url(#c72)"/>
<rect x="344" y="162" width="104" height="2" fill="url(#c73)"/>
<rect x="344" y="164" width="104" height="2" fill="url(#c74)"/>
<rect x="344" y="166" width="104" height="2" fill="url(#c75)"/>
<rect x="344" y="168" width="104" height="2" fill="url(#c76)"/>
<rect x="344" y="170" width="104" height="2" fill="url(#c77)"/>
<rect x="344" y="172" width="104" height="2" fill="url(#c78)"/>
<rect x="344" y="174" width="104" height="2" fill="url(#c79)"/>
<rect x="344" y="176" width="104" height="2" fill="url(#c80)"/>
<rect x="344" y="178" width="104" height="2" fill="url(#c81)"/>
<rect x="344" y="180" width="104" height="2" fill="url(#c82)"/>
<rect x="344" y="182" width="104" height="2" fill="url(#c83)"/>
<rect x="344" y="184" width="104" height="2" fill="url(#c84)"/>
<rect x="344" y="186" width="104" height="2" fill="url(#c85)"/>
<rect x="344" y="188" width="104" height="1" fill="url(#c86)"/>
<rect x="344" y="189" width="104" height="1" fill="url(#c87)"/>
<rect x="344" y="190" width="104" height="1" fill="url(#c88)"/>
<rect x="344" y="191" width="104" height="1" fill="url(#c89)"/>
<rect x="344" y="192" width="104" height="1" fill="url(#c90)"/>
<rect x="344" y="193" width="104" height="1" fill="url(#c91)"/>
<rect x="344" y="194" width="104" height="1" fill="url(#c92)"/>
<rect x="344" y="195" width="104" height="1" fill="url(#c93)"/>
<rect x="344" y="196" width="104" height="1" fill="url(#c94)"/>
<rect x="344" y="197" width="104" height="1" fill="url(#c95)"/>
<rect x="344" y="198" width="104" height="1" fill="url(#c96)"/>
<rect x="344" y="199" width="104" height="1" fill="url(#c97)"/>
<rect x="344" y="200" width="104" height="1" fill="#0000f0"/>
<rect x="344" y="201" width="104" height="1" fill="#0000c9"/>
<rect x="344" y="202" width="104" height="1" fill="#0000b8"/>
<rect x="344" y="203" width="104" height="1" fill="#0000a7"/>
<rect x="344" y="204" width="104" height="1" fill="#00009e"/>
<rect x="344" y="205" width="104" height="1" fill="#00009d"/>
<rect x="344" y="206" width="104" height="1" fill="#00009c"/>
<rect x="344" y="207" width="104" height="1" fill="#00009b"/>
<rect x="344" y="208" width="104" height="1" fill="#00009a"/>
<rect x="344" y="209" width="104" height="1" fill="#000099"/>
<rect x="344" y="210" width="104" height="1" fill="#000099"/>
<rect x="344" y="211" width="104" height="1" fill="#000098"/>
<rect x="344" y="212" width="104" height="1" fill="#000097"/>
<rect x="344" y="213" width="104" height="1" fill="#000096"/>
<rect x="344" y="214" width="104" height="1" fill="#000095"/>
<rect x="344" y="215" width="104" height="1" fill="#000094"/>
</g>
<line x1="417" y1="16" x2="417" y2="200" stroke="#34346e" stroke-width="1.2"/>
<line x1="368.4" y1="216" x2="368.4" y2="213" stroke="#c8c8d8" stroke-width="0.8"/>
<line x1="392.8" y1="216" x2="392.8" y2="213" stroke="#c8c8d8" stroke-width="0.8"/>
<line x1="417.3" y1="216" x2="417.3" y2="213" stroke="#c8c8d8" stroke-width="0.8"/>
<line x1="441.5" y1="216" x2="441.5" y2="213" stroke="#c8c8d8" stroke-width="0.8"/>
<line x1="417" y1="170.6" x2="425" y2="171" stroke="#14148a" stroke-width="1.1"/>
<path d="M424.3 169.3 L428.6 171.1 L424.3 172.7 Z" fill="#14148a"/>
<text x="88" y="8.7" font-size="13" fill="#111" stroke="#111" stroke-width="0.22">(b)</text>
<text x="126.6" y="21.5" font-size="13.8" text-anchor="end" fill="#111" stroke="#111" stroke-width="0.22">3.0</text>
<text x="126.6" y="57" font-size="13.8" text-anchor="end" fill="#111" stroke="#111" stroke-width="0.22">2.7</text>
<text x="126.6" y="96.9" font-size="13.8" text-anchor="end" fill="#111" stroke="#111" stroke-width="0.22">2.4</text>
<text x="126.6" y="138.2" font-size="13.8" text-anchor="end" fill="#111" stroke="#111" stroke-width="0.22">2.1</text>
<text x="126.6" y="181.8" font-size="13.8" text-anchor="end" fill="#111" stroke="#111" stroke-width="0.22">1.8</text>
<text x="126.6" y="221.3" font-size="13.8" text-anchor="end" fill="#111" stroke="#111" stroke-width="0.22">1.5</text>
<text x="130" y="234.2" font-size="13.8" text-anchor="middle" fill="#111" stroke="#111" stroke-width="0.22">1.0</text>
<text x="186.5" y="234.2" font-size="13.8" text-anchor="middle" fill="#111" stroke="#111" stroke-width="0.22">1.4</text>
<text x="244" y="234.2" font-size="13.8" text-anchor="middle" fill="#111" stroke="#111" stroke-width="0.22">1.8</text>
<text x="299.5" y="234.2" font-size="13.8" text-anchor="middle" fill="#111" stroke="#111" stroke-width="0.22">2.2</text>
<text x="230.8" y="249.1" font-size="13.8" text-anchor="middle" textLength="118" lengthAdjust="spacingAndGlyphs" fill="#111" stroke="#111" stroke-width="0.22">Core diameter (µm)</text>
<text transform="translate(99.0 123.8) rotate(-90)" font-size="13.8" text-anchor="middle" fill="#111" stroke="#111" stroke-width="0.22">λs (µm)</text>
<text x="221.6" y="110.9" font-size="10.6" textLength="39.5" lengthAdjust="spacingAndGlyphs" fill="#fff" stroke="#fff" stroke-width="0.22">1255 nm</text>
<text x="191.4" y="163" font-size="10.4" fill="#1a1a7a" stroke="#1a1a7a" stroke-width="0.22">λp</text>
<text x="308.6" y="8.7" font-size="12.8" fill="#111" stroke="#111" stroke-width="0.22">(c)</text>
<text x="340.3" y="22.6" font-size="13.8" text-anchor="end" fill="#111" stroke="#111" stroke-width="0.22">10</text>
<text x="338.2" y="61.2" font-size="13.8" text-anchor="end" fill="#111" stroke="#111" stroke-width="0.22">8</text>
<text x="337.9" y="101.4" font-size="13.8" text-anchor="end" fill="#111" stroke="#111" stroke-width="0.22">6</text>
<text x="337.9" y="141.7" font-size="13.8" text-anchor="end" fill="#111" stroke="#111" stroke-width="0.22">4</text>
<text x="338.3" y="181.8" font-size="13.8" text-anchor="end" fill="#111" stroke="#111" stroke-width="0.22">2</text>
<text x="340.6" y="222.1" font-size="13.8" text-anchor="end" fill="#111" stroke="#111" stroke-width="0.22">0</text>
<text x="342.1" y="233.7" font-size="13.8" text-anchor="middle" fill="#111" stroke="#111" stroke-width="0.22">1.7</text>
<text x="392.8" y="233.7" font-size="13.8" text-anchor="middle" fill="#111" stroke="#111" stroke-width="0.22">1.9</text>
<text x="441" y="233.7" font-size="13.8" text-anchor="middle" fill="#111" stroke="#111" stroke-width="0.22">2.1</text>
<text x="401" y="248.4" font-size="13.8" fill="#111" stroke="#111" stroke-width="0.22">λ<tspan font-size="10">s</tspan> (µm)</text>
<text transform="translate(320.4 116.3) rotate(-90)" font-size="13.8" text-anchor="middle" fill="#111" stroke="#111" stroke-width="0.22">Length (cm)</text>
<text x="429.2" y="175.9" font-size="9.6" fill="#14148a" stroke="#14148a" stroke-width="0.22">λp</text>
</svg></body></html>
